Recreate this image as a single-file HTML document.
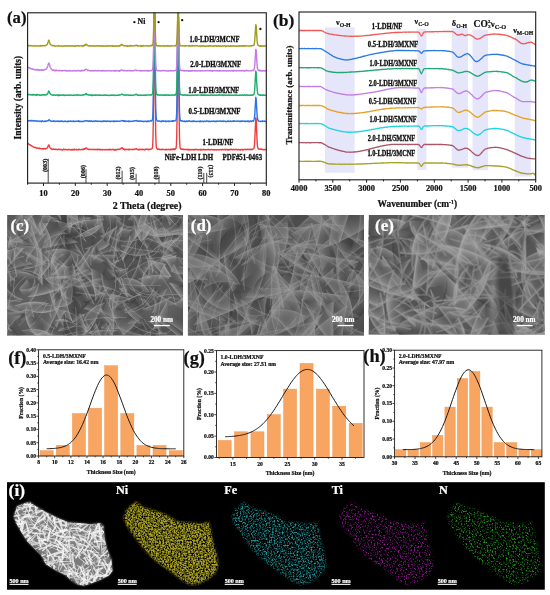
<!DOCTYPE html>
<html><head><meta charset="utf-8"><title>Figure</title>
<style>html,body{margin:0;padding:0;background:#fff;}svg{display:block;}text{font-family:'Liberation Serif','Times New Roman',serif;stroke:#111;stroke-width:0.22px;}text.w{stroke:#fff;}</style>
</head><body>
<svg width="550" height="595" viewBox="0 0 550 595">
<defs><linearGradient id="g1" x1="0" y1="0" x2="0" y2="1"><stop offset="0" stop-color="#c8c8c8" stop-opacity="0.7"/><stop offset="0.3" stop-color="#a0a0a0" stop-opacity="0.42"/><stop offset="1" stop-color="#888" stop-opacity="0.0"/></linearGradient><linearGradient id="g2" x1="0" y1="0" x2="0" y2="1"><stop offset="0" stop-color="#bababa" stop-opacity="0.62"/><stop offset="0.3" stop-color="#989898" stop-opacity="0.38"/><stop offset="1" stop-color="#808080" stop-opacity="0.0"/></linearGradient><linearGradient id="g3" x1="0" y1="0" x2="0" y2="1"><stop offset="0" stop-color="#b0b0b0" stop-opacity="0.6"/><stop offset="0.4" stop-color="#909090" stop-opacity="0.35"/><stop offset="1" stop-color="#787878" stop-opacity="0.0"/></linearGradient><linearGradient id="g4" x1="0" y1="0" x2="0" y2="1"><stop offset="0" stop-color="#404040" stop-opacity="0.0"/><stop offset="0.6" stop-color="#505050" stop-opacity="0.3"/><stop offset="1" stop-color="#303030" stop-opacity="0.5"/></linearGradient>
<filter id="sblur" x="-20%" y="-20%" width="140%" height="140%"><feGaussianBlur stdDeviation="6"/></filter>
<filter id="lblur" x="-5%" y="-5%" width="110%" height="110%"><feGaussianBlur stdDeviation="0.35"/></filter>
<filter id="fblur" x="-5%" y="-5%" width="110%" height="110%"><feGaussianBlur stdDeviation="0.6"/></filter>
<filter id="fblur3" x="-5%" y="-5%" width="110%" height="110%"><feGaussianBlur stdDeviation="1.1"/></filter>
<filter id="fblur4" x="-5%" y="-5%" width="110%" height="110%"><feGaussianBlur stdDeviation="0.9"/></filter>
<filter id="fblur2" x="-20%" y="-20%" width="140%" height="140%"><feGaussianBlur stdDeviation="2"/></filter>
<filter id="mblur" x="-10%" y="-10%" width="120%" height="120%"><feGaussianBlur stdDeviation="1.3"/></filter>
<filter id="glow" x="-10%" y="-10%" width="120%" height="120%"><feGaussianBlur stdDeviation="1.2"/></filter>
<filter id="semnoise" x="0" y="0" width="1" height="1"><feTurbulence type="fractalNoise" baseFrequency="0.08" numOctaves="3" seed="4"/><feColorMatrix type="matrix" values="0 0 0 0 1  0 0 0 0 1  0 0 0 0 1  1.2 0 0 0 -0.45"/></filter>
<filter id="nNi" x="0" y="0" width="1" height="1"><feTurbulence type="fractalNoise" baseFrequency="0.62" numOctaves="3" seed="3" result="n"/><feColorMatrix in="n" type="matrix" values="0 0 0 0 0  0 0 0 0 0  0 0 0 0 0  2.6 0 0 0 -0.7" result="a"/><feGaussianBlur in="a" stdDeviation="0.35" result="b"/><feComposite in="SourceGraphic" in2="b" operator="in"/></filter><filter id="nFe" x="0" y="0" width="1" height="1"><feTurbulence type="fractalNoise" baseFrequency="0.62" numOctaves="3" seed="8" result="n"/><feColorMatrix in="n" type="matrix" values="0 0 0 0 0  0 0 0 0 0  0 0 0 0 0  3 0 0 0 -1.3" result="a"/><feGaussianBlur in="a" stdDeviation="0.35" result="b"/><feComposite in="SourceGraphic" in2="b" operator="in"/></filter><filter id="nTi" x="0" y="0" width="1" height="1"><feTurbulence type="fractalNoise" baseFrequency="0.62" numOctaves="3" seed="12" result="n"/><feColorMatrix in="n" type="matrix" values="0 0 0 0 0  0 0 0 0 0  0 0 0 0 0  3.4 0 0 0 -1.7" result="a"/><feGaussianBlur in="a" stdDeviation="0.35" result="b"/><feComposite in="SourceGraphic" in2="b" operator="in"/></filter><filter id="nN" x="0" y="0" width="1" height="1"><feTurbulence type="fractalNoise" baseFrequency="0.62" numOctaves="3" seed="17" result="n"/><feColorMatrix in="n" type="matrix" values="0 0 0 0 0  0 0 0 0 0  0 0 0 0 0  3.4 0 0 0 -1.7" result="a"/><feGaussianBlur in="a" stdDeviation="0.35" result="b"/><feComposite in="SourceGraphic" in2="b" operator="in"/></filter></defs>
<rect width="550" height="595" fill="#fff"/>
<clipPath id="ca"><rect x="27.6" y="12.8" width="238.70000000000002" height="170.29999999999998"/></clipPath>
<polyline points="27.6,143.1 28,143.3 28.3,143.8 28.7,144.2 29,144.4 29.4,144.7 29.7,144.8 30.1,144.7 30.4,145.3 30.8,145.6 31.1,145.5 31.5,145.8 31.8,146 32.2,146.4 32.5,146.4 32.9,146.4 33.2,146.9 33.6,146.9 33.9,147.3 34.3,147.3 34.6,147.6 35,147.4 35.3,147.7 35.7,147.5 36,147.6 36.4,147.7 36.7,148.3 37.1,148 37.4,148 37.8,148 38.1,148.4 38.5,148.3 38.8,148.4 39.2,148.5 39.5,148.1 39.9,148.6 40.2,148.5 40.6,148.3 40.9,148.7 41.3,148.6 41.6,148.6 42,148.7 42.3,149 42.7,148.7 43,148.5 43.4,149.1 43.7,148.6 44.1,148.8 44.4,148.9 44.8,148.4 45.1,148.6 45.5,149 45.8,148.7 46.2,148.5 46.5,148.5 46.9,148.2 47.2,148 47.6,147.4 47.9,146.5 48.3,146 48.6,144.9 49,145 49.3,145.7 49.7,147 50,147.7 50.4,148.1 50.7,148.3 51.1,148.4 51.4,149.1 51.8,149.1 52.1,148.9 52.5,149.5 52.8,149.3 53.2,149.2 53.5,149 53.9,149.1 54.2,149.4 54.6,149.4 54.9,149.4 55.3,149.1 55.6,149.5 56,149.5 56.3,149.3 56.7,149.5 57,149.5 57.4,149.7 57.7,149.5 58.1,149.6 58.4,149.2 58.8,149.3 59.1,149.5 59.5,149.3 59.8,149.6 60.2,149.3 60.5,149.5 60.9,149.4 61.2,149.8 61.6,149.4 61.9,149.9 62.3,150 62.6,149.6 63,149.7 63.3,149.5 63.7,149.1 64,149.7 64.4,149.7 64.7,149.5 65.1,149.4 65.4,149.6 65.8,149.6 66.1,149.4 66.5,149.4 66.8,149.8 67.2,149.6 67.5,149.6 67.9,149.8 68.2,149.5 68.6,149.7 68.9,149.4 69.3,149.5 69.6,149.5 70,149.7 70.3,149.6 70.7,150 71,149.8 71.4,149.5 71.7,150 72.1,149.4 72.4,149.9 72.8,149.4 73.1,149.7 73.5,149.4 73.8,149.5 74.2,149.9 74.5,149.3 74.9,149.3 75.2,149.6 75.6,149.6 75.9,149.6 76.3,149.8 76.6,149.3 77,149.7 77.3,149.6 77.7,149.7 78,149.7 78.4,149.8 78.7,149.3 79.1,149.6 79.4,149.3 79.8,149.5 80.1,149.7 80.5,149.6 80.8,149.6 81.2,149.5 81.5,149.6 81.9,149.5 82.2,149.7 82.6,149.6 82.9,149 83.3,149.5 83.6,149.5 84,149.1 84.3,148.8 84.7,149.2 85,148.7 85.4,148.5 85.7,148.5 86.1,147.8 86.4,148.2 86.8,148.4 87.1,148.9 87.5,148.8 87.8,149.2 88.2,149.2 88.5,149.5 88.9,149.6 89.2,149.1 89.6,149.5 89.9,149.4 90.3,149.5 90.6,149.6 91,149.6 91.3,149.4 91.7,149.6 92,149.6 92.4,149.5 92.7,149.3 93.1,149.4 93.4,149.5 93.8,149.7 94.1,149.8 94.5,149.4 94.8,149.4 95.2,149.6 95.5,149.5 95.9,149.4 96.2,149.4 96.6,149.4 96.9,149.7 97.3,149.3 97.6,149.8 98,149.4 98.3,149.5 98.7,149.4 99,149.2 99.4,149.3 99.7,149.8 100.1,149.9 100.4,149.4 100.8,149.8 101.1,149.6 101.5,149.4 101.8,149.9 102.2,150 102.5,149.5 102.9,149.6 103.2,149.6 103.6,149.6 103.9,149.8 104.3,149.9 104.6,149.6 105,149.8 105.3,149.9 105.7,149.5 106,149.6 106.4,149.5 106.7,149.8 107.1,149.7 107.4,149.8 107.8,149.8 108.1,149.5 108.5,149.7 108.8,149.5 109.2,149.5 109.5,149.2 109.9,149.9 110.2,149.4 110.6,149.6 110.9,149.6 111.3,149.9 111.6,149.7 112,149.4 112.3,149.6 112.7,149.5 113,149.6 113.4,149.3 113.7,149.6 114.1,150 114.4,149.7 114.8,150 115.1,150.2 115.5,149.7 115.8,149.3 116.2,149.5 116.5,149.8 116.9,149.7 117.2,149.3 117.6,149.5 117.9,149.5 118.3,149.5 118.6,149.4 119,149.2 119.3,149.2 119.7,149.2 120,149.3 120.4,148.8 120.7,148.8 121.1,148.1 121.4,148.1 121.8,147.6 122.1,147.8 122.5,148.5 122.8,148.2 123.2,148.6 123.5,149.2 123.9,149 124.2,149.2 124.6,149.9 124.9,149.3 125.3,149.4 125.6,149.4 126,149.7 126.3,149.5 126.7,149.5 127,149.3 127.4,149.4 127.7,149.5 128.1,149.2 128.4,149.6 128.8,149.6 129.1,149.9 129.5,149.2 129.8,149.3 130.2,149.3 130.5,149.4 130.9,149.5 131.2,149.5 131.6,149.6 131.9,149.6 132.3,149.5 132.6,149.2 133,149.4 133.3,149.5 133.7,149.6 134,149.5 134.4,149 134.7,149.2 135.1,149.1 135.4,149.1 135.8,149 136.1,148.8 136.5,148.7 136.8,149.2 137.2,149.3 137.5,149.4 137.9,149.4 138.2,149.8 138.6,149.5 138.9,149.7 139.3,149.3 139.6,149.7 140,149.4 140.3,149.2 140.7,149.6 141,149.7 141.4,149.5 141.7,149.5 142.1,149.7 142.4,149.4 142.8,149.1 143.1,149.6 143.5,149.6 143.8,149.7 144.2,149.5 144.5,149.8 144.9,149.8 145.2,149.2 145.6,149.7 145.9,149.3 146.3,149.2 146.6,149.4 147,149.4 147.3,149.1 147.7,149.5 148,149.6 148.4,149.7 148.7,149.4 149.1,149.1 149.4,149.2 149.8,149.5 150.1,149.5 150.5,149.4 150.8,149.1 151.2,149.1 151.5,148.9 151.9,148.7 152.2,148.4 152.6,146.7 152.9,140.8 153.3,124.3 153.6,90.3 154,43.5 154.3,8.3 154.7,19.8 155,64.7 155.4,107.1 155.7,133.7 156.1,144.5 156.4,147.5 156.8,148.4 157.1,148.9 157.5,149.4 157.8,149.2 158.2,149.3 158.5,149.1 158.9,148.8 159.2,149.3 159.6,149.5 159.9,149.6 160.3,149.4 160.6,149.5 161,149.7 161.3,149.4 161.7,149.7 162,149.2 162.4,149.3 162.7,149.3 163.1,149.6 163.4,149.4 163.8,149.5 164.1,149.6 164.5,149.6 164.8,149.8 165.2,149.8 165.5,149.4 165.9,149.6 166.2,149.5 166.6,149.3 166.9,149.9 167.3,149.7 167.6,149.5 168,149.4 168.3,149.6 168.7,149.3 169,149.5 169.4,149.8 169.7,149.7 170.1,149.3 170.4,149.4 170.8,149.9 171.1,149.2 171.5,149.3 171.8,149.2 172.2,149.5 172.5,149.5 172.9,149.6 173.2,148.8 173.6,149.4 173.9,148.9 174.3,149.4 174.6,149.1 175,149.4 175.3,149 175.7,148.5 176,148.3 176.4,145.5 176.7,137.5 177.1,116.7 177.4,77.9 177.8,31.1 178.1,6 178.5,31.2 178.8,78 179.2,116.6 179.5,137.8 179.9,146 180.2,148.1 180.6,148.5 180.9,149.2 181.3,149.1 181.6,149.3 182,149.4 182.3,149.1 182.7,149.4 183,149.1 183.4,149.6 183.7,149.3 184.1,149.5 184.4,149.6 184.8,149.3 185.1,149.5 185.5,149.4 185.8,149.5 186.2,149.7 186.5,149.5 186.9,149.5 187.2,149.3 187.6,149.7 187.9,149.5 188.3,149.9 188.6,149.4 189,149.8 189.3,149.9 189.7,149.6 190,149.3 190.4,149.9 190.7,149.8 191.1,149.7 191.4,149.8 191.8,149.5 192.1,149.7 192.5,149.7 192.8,149.4 193.2,149.7 193.5,149.5 193.9,149.8 194.2,149.8 194.6,150 194.9,149.2 195.3,149.6 195.6,149.5 196,149.6 196.3,149.5 196.7,149.6 197,149.2 197.4,149.8 197.7,149.9 198.1,149.8 198.4,149.9 198.8,149.4 199.1,149.4 199.5,149.8 199.8,149.9 200.2,149.7 200.5,149.3 200.9,150.2 201.2,149.5 201.6,149.8 201.9,149.4 202.3,149.8 202.6,149.6 203,149.9 203.3,149.8 203.7,149.3 204,149.4 204.4,149.7 204.7,149.8 205.1,150 205.4,149.7 205.8,149.6 206.1,149.6 206.5,149.6 206.8,149.8 207.2,149.6 207.5,149.6 207.9,149.3 208.2,149.2 208.6,149.6 208.9,149.8 209.3,149.6 209.6,149.7 210,149.7 210.3,149.6 210.7,149.8 211,149.5 211.4,149.6 211.7,149.5 212.1,149.6 212.4,149.7 212.8,149.8 213.1,149.6 213.5,149.7 213.8,149.5 214.2,149.6 214.5,149.9 214.9,149.6 215.2,149.9 215.6,149.7 215.9,149.7 216.3,150 216.6,149.6 217,149.6 217.3,149.6 217.7,149.7 218,149.7 218.4,149.8 218.7,149.6 219.1,149.7 219.4,149.6 219.8,149.8 220.1,149.5 220.5,149.6 220.8,149.6 221.2,149.7 221.5,149.5 221.9,149.9 222.2,149.5 222.6,149.5 222.9,149.5 223.3,149.5 223.6,149.7 224,149.6 224.3,149.5 224.7,149.5 225,149.5 225.4,149.9 225.7,149.5 226.1,149.3 226.4,149.4 226.8,149.5 227.1,149.9 227.5,149.4 227.8,149.6 228.2,150.1 228.5,149.5 228.9,149.9 229.2,149.9 229.6,149.7 229.9,149.3 230.3,149.7 230.6,149.5 231,149.2 231.3,149.3 231.7,149.6 232,149.6 232.4,149.9 232.7,149.7 233.1,149.5 233.4,149.5 233.8,149.6 234.1,149.4 234.5,149.8 234.8,149.6 235.2,149.4 235.5,149.5 235.9,149.4 236.2,149.5 236.6,149.7 236.9,149.5 237.3,149.8 237.6,149.9 238,149.5 238.3,149.6 238.7,149.5 239,149.9 239.4,149.7 239.7,149.7 240.1,149.8 240.4,150.1 240.8,149.6 241.1,149.4 241.5,149.5 241.8,149.7 242.2,149.6 242.5,149.4 242.9,150.2 243.2,149.6 243.6,149.5 243.9,149.4 244.3,149.2 244.6,149.3 245,149.5 245.3,149.5 245.7,149.4 246,149.7 246.4,149.6 246.7,149.4 247.1,149.1 247.4,149.6 247.8,149.5 248.1,149.5 248.5,149.2 248.8,149.5 249.2,149.2 249.5,149.7 249.9,149.5 250.2,149.5 250.6,149.3 250.9,149.2 251.3,149.7 251.6,149.6 252,149.3 252.3,149.4 252.7,149.5 253,148.9 253.4,148.9 253.7,148.5 254.1,147.9 254.4,145.3 254.8,140.8 255.1,132.6 255.5,123.7 255.8,117.6 256.2,119.2 256.5,127.6 256.9,136.4 257.2,143.1 257.6,146.9 257.9,148.2 258.3,148.9 258.6,148.9 259,149.3 259.3,149.3 259.7,149.1 260,148.9 260.4,149 260.7,149.4 261.1,149.4 261.4,149.1 261.8,149.5 262.1,149.7 262.5,149.5 262.8,149.4 263.2,149.7 263.5,149.9 263.9,149.8 264.2,149.4 264.6,149.7 264.9,149.6 265.3,149.5 265.6,149.4 266,149.6 266.3,149.5" fill="none" stroke="#f23c3c" stroke-width="1.4" stroke-linejoin="round" clip-path="url(#ca)"/>
<polyline points="27.6,120.7 28,120.6 28.3,120.8 28.7,120.4 29,120.6 29.4,120.8 29.7,120.8 30.1,120.8 30.4,120.6 30.8,121.1 31.1,121 31.5,120.9 31.8,120.3 32.2,120.7 32.5,120.9 32.9,120.8 33.2,120.5 33.6,121 33.9,121 34.3,120.7 34.6,120.9 35,120.9 35.3,121.1 35.7,120.6 36,120.7 36.4,120.9 36.7,120.9 37.1,121.5 37.4,121 37.8,121.1 38.1,121 38.5,121 38.8,121.2 39.2,121.5 39.5,121.1 39.9,121.3 40.2,121.2 40.6,121.3 40.9,121.2 41.3,121.7 41.6,120.9 42,121.1 42.3,120.9 42.7,120.8 43,121.2 43.4,121.6 43.7,121.4 44.1,121.4 44.4,121.3 44.8,121.1 45.1,121.6 45.5,121.1 45.8,121.4 46.2,121 46.5,121.1 46.9,121.1 47.2,120.9 47.6,120.9 47.9,120.7 48.3,120.7 48.6,120.1 49,119.7 49.3,119.9 49.7,120.3 50,120.6 50.4,121.1 50.7,120.7 51.1,121.1 51.4,121.1 51.8,121.2 52.1,121.2 52.5,121.3 52.8,121.2 53.2,121.4 53.5,121.3 53.9,120.8 54.2,121.3 54.6,121.3 54.9,121.1 55.3,121.1 55.6,121.5 56,121.3 56.3,121.1 56.7,121.2 57,121.2 57.4,120.9 57.7,121.4 58.1,121.3 58.4,121.4 58.8,121 59.1,121.7 59.5,121.4 59.8,121.4 60.2,121.1 60.5,121.2 60.9,121 61.2,121.6 61.6,121.1 61.9,121.3 62.3,121.4 62.6,121.2 63,121.5 63.3,121.7 63.7,121.4 64,121.6 64.4,121.4 64.7,121.2 65.1,121.2 65.4,121 65.8,121.3 66.1,121.6 66.5,121.4 66.8,121.5 67.2,121.5 67.5,121.2 67.9,121.4 68.2,121.7 68.6,121.1 68.9,121.3 69.3,121.2 69.6,121.3 70,121.2 70.3,121.3 70.7,121 71,121.2 71.4,121.2 71.7,121.2 72.1,121.6 72.4,121.3 72.8,121.3 73.1,121.2 73.5,121.6 73.8,120.9 74.2,121.3 74.5,121.5 74.9,121.6 75.2,121.3 75.6,121.3 75.9,121.4 76.3,121.3 76.6,121.4 77,121.2 77.3,121.4 77.7,121.3 78,121.1 78.4,120.7 78.7,121.5 79.1,121.4 79.4,121.5 79.8,121.1 80.1,121.5 80.5,121.4 80.8,121.3 81.2,121.5 81.5,121.5 81.9,121.4 82.2,121.7 82.6,121.5 82.9,121.3 83.3,121.2 83.6,121.2 84,121.5 84.3,121.2 84.7,120.9 85,120.8 85.4,120.8 85.7,120.9 86.1,120.6 86.4,120.9 86.8,121.1 87.1,121.1 87.5,120.7 87.8,121.1 88.2,120.9 88.5,121.3 88.9,121 89.2,121.3 89.6,121.3 89.9,120.7 90.3,121.1 90.6,121.4 91,121.3 91.3,121.2 91.7,121 92,121.4 92.4,121.6 92.7,121.3 93.1,121.3 93.4,121.3 93.8,121 94.1,121.2 94.5,121.1 94.8,121.5 95.2,121.1 95.5,120.8 95.9,121.1 96.2,121.2 96.6,121.3 96.9,120.9 97.3,121.5 97.6,121.3 98,121.2 98.3,121.1 98.7,121.4 99,121.2 99.4,121.3 99.7,121.3 100.1,121.3 100.4,121.5 100.8,121.3 101.1,121.1 101.5,121.5 101.8,121.3 102.2,121.2 102.5,121.5 102.9,121.3 103.2,121.5 103.6,121.1 103.9,120.8 104.3,120.9 104.6,121.3 105,121.1 105.3,121.3 105.7,121.3 106,121 106.4,121.6 106.7,121.1 107.1,121.3 107.4,121 107.8,121.3 108.1,121.4 108.5,121.2 108.8,121.1 109.2,121.3 109.5,121.2 109.9,121.4 110.2,121.7 110.6,121.1 110.9,121.1 111.3,121.3 111.6,121.3 112,121.1 112.3,121.4 112.7,121.4 113,121.3 113.4,121 113.7,121.6 114.1,121 114.4,121.4 114.8,121.5 115.1,121 115.5,121.3 115.8,121.5 116.2,121.3 116.5,121.1 116.9,121 117.2,121.4 117.6,121.2 117.9,121.1 118.3,121.4 118.6,121.2 119,121.2 119.3,121.3 119.7,121.3 120,121.1 120.4,121.1 120.7,121.1 121.1,121 121.4,120.5 121.8,120.6 122.1,120.6 122.5,120.6 122.8,120.9 123.2,120.6 123.5,121.3 123.9,121 124.2,121.3 124.6,120.8 124.9,120.9 125.3,121.6 125.6,121.4 126,121.1 126.3,121.1 126.7,121.1 127,121.3 127.4,121.2 127.7,121.1 128.1,121.3 128.4,121 128.8,121.7 129.1,121.1 129.5,121.5 129.8,121.1 130.2,121.3 130.5,121.4 130.9,121.2 131.2,121.4 131.6,121.4 131.9,121.6 132.3,121.2 132.6,121.1 133,121 133.3,121.2 133.7,120.9 134,121.1 134.4,121.1 134.7,120.9 135.1,120.6 135.4,120.8 135.8,120.6 136.1,120.5 136.5,120.6 136.8,121 137.2,120.7 137.5,121.1 137.9,121 138.2,121.3 138.6,121.1 138.9,121.1 139.3,121.3 139.6,120.8 140,121.1 140.3,120.9 140.7,121 141,121.4 141.4,121.3 141.7,121.2 142.1,121.2 142.4,121.2 142.8,121.3 143.1,121.6 143.5,121.3 143.8,121.7 144.2,121.2 144.5,121.4 144.9,121.4 145.2,121.3 145.6,121.2 145.9,121.5 146.3,121.6 146.6,121.4 147,121.6 147.3,121.4 147.7,120.9 148,121.4 148.4,121 148.7,121.4 149.1,121.1 149.4,121.2 149.8,121.1 150.1,120.9 150.5,120.6 150.8,120.9 151.2,120.9 151.5,121 151.9,120.5 152.2,120.3 152.6,118.8 152.9,114.3 153.3,100.6 153.6,74.2 154,36.5 154.3,7.7 154.7,17.2 155,53 155.4,87.3 155.7,108.5 156.1,117 156.4,119.2 156.8,120.2 157.1,120.9 157.5,121 157.8,121 158.2,120.8 158.5,121.2 158.9,121.2 159.2,120.9 159.6,120.9 159.9,121.2 160.3,121.4 160.6,121.5 161,121.3 161.3,121.7 161.7,121 162,121.3 162.4,121.1 162.7,120.8 163.1,121 163.4,121.5 163.8,121 164.1,121 164.5,121.4 164.8,121.4 165.2,121.3 165.5,121.6 165.9,120.9 166.2,121.7 166.6,121.5 166.9,121.3 167.3,121.3 167.6,121.2 168,121.2 168.3,121.3 168.7,121 169,121.7 169.4,121.2 169.7,121.4 170.1,121.2 170.4,121.2 170.8,121.4 171.1,121.3 171.5,121 171.8,121.1 172.2,121.3 172.5,120.7 172.9,120.6 173.2,121.4 173.6,121 173.9,120.5 174.3,120.8 174.6,120.9 175,120.9 175.3,120.9 175.7,120.6 176,120.2 176.4,118 176.7,111.8 177.1,94.8 177.4,63.9 177.8,26.1 178.1,6.2 178.5,26.2 178.8,63.4 179.2,94.7 179.5,111.6 179.9,118.1 180.2,120 180.6,120.6 180.9,120.8 181.3,120.7 181.6,121.2 182,120.7 182.3,121 182.7,121.2 183,121.2 183.4,121.3 183.7,121.1 184.1,121.3 184.4,120.9 184.8,121.4 185.1,121.7 185.5,121.4 185.8,121.6 186.2,121.2 186.5,121 186.9,121.1 187.2,121.5 187.6,121.4 187.9,120.9 188.3,121.2 188.6,121.3 189,121 189.3,120.7 189.7,121 190,121.2 190.4,121.2 190.7,121.1 191.1,121.4 191.4,121.5 191.8,121.3 192.1,121.5 192.5,121.3 192.8,121.3 193.2,120.8 193.5,121.5 193.9,121.3 194.2,121.3 194.6,121.2 194.9,121.1 195.3,121.4 195.6,121.5 196,121.6 196.3,121.5 196.7,121.2 197,121.3 197.4,121.5 197.7,121.4 198.1,121.3 198.4,121.2 198.8,121.4 199.1,121.3 199.5,121.7 199.8,121.5 200.2,120.9 200.5,121.7 200.9,121.4 201.2,121.2 201.6,121.4 201.9,121.5 202.3,121.3 202.6,121.3 203,121.3 203.3,121.7 203.7,121.3 204,121.5 204.4,121.4 204.7,121.2 205.1,121.2 205.4,121.1 205.8,121.4 206.1,121.1 206.5,121 206.8,121.1 207.2,121 207.5,121.3 207.9,121.3 208.2,121.1 208.6,121.6 208.9,121.2 209.3,121.4 209.6,121.4 210,121.7 210.3,121.5 210.7,121.3 211,121.1 211.4,121.1 211.7,121.3 212.1,121.3 212.4,121.5 212.8,121.2 213.1,121.3 213.5,121.2 213.8,120.9 214.2,121.3 214.5,121.6 214.9,121.5 215.2,121.6 215.6,121.5 215.9,121 216.3,121.2 216.6,121.6 217,121.2 217.3,121 217.7,121.4 218,121.4 218.4,121.4 218.7,121.2 219.1,121.2 219.4,121 219.8,121 220.1,121 220.5,121 220.8,121.2 221.2,121.6 221.5,121.3 221.9,121.2 222.2,121.4 222.6,121.1 222.9,121.4 223.3,121.5 223.6,121 224,121.2 224.3,121.2 224.7,121.1 225,121.1 225.4,121.2 225.7,121.8 226.1,121.4 226.4,121.4 226.8,121.5 227.1,121.3 227.5,121 227.8,121.4 228.2,121.5 228.5,120.9 228.9,121.4 229.2,121.6 229.6,121.2 229.9,121.2 230.3,121.4 230.6,121.1 231,121.4 231.3,121.5 231.7,121.3 232,121.1 232.4,121.4 232.7,121.2 233.1,121.3 233.4,120.7 233.8,121.4 234.1,121 234.5,121.3 234.8,121.3 235.2,121.1 235.5,121.1 235.9,121 236.2,121.2 236.6,121.4 236.9,121.4 237.3,121.2 237.6,121.2 238,121 238.3,121.2 238.7,121.1 239,121 239.4,121.3 239.7,121.6 240.1,121.5 240.4,121.6 240.8,121 241.1,121.5 241.5,121 241.8,121.2 242.2,120.9 242.5,121.1 242.9,121.3 243.2,121.3 243.6,121.3 243.9,121.2 244.3,121.4 244.6,121.3 245,120.9 245.3,121.6 245.7,121.2 246,121.5 246.4,121.2 246.7,121.1 247.1,121.3 247.4,121.1 247.8,121.6 248.1,121 248.5,121.4 248.8,121.1 249.2,121.2 249.5,121.8 249.9,121.4 250.2,121.2 250.6,120.9 250.9,121.1 251.3,121.1 251.6,121.4 252,120.8 252.3,120.7 252.7,121 253,121 253.4,121.2 253.7,120.4 254.1,119.4 254.4,118.2 254.8,114.5 255.1,108.8 255.5,102.2 255.8,97.3 256.2,99.2 256.5,105 256.9,111.6 257.2,116.4 257.6,119.1 257.9,120.2 258.3,120.9 258.6,121.2 259,121 259.3,121.2 259.7,121.4 260,121.4 260.4,121.3 260.7,121.6 261.1,121.5 261.4,121.5 261.8,121.2 262.1,121.1 262.5,120.8 262.8,121.5 263.2,121.4 263.5,121.1 263.9,121.3 264.2,121.3 264.6,120.9 264.9,121.3 265.3,121.5 265.6,121.5 266,121.2 266.3,121.2" fill="none" stroke="#2b73e6" stroke-width="1.4" stroke-linejoin="round" clip-path="url(#ca)"/>
<polyline points="27.6,94.6 28,94.6 28.3,94.4 28.7,94.4 29,94.7 29.4,94.5 29.7,94.5 30.1,94.9 30.4,94.7 30.8,94.6 31.1,94.8 31.5,95.1 31.8,94.8 32.2,94.6 32.5,94.5 32.9,95.2 33.2,94.4 33.6,95 33.9,94.7 34.3,94.6 34.6,94.7 35,94.9 35.3,95.1 35.7,94.8 36,95.1 36.4,95.4 36.7,94.4 37.1,94.8 37.4,94.6 37.8,95.1 38.1,94.7 38.5,94.7 38.8,94.7 39.2,95 39.5,95.2 39.9,95 40.2,95.4 40.6,95.3 40.9,95 41.3,95.2 41.6,95 42,95 42.3,94.7 42.7,94.8 43,95 43.4,94.8 43.7,95.1 44.1,95 44.4,94.8 44.8,95.1 45.1,94.9 45.5,95.1 45.8,94.7 46.2,94.4 46.5,94.7 46.9,94.3 47.2,94.3 47.6,93.9 47.9,93.2 48.3,91.9 48.6,90.9 49,91.2 49.3,92.1 49.7,92.8 50,93.7 50.4,93.9 50.7,94.3 51.1,94.5 51.4,94.6 51.8,94.9 52.1,94.9 52.5,95.2 52.8,95 53.2,95.2 53.5,95 53.9,95.2 54.2,95 54.6,95 54.9,95.3 55.3,95.2 55.6,95.3 56,95 56.3,94.8 56.7,95 57,95.2 57.4,94.9 57.7,95.4 58.1,94.9 58.4,95.3 58.8,95.7 59.1,94.7 59.5,94.9 59.8,95.3 60.2,95.1 60.5,95.2 60.9,95.1 61.2,95.4 61.6,95.3 61.9,95.1 62.3,95.1 62.6,95 63,95.2 63.3,94.8 63.7,95.3 64,95.1 64.4,95.5 64.7,95.4 65.1,94.9 65.4,95.3 65.8,95.1 66.1,95.2 66.5,95.4 66.8,95.2 67.2,95.3 67.5,95.3 67.9,95 68.2,95.1 68.6,95.3 68.9,95.3 69.3,95.1 69.6,95.2 70,95 70.3,94.7 70.7,95 71,95.2 71.4,95.2 71.7,95.3 72.1,95.3 72.4,95.4 72.8,95.3 73.1,95.3 73.5,95 73.8,95.3 74.2,95.2 74.5,95.4 74.9,94.9 75.2,95.1 75.6,94.9 75.9,95 76.3,94.9 76.6,95.2 77,95 77.3,94.7 77.7,95.4 78,95 78.4,94.9 78.7,95.1 79.1,95 79.4,94.9 79.8,95.3 80.1,95.1 80.5,95.3 80.8,95.3 81.2,95.2 81.5,95.1 81.9,95.1 82.2,95 82.6,95.3 82.9,94.7 83.3,94.8 83.6,94.8 84,95 84.3,94.8 84.7,94.6 85,94.4 85.4,94.6 85.7,93.9 86.1,93.5 86.4,94.5 86.8,94.1 87.1,94.5 87.5,94.7 87.8,94.6 88.2,95.1 88.5,94.9 88.9,94.7 89.2,95.1 89.6,95.1 89.9,95.1 90.3,95.2 90.6,94.8 91,95.3 91.3,95 91.7,95.4 92,95 92.4,95.2 92.7,95.6 93.1,95.2 93.4,95.4 93.8,95.2 94.1,94.9 94.5,95.4 94.8,95.4 95.2,94.9 95.5,95.2 95.9,94.9 96.2,95.1 96.6,95.3 96.9,95.2 97.3,95 97.6,95 98,95.2 98.3,95.2 98.7,95.2 99,95.3 99.4,94.8 99.7,95.2 100.1,95.4 100.4,95.3 100.8,95.1 101.1,95.1 101.5,95.2 101.8,95.3 102.2,95.2 102.5,95.5 102.9,95.4 103.2,95 103.6,95.3 103.9,95.1 104.3,95 104.6,95.1 105,95.2 105.3,94.8 105.7,95.1 106,95.3 106.4,95.1 106.7,95.1 107.1,95.3 107.4,95.2 107.8,95.2 108.1,95.6 108.5,95.2 108.8,95.2 109.2,95.3 109.5,95.5 109.9,95.3 110.2,95.2 110.6,95.2 110.9,95.4 111.3,95.1 111.6,95.4 112,95.2 112.3,94.9 112.7,95.3 113,95.3 113.4,95 113.7,95.2 114.1,95.2 114.4,95.1 114.8,95 115.1,95.6 115.5,95.3 115.8,95.4 116.2,95.4 116.5,95.3 116.9,95.3 117.2,95.1 117.6,95.3 117.9,95.1 118.3,95 118.6,95.2 119,95.1 119.3,94.8 119.7,95 120,95.1 120.4,94.9 120.7,94.9 121.1,94.5 121.4,94.2 121.8,94.3 122.1,94.3 122.5,94.3 122.8,94.8 123.2,94.8 123.5,95.1 123.9,95.1 124.2,95.1 124.6,94.7 124.9,95.2 125.3,95.2 125.6,95.2 126,95.2 126.3,95 126.7,95.1 127,94.8 127.4,95.1 127.7,94.9 128.1,95.1 128.4,95 128.8,95.4 129.1,95.2 129.5,95.2 129.8,95.2 130.2,95.5 130.5,95 130.9,95.2 131.2,95.2 131.6,95.2 131.9,95.2 132.3,95.1 132.6,95.3 133,95.3 133.3,95 133.7,95 134,95.1 134.4,95.1 134.7,95 135.1,94.8 135.4,94.4 135.8,94.6 136.1,94.1 136.5,94.4 136.8,94.8 137.2,94.7 137.5,95.2 137.9,95.3 138.2,95.3 138.6,95.1 138.9,95.2 139.3,95.2 139.6,95.1 140,95.5 140.3,95 140.7,95.4 141,95.3 141.4,95.2 141.7,95.4 142.1,95.4 142.4,95.3 142.8,95.2 143.1,95 143.5,95.1 143.8,95.3 144.2,95.3 144.5,95.3 144.9,95.1 145.2,95.5 145.6,94.9 145.9,95.2 146.3,95.3 146.6,95.1 147,94.9 147.3,95.1 147.7,94.9 148,95.1 148.4,94.9 148.7,94.9 149.1,95.1 149.4,94.8 149.8,95 150.1,95 150.5,95.1 150.8,95 151.2,94.7 151.5,95 151.9,94.6 152.2,94.3 152.6,93.3 152.9,90.2 153.3,79.5 153.6,58.3 154,29.7 154.3,7.5 154.7,15 155,42.1 155.4,69 155.7,84.9 156.1,92.2 156.4,93.9 156.8,94.6 157.1,94.6 157.5,95 157.8,95 158.2,94.6 158.5,95.1 158.9,95.1 159.2,95.1 159.6,95.2 159.9,94.9 160.3,94.8 160.6,95.2 161,95.4 161.3,94.9 161.7,94.9 162,95 162.4,94.9 162.7,95.3 163.1,95.2 163.4,95.4 163.8,95.4 164.1,95 164.5,95.3 164.8,94.7 165.2,95.1 165.5,95.3 165.9,95 166.2,94.8 166.6,95.1 166.9,95.4 167.3,95.1 167.6,94.9 168,95.2 168.3,95.3 168.7,95 169,95.1 169.4,95.3 169.7,95.2 170.1,95.3 170.4,95.1 170.8,95.1 171.1,94.9 171.5,95 171.8,95.4 172.2,95 172.5,94.9 172.9,95 173.2,94.9 173.6,95.1 173.9,95.2 174.3,94.8 174.6,95.1 175,95.2 175.3,94.6 175.7,94.8 176,94.3 176.4,93 176.7,88 177.1,74.9 177.4,50.7 177.8,21.5 178.1,6.4 178.5,21.4 178.8,50.8 179.2,74.8 179.5,87.6 179.9,92.8 180.2,94.5 180.6,94.3 180.9,94.9 181.3,94.8 181.6,94.9 182,94.7 182.3,95.1 182.7,94.9 183,95.2 183.4,94.9 183.7,95.2 184.1,95.2 184.4,94.8 184.8,95.1 185.1,95.1 185.5,94.7 185.8,95.1 186.2,95.3 186.5,95 186.9,95.4 187.2,95 187.6,94.9 187.9,95.3 188.3,95.3 188.6,95.1 189,95.2 189.3,95.3 189.7,95.1 190,95.5 190.4,95.3 190.7,95.2 191.1,95.2 191.4,95.1 191.8,95.4 192.1,95.1 192.5,95.2 192.8,95.3 193.2,95.4 193.5,95.4 193.9,95.1 194.2,95.4 194.6,95.2 194.9,95 195.3,95 195.6,94.9 196,95.2 196.3,95.4 196.7,95 197,95.1 197.4,95 197.7,95.2 198.1,95 198.4,95 198.8,95.1 199.1,95.1 199.5,95.1 199.8,95.1 200.2,95.1 200.5,95 200.9,95.3 201.2,94.9 201.6,95.2 201.9,95 202.3,95.2 202.6,95.2 203,94.8 203.3,95.2 203.7,95.4 204,95.3 204.4,95.2 204.7,94.8 205.1,95.2 205.4,95 205.8,95.4 206.1,95.1 206.5,95.1 206.8,94.9 207.2,95.3 207.5,95.1 207.9,95.1 208.2,95.4 208.6,95.2 208.9,95.2 209.3,95.6 209.6,95.1 210,95.1 210.3,95.3 210.7,95.4 211,94.9 211.4,95.1 211.7,95 212.1,94.9 212.4,95.3 212.8,95 213.1,95.2 213.5,95.2 213.8,95.2 214.2,95.2 214.5,95 214.9,95.2 215.2,95.2 215.6,95.2 215.9,95.1 216.3,95.4 216.6,95.3 217,95.2 217.3,95.3 217.7,95.2 218,95.3 218.4,94.8 218.7,95 219.1,95.1 219.4,95.2 219.8,94.8 220.1,95.1 220.5,95.2 220.8,95.1 221.2,95.1 221.5,94.9 221.9,95.2 222.2,94.8 222.6,95.4 222.9,95.1 223.3,95.4 223.6,94.9 224,95.3 224.3,95.2 224.7,95 225,95 225.4,95.4 225.7,95.3 226.1,95.4 226.4,95.2 226.8,95.2 227.1,95.3 227.5,95.3 227.8,95.3 228.2,95.3 228.5,95.1 228.9,94.9 229.2,95.5 229.6,95.2 229.9,95.3 230.3,95.1 230.6,95.4 231,95.2 231.3,95.4 231.7,95.1 232,95.2 232.4,95.2 232.7,95.1 233.1,95.2 233.4,95.5 233.8,95.1 234.1,95.1 234.5,95.2 234.8,95 235.2,95 235.5,95.4 235.9,95.3 236.2,94.9 236.6,94.9 236.9,95.3 237.3,95.4 237.6,95.3 238,95.3 238.3,95.5 238.7,95.2 239,95.4 239.4,95.4 239.7,95 240.1,95.3 240.4,95.2 240.8,95.1 241.1,95 241.5,95.2 241.8,95.2 242.2,95.3 242.5,94.9 242.9,95.1 243.2,95.4 243.6,95.2 243.9,95 244.3,95.1 244.6,94.8 245,94.9 245.3,95.3 245.7,95.2 246,95.4 246.4,95.1 246.7,95.1 247.1,94.7 247.4,95.1 247.8,95.5 248.1,95.3 248.5,95.1 248.8,95.4 249.2,95.3 249.5,95.2 249.9,95.1 250.2,95.1 250.6,95.3 250.9,94.9 251.3,95.2 251.6,95.1 252,95.3 252.3,95.1 252.7,94.8 253,95.1 253.4,94.7 253.7,94.4 254.1,93.9 254.4,92.1 254.8,88.7 255.1,82.3 255.5,75.3 255.8,70.9 256.2,72.7 256.5,78.7 256.9,85.2 257.2,90.1 257.6,93 257.9,94 258.3,94.7 258.6,94.8 259,94.9 259.3,94.9 259.7,95.3 260,94.8 260.4,94.8 260.7,95.3 261.1,95.3 261.4,95 261.8,95.2 262.1,95.5 262.5,95 262.8,95.1 263.2,95.2 263.5,94.8 263.9,95.1 264.2,95.3 264.6,95.1 264.9,95.3 265.3,95.3 265.6,95.1 266,95.3 266.3,95.3" fill="none" stroke="#1fae6e" stroke-width="1.4" stroke-linejoin="round" clip-path="url(#ca)"/>
<polyline points="27.6,67.1 28,67.4 28.3,67.5 28.7,67.7 29,67.9 29.4,67.9 29.7,68.2 30.1,68 30.4,68.7 30.8,68.6 31.1,68.9 31.5,68.9 31.8,68.8 32.2,68.7 32.5,69.2 32.9,69.1 33.2,69.3 33.6,69.4 33.9,69.6 34.3,69.4 34.6,69.8 35,69.5 35.3,69.6 35.7,69.8 36,69.9 36.4,70 36.7,69.4 37.1,70.1 37.4,69.6 37.8,69.8 38.1,70 38.5,70.2 38.8,69.8 39.2,69.7 39.5,70.2 39.9,70.1 40.2,69.9 40.6,70 40.9,69.7 41.3,70.2 41.6,70 42,70.3 42.3,69.7 42.7,70.2 43,70.4 43.4,70 43.7,70 44.1,69.6 44.4,69.9 44.8,69.8 45.1,69.6 45.5,69.2 45.8,69.3 46.2,68.9 46.5,68.6 46.9,68.3 47.2,67.5 47.6,66.6 47.9,65.7 48.3,64 48.6,63.5 49,63 49.3,63.9 49.7,65.4 50,66.7 50.4,67.6 50.7,68.1 51.1,68.6 51.4,69.1 51.8,69.3 52.1,69.8 52.5,69.8 52.8,70.3 53.2,69.9 53.5,70.1 53.9,70.3 54.2,70.1 54.6,70.2 54.9,70.9 55.3,70.4 55.6,70.7 56,70.3 56.3,70.1 56.7,70.6 57,70.5 57.4,70.6 57.7,70.5 58.1,70.5 58.4,70.4 58.8,70.8 59.1,70.4 59.5,70.8 59.8,70.6 60.2,70.5 60.5,70.5 60.9,70.8 61.2,70.8 61.6,70.8 61.9,70.7 62.3,70.5 62.6,70.9 63,70.6 63.3,70.6 63.7,70.6 64,70.6 64.4,70.4 64.7,70.6 65.1,70.6 65.4,70.6 65.8,70.4 66.1,71.1 66.5,70.5 66.8,70.8 67.2,70.8 67.5,70.9 67.9,71.1 68.2,70.8 68.6,70.9 68.9,70.7 69.3,71 69.6,70.5 70,70.7 70.3,70.8 70.7,70.9 71,70.9 71.4,71 71.7,70.9 72.1,70.8 72.4,70.8 72.8,71 73.1,70.8 73.5,70.9 73.8,70.7 74.2,70.4 74.5,70.6 74.9,70.8 75.2,71 75.6,71 75.9,71.1 76.3,70.6 76.6,70.9 77,70.7 77.3,70.9 77.7,70.7 78,70.5 78.4,70.9 78.7,70.8 79.1,70.9 79.4,70.6 79.8,70.9 80.1,70.9 80.5,71 80.8,71 81.2,70.6 81.5,70.2 81.9,70.8 82.2,70.5 82.6,70.6 82.9,70.8 83.3,70.6 83.6,70.5 84,70.5 84.3,69.9 84.7,70.4 85,69.8 85.4,69.5 85.7,69.4 86.1,69.2 86.4,69.2 86.8,69.6 87.1,69.8 87.5,70 87.8,70.7 88.2,70.1 88.5,70.1 88.9,70.4 89.2,70.4 89.6,70.9 89.9,70.7 90.3,70.8 90.6,70.8 91,70.5 91.3,70.9 91.7,70.7 92,71.1 92.4,70.8 92.7,70.7 93.1,70.9 93.4,70.9 93.8,70.4 94.1,71 94.5,70.9 94.8,70.9 95.2,70.5 95.5,70.4 95.9,70.7 96.2,70.9 96.6,70.8 96.9,70.6 97.3,70.9 97.6,70.5 98,70.5 98.3,70.8 98.7,70.7 99,70.6 99.4,70.5 99.7,71 100.1,70.6 100.4,70.8 100.8,70.9 101.1,70.8 101.5,70.8 101.8,71 102.2,71.1 102.5,71 102.9,70.5 103.2,70.4 103.6,70.7 103.9,70.6 104.3,70.9 104.6,70.8 105,70.7 105.3,71 105.7,71 106,70.8 106.4,70.8 106.7,71 107.1,70.7 107.4,70.8 107.8,70.6 108.1,70.8 108.5,70.8 108.8,70.8 109.2,70.8 109.5,70.9 109.9,70.9 110.2,70.6 110.6,70.7 110.9,70.6 111.3,71.1 111.6,70.9 112,70.9 112.3,70.8 112.7,70.9 113,70.9 113.4,70.6 113.7,70.7 114.1,71 114.4,70.5 114.8,70.6 115.1,70.9 115.5,70.6 115.8,70.9 116.2,70.6 116.5,70.8 116.9,70.9 117.2,70.8 117.6,70.9 117.9,70.7 118.3,70.7 118.6,70.7 119,70.8 119.3,71.3 119.7,70.6 120,70.9 120.4,70.5 120.7,70.2 121.1,70.2 121.4,70.2 121.8,70 122.1,70.1 122.5,70.3 122.8,70.5 123.2,70.7 123.5,70.4 123.9,70.6 124.2,70.5 124.6,70.7 124.9,70.7 125.3,70.8 125.6,70.6 126,70.6 126.3,70.7 126.7,70.9 127,70.9 127.4,70.5 127.7,70.8 128.1,70.8 128.4,70.5 128.8,70.6 129.1,70.7 129.5,70.8 129.8,70.3 130.2,70.7 130.5,70.7 130.9,70.8 131.2,71 131.6,71 131.9,70.7 132.3,70.7 132.6,70.8 133,70.9 133.3,70.9 133.7,70.7 134,70.9 134.4,70.4 134.7,70.3 135.1,69.9 135.4,70 135.8,70.1 136.1,70.1 136.5,70.7 136.8,70.4 137.2,70.5 137.5,70.4 137.9,70.5 138.2,70.5 138.6,70.6 138.9,70.6 139.3,70.5 139.6,70.9 140,70.8 140.3,71 140.7,70.5 141,70.5 141.4,70.6 141.7,71 142.1,70.7 142.4,70.8 142.8,70.7 143.1,70.8 143.5,70.7 143.8,70.8 144.2,70.6 144.5,70.7 144.9,70.8 145.2,70.8 145.6,70.8 145.9,70.6 146.3,70.8 146.6,70.7 147,70.8 147.3,71 147.7,70.6 148,70.9 148.4,70.6 148.7,70.6 149.1,71 149.4,70.9 149.8,70.8 150.1,70.8 150.5,70.8 150.8,70.5 151.2,70.6 151.5,70.4 151.9,70.5 152.2,70.2 152.6,69.6 152.9,66.9 153.3,59.3 153.6,44.1 154,23.2 154.3,7.3 154.7,12.2 155,32.3 155.4,51.7 155.7,63.6 156.1,68.3 156.4,69.5 156.8,70.4 157.1,70.4 157.5,70.5 157.8,71 158.2,70.6 158.5,70.8 158.9,70.4 159.2,70.7 159.6,70.8 159.9,70.7 160.3,70.7 160.6,70.8 161,70.7 161.3,71 161.7,70.8 162,70.6 162.4,70.4 162.7,70.6 163.1,70.7 163.4,70.5 163.8,70.6 164.1,70.5 164.5,70.6 164.8,70.8 165.2,70.7 165.5,70.7 165.9,70.7 166.2,70.7 166.6,70.9 166.9,71.1 167.3,70.9 167.6,71.1 168,70.7 168.3,70.8 168.7,71.1 169,70.6 169.4,70.6 169.7,70.7 170.1,70.4 170.4,70.4 170.8,71 171.1,70.6 171.5,70.7 171.8,70.7 172.2,70.6 172.5,70.8 172.9,70.8 173.2,70.8 173.6,70.8 173.9,70.7 174.3,70.9 174.6,70.8 175,70.4 175.3,70.5 175.7,70.3 176,70.4 176.4,69.2 176.7,65.5 177.1,55.9 177.4,38.5 177.8,17.1 178.1,6 178.5,17.3 178.8,38.4 179.2,55.7 179.5,65.5 179.9,68.8 180.2,70 180.6,70.4 180.9,70.5 181.3,70.5 181.6,70.4 182,70.5 182.3,70.6 182.7,70.5 183,70.7 183.4,70.5 183.7,70.7 184.1,71.1 184.4,70.5 184.8,70.7 185.1,71 185.5,70.8 185.8,70.9 186.2,70.4 186.5,70.7 186.9,71 187.2,70.7 187.6,70.8 187.9,70.4 188.3,71 188.6,71.2 189,70.8 189.3,70.8 189.7,70.9 190,71.2 190.4,70.7 190.7,70.5 191.1,71.1 191.4,70.6 191.8,70.9 192.1,70.4 192.5,70.7 192.8,70.8 193.2,70.6 193.5,70.7 193.9,70.9 194.2,70.7 194.6,70.9 194.9,71.1 195.3,70.4 195.6,70.9 196,70.9 196.3,70.7 196.7,71.1 197,71 197.4,70.9 197.7,70.9 198.1,70.8 198.4,70.6 198.8,70.9 199.1,70.7 199.5,70.7 199.8,71 200.2,70.8 200.5,71 200.9,70.6 201.2,70.7 201.6,70.8 201.9,71 202.3,70.8 202.6,70.9 203,70.7 203.3,70.8 203.7,70.9 204,70.6 204.4,70.7 204.7,70.9 205.1,70.6 205.4,70.8 205.8,70.8 206.1,70.8 206.5,70.9 206.8,70.9 207.2,70.8 207.5,70.5 207.9,70.5 208.2,70.8 208.6,70.5 208.9,70.8 209.3,70.7 209.6,70.6 210,70.7 210.3,70.4 210.7,70.8 211,71 211.4,70.6 211.7,70.9 212.1,70.8 212.4,71.3 212.8,70.6 213.1,70.6 213.5,70.7 213.8,70.6 214.2,70.5 214.5,70.8 214.9,70.6 215.2,70.9 215.6,70.9 215.9,70.6 216.3,70.7 216.6,71 217,70.7 217.3,70.8 217.7,70.9 218,70.7 218.4,70.9 218.7,71.1 219.1,71 219.4,70.5 219.8,71.1 220.1,70.8 220.5,70.7 220.8,70.7 221.2,71 221.5,70.9 221.9,70.8 222.2,70.7 222.6,70.9 222.9,71 223.3,70.6 223.6,70.6 224,70.7 224.3,70.9 224.7,70.7 225,70.8 225.4,70.6 225.7,71 226.1,70.8 226.4,70.8 226.8,71 227.1,70.8 227.5,70.8 227.8,70.9 228.2,70.7 228.5,71 228.9,70.8 229.2,70.7 229.6,70.7 229.9,70.6 230.3,71 230.6,71.1 231,70.8 231.3,70.7 231.7,70.4 232,70.7 232.4,71 232.7,70.6 233.1,70.9 233.4,71.1 233.8,70.3 234.1,70.7 234.5,70.7 234.8,70.7 235.2,70.5 235.5,70.7 235.9,70.6 236.2,71 236.6,71 236.9,70.5 237.3,70.5 237.6,70.7 238,70.7 238.3,70.8 238.7,70.9 239,70.5 239.4,70.7 239.7,70.7 240.1,70.7 240.4,70.6 240.8,70.7 241.1,70.7 241.5,71 241.8,70.7 242.2,70.4 242.5,70.9 242.9,70.8 243.2,70.6 243.6,70.6 243.9,70.7 244.3,71.1 244.6,70.7 245,71 245.3,70.9 245.7,70.7 246,70.8 246.4,70.6 246.7,70.2 247.1,70.6 247.4,70.6 247.8,70.9 248.1,70.9 248.5,70.9 248.8,70.8 249.2,70.9 249.5,70.9 249.9,70.8 250.2,70.9 250.6,71 250.9,70.9 251.3,70.6 251.6,70.6 252,70.4 252.3,70.4 252.7,70.6 253,70.4 253.4,70.6 253.7,69.8 254.1,69.4 254.4,68.1 254.8,65.1 255.1,59.5 255.5,53.6 255.8,49.4 256.2,50.3 256.5,55.9 256.9,62.1 257.2,66.3 257.6,69.1 257.9,69.9 258.3,70.4 258.6,70.6 259,70.4 259.3,70.7 259.7,70.3 260,70.7 260.4,70.3 260.7,70.9 261.1,70.6 261.4,70.9 261.8,71 262.1,70.7 262.5,70.6 262.8,71 263.2,70.5 263.5,70.9 263.9,70.7 264.2,70.7 264.6,70.7 264.9,71.1 265.3,70.5 265.6,70.7 266,70.8 266.3,71" fill="none" stroke="#c77ae6" stroke-width="1.4" stroke-linejoin="round" clip-path="url(#ca)"/>
<polyline points="27.6,45.9 28,45.9 28.3,45.5 28.7,45.7 29,45.9 29.4,45.8 29.7,45.4 30.1,45.8 30.4,45.8 30.8,45.5 31.1,45.7 31.5,45.7 31.8,45.9 32.2,46 32.5,46 32.9,45.9 33.2,45.8 33.6,45.7 33.9,45.7 34.3,45.8 34.6,45.8 35,46 35.3,46.2 35.7,45.9 36,46 36.4,46 36.7,45.9 37.1,46.1 37.4,46.1 37.8,45.9 38.1,45.8 38.5,46 38.8,45.8 39.2,45.9 39.5,46 39.9,45.9 40.2,45.5 40.6,46 40.9,45.6 41.3,45.6 41.6,45.6 42,46 42.3,45.5 42.7,45.8 43,45.8 43.4,45.8 43.7,45.6 44.1,45.7 44.4,45.7 44.8,45.4 45.1,45.7 45.5,45.7 45.8,45.3 46.2,45.1 46.5,44.9 46.9,45 47.2,44.2 47.6,43.7 47.9,42.5 48.3,41.7 48.6,40.2 49,40.2 49.3,41.5 49.7,42.7 50,43.4 50.4,44.4 50.7,44.9 51.1,44.9 51.4,45.1 51.8,45.2 52.1,45.7 52.5,45.6 52.8,45.5 53.2,45.8 53.5,45.9 53.9,45.6 54.2,45.5 54.6,46 54.9,46.3 55.3,46.1 55.6,46.1 56,45.9 56.3,45.8 56.7,45.9 57,46 57.4,45.9 57.7,46.1 58.1,45.9 58.4,46 58.8,45.5 59.1,45.8 59.5,46.1 59.8,46.1 60.2,46 60.5,46.2 60.9,46.1 61.2,46.1 61.6,45.8 61.9,46 62.3,46.1 62.6,46.2 63,46.2 63.3,46 63.7,46 64,45.8 64.4,46.1 64.7,45.8 65.1,45.9 65.4,46 65.8,46.3 66.1,46.2 66.5,45.8 66.8,45.7 67.2,45.9 67.5,45.8 67.9,46 68.2,46 68.6,46.1 68.9,45.8 69.3,45.9 69.6,46 70,46 70.3,45.9 70.7,45.9 71,46.1 71.4,45.7 71.7,45.9 72.1,46 72.4,45.7 72.8,45.8 73.1,46 73.5,45.9 73.8,46.2 74.2,46.1 74.5,46.4 74.9,45.8 75.2,46.3 75.6,45.8 75.9,46.1 76.3,46.1 76.6,46 77,45.9 77.3,45.9 77.7,45.6 78,45.9 78.4,45.8 78.7,46.1 79.1,45.8 79.4,45.9 79.8,46 80.1,45.9 80.5,45.9 80.8,45.9 81.2,45.8 81.5,46 81.9,46 82.2,45.7 82.6,46.1 82.9,45.9 83.3,45.5 83.6,46.2 84,45.7 84.3,45.3 84.7,45.6 85,44.6 85.4,45.2 85.7,44.2 86.1,44.1 86.4,44.4 86.8,44.9 87.1,45.1 87.5,45.5 87.8,45.4 88.2,45.8 88.5,45.7 88.9,45.6 89.2,46 89.6,45.9 89.9,45.8 90.3,46.1 90.6,45.7 91,45.8 91.3,46.2 91.7,45.9 92,46.1 92.4,46.1 92.7,45.9 93.1,46.1 93.4,45.8 93.8,46.1 94.1,45.8 94.5,46 94.8,45.8 95.2,46.1 95.5,46.1 95.9,46.2 96.2,45.9 96.6,45.8 96.9,45.6 97.3,45.7 97.6,45.9 98,46 98.3,45.9 98.7,46 99,45.7 99.4,45.8 99.7,46.1 100.1,46.1 100.4,45.7 100.8,45.9 101.1,46 101.5,45.8 101.8,46.1 102.2,46 102.5,46.1 102.9,46.3 103.2,45.8 103.6,46.2 103.9,46.1 104.3,46.1 104.6,45.9 105,46 105.3,46 105.7,46.3 106,46 106.4,46.2 106.7,45.9 107.1,45.9 107.4,46 107.8,45.6 108.1,45.9 108.5,45.9 108.8,46 109.2,46 109.5,45.8 109.9,45.8 110.2,46.2 110.6,45.8 110.9,45.9 111.3,45.8 111.6,45.9 112,46.2 112.3,46.2 112.7,45.6 113,45.9 113.4,46.2 113.7,45.9 114.1,46 114.4,46.3 114.8,46.4 115.1,46.2 115.5,45.9 115.8,46 116.2,46 116.5,45.9 116.9,45.8 117.2,46.3 117.6,46 117.9,46 118.3,46.1 118.6,45.9 119,45.8 119.3,45.8 119.7,46 120,45.7 120.4,45.1 120.7,45.5 121.1,45.3 121.4,44.6 121.8,44.3 122.1,44.4 122.5,45.1 122.8,45 123.2,45.6 123.5,45.8 123.9,45.8 124.2,45.8 124.6,45.7 124.9,45.7 125.3,45.9 125.6,45.7 126,45.9 126.3,45.8 126.7,46.2 127,46.2 127.4,45.8 127.7,46.2 128.1,46 128.4,46 128.8,46 129.1,46 129.5,45.7 129.8,46.4 130.2,45.8 130.5,45.5 130.9,45.9 131.2,45.9 131.6,45.8 131.9,45.6 132.3,46.1 132.6,45.9 133,45.9 133.3,45.8 133.7,45.8 134,45.7 134.4,45.8 134.7,45.7 135.1,45.7 135.4,45.5 135.8,45.3 136.1,45.2 136.5,45.5 136.8,45.2 137.2,45.7 137.5,46 137.9,45.6 138.2,46 138.6,45.8 138.9,45.9 139.3,45.9 139.6,45.9 140,46 140.3,45.9 140.7,45.6 141,46.4 141.4,45.9 141.7,45.9 142.1,46.2 142.4,46.2 142.8,45.6 143.1,46 143.5,45.6 143.8,45.9 144.2,46 144.5,45.9 144.9,45.9 145.2,45.8 145.6,45.9 145.9,45.9 146.3,45.9 146.6,45.7 147,45.8 147.3,46.1 147.7,46.1 148,45.9 148.4,46.1 148.7,46 149.1,46.1 149.4,46 149.8,45.8 150.1,45.7 150.5,45.9 150.8,45.5 151.2,45.9 151.5,45.2 151.9,45.6 152.2,45.5 152.6,45.3 152.9,44.1 153.3,39 153.6,29.5 154,16.2 154.3,6.9 154.7,9.5 155,22.3 155.4,34 155.7,41.9 156.1,44.5 156.4,45.5 156.8,45.6 157.1,45.8 157.5,46 157.8,45.7 158.2,45.8 158.5,45.8 158.9,45.7 159.2,45.7 159.6,45.9 159.9,46.2 160.3,46.2 160.6,45.7 161,45.8 161.3,45.9 161.7,46 162,46 162.4,46 162.7,46 163.1,46.1 163.4,45.6 163.8,45.9 164.1,46.1 164.5,46.2 164.8,46.1 165.2,45.8 165.5,45.8 165.9,46 166.2,46 166.6,46 166.9,46.2 167.3,45.7 167.6,45.9 168,45.5 168.3,46.1 168.7,46 169,45.8 169.4,46 169.7,46.2 170.1,46.1 170.4,45.9 170.8,45.9 171.1,46 171.5,45.8 171.8,45.8 172.2,45.9 172.5,45.9 172.9,46 173.2,45.8 173.6,45.8 173.9,45.9 174.3,45.8 174.6,45.9 175,46.1 175.3,46 175.7,45.6 176,45.5 176.4,44.6 176.7,42.6 177.1,36.6 177.4,25.8 177.8,12.8 178.1,6.1 178.5,13 178.8,26 179.2,37 179.5,42.6 179.9,44.7 180.2,45.7 180.6,45.4 180.9,45.9 181.3,45.9 181.6,45.9 182,46 182.3,45.8 182.7,45.9 183,45.6 183.4,45.8 183.7,45.9 184.1,46 184.4,46.2 184.8,46 185.1,46.1 185.5,45.8 185.8,46 186.2,45.7 186.5,45.8 186.9,45.8 187.2,45.9 187.6,45.9 187.9,45.9 188.3,45.8 188.6,46.1 189,45.9 189.3,45.5 189.7,46 190,46 190.4,46.1 190.7,46.2 191.1,45.8 191.4,46 191.8,45.9 192.1,45.7 192.5,45.5 192.8,46.2 193.2,45.8 193.5,45.9 193.9,45.9 194.2,45.9 194.6,46 194.9,45.7 195.3,45.9 195.6,45.9 196,45.8 196.3,45.8 196.7,45.9 197,45.9 197.4,45.7 197.7,45.9 198.1,46 198.4,46.1 198.8,46.1 199.1,46.2 199.5,46 199.8,45.9 200.2,46.4 200.5,46 200.9,45.9 201.2,46 201.6,46.2 201.9,45.8 202.3,46.1 202.6,46.2 203,46.2 203.3,46 203.7,45.8 204,45.8 204.4,46 204.7,46.2 205.1,46.1 205.4,46.2 205.8,46 206.1,46.3 206.5,46 206.8,45.9 207.2,46 207.5,45.9 207.9,46.2 208.2,46.3 208.6,46.1 208.9,45.8 209.3,45.8 209.6,46.1 210,45.8 210.3,46.1 210.7,45.7 211,45.9 211.4,46.1 211.7,45.9 212.1,46.1 212.4,46.2 212.8,46.3 213.1,45.9 213.5,46 213.8,46 214.2,46.1 214.5,45.7 214.9,46.1 215.2,46.1 215.6,45.8 215.9,45.7 216.3,45.9 216.6,46.3 217,46.1 217.3,45.9 217.7,46 218,45.7 218.4,46.2 218.7,45.9 219.1,46.1 219.4,45.8 219.8,46 220.1,45.8 220.5,46.1 220.8,46.2 221.2,46.2 221.5,46.1 221.9,46.2 222.2,45.8 222.6,45.8 222.9,45.9 223.3,46.2 223.6,46 224,46.1 224.3,45.7 224.7,45.9 225,45.9 225.4,46.1 225.7,46.4 226.1,46.1 226.4,46.2 226.8,45.9 227.1,46 227.5,46.1 227.8,46.1 228.2,45.7 228.5,46.2 228.9,46.2 229.2,46 229.6,46.1 229.9,46.1 230.3,45.9 230.6,45.7 231,46.3 231.3,46 231.7,46 232,46 232.4,46 232.7,46.1 233.1,45.8 233.4,46.1 233.8,46 234.1,46 234.5,46 234.8,46 235.2,45.8 235.5,46 235.9,46 236.2,46 236.6,46.2 236.9,46.1 237.3,46.2 237.6,46 238,46.1 238.3,46.2 238.7,45.9 239,45.9 239.4,46.3 239.7,45.7 240.1,46 240.4,46 240.8,45.8 241.1,46 241.5,46.1 241.8,45.6 242.2,46.2 242.5,46 242.9,45.8 243.2,46.2 243.6,46 243.9,45.9 244.3,45.5 244.6,46.1 245,46 245.3,45.9 245.7,46 246,46.2 246.4,45.9 246.7,45.9 247.1,45.9 247.4,45.8 247.8,45.8 248.1,45.9 248.5,45.9 248.8,46.1 249.2,46 249.5,45.9 249.9,46 250.2,45.9 250.6,46.1 250.9,45.6 251.3,45.5 251.6,45.9 252,45.8 252.3,45.8 252.7,45.5 253,45.6 253.4,45.6 253.7,45.4 254.1,44.8 254.4,43.5 254.8,40 255.1,35.1 255.5,28.7 255.8,24.8 256.2,25.8 256.5,31.4 256.9,37.2 257.2,41.9 257.6,44 257.9,45.2 258.3,45.5 258.6,45.6 259,45.6 259.3,46.1 259.7,45.8 260,46.1 260.4,45.6 260.7,46.2 261.1,46.1 261.4,46.2 261.8,45.6 262.1,46.2 262.5,45.9 262.8,46 263.2,46.3 263.5,46 263.9,45.8 264.2,46 264.6,45.8 264.9,46 265.3,46 265.6,46 266,45.9 266.3,45.6" fill="none" stroke="#a39b1c" stroke-width="1.4" stroke-linejoin="round" clip-path="url(#ca)"/>
<rect x="27.6" y="12.8" width="238.70000000000002" height="170.29999999999998" fill="none" stroke="#1a1a1a" stroke-width="1.1"/>
<line x1="27.6" y1="183.1" x2="27.6" y2="184.7" stroke="#1a1a1a" stroke-width="1"/>
<line x1="43.5" y1="183.1" x2="43.5" y2="185.9" stroke="#1a1a1a" stroke-width="1"/>
<text x="43.5" y="195.6" font-size="8.4" text-anchor="middle" fill="#111" font-weight="bold">10</text>
<line x1="59.4" y1="183.1" x2="59.4" y2="184.7" stroke="#1a1a1a" stroke-width="1"/>
<line x1="75.3" y1="183.1" x2="75.3" y2="185.9" stroke="#1a1a1a" stroke-width="1"/>
<text x="75.3" y="195.6" font-size="8.4" text-anchor="middle" fill="#111" font-weight="bold">20</text>
<line x1="91.3" y1="183.1" x2="91.3" y2="184.7" stroke="#1a1a1a" stroke-width="1"/>
<line x1="107.2" y1="183.1" x2="107.2" y2="185.9" stroke="#1a1a1a" stroke-width="1"/>
<text x="107.2" y="195.6" font-size="8.4" text-anchor="middle" fill="#111" font-weight="bold">30</text>
<line x1="123.1" y1="183.1" x2="123.1" y2="184.7" stroke="#1a1a1a" stroke-width="1"/>
<line x1="139" y1="183.1" x2="139" y2="185.9" stroke="#1a1a1a" stroke-width="1"/>
<text x="139" y="195.6" font-size="8.4" text-anchor="middle" fill="#111" font-weight="bold">40</text>
<line x1="154.9" y1="183.1" x2="154.9" y2="184.7" stroke="#1a1a1a" stroke-width="1"/>
<line x1="170.8" y1="183.1" x2="170.8" y2="185.9" stroke="#1a1a1a" stroke-width="1"/>
<text x="170.8" y="195.6" font-size="8.4" text-anchor="middle" fill="#111" font-weight="bold">50</text>
<line x1="186.7" y1="183.1" x2="186.7" y2="184.7" stroke="#1a1a1a" stroke-width="1"/>
<line x1="202.6" y1="183.1" x2="202.6" y2="185.9" stroke="#1a1a1a" stroke-width="1"/>
<text x="202.6" y="195.6" font-size="8.4" text-anchor="middle" fill="#111" font-weight="bold">60</text>
<line x1="218.6" y1="183.1" x2="218.6" y2="184.7" stroke="#1a1a1a" stroke-width="1"/>
<line x1="234.5" y1="183.1" x2="234.5" y2="185.9" stroke="#1a1a1a" stroke-width="1"/>
<text x="234.5" y="195.6" font-size="8.4" text-anchor="middle" fill="#111" font-weight="bold">70</text>
<line x1="250.4" y1="183.1" x2="250.4" y2="184.7" stroke="#1a1a1a" stroke-width="1"/>
<line x1="266.3" y1="183.1" x2="266.3" y2="185.9" stroke="#1a1a1a" stroke-width="1"/>
<text x="266.3" y="195.6" font-size="8.4" text-anchor="middle" fill="#111" font-weight="bold">80</text>
<text x="147.1" y="208.6" font-size="9.9" text-anchor="middle" fill="#111" font-weight="bold">2 Theta (degree)</text>
<text transform="translate(20.8,97.6) rotate(-90)" font-size="9.5" text-anchor="middle" font-weight="bold" fill="#111">Intensity (arb. units)</text>
<text x="7" y="22.6" font-size="16.7" text-anchor="start" fill="#111" font-weight="bold">(a)</text>
<text x="189.4" y="41.6" font-size="7.3" text-anchor="start" fill="#111" font-weight="bold" textLength="50.1" lengthAdjust="spacingAndGlyphs" style="stroke-width:0.3px">1.0-LDH/3MCNF</text>
<text x="190.2" y="67.4" font-size="7.3" text-anchor="start" fill="#111" font-weight="bold" textLength="50.9" lengthAdjust="spacingAndGlyphs" style="stroke-width:0.3px">2.0-LDH/3MXNF</text>
<text x="188.3" y="93.2" font-size="7.3" text-anchor="start" fill="#111" font-weight="bold" textLength="50.9" lengthAdjust="spacingAndGlyphs" style="stroke-width:0.3px">1.0-LDH/3MXNF</text>
<text x="188.6" y="114.2" font-size="7.3" text-anchor="start" fill="#111" font-weight="bold" textLength="52" lengthAdjust="spacingAndGlyphs" style="stroke-width:0.3px">0.5-LDH/3MXNF</text>
<text x="202.4" y="144.7" font-size="7.3" text-anchor="start" fill="#111" font-weight="bold" textLength="31.1" lengthAdjust="spacingAndGlyphs" style="stroke-width:0.3px">1-LDH/NF</text>
<text x="164.8" y="160.4" font-size="7.4" text-anchor="start" fill="#111" font-weight="bold" textLength="48.3" lengthAdjust="spacingAndGlyphs" style="stroke-width:0.3px">NiFe-LDH LDH</text>
<text x="222.6" y="160.4" font-size="7.4" text-anchor="start" fill="#111" font-weight="bold" textLength="39.5" lengthAdjust="spacingAndGlyphs" style="stroke-width:0.3px">PDF#51-0463</text>
<text x="137.6" y="24.2" font-size="7.8" text-anchor="start" fill="#111" font-weight="bold">Ni</text>
<circle cx="134.4" cy="22.2" r="1.15" fill="#111"/>
<circle cx="158.6" cy="22.2" r="1.15" fill="#111"/>
<circle cx="182.2" cy="20.2" r="1.15" fill="#111"/>
<circle cx="260.4" cy="29.0" r="1.15" fill="#111"/>
<line x1="48.2" y1="158.7" x2="48.2" y2="183.1" stroke="#333" stroke-width="0.9"/>
<text transform="translate(45.3,165.4) rotate(-90)" font-size="6.1" text-anchor="middle" dominant-baseline="central" font-weight="bold" fill="#111">(003)</text>
<line x1="86.0" y1="169.2" x2="86.0" y2="183.1" stroke="#333" stroke-width="0.9"/>
<text transform="translate(82.7,171.6) rotate(-90)" font-size="6.1" text-anchor="middle" dominant-baseline="central" font-weight="bold" fill="#111">(006)</text>
<line x1="122.1" y1="170.7" x2="122.1" y2="183.1" stroke="#333" stroke-width="0.9"/>
<text transform="translate(117.8,173.0) rotate(-90)" font-size="6.1" text-anchor="middle" dominant-baseline="central" font-weight="bold" fill="#111">(012)</text>
<line x1="136.1" y1="173.8" x2="136.1" y2="183.1" stroke="#333" stroke-width="0.9"/>
<text transform="translate(132.4,173.5) rotate(-90)" font-size="6.1" text-anchor="middle" dominant-baseline="central" font-weight="bold" fill="#111">(015)</text>
<line x1="159.0" y1="174.9" x2="159.0" y2="183.1" stroke="#333" stroke-width="0.9"/>
<text transform="translate(155.6,173.0) rotate(-90)" font-size="6.1" text-anchor="middle" dominant-baseline="central" font-weight="bold" fill="#111">(018)</text>
<line x1="203.8" y1="172.9" x2="203.8" y2="183.1" stroke="#333" stroke-width="0.9"/>
<text transform="translate(199.9,173.0) rotate(-90)" font-size="6.1" text-anchor="middle" dominant-baseline="central" font-weight="bold" fill="#111">(110)</text>
<line x1="206.7" y1="172.9" x2="206.7" y2="183.1" stroke="#333" stroke-width="0.9"/>
<text transform="translate(210.5,171.1) rotate(90)" font-size="6.1" text-anchor="middle" dominant-baseline="central" font-weight="bold" fill="#111">(113)</text>
<clipPath id="cb"><rect x="299.0" y="12.0" width="236.70000000000005" height="167.8"/></clipPath>
<rect x="325" y="27.3" width="29.6" height="145.4" fill="#e5e6fa"/>
<rect x="417.3" y="29" width="9.1" height="141" fill="#e5e6fa"/>
<rect x="451.8" y="28" width="16.2" height="139.8" fill="#e5e6fa"/>
<rect x="472.5" y="29.6" width="15.5" height="140.6" fill="#e5e6fa"/>
<rect x="514.8" y="35.4" width="15.9" height="141.3" fill="#e5e6fa"/>
<polyline points="299,30.5 299.4,30.5 299.8,30.5 300.2,30.4 300.6,30.6 301,30.4 301.4,30.4 301.8,30.5 302.2,30.5 302.6,30.7 303,30.3 303.4,30.5 303.8,30.6 304.2,30.4 304.6,30.4 305,30.5 305.4,30.6 305.8,30.4 306.2,30.4 306.6,30.6 307,30.6 307.4,30.5 307.8,30.3 308.2,30.6 308.6,30.5 309,30.6 309.4,30.5 309.8,30.5 310.2,30.5 310.6,30.6 311,30.6 311.4,30.3 311.8,30.4 312.2,30.6 312.6,30.5 313,30.4 313.4,30.5 313.8,30.5 314.2,30.5 314.6,30.5 315,30.5 315.4,30.5 315.8,30.5 316.2,30.4 316.6,30.5 317,30.5 317.4,30.6 317.8,30.5 318.2,30.5 318.6,30.5 319,30.5 319.4,30.6 319.8,30.5 320.2,30.6 320.6,30.6 321,30.6 321.4,30.7 321.8,30.9 322.2,31 322.6,31.1 323,31.2 323.4,31.4 323.8,31.8 324.2,32 324.6,32.2 325,32.3 325.4,32.7 325.8,32.8 326.2,33 326.6,33.2 327,33.3 327.4,33.4 327.8,33.4 328.2,33.6 328.6,33.6 329,33.9 329.4,33.9 329.8,34.1 330.2,34.1 330.6,34.1 331,34.2 331.4,34.2 331.8,34.4 332.2,34.4 332.6,34.4 333,34.5 333.4,34.6 333.8,34.6 334.2,34.8 334.6,34.9 335,34.8 335.4,34.9 335.8,34.8 336.2,35 336.6,35 337,35 337.4,35.2 337.8,35.3 338.2,35.2 338.6,35.3 339,35.3 339.4,35.5 339.8,35.4 340.2,35.5 340.6,35.7 341,35.6 341.4,35.7 341.8,35.7 342.2,35.7 342.6,35.8 343,35.9 343.4,35.8 343.8,35.9 344.2,36 344.6,36.1 345,35.9 345.4,35.9 345.8,35.9 346.2,36.2 346.6,36.2 347,36.2 347.4,36.1 347.8,36.1 348.2,36.2 348.6,36.2 349,36.2 349.4,36.3 349.8,36.3 350.2,36.3 350.6,36.2 351,36.1 351.4,36.3 351.8,36.3 352.2,36.3 352.6,36.3 353,36.2 353.4,36.4 353.8,36.3 354.2,36.3 354.6,36.2 355,36.2 355.4,36.3 355.8,36.2 356.2,36.1 356.6,36.2 357,36.3 357.4,36.2 357.8,36.3 358.2,36.2 358.6,36.1 359,36 359.4,36.1 359.8,36.2 360.2,36.1 360.6,36.1 361,36.1 361.4,36 361.8,35.9 362.2,35.9 362.6,35.9 363,35.9 363.4,35.9 363.8,35.8 364.2,35.7 364.6,35.7 365,35.6 365.4,35.7 365.8,35.4 366.2,35.6 366.6,35.7 367,35.5 367.4,35.4 367.8,35.4 368.2,35.5 368.6,35.3 369,35.3 369.4,35.3 369.8,35.2 370.2,35.4 370.6,35.1 371,35 371.4,35 371.8,35 372.2,35 372.6,34.9 373,34.8 373.4,34.7 373.8,34.8 374.2,34.7 374.6,34.6 375,34.5 375.4,34.5 375.8,34.4 376.2,34.5 376.6,34.3 377,34.4 377.4,34.3 377.8,34.2 378.2,34.2 378.6,34.1 379,34.2 379.4,33.9 379.8,34 380.2,33.8 380.6,33.9 381,33.9 381.4,33.8 381.8,33.8 382.2,33.7 382.6,33.8 383,33.7 383.4,33.7 383.8,33.4 384.2,33.4 384.6,33.5 385,33.4 385.4,33.3 385.8,33.4 386.2,33.2 386.6,33.3 387,33.2 387.4,33.2 387.8,33.1 388.2,33.1 388.6,33 389,33.1 389.4,33.1 389.8,33 390.2,32.9 390.6,32.9 391,32.6 391.4,32.8 391.8,32.7 392.2,32.7 392.6,32.7 393,32.5 393.4,32.6 393.8,32.6 394.2,32.7 394.6,32.5 395,32.4 395.4,32.6 395.8,32.4 396.2,32.6 396.6,32.4 397,32.3 397.4,32.5 397.8,32.5 398.2,32.2 398.6,32.5 399,32.3 399.4,32.4 399.8,32.3 400.2,32.2 400.6,32.3 401,32.4 401.4,32.4 401.8,32.4 402.2,32.3 402.6,32.2 403,32.2 403.4,32.2 403.8,32.2 404.2,32.2 404.6,32 405,32.2 405.4,32.2 405.8,32.4 406.2,32.2 406.6,32.1 407,32.2 407.4,32.1 407.8,32.1 408.2,32 408.6,32.3 409,32.2 409.4,32 409.8,32.1 410.2,32.2 410.6,32.2 411,32.1 411.4,32 411.8,32.1 412.2,32.1 412.6,32.2 413,32 413.4,32 413.8,32.2 414.2,32 414.6,32.2 415,32.1 415.4,32.1 415.8,32.2 416.2,32.1 416.6,32.1 417,32 417.4,32 417.8,32.1 418.2,32.2 418.6,32.3 419,32.6 419.4,32.8 419.8,33.4 420.2,34.3 420.6,35.1 421,35.7 421.4,35.9 421.8,35.8 422.2,34.9 422.6,34.2 423,33.2 423.4,32.8 423.8,32.2 424.2,32.2 424.6,31.9 425,31.9 425.4,32 425.8,31.8 426.2,31.9 426.6,31.8 427,31.7 427.4,31.9 427.8,31.9 428.2,31.8 428.6,31.9 429,31.8 429.4,31.7 429.8,31.8 430.2,31.8 430.6,32 431,31.7 431.4,31.8 431.8,31.9 432.2,31.6 432.6,31.6 433,31.8 433.4,31.7 433.8,31.8 434.2,31.8 434.6,31.7 435,31.6 435.4,31.5 435.8,31.7 436.2,31.6 436.6,31.7 437,31.7 437.4,31.6 437.8,31.8 438.2,31.7 438.6,31.7 439,31.5 439.4,31.6 439.8,31.6 440.2,31.6 440.6,31.5 441,31.6 441.4,31.6 441.8,31.6 442.2,31.5 442.6,31.7 443,31.6 443.4,31.3 443.8,31.5 444.2,31.5 444.6,31.6 445,31.5 445.4,31.5 445.8,31.5 446.2,31.6 446.6,31.5 447,31.5 447.4,31.5 447.8,31.6 448.2,31.5 448.6,31.4 449,31.6 449.4,31.5 449.8,31.5 450.2,31.5 450.6,31.6 451,31.6 451.4,31.5 451.8,31.5 452.2,31.4 452.6,31.7 453,31.8 453.4,32.1 453.8,32.2 454.2,32.4 454.6,33 455,33.2 455.4,33.6 455.8,33.9 456.2,34.3 456.6,34.5 457,34.6 457.4,35 457.8,35 458.2,35.1 458.6,35.2 459,35.1 459.4,34.9 459.8,34.6 460.2,34.7 460.6,34.6 461,34.4 461.4,34.2 461.8,34.2 462.2,34.1 462.6,34.3 463,34.5 463.4,34.8 463.8,35 464.2,35.3 464.6,35.5 465,35.5 465.4,35.5 465.8,35.6 466.2,35.3 466.6,35.3 467,35 467.4,35 467.8,34.7 468.2,34.8 468.6,34.8 469,34.9 469.4,34.8 469.8,34.9 470.2,35 470.6,35.1 471,35.3 471.4,35.6 471.8,35.8 472.2,36.2 472.6,36.3 473,36.5 473.4,36.9 473.8,37.1 474.2,37.5 474.6,37.9 475,38.1 475.4,38.4 475.8,38.7 476.2,38.9 476.6,38.9 477,39.1 477.4,39.1 477.8,39.1 478.2,39.1 478.6,38.9 479,38.8 479.4,38.7 479.8,38.6 480.2,38.3 480.6,38 481,37.9 481.4,37.6 481.8,37.3 482.2,37.1 482.6,36.7 483,36.4 483.4,36.2 483.8,35.9 484.2,35.7 484.6,35.6 485,35.3 485.4,35.1 485.8,35.1 486.2,35.2 486.6,35 487,35 487.4,34.8 487.8,34.7 488.2,34.6 488.6,34.6 489,34.7 489.4,34.4 489.8,34.6 490.2,34.3 490.6,34.4 491,34.4 491.4,34.3 491.8,34.3 492.2,34.1 492.6,34.2 493,34.1 493.4,34.3 493.8,34.1 494.2,34.1 494.6,34 495,34.1 495.4,34 495.8,34.2 496.2,34.1 496.6,34.2 497,34.1 497.4,34.1 497.8,34.3 498.2,34.2 498.6,34.1 499,34.3 499.4,34.2 499.8,34.3 500.2,34.5 500.6,34.4 501,34.6 501.4,34.5 501.8,34.7 502.2,34.8 502.6,34.7 503,34.8 503.4,34.8 503.8,34.9 504.2,35.1 504.6,34.9 505,35.2 505.4,35.1 505.8,35.2 506.2,35.2 506.6,35.6 507,35.6 507.4,35.7 507.8,35.8 508.2,36 508.6,35.9 509,36.2 509.4,36.6 509.8,36.5 510.2,36.7 510.6,37 511,37 511.4,37.3 511.8,37.5 512.2,37.7 512.6,37.9 513,38 513.4,38.3 513.8,38.4 514.2,38.7 514.6,38.9 515,39 515.4,39 515.8,39.5 516.2,39.7 516.6,39.9 517,40.1 517.4,40.4 517.8,40.9 518.2,41.1 518.6,41.4 519,41.8 519.4,42.2 519.8,42.4 520.2,42.6 520.6,42.9 521,43.3 521.4,43.4 521.8,43.5 522.2,43.5 522.6,43.7 523,43.8 523.4,43.7 523.8,43.8 524.2,43.7 524.6,43.7 525,43.6 525.4,43.5 525.8,43.3 526.2,43.2 526.6,43.3 527,42.9 527.4,42.8 527.8,42.8 528.2,42.6 528.6,42.4 529,42.3 529.4,42.4 529.8,42.3 530.2,42.3 530.6,42.2 531,42.3 531.4,42.2 531.8,42.4 532.2,42.5 532.6,42.8 533,43.1 533.4,43.4 533.8,43.5 534.2,44 534.6,44.2 535,44.5 535.4,44.9" fill="none" stroke="#f25a5a" stroke-width="1.3" stroke-linejoin="round" clip-path="url(#cb)"/>
<polyline points="299,48.5 299.4,48.6 299.8,48.6 300.2,48.6 300.6,48.6 301,48.6 301.4,48.6 301.8,48.5 302.2,48.6 302.6,48.5 303,48.6 303.4,48.6 303.8,48.6 304.2,48.5 304.6,48.5 305,48.6 305.4,48.6 305.8,48.6 306.2,48.7 306.6,48.7 307,48.6 307.4,48.6 307.8,48.5 308.2,48.5 308.6,48.6 309,48.6 309.4,48.6 309.8,48.6 310.2,48.6 310.6,48.7 311,48.6 311.4,48.6 311.8,48.6 312.2,48.6 312.6,48.5 313,48.6 313.4,48.6 313.8,48.6 314.2,48.6 314.6,48.8 315,48.5 315.4,48.6 315.8,48.6 316.2,48.5 316.6,48.6 317,48.7 317.4,48.7 317.8,48.7 318.2,48.6 318.6,48.6 319,48.7 319.4,48.6 319.8,48.6 320.2,48.6 320.6,48.7 321,48.8 321.4,49 321.8,48.9 322.2,49.4 322.6,49.7 323,49.9 323.4,50 323.8,50.3 324.2,50.6 324.6,50.8 325,51.2 325.4,51.3 325.8,51.6 326.2,51.9 326.6,51.9 327,52.3 327.4,52.5 327.8,52.7 328.2,53 328.6,53.3 329,53.6 329.4,53.7 329.8,54.2 330.2,54.5 330.6,54.7 331,54.9 331.4,55.1 331.8,55.3 332.2,55.7 332.6,55.9 333,56.2 333.4,56.6 333.8,56.6 334.2,56.8 334.6,57.1 335,57.1 335.4,57.2 335.8,57.5 336.2,57.6 336.6,57.8 337,57.9 337.4,58.2 337.8,58.3 338.2,58.3 338.6,58.4 339,58.6 339.4,58.7 339.8,58.7 340.2,58.9 340.6,59 341,59.1 341.4,59.3 341.8,59.4 342.2,59.3 342.6,59.5 343,59.5 343.4,59.7 343.8,59.6 344.2,59.8 344.6,59.8 345,59.9 345.4,59.9 345.8,59.8 346.2,60 346.6,59.9 347,60 347.4,59.9 347.8,59.9 348.2,59.9 348.6,59.8 349,59.8 349.4,59.5 349.8,59.6 350.2,59.5 350.6,59.4 351,59.3 351.4,59.3 351.8,59.3 352.2,58.9 352.6,59 353,58.8 353.4,58.9 353.8,58.7 354.2,58.7 354.6,58.5 355,58.6 355.4,58.5 355.8,58.3 356.2,58.3 356.6,58 357,58.1 357.4,58 357.8,57.8 358.2,57.9 358.6,57.5 359,57.4 359.4,57.4 359.8,57.3 360.2,57.3 360.6,57.1 361,57 361.4,57 361.8,56.8 362.2,56.6 362.6,56.5 363,56.7 363.4,56.2 363.8,56.2 364.2,56.3 364.6,56.1 365,55.9 365.4,55.8 365.8,55.8 366.2,55.7 366.6,55.4 367,55.4 367.4,55.3 367.8,55.3 368.2,55.2 368.6,55 369,54.8 369.4,54.8 369.8,54.8 370.2,54.7 370.6,54.5 371,54.6 371.4,54.3 371.8,54.3 372.2,54.1 372.6,54.1 373,54.1 373.4,54.1 373.8,53.8 374.2,53.8 374.6,53.6 375,53.7 375.4,53.6 375.8,53.6 376.2,53.4 376.6,53.4 377,53.4 377.4,53.2 377.8,53.2 378.2,53.1 378.6,53 379,52.8 379.4,53 379.8,52.8 380.2,52.8 380.6,52.5 381,52.5 381.4,52.4 381.8,52.4 382.2,52.5 382.6,52.4 383,52.2 383.4,52.2 383.8,52.2 384.2,52 384.6,52 385,51.9 385.4,51.7 385.8,51.8 386.2,51.8 386.6,51.6 387,51.6 387.4,51.5 387.8,51.4 388.2,51.5 388.6,51.4 389,51.2 389.4,51 389.8,51.2 390.2,51 390.6,51 391,51.1 391.4,51.1 391.8,50.8 392.2,51 392.6,50.9 393,50.8 393.4,50.9 393.8,50.7 394.2,50.7 394.6,50.6 395,50.6 395.4,50.7 395.8,50.5 396.2,50.5 396.6,50.5 397,50.6 397.4,50.5 397.8,50.6 398.2,50.5 398.6,50.4 399,50.5 399.4,50.5 399.8,50.4 400.2,50.5 400.6,50.6 401,50.5 401.4,50.5 401.8,50.6 402.2,50.5 402.6,50.4 403,50.4 403.4,50.6 403.8,50.6 404.2,50.5 404.6,50.5 405,50.6 405.4,50.6 405.8,50.4 406.2,50.6 406.6,50.6 407,50.6 407.4,50.6 407.8,50.5 408.2,50.6 408.6,50.5 409,50.6 409.4,50.6 409.8,50.7 410.2,50.6 410.6,50.6 411,50.6 411.4,50.6 411.8,50.7 412.2,50.7 412.6,50.7 413,50.6 413.4,50.7 413.8,50.6 414.2,50.7 414.6,50.7 415,50.8 415.4,50.8 415.8,50.7 416.2,50.8 416.6,50.8 417,50.8 417.4,50.8 417.8,50.8 418.2,50.8 418.6,50.9 419,51 419.4,51.3 419.8,51.8 420.2,52.2 420.6,52.7 421,53 421.4,53.3 421.8,53.1 422.2,52.8 422.6,52.1 423,51.6 423.4,51.3 423.8,51 424.2,50.9 424.6,50.9 425,50.9 425.4,50.8 425.8,50.8 426.2,50.7 426.6,50.8 427,50.7 427.4,50.8 427.8,50.7 428.2,50.7 428.6,50.7 429,50.7 429.4,50.8 429.8,50.7 430.2,50.6 430.6,50.6 431,50.6 431.4,50.6 431.8,50.7 432.2,50.7 432.6,50.6 433,50.7 433.4,50.6 433.8,50.5 434.2,50.5 434.6,50.6 435,50.7 435.4,50.5 435.8,50.7 436.2,50.7 436.6,50.6 437,50.6 437.4,50.6 437.8,50.6 438.2,50.7 438.6,50.6 439,50.7 439.4,50.7 439.8,50.6 440.2,50.6 440.6,50.6 441,50.6 441.4,50.5 441.8,50.7 442.2,50.7 442.6,50.6 443,50.9 443.4,50.6 443.8,50.7 444.2,50.8 444.6,50.6 445,50.8 445.4,50.8 445.8,50.8 446.2,51 446.6,51 447,51.1 447.4,51.2 447.8,51.3 448.2,51.3 448.6,51.2 449,51.4 449.4,51.4 449.8,51.4 450.2,51.7 450.6,51.7 451,51.7 451.4,51.8 451.8,51.9 452.2,51.8 452.6,52.1 453,52.3 453.4,52.7 453.8,53 454.2,53.5 454.6,53.9 455,54.2 455.4,54.8 455.8,55.1 456.2,55.7 456.6,56.1 457,56.5 457.4,56.6 457.8,57 458.2,57.2 458.6,57.3 459,57.4 459.4,57.1 459.8,57.2 460.2,57 460.6,56.9 461,56.8 461.4,56.6 461.8,56.3 462.2,56.1 462.6,55.8 463,55.5 463.4,55.4 463.8,55.1 464.2,54.8 464.6,54.6 465,54.5 465.4,54.4 465.8,54.2 466.2,54 466.6,53.7 467,53.7 467.4,53.7 467.8,53.7 468.2,53.8 468.6,53.9 469,54.3 469.4,54.6 469.8,54.9 470.2,55.2 470.6,55.9 471,56.2 471.4,56.8 471.8,57.4 472.2,57.7 472.6,58.3 473,58.8 473.4,59.4 473.8,59.8 474.2,60.4 474.6,60.6 475,60.9 475.4,61.3 475.8,61.4 476.2,61.5 476.6,61.8 477,61.5 477.4,61.4 477.8,61.3 478.2,61 478.6,60.7 479,60.7 479.4,60.2 479.8,59.9 480.2,59.6 480.6,59.2 481,58.8 481.4,58.5 481.8,58.3 482.2,57.7 482.6,57.4 483,56.8 483.4,56.6 483.8,56.2 484.2,56.1 484.6,55.7 485,55.6 485.4,55.4 485.8,55.2 486.2,55.1 486.6,55.2 487,55 487.4,54.9 487.8,54.9 488.2,54.8 488.6,54.8 489,54.8 489.4,54.7 489.8,54.7 490.2,54.6 490.6,54.6 491,54.4 491.4,54.5 491.8,54.4 492.2,54.3 492.6,54.4 493,54.3 493.4,54.4 493.8,54.4 494.2,54.1 494.6,54.3 495,54.5 495.4,54.4 495.8,54.4 496.2,54.3 496.6,54.2 497,54.3 497.4,54.5 497.8,54.5 498.2,54.4 498.6,54.5 499,54.6 499.4,54.5 499.8,54.6 500.2,54.9 500.6,55 501,54.8 501.4,55.1 501.8,54.9 502.2,55 502.6,54.9 503,55.3 503.4,55.2 503.8,55.5 504.2,55.5 504.6,55.5 505,55.5 505.4,55.8 505.8,55.8 506.2,55.9 506.6,55.9 507,56.3 507.4,56.4 507.8,56.5 508.2,56.7 508.6,56.9 509,57.1 509.4,57.3 509.8,57.6 510.2,57.6 510.6,57.8 511,58.1 511.4,58.1 511.8,58.5 512.2,58.8 512.6,59 513,59.1 513.4,59.4 513.8,59.4 514.2,59.8 514.6,60 515,60.3 515.4,60.3 515.8,60.7 516.2,60.9 516.6,61 517,61.3 517.4,61.3 517.8,61.5 518.2,61.9 518.6,62.1 519,62.3 519.4,62.5 519.8,62.7 520.2,63 520.6,63.2 521,63.3 521.4,63.3 521.8,63.7 522.2,63.8 522.6,63.9 523,64 523.4,64.3 523.8,64.2 524.2,64.3 524.6,64.2 525,64.4 525.4,64.5 525.8,64.6 526.2,64.7 526.6,64.7 527,64.9 527.4,64.8 527.8,64.9 528.2,65 528.6,65 529,65.2 529.4,65.2 529.8,65.2 530.2,65.5 530.6,65.4 531,65.5 531.4,65.5 531.8,65.5 532.2,65.7 532.6,65.8 533,65.8 533.4,66 533.8,65.8 534.2,66 534.6,66 535,66.4 535.4,66.3" fill="none" stroke="#2a7be4" stroke-width="1.3" stroke-linejoin="round" clip-path="url(#cb)"/>
<polyline points="299,67.7 299.4,67.6 299.8,67.8 300.2,67.7 300.6,67.7 301,67.5 301.4,67.8 301.8,67.7 302.2,67.7 302.6,67.8 303,67.7 303.4,67.7 303.8,67.8 304.2,67.7 304.6,67.7 305,67.7 305.4,67.7 305.8,67.8 306.2,67.8 306.6,67.7 307,67.8 307.4,67.6 307.8,67.7 308.2,67.8 308.6,67.7 309,67.6 309.4,67.8 309.8,67.7 310.2,67.6 310.6,67.8 311,67.6 311.4,67.6 311.8,67.7 312.2,67.7 312.6,67.6 313,67.7 313.4,67.6 313.8,67.7 314.2,67.7 314.6,67.8 315,67.7 315.4,67.6 315.8,67.6 316.2,67.7 316.6,67.8 317,67.8 317.4,67.6 317.8,67.8 318.2,67.6 318.6,67.8 319,67.7 319.4,67.8 319.8,67.7 320.2,67.7 320.6,67.8 321,67.8 321.4,68 321.8,68.2 322.2,68.6 322.6,68.6 323,68.8 323.4,68.9 323.8,69.3 324.2,69.4 324.6,69.7 325,70.1 325.4,70.2 325.8,70.6 326.2,70.8 326.6,70.9 327,71.1 327.4,71.1 327.8,71.2 328.2,71.5 328.6,71.5 329,71.6 329.4,71.7 329.8,71.6 330.2,71.8 330.6,71.7 331,71.9 331.4,72 331.8,72.1 332.2,72 332.6,72.1 333,72.3 333.4,72.3 333.8,72.1 334.2,72.2 334.6,72.3 335,72.5 335.4,72.3 335.8,72.5 336.2,72.4 336.6,72.7 337,72.5 337.4,72.5 337.8,72.5 338.2,72.6 338.6,72.6 339,72.5 339.4,72.6 339.8,72.5 340.2,72.5 340.6,72.5 341,72.5 341.4,72.5 341.8,72.5 342.2,72.6 342.6,72.6 343,72.5 343.4,72.4 343.8,72.6 344.2,72.3 344.6,72.3 345,72.5 345.4,72.5 345.8,72.5 346.2,72.4 346.6,72.3 347,72.3 347.4,72.4 347.8,72.2 348.2,72.2 348.6,72.1 349,72.1 349.4,72.3 349.8,72.2 350.2,72 350.6,72 351,72 351.4,72.1 351.8,71.9 352.2,72 352.6,71.8 353,71.9 353.4,72 353.8,72 354.2,71.8 354.6,71.8 355,71.9 355.4,71.8 355.8,71.7 356.2,71.8 356.6,71.7 357,71.8 357.4,71.7 357.8,71.6 358.2,71.6 358.6,71.6 359,71.5 359.4,71.5 359.8,71.6 360.2,71.3 360.6,71.5 361,71.4 361.4,71.4 361.8,71.4 362.2,71.3 362.6,71.4 363,71.2 363.4,71.2 363.8,71.1 364.2,71.3 364.6,71.2 365,71 365.4,71 365.8,70.9 366.2,70.9 366.6,70.9 367,71.1 367.4,70.7 367.8,70.9 368.2,70.8 368.6,70.7 369,70.7 369.4,70.6 369.8,70.6 370.2,70.6 370.6,70.4 371,70.6 371.4,70.4 371.8,70.5 372.2,70.4 372.6,70.4 373,70.3 373.4,70.3 373.8,70.2 374.2,70.1 374.6,70.2 375,70.2 375.4,70.2 375.8,69.9 376.2,70 376.6,70 377,69.8 377.4,69.9 377.8,70 378.2,69.9 378.6,69.7 379,69.8 379.4,69.8 379.8,69.7 380.2,69.7 380.6,69.6 381,69.5 381.4,69.5 381.8,69.5 382.2,69.5 382.6,69.6 383,69.4 383.4,69.2 383.8,69.3 384.2,69.3 384.6,69.3 385,69.2 385.4,69.1 385.8,69.3 386.2,69.1 386.6,69.2 387,69.1 387.4,69 387.8,69.1 388.2,68.8 388.6,68.9 389,69 389.4,68.9 389.8,69 390.2,68.9 390.6,68.8 391,69 391.4,68.8 391.8,68.8 392.2,68.7 392.6,68.7 393,68.8 393.4,68.8 393.8,68.7 394.2,68.6 394.6,68.7 395,68.5 395.4,68.6 395.8,68.6 396.2,68.6 396.6,68.6 397,68.6 397.4,68.6 397.8,68.8 398.2,68.7 398.6,68.7 399,68.6 399.4,68.7 399.8,68.7 400.2,68.7 400.6,68.8 401,68.6 401.4,68.6 401.8,68.6 402.2,68.3 402.6,68.5 403,68.6 403.4,68.6 403.8,68.6 404.2,68.7 404.6,68.7 405,68.6 405.4,68.7 405.8,68.7 406.2,68.6 406.6,68.5 407,68.7 407.4,68.6 407.8,68.6 408.2,68.6 408.6,68.6 409,68.7 409.4,68.7 409.8,68.7 410.2,68.6 410.6,68.5 411,68.6 411.4,68.7 411.8,68.6 412.2,68.8 412.6,68.6 413,68.6 413.4,68.7 413.8,68.7 414.2,68.6 414.6,68.6 415,68.6 415.4,68.7 415.8,68.7 416.2,68.6 416.6,68.6 417,68.7 417.4,68.7 417.8,68.4 418.2,68.6 418.6,68.7 419,69 419.4,69.6 419.8,70.4 420.2,71.4 420.6,72.4 421,73.3 421.4,73.7 421.8,73.2 422.2,72.5 422.6,71.5 423,70.4 423.4,69.4 423.8,69.1 424.2,68.8 424.6,68.7 425,68.7 425.4,68.7 425.8,68.6 426.2,68.7 426.6,68.6 427,68.6 427.4,68.6 427.8,68.6 428.2,68.6 428.6,68.6 429,68.6 429.4,68.5 429.8,68.5 430.2,68.7 430.6,68.6 431,68.6 431.4,68.6 431.8,68.6 432.2,68.6 432.6,68.6 433,68.6 433.4,68.7 433.8,68.6 434.2,68.7 434.6,68.5 435,68.6 435.4,68.7 435.8,68.6 436.2,68.6 436.6,68.7 437,68.6 437.4,68.7 437.8,68.5 438.2,68.6 438.6,68.6 439,68.7 439.4,68.8 439.8,68.6 440.2,68.8 440.6,68.7 441,68.6 441.4,68.5 441.8,68.9 442.2,68.8 442.6,68.7 443,68.8 443.4,68.8 443.8,69 444.2,68.9 444.6,69.1 445,69 445.4,68.9 445.8,69.2 446.2,69.1 446.6,69.2 447,69.4 447.4,69.3 447.8,69.5 448.2,69.4 448.6,69.4 449,69.6 449.4,69.6 449.8,69.8 450.2,69.8 450.6,69.8 451,70 451.4,70 451.8,70 452.2,70.2 452.6,70.2 453,70.4 453.4,70.5 453.8,70.8 454.2,71 454.6,71.1 455,71.4 455.4,71.6 455.8,71.9 456.2,72 456.6,72.3 457,72.5 457.4,72.6 457.8,72.5 458.2,72.8 458.6,72.9 459,72.8 459.4,72.9 459.8,72.8 460.2,72.7 460.6,72.6 461,72.5 461.4,72.4 461.8,72.4 462.2,72.3 462.6,72.2 463,72.1 463.4,72 463.8,71.9 464.2,71.6 464.6,71.6 465,71.5 465.4,71.5 465.8,71.5 466.2,71.4 466.6,71.3 467,71.5 467.4,71.4 467.8,71.3 468.2,71.6 468.6,71.6 469,72 469.4,72 469.8,72.2 470.2,72.4 470.6,72.6 471,72.9 471.4,73.3 471.8,73.4 472.2,73.7 472.6,74 473,74.1 473.4,74.6 473.8,74.7 474.2,75 474.6,75.1 475,75.4 475.4,75.6 475.8,75.7 476.2,76 476.6,76 477,76 477.4,76.1 477.8,76.2 478.2,76.2 478.6,76 479,76 479.4,75.8 479.8,75.4 480.2,75.3 480.6,75 481,74.8 481.4,74.7 481.8,74.3 482.2,73.9 482.6,73.7 483,73.5 483.4,73.2 483.8,72.9 484.2,72.8 484.6,72.4 485,72.4 485.4,72.3 485.8,72.2 486.2,72 486.6,72 487,71.9 487.4,71.9 487.8,71.9 488.2,71.8 488.6,71.9 489,71.8 489.4,71.6 489.8,71.6 490.2,71.8 490.6,71.6 491,71.7 491.4,71.7 491.8,71.5 492.2,71.5 492.6,71.5 493,71.4 493.4,71.4 493.8,71.4 494.2,71.5 494.6,71.4 495,71.4 495.4,71.4 495.8,71.3 496.2,71.5 496.6,71.2 497,71.4 497.4,71.5 497.8,71.4 498.2,71.6 498.6,71.6 499,71.5 499.4,71.6 499.8,71.6 500.2,71.7 500.6,71.7 501,71.8 501.4,71.9 501.8,71.9 502.2,72 502.6,72 503,71.9 503.4,72.1 503.8,72.2 504.2,72.1 504.6,72.3 505,72.3 505.4,72.4 505.8,72.4 506.2,72.6 506.6,72.7 507,72.8 507.4,73 507.8,73 508.2,73.5 508.6,73.5 509,73.7 509.4,74 509.8,74.2 510.2,74.6 510.6,74.7 511,75 511.4,75.2 511.8,75.7 512.2,75.8 512.6,76.2 513,76.2 513.4,76.6 513.8,76.7 514.2,77 514.6,77.2 515,77.3 515.4,77.5 515.8,77.7 516.2,77.9 516.6,78.2 517,78.4 517.4,78.6 517.8,79 518.2,79.3 518.6,79.4 519,79.6 519.4,79.9 519.8,80.1 520.2,80.3 520.6,80.6 521,80.8 521.4,81 521.8,81.1 522.2,81.4 522.6,81.5 523,81.5 523.4,81.6 523.8,81.8 524.2,81.8 524.6,82 525,82 525.4,82 525.8,82.1 526.2,82 526.6,82 527,81.7 527.4,81.9 527.8,81.6 528.2,81.4 528.6,81.1 529,80.9 529.4,80.7 529.8,80.5 530.2,80.3 530.6,80.1 531,80.1 531.4,80.1 531.8,80 532.2,80.1 532.6,80.3 533,80.4 533.4,80.3 533.8,80.7 534.2,80.8 534.6,80.9 535,81.1 535.4,81.3" fill="none" stroke="#22a874" stroke-width="1.3" stroke-linejoin="round" clip-path="url(#cb)"/>
<polyline points="299,86.6 299.4,86.5 299.8,86.4 300.2,86.5 300.6,86.3 301,86.5 301.4,86.6 301.8,86.5 302.2,86.6 302.6,86.5 303,86.6 303.4,86.5 303.8,86.4 304.2,86.5 304.6,86.5 305,86.6 305.4,86.6 305.8,86.5 306.2,86.4 306.6,86.4 307,86.5 307.4,86.6 307.8,86.5 308.2,86.5 308.6,86.4 309,86.6 309.4,86.5 309.8,86.5 310.2,86.5 310.6,86.6 311,86.5 311.4,86.6 311.8,86.6 312.2,86.5 312.6,86.6 313,86.5 313.4,86.4 313.8,86.5 314.2,86.4 314.6,86.5 315,86.5 315.4,86.5 315.8,86.6 316.2,86.3 316.6,86.5 317,86.4 317.4,86.5 317.8,86.4 318.2,86.5 318.6,86.6 319,86.4 319.4,86.5 319.8,86.5 320.2,86.4 320.6,86.6 321,86.7 321.4,86.8 321.8,87 322.2,87.6 322.6,87.6 323,87.8 323.4,88.1 323.8,88.5 324.2,88.7 324.6,89 325,89.2 325.4,89.5 325.8,89.6 326.2,89.7 326.6,89.9 327,90 327.4,90.3 327.8,90.4 328.2,90.5 328.6,90.7 329,90.8 329.4,91.1 329.8,91 330.2,91.2 330.6,91.4 331,91.4 331.4,91.6 331.8,91.7 332.2,91.8 332.6,92 333,92.2 333.4,92.3 333.8,92.3 334.2,92.4 334.6,92.7 335,92.5 335.4,92.7 335.8,92.9 336.2,92.9 336.6,93.1 337,93.1 337.4,93.2 337.8,93.4 338.2,93.3 338.6,93.5 339,93.5 339.4,93.6 339.8,93.7 340.2,93.6 340.6,93.9 341,94 341.4,94.1 341.8,94.1 342.2,94 342.6,94.3 343,94.2 343.4,94.3 343.8,94.5 344.2,94.4 344.6,94.6 345,94.6 345.4,94.6 345.8,94.6 346.2,94.8 346.6,94.7 347,94.9 347.4,95 347.8,94.8 348.2,94.9 348.6,94.9 349,94.9 349.4,94.9 349.8,95 350.2,95 350.6,94.9 351,94.9 351.4,95 351.8,94.9 352.2,94.9 352.6,95.1 353,95 353.4,94.8 353.8,94.8 354.2,94.9 354.6,94.7 355,94.8 355.4,94.7 355.8,94.8 356.2,94.5 356.6,94.5 357,94.5 357.4,94.6 357.8,94.5 358.2,94.3 358.6,94.5 359,94.4 359.4,94.3 359.8,94.2 360.2,94.2 360.6,94.2 361,94.1 361.4,94.1 361.8,94 362.2,93.9 362.6,93.8 363,93.8 363.4,93.7 363.8,93.7 364.2,93.7 364.6,93.6 365,93.6 365.4,93.3 365.8,93.4 366.2,93.2 366.6,93.2 367,93.1 367.4,93.2 367.8,93.1 368.2,92.9 368.6,92.8 369,92.9 369.4,92.8 369.8,92.9 370.2,92.5 370.6,92.5 371,92.5 371.4,92.5 371.8,92.4 372.2,92.4 372.6,92.5 373,92.2 373.4,92.2 373.8,92 374.2,92.1 374.6,92.1 375,91.9 375.4,92 375.8,91.8 376.2,91.8 376.6,91.7 377,91.5 377.4,91.4 377.8,91.3 378.2,91.2 378.6,91.3 379,91.2 379.4,91.2 379.8,91 380.2,90.9 380.6,90.7 381,90.8 381.4,90.7 381.8,90.5 382.2,90.5 382.6,90.4 383,90.1 383.4,90.2 383.8,90.1 384.2,90 384.6,89.9 385,90 385.4,89.9 385.8,89.8 386.2,89.5 386.6,89.4 387,89.5 387.4,89.2 387.8,89.2 388.2,89 388.6,89.2 389,89.1 389.4,88.9 389.8,88.8 390.2,88.7 390.6,88.6 391,88.6 391.4,88.5 391.8,88.6 392.2,88.4 392.6,88.3 393,88.4 393.4,88.2 393.8,88.2 394.2,88.1 394.6,87.9 395,88 395.4,87.9 395.8,88 396.2,87.8 396.6,87.7 397,87.8 397.4,87.8 397.8,87.8 398.2,87.6 398.6,87.8 399,87.6 399.4,87.7 399.8,87.6 400.2,87.7 400.6,87.8 401,87.7 401.4,87.7 401.8,87.8 402.2,87.6 402.6,87.6 403,87.7 403.4,87.7 403.8,87.8 404.2,87.6 404.6,87.8 405,87.8 405.4,87.7 405.8,87.7 406.2,87.8 406.6,87.7 407,87.8 407.4,87.8 407.8,87.9 408.2,87.8 408.6,87.9 409,87.6 409.4,87.8 409.8,87.9 410.2,87.7 410.6,87.9 411,87.8 411.4,87.9 411.8,87.8 412.2,87.9 412.6,87.9 413,87.9 413.4,87.9 413.8,88.1 414.2,87.9 414.6,87.9 415,88 415.4,88 415.8,88.1 416.2,88.1 416.6,87.9 417,88.1 417.4,88.1 417.8,88 418.2,88.1 418.6,87.9 419,88.4 419.4,89 419.8,89.4 420.2,90.4 420.6,91.5 421,92.3 421.4,92.6 421.8,92.1 422.2,91.4 422.6,90.5 423,89.4 423.4,88.8 423.8,88.5 424.2,88.2 424.6,88.1 425,87.7 425.4,87.9 425.8,88 426.2,87.9 426.6,87.9 427,88.1 427.4,87.9 427.8,87.8 428.2,87.9 428.6,87.8 429,87.8 429.4,87.8 429.8,87.9 430.2,87.8 430.6,87.7 431,87.8 431.4,87.8 431.8,87.7 432.2,87.8 432.6,87.8 433,87.6 433.4,87.7 433.8,87.9 434.2,87.8 434.6,87.7 435,87.7 435.4,87.6 435.8,87.5 436.2,87.7 436.6,87.7 437,87.7 437.4,87.6 437.8,87.6 438.2,87.6 438.6,87.6 439,87.7 439.4,87.6 439.8,87.7 440.2,87.5 440.6,87.5 441,87.7 441.4,87.8 441.8,87.7 442.2,87.6 442.6,87.6 443,87.7 443.4,87.8 443.8,87.6 444.2,87.8 444.6,87.8 445,87.9 445.4,87.8 445.8,88 446.2,87.9 446.6,88.1 447,88.1 447.4,88 447.8,88.3 448.2,88.3 448.6,88.2 449,88.5 449.4,88.3 449.8,88.5 450.2,88.7 450.6,88.5 451,88.8 451.4,88.8 451.8,88.9 452.2,88.9 452.6,89.1 453,89.2 453.4,89.5 453.8,89.9 454.2,90.2 454.6,90.8 455,90.9 455.4,91.4 455.8,91.8 456.2,92.2 456.6,92.6 457,92.9 457.4,93.1 457.8,93.3 458.2,93.5 458.6,93.7 459,93.6 459.4,93.5 459.8,93.3 460.2,93.5 460.6,93.3 461,93 461.4,92.9 461.8,92.6 462.2,92.3 462.6,92.2 463,92 463.4,91.7 463.8,91.5 464.2,91.4 464.6,91.3 465,91.1 465.4,91.1 465.8,90.8 466.2,91 466.6,91 467,91.1 467.4,91.2 467.8,91.5 468.2,91.7 468.6,92 469,92.2 469.4,92.6 469.8,92.9 470.2,93.2 470.6,93.7 471,94 471.4,94.5 471.8,94.8 472.2,95.2 472.6,95.7 473,96.1 473.4,96.5 473.8,96.9 474.2,97.2 474.6,97.5 475,97.8 475.4,98 475.8,98.3 476.2,98.5 476.6,98.8 477,98.7 477.4,98.8 477.8,98.8 478.2,98.7 478.6,98.6 479,98.3 479.4,98 479.8,97.9 480.2,97.4 480.6,97.2 481,96.8 481.4,96.4 481.8,96.1 482.2,95.5 482.6,95 483,94.5 483.4,94.1 483.8,93.8 484.2,93.3 484.6,93.1 485,92.8 485.4,92.6 485.8,92.3 486.2,92.2 486.6,92.1 487,92 487.4,91.7 487.8,91.8 488.2,91.8 488.6,91.6 489,91.5 489.4,91.3 489.8,91.4 490.2,91.1 490.6,91.1 491,91 491.4,90.9 491.8,90.9 492.2,90.8 492.6,90.8 493,90.7 493.4,90.7 493.8,90.6 494.2,90.7 494.6,90.6 495,90.6 495.4,90.6 495.8,90.5 496.2,90.6 496.6,90.6 497,90.7 497.4,90.8 497.8,90.6 498.2,90.8 498.6,90.7 499,90.8 499.4,90.9 499.8,90.9 500.2,91 500.6,91.2 501,91.3 501.4,91.4 501.8,91.4 502.2,91.7 502.6,91.6 503,91.6 503.4,91.9 503.8,92 504.2,92 504.6,92.2 505,92.2 505.4,92.4 505.8,92.5 506.2,92.5 506.6,92.8 507,92.9 507.4,93 507.8,93.2 508.2,93.6 508.6,93.7 509,94 509.4,94.2 509.8,94.4 510.2,94.6 510.6,95 511,95.3 511.4,95.5 511.8,95.8 512.2,96 512.6,96.3 513,96.6 513.4,96.7 513.8,97.1 514.2,97.3 514.6,97.5 515,97.7 515.4,97.9 515.8,98 516.2,98.4 516.6,98.6 517,98.8 517.4,99.1 517.8,99.4 518.2,99.6 518.6,99.8 519,100.2 519.4,100.4 519.8,100.5 520.2,100.8 520.6,101 521,101.1 521.4,101.3 521.8,101.5 522.2,101.7 522.6,101.7 523,101.7 523.4,101.7 523.8,101.7 524.2,101.6 524.6,101.7 525,101.6 525.4,101.6 525.8,101.6 526.2,101.6 526.6,101.6 527,101.5 527.4,101.6 527.8,101.6 528.2,101.6 528.6,101.6 529,101.7 529.4,101.6 529.8,101.6 530.2,101.5 530.6,101.4 531,101.5 531.4,101.8 531.8,101.6 532.2,101.8 532.6,101.9 533,101.8 533.4,102 533.8,102.1 534.2,102.1 534.6,102.3 535,102.2 535.4,102.2" fill="none" stroke="#c27fe8" stroke-width="1.3" stroke-linejoin="round" clip-path="url(#cb)"/>
<polyline points="299,105.5 299.4,105.5 299.8,105.4 300.2,105.4 300.6,105.7 301,105.5 301.4,105.5 301.8,105.4 302.2,105.5 302.6,105.5 303,105.5 303.4,105.4 303.8,105.4 304.2,105.4 304.6,105.5 305,105.7 305.4,105.6 305.8,105.6 306.2,105.5 306.6,105.5 307,105.4 307.4,105.5 307.8,105.3 308.2,105.5 308.6,105.6 309,105.5 309.4,105.6 309.8,105.5 310.2,105.4 310.6,105.5 311,105.5 311.4,105.6 311.8,105.7 312.2,105.4 312.6,105.5 313,105.5 313.4,105.5 313.8,105.4 314.2,105.5 314.6,105.5 315,105.5 315.4,105.4 315.8,105.5 316.2,105.4 316.6,105.6 317,105.4 317.4,105.5 317.8,105.5 318.2,105.5 318.6,105.4 319,105.4 319.4,105.6 319.8,105.5 320.2,105.5 320.6,105.7 321,105.6 321.4,105.7 321.8,105.8 322.2,106.1 322.6,106.2 323,106.3 323.4,106.5 323.8,106.7 324.2,107 324.6,107 325,107.4 325.4,107.6 325.8,107.9 326.2,108 326.6,108.5 327,108.6 327.4,108.8 327.8,109 328.2,109.2 328.6,109.4 329,109.5 329.4,109.7 329.8,109.9 330.2,110.1 330.6,110.2 331,110.3 331.4,110.6 331.8,110.5 332.2,110.5 332.6,110.7 333,110.8 333.4,110.9 333.8,111 334.2,111.1 334.6,111.4 335,111.3 335.4,111.4 335.8,111.5 336.2,111.6 336.6,111.8 337,111.9 337.4,112 337.8,111.8 338.2,112.1 338.6,112.3 339,112.4 339.4,112.4 339.8,112.3 340.2,112.6 340.6,112.5 341,112.5 341.4,112.7 341.8,112.9 342.2,113 342.6,113 343,112.9 343.4,113.3 343.8,113 344.2,113.2 344.6,113.1 345,113.4 345.4,113.4 345.8,113.5 346.2,113.4 346.6,113.5 347,113.5 347.4,113.4 347.8,113.6 348.2,113.6 348.6,113.5 349,113.6 349.4,113.6 349.8,113.7 350.2,113.6 350.6,113.6 351,113.6 351.4,113.5 351.8,113.5 352.2,113.6 352.6,113.5 353,113.5 353.4,113.6 353.8,113.5 354.2,113.5 354.6,113.5 355,113.4 355.4,113.4 355.8,113.4 356.2,113.2 356.6,113.4 357,113.2 357.4,113.3 357.8,113.2 358.2,113.2 358.6,113.1 359,113 359.4,113.1 359.8,113 360.2,112.9 360.6,112.9 361,112.9 361.4,112.8 361.8,112.7 362.2,112.5 362.6,112.6 363,112.6 363.4,112.6 363.8,112.5 364.2,112.4 364.6,112.4 365,112.3 365.4,112.2 365.8,112.1 366.2,112 366.6,112.1 367,112 367.4,111.9 367.8,111.7 368.2,111.8 368.6,111.8 369,111.6 369.4,111.4 369.8,111.5 370.2,111.3 370.6,111.1 371,111.2 371.4,111.1 371.8,111.1 372.2,111 372.6,111 373,110.9 373.4,110.8 373.8,110.7 374.2,110.7 374.6,110.7 375,110.6 375.4,110.5 375.8,110.1 376.2,110.2 376.6,110.2 377,110.2 377.4,110 377.8,110.2 378.2,110 378.6,109.9 379,109.9 379.4,109.7 379.8,109.6 380.2,109.7 380.6,109.5 381,109.4 381.4,109.4 381.8,109.4 382.2,109.2 382.6,109.4 383,109.1 383.4,109.3 383.8,109.1 384.2,108.9 384.6,109 385,109 385.4,108.8 385.8,108.7 386.2,108.8 386.6,108.9 387,108.5 387.4,108.6 387.8,108.6 388.2,108.5 388.6,108.4 389,108.4 389.4,108.5 389.8,108.4 390.2,108.2 390.6,108.4 391,108.1 391.4,108.3 391.8,108.2 392.2,108.2 392.6,108.1 393,108.2 393.4,108.1 393.8,108.1 394.2,108.1 394.6,108.2 395,108 395.4,108.1 395.8,108 396.2,108 396.6,107.9 397,108 397.4,107.8 397.8,107.8 398.2,108 398.6,107.8 399,108 399.4,107.9 399.8,107.9 400.2,107.9 400.6,107.9 401,107.8 401.4,107.8 401.8,107.8 402.2,107.9 402.6,107.9 403,107.9 403.4,107.8 403.8,107.8 404.2,107.7 404.6,107.8 405,107.8 405.4,107.7 405.8,107.8 406.2,107.9 406.6,107.8 407,107.8 407.4,107.8 407.8,107.6 408.2,107.7 408.6,107.7 409,107.8 409.4,107.6 409.8,107.7 410.2,107.6 410.6,107.7 411,107.7 411.4,107.8 411.8,107.7 412.2,107.7 412.6,107.7 413,107.7 413.4,107.7 413.8,107.8 414.2,107.4 414.6,107.6 415,107.6 415.4,107.7 415.8,107.5 416.2,107.6 416.6,107.7 417,107.5 417.4,107.4 417.8,107.5 418.2,107.5 418.6,107.7 419,107.6 419.4,108 419.8,108 420.2,108.3 420.6,108.6 421,108.8 421.4,109 421.8,109 422.2,108.6 422.6,108.3 423,107.9 423.4,107.7 423.8,107.7 424.2,107.3 424.6,107.5 425,107.4 425.4,107.2 425.8,107.2 426.2,107.2 426.6,107.3 427,107.2 427.4,107.2 427.8,107.3 428.2,107.2 428.6,107.2 429,107.1 429.4,107.2 429.8,107 430.2,107.2 430.6,107 431,107 431.4,107.1 431.8,107 432.2,106.8 432.6,107 433,106.9 433.4,106.9 433.8,107 434.2,106.8 434.6,106.9 435,106.9 435.4,107 435.8,106.9 436.2,106.8 436.6,106.8 437,106.8 437.4,106.8 437.8,106.8 438.2,106.9 438.6,106.8 439,106.8 439.4,106.8 439.8,106.8 440.2,106.8 440.6,106.9 441,106.9 441.4,106.8 441.8,106.7 442.2,106.8 442.6,106.9 443,106.7 443.4,106.9 443.8,106.9 444.2,106.9 444.6,106.9 445,107.1 445.4,107.1 445.8,107 446.2,107.2 446.6,107.2 447,107.1 447.4,107.4 447.8,107.2 448.2,107.3 448.6,107.2 449,107.4 449.4,107.3 449.8,107.5 450.2,107.6 450.6,107.6 451,107.6 451.4,107.8 451.8,107.7 452.2,107.9 452.6,108 453,108.2 453.4,108.5 453.8,108.8 454.2,109.1 454.6,109.4 455,109.8 455.4,110.3 455.8,110.7 456.2,111 456.6,111.4 457,111.7 457.4,112 457.8,112.3 458.2,112.4 458.6,112.4 459,112.5 459.4,112.3 459.8,112.1 460.2,112.3 460.6,112 461,111.9 461.4,111.7 461.8,111.7 462.2,111.3 462.6,111.2 463,111 463.4,110.7 463.8,110.5 464.2,110.5 464.6,110.4 465,110.3 465.4,110.3 465.8,110.1 466.2,110.1 466.6,110.1 467,110.3 467.4,110.4 467.8,110.5 468.2,110.9 468.6,110.8 469,111.3 469.4,111.6 469.8,111.9 470.2,112.1 470.6,112.5 471,112.8 471.4,113.2 471.8,113.6 472.2,113.9 472.6,114.3 473,114.7 473.4,114.9 473.8,115.4 474.2,115.6 474.6,116 475,116.2 475.4,116.5 475.8,116.6 476.2,116.8 476.6,117 477,117.1 477.4,117.2 477.8,117.3 478.2,117.1 478.6,117.1 479,116.8 479.4,116.5 479.8,116.4 480.2,116.1 480.6,115.7 481,115.4 481.4,115.2 481.8,114.7 482.2,114.3 482.6,114.2 483,113.7 483.4,113.3 483.8,113.1 484.2,112.7 484.6,112.6 485,112.1 485.4,111.9 485.8,111.8 486.2,111.7 486.6,111.8 487,111.4 487.4,111.4 487.8,111.4 488.2,111.3 488.6,111.3 489,111.2 489.4,111.2 489.8,111 490.2,110.9 490.6,110.9 491,110.8 491.4,110.7 491.8,110.7 492.2,110.6 492.6,110.5 493,110.5 493.4,110.4 493.8,110.6 494.2,110.4 494.6,110.7 495,110.6 495.4,110.6 495.8,110.5 496.2,110.5 496.6,110.6 497,110.6 497.4,110.6 497.8,110.5 498.2,110.7 498.6,110.6 499,110.7 499.4,110.6 499.8,110.7 500.2,110.8 500.6,110.8 501,110.8 501.4,111 501.8,111 502.2,111.1 502.6,110.9 503,111.2 503.4,111.2 503.8,111.1 504.2,111.2 504.6,111.4 505,111.3 505.4,111.4 505.8,111.6 506.2,111.6 506.6,111.8 507,111.8 507.4,112 507.8,112.2 508.2,112.3 508.6,112.2 509,112.6 509.4,112.7 509.8,112.8 510.2,113.2 510.6,113.1 511,113.5 511.4,113.5 511.8,113.9 512.2,113.9 512.6,114 513,114.3 513.4,114.5 513.8,114.7 514.2,114.9 514.6,114.9 515,115.1 515.4,115.3 515.8,115.4 516.2,115.5 516.6,115.6 517,115.9 517.4,116.1 517.8,116.2 518.2,116.3 518.6,116.6 519,116.6 519.4,116.9 519.8,117 520.2,117 520.6,117.3 521,117.5 521.4,117.7 521.8,117.9 522.2,117.9 522.6,118.1 523,118.2 523.4,118.2 523.8,118.2 524.2,118.5 524.6,118.4 525,118.5 525.4,118.6 525.8,118.7 526.2,118.7 526.6,118.9 527,119 527.4,119 527.8,119 528.2,119.1 528.6,119.1 529,119.2 529.4,119.5 529.8,119.6 530.2,119.6 530.6,119.5 531,119.8 531.4,119.6 531.8,119.8 532.2,120.1 532.6,120.1 533,120.1 533.4,120.1 533.8,120.4 534.2,120.4 534.6,120.5 535,120.7 535.4,120.7" fill="none" stroke="#e6a12a" stroke-width="1.3" stroke-linejoin="round" clip-path="url(#cb)"/>
<polyline points="299,123.4 299.4,123.7 299.8,123.5 300.2,123.5 300.6,123.5 301,123.6 301.4,123.5 301.8,123.6 302.2,123.6 302.6,123.7 303,123.6 303.4,123.5 303.8,123.4 304.2,123.5 304.6,123.7 305,123.8 305.4,123.5 305.8,123.5 306.2,123.6 306.6,123.6 307,123.5 307.4,123.6 307.8,123.5 308.2,123.6 308.6,123.7 309,123.7 309.4,123.6 309.8,123.6 310.2,123.6 310.6,123.7 311,123.6 311.4,123.5 311.8,123.6 312.2,123.7 312.6,123.5 313,123.5 313.4,123.6 313.8,123.6 314.2,123.7 314.6,123.6 315,123.5 315.4,123.6 315.8,123.5 316.2,123.5 316.6,123.6 317,123.6 317.4,123.7 317.8,123.5 318.2,123.6 318.6,123.5 319,123.7 319.4,123.6 319.8,123.6 320.2,123.7 320.6,123.6 321,123.7 321.4,123.9 321.8,124 322.2,124.2 322.6,124.4 323,124.5 323.4,124.7 323.8,124.8 324.2,125.2 324.6,125.4 325,125.7 325.4,126 325.8,126.2 326.2,126.4 326.6,126.8 327,127.1 327.4,127.2 327.8,127.5 328.2,127.8 328.6,127.9 329,128.1 329.4,128.2 329.8,128.5 330.2,128.6 330.6,128.6 331,128.6 331.4,128.9 331.8,129.1 332.2,129.1 332.6,129.2 333,129.4 333.4,129.3 333.8,129.6 334.2,129.7 334.6,129.7 335,129.8 335.4,130 335.8,130.1 336.2,130.2 336.6,130.3 337,130.4 337.4,130.4 337.8,130.5 338.2,130.7 338.6,130.8 339,130.9 339.4,130.9 339.8,131.1 340.2,131.2 340.6,131.2 341,131.3 341.4,131.4 341.8,131.5 342.2,131.4 342.6,131.6 343,131.6 343.4,131.7 343.8,131.8 344.2,131.8 344.6,131.8 345,131.9 345.4,131.9 345.8,131.9 346.2,132.1 346.6,132 347,132.1 347.4,132.1 347.8,132.3 348.2,132.2 348.6,132.1 349,132.3 349.4,132.2 349.8,132.2 350.2,132.1 350.6,132.3 351,132.2 351.4,132.2 351.8,132.2 352.2,132.1 352.6,132.1 353,132.1 353.4,132.1 353.8,132.1 354.2,132.2 354.6,132 355,132 355.4,131.9 355.8,132.1 356.2,131.8 356.6,131.9 357,132 357.4,131.8 357.8,131.8 358.2,131.6 358.6,131.6 359,131.5 359.4,131.6 359.8,131.5 360.2,131.4 360.6,131.5 361,131.4 361.4,131.3 361.8,131.2 362.2,131.1 362.6,131.1 363,131.3 363.4,131 363.8,131 364.2,130.9 364.6,130.9 365,130.8 365.4,130.7 365.8,130.5 366.2,130.5 366.6,130.6 367,130.4 367.4,130.4 367.8,130.3 368.2,130.1 368.6,130.2 369,130.1 369.4,130 369.8,129.9 370.2,129.9 370.6,129.8 371,129.8 371.4,129.6 371.8,129.4 372.2,129.5 372.6,129.4 373,129.3 373.4,129.3 373.8,129.2 374.2,129.2 374.6,129.1 375,129 375.4,128.8 375.8,128.8 376.2,128.8 376.6,128.7 377,128.5 377.4,128.5 377.8,128.5 378.2,128.4 378.6,128.4 379,128.2 379.4,128.2 379.8,128.1 380.2,128 380.6,127.8 381,127.9 381.4,127.7 381.8,127.9 382.2,127.8 382.6,127.8 383,127.7 383.4,127.5 383.8,127.5 384.2,127.4 384.6,127.4 385,127.2 385.4,127.2 385.8,127.2 386.2,127.3 386.6,127.1 387,127.2 387.4,127.2 387.8,126.8 388.2,126.9 388.6,126.8 389,126.8 389.4,126.7 389.8,126.7 390.2,126.8 390.6,126.7 391,126.6 391.4,126.6 391.8,126.6 392.2,126.5 392.6,126.5 393,126.5 393.4,126.5 393.8,126.3 394.2,126.5 394.6,126.5 395,126.4 395.4,126.3 395.8,126.5 396.2,126.3 396.6,126.1 397,126.3 397.4,126.4 397.8,126.4 398.2,126.4 398.6,126.4 399,126.3 399.4,126.1 399.8,126.2 400.2,126.3 400.6,126.3 401,126.2 401.4,126.2 401.8,126.3 402.2,126.1 402.6,126.1 403,126.2 403.4,126.2 403.8,126.2 404.2,126 404.6,126.2 405,126.1 405.4,126.2 405.8,126.2 406.2,126.2 406.6,126.2 407,126.1 407.4,126.2 407.8,126.3 408.2,126.2 408.6,126.3 409,126.1 409.4,126.2 409.8,126.2 410.2,126.1 410.6,126.1 411,126.1 411.4,126.1 411.8,126.1 412.2,126.2 412.6,126.1 413,126.1 413.4,126 413.8,126.1 414.2,126.2 414.6,126.1 415,126.1 415.4,126 415.8,126 416.2,126 416.6,125.9 417,125.9 417.4,126.1 417.8,126 418.2,126.2 418.6,126 419,126.4 419.4,126.6 419.8,127.2 420.2,127.8 420.6,128.7 421,129.2 421.4,129.4 421.8,129.3 422.2,128.8 422.6,127.8 423,127.2 423.4,126.6 423.8,126.3 424.2,126.2 424.6,125.8 425,125.9 425.4,125.8 425.8,125.9 426.2,125.9 426.6,126.2 427,125.9 427.4,126 427.8,126 428.2,125.8 428.6,125.9 429,126 429.4,125.8 429.8,125.8 430.2,125.8 430.6,125.7 431,125.7 431.4,125.8 431.8,125.8 432.2,125.7 432.6,125.7 433,125.7 433.4,125.7 433.8,125.8 434.2,125.8 434.6,125.7 435,125.6 435.4,125.6 435.8,125.7 436.2,125.6 436.6,125.7 437,125.7 437.4,125.6 437.8,125.8 438.2,125.6 438.6,125.6 439,125.6 439.4,125.7 439.8,125.9 440.2,125.5 440.6,125.7 441,125.7 441.4,125.8 441.8,125.7 442.2,125.5 442.6,125.8 443,125.7 443.4,125.8 443.8,125.7 444.2,125.7 444.6,125.8 445,125.9 445.4,126 445.8,125.9 446.2,126 446.6,126 447,126 447.4,126.1 447.8,126.1 448.2,126.1 448.6,126.2 449,126.2 449.4,126.3 449.8,126.2 450.2,126.5 450.6,126.4 451,126.5 451.4,126.5 451.8,126.7 452.2,126.5 452.6,126.9 453,126.9 453.4,127.1 453.8,127.5 454.2,127.9 454.6,128.1 455,128.3 455.4,128.7 455.8,129.2 456.2,129.3 456.6,129.7 457,130 457.4,130.5 457.8,130.5 458.2,130.7 458.6,130.6 459,130.6 459.4,130.7 459.8,130.6 460.2,130.3 460.6,130.4 461,130.2 461.4,130 461.8,129.8 462.2,129.7 462.6,129.4 463,129.2 463.4,129 463.8,128.9 464.2,128.7 464.6,128.6 465,128.4 465.4,128.4 465.8,128.4 466.2,128.3 466.6,128.5 467,128.7 467.4,128.8 467.8,128.7 468.2,129.1 468.6,129.2 469,129.5 469.4,129.7 469.8,130 470.2,130.4 470.6,130.7 471,131 471.4,131.3 471.8,131.6 472.2,132 472.6,132.5 473,132.6 473.4,133 473.8,133.3 474.2,133.5 474.6,133.9 475,134.1 475.4,134.2 475.8,134.4 476.2,134.8 476.6,134.9 477,135 477.4,134.9 477.8,135 478.2,135 478.6,134.8 479,134.6 479.4,134.5 479.8,134.3 480.2,133.9 480.6,133.7 481,133.4 481.4,132.9 481.8,132.6 482.2,132.3 482.6,132 483,131.6 483.4,131.1 483.8,130.8 484.2,130.7 484.6,130.3 485,130.1 485.4,129.9 485.8,129.9 486.2,129.6 486.6,129.7 487,129.4 487.4,129.5 487.8,129.4 488.2,129.1 488.6,129.2 489,129.1 489.4,129 489.8,129 490.2,128.8 490.6,128.8 491,128.8 491.4,128.8 491.8,128.6 492.2,128.5 492.6,128.8 493,128.7 493.4,128.6 493.8,128.4 494.2,128.5 494.6,128.5 495,128.4 495.4,128.6 495.8,128.5 496.2,128.6 496.6,128.5 497,128.5 497.4,128.5 497.8,128.7 498.2,128.7 498.6,128.7 499,128.8 499.4,128.8 499.8,129 500.2,128.9 500.6,128.9 501,129 501.4,129.2 501.8,129.1 502.2,129.3 502.6,129.3 503,129.4 503.4,129.5 503.8,129.5 504.2,129.6 504.6,129.8 505,129.9 505.4,130 505.8,130.1 506.2,130.1 506.6,130.2 507,130.5 507.4,130.4 507.8,130.7 508.2,130.7 508.6,131 509,131.2 509.4,131.4 509.8,131.7 510.2,131.8 510.6,132 511,132.3 511.4,132.4 511.8,132.8 512.2,132.9 512.6,133.2 513,133.2 513.4,133.5 513.8,133.7 514.2,133.9 514.6,134.1 515,134.3 515.4,134.6 515.8,134.6 516.2,134.8 516.6,135 517,135.4 517.4,135.5 517.8,135.6 518.2,135.8 518.6,135.9 519,136.1 519.4,136.3 519.8,136.5 520.2,136.6 520.6,136.7 521,137 521.4,137.1 521.8,137.1 522.2,137.4 522.6,137.6 523,137.5 523.4,137.7 523.8,137.7 524.2,138 524.6,137.9 525,138 525.4,138.1 525.8,138.4 526.2,138.3 526.6,138.3 527,138.5 527.4,138.6 527.8,138.8 528.2,138.6 528.6,138.7 529,138.8 529.4,138.9 529.8,139 530.2,139.1 530.6,139 531,139.1 531.4,139.2 531.8,139.3 532.2,139.3 532.6,139.3 533,139.3 533.4,139.5 533.8,139.6 534.2,139.8 534.6,139.6 535,139.8 535.4,139.6" fill="none" stroke="#1fd3e3" stroke-width="1.3" stroke-linejoin="round" clip-path="url(#cb)"/>
<polyline points="299,142.7 299.4,142.6 299.8,142.7 300.2,142.6 300.6,142.7 301,142.7 301.4,142.7 301.8,142.7 302.2,142.7 302.6,142.7 303,142.8 303.4,142.7 303.8,142.7 304.2,142.7 304.6,142.7 305,142.7 305.4,142.6 305.8,142.8 306.2,142.8 306.6,142.8 307,142.7 307.4,142.6 307.8,142.7 308.2,142.7 308.6,142.8 309,142.7 309.4,142.7 309.8,142.8 310.2,142.6 310.6,142.8 311,142.8 311.4,142.6 311.8,142.7 312.2,142.7 312.6,142.6 313,142.6 313.4,142.6 313.8,142.7 314.2,142.7 314.6,142.7 315,142.6 315.4,142.7 315.8,142.7 316.2,142.6 316.6,142.6 317,142.7 317.4,142.7 317.8,142.6 318.2,142.7 318.6,142.7 319,142.8 319.4,142.6 319.8,142.7 320.2,142.9 320.6,142.7 321,142.9 321.4,142.7 321.8,143.1 322.2,143.2 322.6,143.2 323,143.6 323.4,143.8 323.8,144.1 324.2,144.3 324.6,144.4 325,144.6 325.4,144.9 325.8,145.2 326.2,145.5 326.6,145.7 327,146 327.4,146.3 327.8,146.5 328.2,146.9 328.6,147.1 329,147 329.4,147.2 329.8,147.3 330.2,147.5 330.6,147.7 331,147.7 331.4,147.9 331.8,148.1 332.2,148.3 332.6,148.3 333,148.5 333.4,148.7 333.8,148.8 334.2,148.9 334.6,149.1 335,149.1 335.4,149.3 335.8,149.4 336.2,149.6 336.6,149.7 337,149.7 337.4,150 337.8,149.9 338.2,150.2 338.6,150.3 339,150.3 339.4,150.4 339.8,150.6 340.2,150.7 340.6,150.8 341,151 341.4,150.9 341.8,151.1 342.2,151.2 342.6,151.2 343,151.4 343.4,151.4 343.8,151.4 344.2,151.6 344.6,151.7 345,151.8 345.4,151.8 345.8,152 346.2,152.1 346.6,152.1 347,152.1 347.4,152.1 347.8,152.1 348.2,152.2 348.6,152.2 349,152.2 349.4,152.2 349.8,152.1 350.2,152.3 350.6,152.2 351,152.1 351.4,152.2 351.8,152.2 352.2,152.1 352.6,152.2 353,152.2 353.4,152 353.8,152 354.2,152 354.6,152 355,152 355.4,151.7 355.8,151.8 356.2,151.9 356.6,151.8 357,151.8 357.4,151.6 357.8,151.5 358.2,151.4 358.6,151.5 359,151.3 359.4,151.4 359.8,151.3 360.2,151.2 360.6,150.9 361,151 361.4,151 361.8,150.8 362.2,150.8 362.6,150.7 363,150.7 363.4,150.6 363.8,150.5 364.2,150.3 364.6,150.3 365,150.2 365.4,150.1 365.8,150 366.2,150 366.6,149.7 367,149.8 367.4,149.6 367.8,149.6 368.2,149.4 368.6,149.4 369,149.3 369.4,149.1 369.8,149 370.2,148.9 370.6,148.8 371,148.6 371.4,148.6 371.8,148.5 372.2,148.3 372.6,148.3 373,148 373.4,148.2 373.8,148 374.2,148 374.6,147.7 375,147.6 375.4,147.6 375.8,147.3 376.2,147.4 376.6,147.2 377,147.1 377.4,147.1 377.8,146.9 378.2,147 378.6,146.8 379,146.6 379.4,146.6 379.8,146.4 380.2,146.4 380.6,146.2 381,146.1 381.4,146.2 381.8,146 382.2,145.9 382.6,145.8 383,145.7 383.4,145.8 383.8,145.5 384.2,145.4 384.6,145.5 385,145.3 385.4,145.3 385.8,145.3 386.2,145.2 386.6,145.1 387,145 387.4,144.9 387.8,144.9 388.2,144.9 388.6,144.9 389,144.9 389.4,144.7 389.8,144.6 390.2,144.7 390.6,144.5 391,144.5 391.4,144.5 391.8,144.4 392.2,144.4 392.6,144.5 393,144.3 393.4,144.4 393.8,144.4 394.2,144.4 394.6,144.3 395,144.5 395.4,144.4 395.8,144.4 396.2,144.4 396.6,144.3 397,144.3 397.4,144.5 397.8,144.4 398.2,144.4 398.6,144.5 399,144.3 399.4,144.5 399.8,144.4 400.2,144.3 400.6,144.5 401,144.3 401.4,144.5 401.8,144.3 402.2,144.4 402.6,144.5 403,144.5 403.4,144.4 403.8,144.4 404.2,144.4 404.6,144.3 405,144.3 405.4,144.4 405.8,144.5 406.2,144.3 406.6,144.4 407,144.5 407.4,144.5 407.8,144.4 408.2,144.5 408.6,144.4 409,144.5 409.4,144.6 409.8,144.3 410.2,144.5 410.6,144.5 411,144.5 411.4,144.4 411.8,144.4 412.2,144.4 412.6,144.5 413,144.5 413.4,144.4 413.8,144.4 414.2,144.4 414.6,144.5 415,144.5 415.4,144.5 415.8,144.5 416.2,144.4 416.6,144.3 417,144.5 417.4,144.6 417.8,144.4 418.2,144.5 418.6,144.6 419,144.8 419.4,145.1 419.8,145.6 420.2,146.1 420.6,146.8 421,147.3 421.4,147.5 421.8,147.4 422.2,146.8 422.6,146.2 423,145.5 423.4,145.1 423.8,144.7 424.2,144.6 424.6,144.3 425,144.4 425.4,144.6 425.8,144.5 426.2,144.5 426.6,144.4 427,144.6 427.4,144.5 427.8,144.5 428.2,144.5 428.6,144.5 429,144.6 429.4,144.5 429.8,144.4 430.2,144.5 430.6,144.6 431,144.5 431.4,144.5 431.8,144.5 432.2,144.5 432.6,144.5 433,144.4 433.4,144.4 433.8,144.5 434.2,144.5 434.6,144.5 435,144.6 435.4,144.5 435.8,144.5 436.2,144.4 436.6,144.4 437,144.5 437.4,144.4 437.8,144.3 438.2,144.6 438.6,144.5 439,144.6 439.4,144.5 439.8,144.5 440.2,144.5 440.6,144.6 441,144.4 441.4,144.6 441.8,144.4 442.2,144.5 442.6,144.7 443,144.6 443.4,144.7 443.8,144.6 444.2,144.7 444.6,144.6 445,144.7 445.4,144.6 445.8,144.7 446.2,144.8 446.6,144.7 447,144.8 447.4,144.9 447.8,144.9 448.2,144.9 448.6,144.9 449,145.1 449.4,145.1 449.8,145.2 450.2,145.2 450.6,145.4 451,145.3 451.4,145.2 451.8,145.5 452.2,145.5 452.6,145.7 453,145.8 453.4,146.2 453.8,146.5 454.2,146.8 454.6,147.1 455,147.6 455.4,148 455.8,148.5 456.2,148.7 456.6,149 457,149.4 457.4,149.6 457.8,150 458.2,150 458.6,150.2 459,150.2 459.4,150.2 459.8,150 460.2,149.9 460.6,149.9 461,149.7 461.4,149.6 461.8,149.4 462.2,149.1 462.6,149.1 463,149.1 463.4,148.8 463.8,148.7 464.2,148.5 464.6,148.4 465,148.2 465.4,148.3 465.8,148.3 466.2,148.2 466.6,148.3 467,148.4 467.4,148.5 467.8,148.7 468.2,148.9 468.6,149.2 469,149.3 469.4,149.7 469.8,150.1 470.2,150.3 470.6,150.5 471,151.1 471.4,151.3 471.8,152 472.2,152.3 472.6,152.7 473,152.9 473.4,153.2 473.8,153.7 474.2,154 474.6,154.2 475,154.6 475.4,154.9 475.8,155.1 476.2,155.2 476.6,155.2 477,155.5 477.4,155.5 477.8,155.6 478.2,155.7 478.6,155.5 479,155.2 479.4,155 479.8,154.7 480.2,154.3 480.6,153.9 481,153.5 481.4,153 481.8,152.5 482.2,152 482.6,151.6 483,151.1 483.4,150.8 483.8,150.3 484.2,150 484.6,149.7 485,149.2 485.4,149.1 485.8,148.8 486.2,148.8 486.6,148.7 487,148.5 487.4,148.5 487.8,148.3 488.2,148.2 488.6,148.2 489,148 489.4,148 489.8,147.8 490.2,147.8 490.6,147.6 491,147.7 491.4,147.6 491.8,147.6 492.2,147.4 492.6,147.7 493,147.4 493.4,147.4 493.8,147.3 494.2,147.4 494.6,147.3 495,147.4 495.4,147.2 495.8,147.3 496.2,147.3 496.6,147.4 497,147.4 497.4,147.4 497.8,147.5 498.2,147.5 498.6,147.5 499,147.7 499.4,147.6 499.8,147.9 500.2,147.9 500.6,147.9 501,148.1 501.4,148.2 501.8,148.2 502.2,148.4 502.6,148.6 503,148.6 503.4,148.7 503.8,148.7 504.2,148.8 504.6,149 505,149.1 505.4,149.2 505.8,149.3 506.2,149.5 506.6,149.5 507,149.7 507.4,149.8 507.8,150.1 508.2,150 508.6,150.3 509,150.5 509.4,150.6 509.8,151 510.2,151.1 510.6,151.2 511,151.2 511.4,151.5 511.8,151.6 512.2,151.9 512.6,152.1 513,152.2 513.4,152.4 513.8,152.7 514.2,152.8 514.6,152.9 515,153 515.4,153.4 515.8,153.5 516.2,153.6 516.6,153.8 517,154.1 517.4,154.2 517.8,154.5 518.2,154.5 518.6,154.7 519,155 519.4,155.1 519.8,155.4 520.2,155.6 520.6,155.7 521,156 521.4,156.1 521.8,156.3 522.2,156.4 522.6,156.5 523,156.7 523.4,156.7 523.8,156.9 524.2,157 524.6,157.3 525,157.4 525.4,157.4 525.8,157.6 526.2,157.7 526.6,157.8 527,158 527.4,158.1 527.8,158.1 528.2,158.2 528.6,158.3 529,158.3 529.4,158.4 529.8,158.5 530.2,158.5 530.6,158.5 531,158.6 531.4,158.7 531.8,158.7 532.2,158.7 532.6,158.8 533,158.8 533.4,158.9 533.8,158.9 534.2,158.8 534.6,158.9 535,158.8 535.4,158.8" fill="none" stroke="#a85868" stroke-width="1.3" stroke-linejoin="round" clip-path="url(#cb)"/>
<polyline points="299,161.4 299.4,161.4 299.8,161.2 300.2,161.3 300.6,161.3 301,161.4 301.4,161.3 301.8,161.3 302.2,161.3 302.6,161.3 303,161.3 303.4,161.3 303.8,161.3 304.2,161.3 304.6,161.2 305,161.3 305.4,161.3 305.8,161.3 306.2,161.4 306.6,161.2 307,161.3 307.4,161.2 307.8,161.3 308.2,161.3 308.6,161.3 309,161.3 309.4,161.2 309.8,161.3 310.2,161.2 310.6,161.3 311,161.3 311.4,161.4 311.8,161.4 312.2,161.4 312.6,161.3 313,161.3 313.4,161.3 313.8,161.3 314.2,161.4 314.6,161.3 315,161.3 315.4,161.3 315.8,161.3 316.2,161.3 316.6,161.2 317,161.1 317.4,161.3 317.8,161.4 318.2,161.3 318.6,161.1 319,161.3 319.4,161.2 319.8,161.4 320.2,161.3 320.6,161.2 321,161.4 321.4,161.4 321.8,161.6 322.2,161.6 322.6,161.7 323,161.9 323.4,161.9 323.8,162.3 324.2,162.3 324.6,162.4 325,162.5 325.4,162.9 325.8,163 326.2,163 326.6,163.4 327,163.4 327.4,163.5 327.8,163.6 328.2,163.7 328.6,163.9 329,163.9 329.4,163.8 329.8,164.1 330.2,164.1 330.6,163.9 331,164 331.4,164 331.8,164 332.2,164.1 332.6,164.1 333,164 333.4,164 333.8,164.1 334.2,164.1 334.6,164.3 335,164 335.4,164.2 335.8,164.1 336.2,164.1 336.6,164.2 337,164.1 337.4,164.1 337.8,164.1 338.2,164.2 338.6,164 339,164.2 339.4,164.2 339.8,164.1 340.2,164.3 340.6,164.3 341,164.2 341.4,164.2 341.8,164.3 342.2,164.3 342.6,164.1 343,164.2 343.4,164.2 343.8,164.2 344.2,164.1 344.6,164.3 345,164.2 345.4,164.2 345.8,164.3 346.2,164.2 346.6,164.2 347,164.2 347.4,164.2 347.8,164.2 348.2,164.3 348.6,164.2 349,164.3 349.4,164.1 349.8,164.2 350.2,164.1 350.6,164.2 351,164.1 351.4,164.3 351.8,164.2 352.2,164.2 352.6,164.3 353,164.3 353.4,164.2 353.8,164.1 354.2,164.1 354.6,164.2 355,164.1 355.4,164.1 355.8,164.1 356.2,164 356.6,164.2 357,164 357.4,164 357.8,164.1 358.2,163.9 358.6,164.1 359,164.1 359.4,164 359.8,163.9 360.2,164 360.6,163.8 361,164.1 361.4,164 361.8,163.9 362.2,163.9 362.6,164 363,164 363.4,163.8 363.8,163.8 364.2,163.7 364.6,163.9 365,163.8 365.4,164 365.8,163.8 366.2,163.7 366.6,163.7 367,163.8 367.4,163.6 367.8,163.7 368.2,163.7 368.6,163.6 369,163.6 369.4,163.7 369.8,163.7 370.2,163.5 370.6,163.6 371,163.7 371.4,163.5 371.8,163.5 372.2,163.4 372.6,163.4 373,163.4 373.4,163.4 373.8,163.3 374.2,163.2 374.6,163.2 375,163.3 375.4,163.4 375.8,163.2 376.2,163.2 376.6,163.3 377,163.3 377.4,163.2 377.8,163.1 378.2,163.2 378.6,163.2 379,163.1 379.4,163.1 379.8,163.1 380.2,163.2 380.6,163 381,163.1 381.4,163.1 381.8,162.9 382.2,163.1 382.6,163 383,162.9 383.4,163.1 383.8,162.8 384.2,162.8 384.6,162.9 385,162.9 385.4,162.9 385.8,162.9 386.2,163 386.6,162.9 387,162.9 387.4,163 387.8,162.8 388.2,162.6 388.6,162.7 389,162.7 389.4,162.8 389.8,162.8 390.2,162.7 390.6,162.7 391,162.7 391.4,162.7 391.8,162.5 392.2,162.8 392.6,162.7 393,162.7 393.4,162.7 393.8,162.6 394.2,162.7 394.6,162.8 395,162.8 395.4,162.7 395.8,162.7 396.2,162.6 396.6,162.8 397,162.7 397.4,162.7 397.8,162.5 398.2,162.6 398.6,162.6 399,162.8 399.4,162.7 399.8,162.7 400.2,162.7 400.6,162.9 401,162.8 401.4,162.6 401.8,162.7 402.2,162.7 402.6,162.6 403,162.8 403.4,163 403.8,162.9 404.2,162.8 404.6,162.8 405,162.8 405.4,162.9 405.8,162.7 406.2,162.7 406.6,163 407,162.9 407.4,163 407.8,162.9 408.2,163 408.6,162.8 409,162.9 409.4,163 409.8,163 410.2,162.9 410.6,163 411,162.9 411.4,162.8 411.8,163 412.2,163 412.6,163 413,162.8 413.4,163 413.8,163 414.2,162.9 414.6,162.8 415,163 415.4,163 415.8,163 416.2,162.8 416.6,162.9 417,163.1 417.4,163.1 417.8,163 418.2,163 418.6,163.2 419,163.3 419.4,163.6 419.8,164 420.2,164.8 420.6,165.4 421,166.1 421.4,166.3 421.8,165.9 422.2,165.6 422.6,164.7 423,164.1 423.4,163.7 423.8,163.4 424.2,162.9 424.6,163.1 425,163.1 425.4,163.1 425.8,162.8 426.2,162.9 426.6,163 427,163 427.4,163.1 427.8,162.9 428.2,163.1 428.6,163 429,162.9 429.4,162.9 429.8,163 430.2,163 430.6,163.1 431,163 431.4,163.1 431.8,162.9 432.2,162.8 432.6,163 433,163 433.4,163 433.8,162.9 434.2,163 434.6,163.2 435,163 435.4,162.9 435.8,162.9 436.2,163.2 436.6,163 437,163 437.4,163.1 437.8,163.1 438.2,162.9 438.6,163.1 439,163.1 439.4,163 439.8,163.1 440.2,163 440.6,163 441,163 441.4,163.1 441.8,163 442.2,163.1 442.6,163 443,163.1 443.4,163.1 443.8,163.1 444.2,163.2 444.6,163.2 445,163.2 445.4,163.1 445.8,163.3 446.2,163.2 446.6,163.3 447,163.3 447.4,163.5 447.8,163.4 448.2,163.5 448.6,163.6 449,163.7 449.4,163.7 449.8,163.7 450.2,163.6 450.6,163.8 451,163.9 451.4,163.9 451.8,163.9 452.2,163.9 452.6,163.9 453,164.2 453.4,164.3 453.8,164.2 454.2,164.4 454.6,164.5 455,164.7 455.4,164.7 455.8,164.9 456.2,165 456.6,165.1 457,165 457.4,165.2 457.8,165.2 458.2,165.2 458.6,165.4 459,165.2 459.4,165.4 459.8,165.4 460.2,165.2 460.6,165.3 461,165.2 461.4,165.2 461.8,165 462.2,165.1 462.6,165 463,165 463.4,164.9 463.8,164.9 464.2,164.8 464.6,164.8 465,164.8 465.4,164.7 465.8,164.8 466.2,164.7 466.6,164.8 467,164.7 467.4,164.9 467.8,165 468.2,165 468.6,165.1 469,165.2 469.4,165.2 469.8,165.5 470.2,165.7 470.6,165.7 471,165.7 471.4,166 471.8,166.1 472.2,166.5 472.6,166.5 473,166.6 473.4,166.7 473.8,166.9 474.2,167 474.6,167.1 475,167.3 475.4,167.3 475.8,167.6 476.2,167.5 476.6,167.6 477,167.6 477.4,167.6 477.8,167.8 478.2,167.5 478.6,167.8 479,167.5 479.4,167.5 479.8,167.6 480.2,167.1 480.6,167 481,167.1 481.4,166.9 481.8,166.7 482.2,166.6 482.6,166.4 483,166.3 483.4,166.3 483.8,166 484.2,166 484.6,165.9 485,165.9 485.4,165.7 485.8,165.7 486.2,165.7 486.6,165.7 487,165.7 487.4,165.7 487.8,165.6 488.2,165.6 488.6,165.7 489,165.7 489.4,165.8 489.8,165.7 490.2,165.7 490.6,165.8 491,165.8 491.4,165.8 491.8,165.8 492.2,166 492.6,165.8 493,165.8 493.4,165.7 493.8,165.9 494.2,165.9 494.6,166 495,165.9 495.4,166 495.8,166 496.2,166.1 496.6,165.9 497,166.1 497.4,166 497.8,166 498.2,166.1 498.6,166.1 499,166.1 499.4,166 499.8,166.3 500.2,166.3 500.6,166.2 501,166.4 501.4,166.6 501.8,166.5 502.2,166.5 502.6,166.7 503,166.5 503.4,166.7 503.8,166.7 504.2,166.8 504.6,166.9 505,166.9 505.4,166.9 505.8,167 506.2,167.2 506.6,167.2 507,167.4 507.4,167.4 507.8,167.6 508.2,167.8 508.6,167.9 509,168.1 509.4,168.2 509.8,168.4 510.2,168.5 510.6,168.7 511,168.9 511.4,169.1 511.8,169.3 512.2,169.4 512.6,169.8 513,169.9 513.4,170 513.8,170.2 514.2,170.3 514.6,170.4 515,170.6 515.4,171 515.8,171 516.2,171.1 516.6,171.2 517,171.4 517.4,171.7 517.8,171.7 518.2,171.9 518.6,172.1 519,172.2 519.4,172.4 519.8,172.5 520.2,172.6 520.6,172.7 521,173.1 521.4,173 521.8,173.1 522.2,173.3 522.6,173.2 523,173.3 523.4,173.3 523.8,173.4 524.2,173.4 524.6,173.6 525,173.5 525.4,173.6 525.8,173.6 526.2,173.7 526.6,173.7 527,173.8 527.4,173.8 527.8,173.8 528.2,173.8 528.6,173.9 529,173.8 529.4,173.9 529.8,173.9 530.2,173.8 530.6,173.8 531,173.7 531.4,173.8 531.8,173.5 532.2,173.4 532.6,173.4 533,173.3 533.4,173.5 533.8,173.5 534.2,173.9 534.6,174.6 535,174.9 535.4,175.4" fill="none" stroke="#a7a126" stroke-width="1.3" stroke-linejoin="round" clip-path="url(#cb)"/>
<rect x="299.0" y="12.0" width="236.7" height="167.8" fill="none" stroke="#1a1a1a" stroke-width="1.1"/>
<line x1="535.7" y1="179.8" x2="535.7" y2="182.6" stroke="#1a1a1a" stroke-width="1"/>
<text x="535.7" y="191.4" font-size="8.4" text-anchor="middle" fill="#111" font-weight="bold">500</text>
<line x1="518.8" y1="179.8" x2="518.8" y2="181.4" stroke="#1a1a1a" stroke-width="1"/>
<line x1="501.9" y1="179.8" x2="501.9" y2="182.6" stroke="#1a1a1a" stroke-width="1"/>
<text x="501.9" y="191.4" font-size="8.4" text-anchor="middle" fill="#111" font-weight="bold">1000</text>
<line x1="485" y1="179.8" x2="485" y2="181.4" stroke="#1a1a1a" stroke-width="1"/>
<line x1="468.1" y1="179.8" x2="468.1" y2="182.6" stroke="#1a1a1a" stroke-width="1"/>
<text x="468.1" y="191.4" font-size="8.4" text-anchor="middle" fill="#111" font-weight="bold">1500</text>
<line x1="451.2" y1="179.8" x2="451.2" y2="181.4" stroke="#1a1a1a" stroke-width="1"/>
<line x1="434.3" y1="179.8" x2="434.3" y2="182.6" stroke="#1a1a1a" stroke-width="1"/>
<text x="434.3" y="191.4" font-size="8.4" text-anchor="middle" fill="#111" font-weight="bold">2000</text>
<line x1="417.4" y1="179.8" x2="417.4" y2="181.4" stroke="#1a1a1a" stroke-width="1"/>
<line x1="400.4" y1="179.8" x2="400.4" y2="182.6" stroke="#1a1a1a" stroke-width="1"/>
<text x="400.4" y="191.4" font-size="8.4" text-anchor="middle" fill="#111" font-weight="bold">2500</text>
<line x1="383.5" y1="179.8" x2="383.5" y2="181.4" stroke="#1a1a1a" stroke-width="1"/>
<line x1="366.6" y1="179.8" x2="366.6" y2="182.6" stroke="#1a1a1a" stroke-width="1"/>
<text x="366.6" y="191.4" font-size="8.4" text-anchor="middle" fill="#111" font-weight="bold">3000</text>
<line x1="349.7" y1="179.8" x2="349.7" y2="181.4" stroke="#1a1a1a" stroke-width="1"/>
<line x1="332.8" y1="179.8" x2="332.8" y2="182.6" stroke="#1a1a1a" stroke-width="1"/>
<text x="332.8" y="191.4" font-size="8.4" text-anchor="middle" fill="#111" font-weight="bold">3500</text>
<line x1="315.9" y1="179.8" x2="315.9" y2="181.4" stroke="#1a1a1a" stroke-width="1"/>
<line x1="299" y1="179.8" x2="299" y2="182.6" stroke="#1a1a1a" stroke-width="1"/>
<text x="299" y="191.4" font-size="8.4" text-anchor="middle" fill="#111" font-weight="bold">4000</text>
<text x="417.3" y="206.9" font-size="9.4" text-anchor="middle" font-weight="bold" fill="#111">Wavenumber (cm<tspan font-size="5.8" dy="-3.4">-1</tspan><tspan dy="3.4">)</tspan></text>
<text transform="translate(292.2,95) rotate(-90)" font-size="8.8" text-anchor="middle" font-weight="bold" fill="#111">Transmittance (arb. units)</text>
<text x="273" y="25.9" font-size="17.5" text-anchor="start" fill="#111" font-weight="bold">(b)</text>
<text x="371.8" y="28.5" font-size="7.3" text-anchor="start" fill="#111" font-weight="bold" textLength="30.6" lengthAdjust="spacingAndGlyphs" style="stroke-width:0.3px">1-LDH/NF</text>
<text x="367.8" y="47" font-size="7.3" text-anchor="start" fill="#111" font-weight="bold" textLength="50.3" lengthAdjust="spacingAndGlyphs" style="stroke-width:0.3px">0.5-LDH/3MXNF</text>
<text x="369.4" y="65.9" font-size="7.3" text-anchor="start" fill="#111" font-weight="bold" textLength="47.8" lengthAdjust="spacingAndGlyphs" style="stroke-width:0.3px">1.0-LDH/3MXNF</text>
<text x="368.7" y="86" font-size="7.3" text-anchor="start" fill="#111" font-weight="bold" textLength="48.5" lengthAdjust="spacingAndGlyphs" style="stroke-width:0.3px">2.0-LDH/3MXNF</text>
<text x="368.7" y="104.1" font-size="7.3" text-anchor="start" fill="#111" font-weight="bold" textLength="47.6" lengthAdjust="spacingAndGlyphs" style="stroke-width:0.3px">0.5-LDH/5MXNF</text>
<text x="369.4" y="121.6" font-size="7.3" text-anchor="start" fill="#111" font-weight="bold" textLength="47.1" lengthAdjust="spacingAndGlyphs" style="stroke-width:0.3px">1.0-LDH/5MXNF</text>
<text x="367.8" y="140.9" font-size="7.3" text-anchor="start" fill="#111" font-weight="bold" textLength="47.4" lengthAdjust="spacingAndGlyphs" style="stroke-width:0.3px">2.0-LDH/5MXNF</text>
<text x="367.4" y="156.2" font-size="7.3" text-anchor="start" fill="#111" font-weight="bold" textLength="47.8" lengthAdjust="spacingAndGlyphs" style="stroke-width:0.3px">1.0-LDH/3MCNF</text>
<text x="336" y="24.6" font-size="8.2" font-weight="bold" fill="#111">&#957;<tspan font-size="5.8" dy="2.4">O-H</tspan></text>
<text x="414.5" y="24.4" font-size="8.2" font-weight="bold" fill="#111">&#957;<tspan font-size="5.8" dy="1.6">C-O</tspan></text>
<text x="451.8" y="26.2" font-size="8.4" font-weight="bold" fill="#111">&#948;<tspan font-size="5.8" dy="2.2">O-H</tspan></text>
<text x="473.6" y="26.6" font-size="9.5" font-weight="bold" fill="#111">CO<tspan font-size="4.5" dx="0.2" dy="-3.5">2-</tspan><tspan font-size="4.5" dx="-3.6" dy="5">3</tspan><tspan dy="-1.3" dx="0.6" font-size="8">&#957;</tspan><tspan font-size="6.3" dy="2.2">C-O</tspan></text>
<text x="513.2" y="33.0" font-size="8.2" font-weight="bold" fill="#111">&#957;<tspan font-size="5.8" dy="1.6">M-OH</tspan></text>
<clipPath id="sc"><rect x="7.1" y="215" width="176" height="120.7"/></clipPath>
<g clip-path="url(#sc)">
<rect x="7.1" y="215" width="176" height="120.7" fill="#5a5a5a"/>
<g filter="url(#sblur)">
<ellipse cx="75" cy="228" rx="20" ry="12" transform="rotate(0 75 228)" fill="#3a3a3a" opacity="0.5"/>
<ellipse cx="150" cy="240" rx="30" ry="18" transform="rotate(0 150 240)" fill="#555" opacity="0.35"/>
<ellipse cx="120" cy="310" rx="25" ry="15" transform="rotate(20 120 310)" fill="#555" opacity="0.3"/>
<ellipse cx="25" cy="240" rx="22" ry="22" transform="rotate(0 25 240)" fill="#a0a0a0" opacity="0.35"/>
<ellipse cx="160" cy="300" rx="20" ry="20" transform="rotate(0 160 300)" fill="#8a8a8a" opacity="0.3"/>
<ellipse cx="30" cy="310" rx="20" ry="18" transform="rotate(0 30 310)" fill="#888" opacity="0.3"/>
</g>
<g filter="url(#fblur)">
<path transform="translate(23.8 275.3) rotate(10)" d="M-14.4 0Q0 -7.4 14.4 0Q-7.4 10.4 -14.4 0Z" fill="url(#g1)"/>
<path transform="translate(118.5 257.4) rotate(238)" d="M-13.2 0Q0 5.7 13.2 0Q4.5 12.4 -13.2 0Z" fill="url(#g2)"/>
<path transform="translate(97.5 318.6) rotate(353)" d="M-13.7 0Q0 -0.9 13.7 0Q-0.3 11.3 -13.7 0Z" fill="url(#g4)"/>
<path transform="translate(44.3 316.7) rotate(46)" d="M-18.1 0Q0 4.9 18.1 0Q-9.1 15.5 -18.1 0Z" fill="url(#g3)"/>
<path transform="translate(81.7 227.2) rotate(72)" d="M-15.4 0Q0 5.2 15.4 0Q-8.6 22.4 -15.4 0Z" fill="url(#g3)"/>
<path transform="translate(89.1 330.9) rotate(122)" d="M-15.8 0Q0 6.4 15.8 0Q9.4 8.3 -15.8 0Z" fill="url(#g3)"/>
<path transform="translate(131.8 214.5) rotate(304)" d="M-6.5 0Q0 1.5 6.5 0Q-1.4 17.4 -6.5 0Z" fill="url(#g3)"/>
<path transform="translate(3.8 321.7) rotate(45)" d="M-12.5 0Q0 4.6 12.5 0Q-6.6 19.8 -12.5 0Z" fill="url(#g2)"/>
<path transform="translate(171.1 210.7) rotate(68)" d="M-17.3 0Q0 10 17.3 0Q-4.3 9.5 -17.3 0Z" fill="url(#g4)"/>
<path transform="translate(162.9 236.7) rotate(92)" d="M-10.4 0Q0 -5.5 10.4 0Q-2 23.7 -10.4 0Z" fill="url(#g4)"/>
<path transform="translate(59.4 309) rotate(24)" d="M-6.6 0Q0 2 6.6 0Q2.7 14.5 -6.6 0Z" fill="url(#g3)"/>
<path transform="translate(126.1 301.6) rotate(333)" d="M-16.9 0Q0 -2.6 16.9 0Q-7.2 10.4 -16.9 0Z" fill="url(#g4)"/>
<path transform="translate(150.1 329.3) rotate(12)" d="M-16.6 0Q0 6.7 16.6 0Q10 13.8 -16.6 0Z" fill="url(#g2)"/>
<path transform="translate(67.7 215.3) rotate(229)" d="M-18.2 0Q0 0 18.2 0Q-9.2 10.6 -18.2 0Z" fill="url(#g2)"/>
<path transform="translate(43.6 212.3) rotate(199)" d="M-7.6 0Q0 1.6 7.6 0Q1.3 18.2 -7.6 0Z" fill="url(#g2)"/>
<path transform="translate(59.6 261) rotate(41)" d="M-18.8 0Q0 -1.4 18.8 0Q10.4 9.4 -18.8 0Z" fill="url(#g3)"/>
<path transform="translate(133.5 216.1) rotate(246)" d="M-17.3 0Q0 0.7 17.3 0Q-9.4 10.3 -17.3 0Z" fill="url(#g3)"/>
<path transform="translate(153.6 310.9) rotate(284)" d="M-9.7 0Q0 4.2 9.7 0Q-1.3 12 -9.7 0Z" fill="url(#g4)"/>
<path transform="translate(54 289.8) rotate(86)" d="M-14.4 0Q0 2.5 14.4 0Q4.1 18 -14.4 0Z" fill="url(#g3)"/>
<path transform="translate(78.8 282.6) rotate(186)" d="M-15.4 0Q0 -8.9 15.4 0Q-7.5 12.1 -15.4 0Z" fill="url(#g3)"/>
<path transform="translate(104.5 210.9) rotate(287)" d="M-8.2 0Q0 -1.3 8.2 0Q3.9 20.5 -8.2 0Z" fill="url(#g4)"/>
<path transform="translate(122.9 253.5) rotate(138)" d="M-16.5 0Q0 -7.5 16.5 0Q3.8 10.5 -16.5 0Z" fill="url(#g4)"/>
<path transform="translate(106.5 314) rotate(203)" d="M-12.3 0Q0 -0.8 12.3 0Q4.6 9 -12.3 0Z" fill="url(#g3)"/>
<path transform="translate(94.4 327.5) rotate(315)" d="M-7.5 0Q0 3.7 7.5 0Q1.1 13.9 -7.5 0Z" fill="url(#g4)"/>
<path transform="translate(81.3 323.5) rotate(222)" d="M-7.9 0Q0 -0.3 7.9 0Q-0 14.6 -7.9 0Z" fill="url(#g2)"/>
<path transform="translate(164.6 230.4) rotate(24)" d="M-6.2 0Q0 -3.5 6.2 0Q-3.4 15.4 -6.2 0Z" fill="url(#g2)"/>
<path transform="translate(102 223.4) rotate(74)" d="M-11.9 0Q0 -0.6 11.9 0Q-3 19.4 -11.9 0Z" fill="url(#g3)"/>
<path transform="translate(146.2 266.6) rotate(265)" d="M-11.7 0Q0 5.9 11.7 0Q-4.8 23.5 -11.7 0Z" fill="url(#g3)"/>
<path transform="translate(96.6 216.8) rotate(79)" d="M-6.7 0Q0 -1.9 6.7 0Q0.9 14.2 -6.7 0Z" fill="url(#g4)"/>
<path transform="translate(85.9 326.6) rotate(131)" d="M-18.8 0Q0 -9.7 18.8 0Q-2.1 22.2 -18.8 0Z" fill="url(#g2)"/>
<path transform="translate(69.2 228) rotate(31)" d="M-14.1 0Q0 -5.2 14.1 0Q7 18.6 -14.1 0Z" fill="url(#g3)"/>
<path transform="translate(172.4 326) rotate(213)" d="M-19.5 0Q0 3 19.5 0Q-7.4 18.8 -19.5 0Z" fill="url(#g3)"/>
<path transform="translate(137.5 251.4) rotate(180)" d="M-15.7 0Q0 -8.8 15.7 0Q-6.3 15.2 -15.7 0Z" fill="url(#g3)"/>
<path transform="translate(179.1 273.8) rotate(60)" d="M-10.6 0Q0 1.3 10.6 0Q-4.8 17.5 -10.6 0Z" fill="url(#g3)"/>
<path transform="translate(74.2 286.7) rotate(324)" d="M-13.3 0Q0 -6.9 13.3 0Q4.8 22.6 -13.3 0Z" fill="url(#g4)"/>
<path transform="translate(75.4 261.6) rotate(287)" d="M-6.6 0Q0 3.7 6.6 0Q-0.3 11.9 -6.6 0Z" fill="url(#g3)"/>
<path transform="translate(82.8 256.8) rotate(58)" d="M-15.2 0Q0 -1.7 15.2 0Q0.6 8.2 -15.2 0Z" fill="url(#g3)"/>
<path transform="translate(150 209.5) rotate(215)" d="M-6.4 0Q0 3.3 6.4 0Q-2.9 11.6 -6.4 0Z" fill="url(#g4)"/>
<path transform="translate(63.8 284.1) rotate(131)" d="M-18.4 0Q0 -1.7 18.4 0Q-11 10.9 -18.4 0Z" fill="url(#g3)"/>
<path transform="translate(73.5 213.9) rotate(224)" d="M-13.8 0Q0 -7.6 13.8 0Q-2.4 20 -13.8 0Z" fill="url(#g3)"/>
<path transform="translate(84 236.4) rotate(268)" d="M-18.5 0Q0 -7.1 18.5 0Q9.2 23.1 -18.5 0Z" fill="url(#g4)"/>
<path transform="translate(37.2 263.3) rotate(157)" d="M-15.6 0Q0 -4.9 15.6 0Q-8.1 16.2 -15.6 0Z" fill="url(#g2)"/>
<path transform="translate(8.5 241) rotate(245)" d="M-16.1 0Q0 4 16.1 0Q6.3 14.5 -16.1 0Z" fill="url(#g2)"/>
<path transform="translate(46.6 209.9) rotate(44)" d="M-17.3 0Q0 6 17.3 0Q-4 23.6 -17.3 0Z" fill="url(#g3)"/>
<path transform="translate(58.3 258.8) rotate(140)" d="M-7.5 0Q0 2.5 7.5 0Q3.7 8.4 -7.5 0Z" fill="url(#g1)"/>
<path transform="translate(129.5 327.7) rotate(135)" d="M-10.1 0Q0 -3.6 10.1 0Q1.4 19.4 -10.1 0Z" fill="url(#g3)"/>
<path transform="translate(33.8 310.6) rotate(322)" d="M-15.9 0Q0 1.5 15.9 0Q-7 20.5 -15.9 0Z" fill="url(#g4)"/>
<path transform="translate(109.8 300.2) rotate(123)" d="M-11.4 0Q0 0.2 11.4 0Q2.9 17.2 -11.4 0Z" fill="url(#g4)"/>
<path transform="translate(161.8 260) rotate(333)" d="M-11.2 0Q0 -4 11.2 0Q-5.5 14.3 -11.2 0Z" fill="url(#g3)"/>
<path transform="translate(154.4 327) rotate(222)" d="M-8.1 0Q0 3.4 8.1 0Q3.3 18.1 -8.1 0Z" fill="url(#g3)"/>
<path transform="translate(183.7 232.5) rotate(116)" d="M-13.3 0Q0 -1.7 13.3 0Q0.2 18.3 -13.3 0Z" fill="url(#g4)"/>
<path transform="translate(70.6 328.8) rotate(171)" d="M-12.5 0Q0 3.7 12.5 0Q6.8 12.1 -12.5 0Z" fill="url(#g3)"/>
<path transform="translate(165.8 288.3) rotate(59)" d="M-19.7 0Q0 -6.5 19.7 0Q1.6 23.1 -19.7 0Z" fill="url(#g4)"/>
<path transform="translate(85.2 293.7) rotate(7)" d="M-9.2 0Q0 0.3 9.2 0Q4.5 18.8 -9.2 0Z" fill="url(#g4)"/>
<path transform="translate(156.1 341.8) rotate(347)" d="M-18.6 0Q0 7.5 18.6 0Q-6.1 10.5 -18.6 0Z" fill="url(#g3)"/>
<path transform="translate(28 209.5) rotate(129)" d="M-19.1 0Q0 1 19.1 0Q5.6 18 -19.1 0Z" fill="url(#g3)"/>
<path transform="translate(72.6 280.2) rotate(102)" d="M-7.4 0Q0 1.7 7.4 0Q-1.6 11.6 -7.4 0Z" fill="url(#g1)"/>
<path transform="translate(61.9 320.6) rotate(1)" d="M-6.2 0Q0 -2.7 6.2 0Q1 8.9 -6.2 0Z" fill="url(#g1)"/>
<path transform="translate(183 236.8) rotate(87)" d="M-18.9 0Q0 -4.1 18.9 0Q6.7 16.3 -18.9 0Z" fill="url(#g2)"/>
<path transform="translate(7.9 246.4) rotate(325)" d="M-19.7 0Q0 -6.8 19.7 0Q9.5 17.3 -19.7 0Z" fill="url(#g3)"/>
<path transform="translate(187.4 268.3) rotate(190)" d="M-8.2 0Q0 -1.9 8.2 0Q1.7 17.5 -8.2 0Z" fill="url(#g4)"/>
<path transform="translate(176.1 298.6) rotate(184)" d="M-19.7 0Q0 8.5 19.7 0Q9.3 21 -19.7 0Z" fill="url(#g2)"/>
<path transform="translate(167.4 250.9) rotate(304)" d="M-14.7 0Q0 -2.1 14.7 0Q8.3 19.4 -14.7 0Z" fill="url(#g3)"/>
<path transform="translate(105 337.5) rotate(111)" d="M-15.6 0Q0 1 15.6 0Q-0.4 9.7 -15.6 0Z" fill="url(#g2)"/>
<path transform="translate(118 244.3) rotate(103)" d="M-18.3 0Q0 3.3 18.3 0Q9.6 9.7 -18.3 0Z" fill="url(#g3)"/>
<path transform="translate(177 254.6) rotate(16)" d="M-17.8 0Q0 5.6 17.8 0Q-6.8 22.2 -17.8 0Z" fill="url(#g2)"/>
<path transform="translate(189.1 338.1) rotate(329)" d="M-16.5 0Q0 -1 16.5 0Q-7.1 23.8 -16.5 0Z" fill="url(#g1)"/>
<path transform="translate(59.1 275.5) rotate(6)" d="M-6.5 0Q0 -0.7 6.5 0Q1.9 12.2 -6.5 0Z" fill="url(#g4)"/>
<path transform="translate(156.2 335.7) rotate(264)" d="M-14.9 0Q0 7.5 14.9 0Q-7.8 17.4 -14.9 0Z" fill="url(#g1)"/>
<path transform="translate(150.7 270.4) rotate(202)" d="M-6.1 0Q0 3.1 6.1 0Q-1.7 15.1 -6.1 0Z" fill="url(#g4)"/>
<path transform="translate(65.5 303.6) rotate(159)" d="M-8.3 0Q0 -4.5 8.3 0Q-3.9 17.7 -8.3 0Z" fill="url(#g3)"/>
<path transform="translate(41.5 229.3) rotate(75)" d="M-7.1 0Q0 0.2 7.1 0Q1.3 11.6 -7.1 0Z" fill="url(#g2)"/>
<path transform="translate(31.4 219.9) rotate(61)" d="M-9.7 0Q0 -4.3 9.7 0Q2.5 15.7 -9.7 0Z" fill="url(#g2)"/>
<path transform="translate(12.1 266.6) rotate(245)" d="M-11.1 0Q0 3.3 11.1 0Q2.5 9.3 -11.1 0Z" fill="url(#g3)"/>
<path transform="translate(98.3 330.3) rotate(70)" d="M-7.6 0Q0 -0.6 7.6 0Q4.4 17 -7.6 0Z" fill="url(#g3)"/>
<path transform="translate(144.8 302.3) rotate(216)" d="M-7.9 0Q0 1.3 7.9 0Q-3.2 12.9 -7.9 0Z" fill="url(#g4)"/>
<path transform="translate(163 305) rotate(103)" d="M-16.5 0Q0 6.4 16.5 0Q2 14.7 -16.5 0Z" fill="url(#g3)"/>
<path transform="translate(178.4 242.6) rotate(45)" d="M-15.8 0Q0 7.4 15.8 0Q0.8 16.6 -15.8 0Z" fill="url(#g4)"/>
<path transform="translate(65.7 254.8) rotate(173)" d="M-16 0Q0 7.4 16 0Q-4.2 14.5 -16 0Z" fill="url(#g3)"/>
<path transform="translate(70.8 326) rotate(78)" d="M-18.2 0Q0 -4.3 18.2 0Q-4.2 12.4 -18.2 0Z" fill="url(#g4)"/>
<path transform="translate(69.2 306.8) rotate(76)" d="M-15.9 0Q0 3.3 15.9 0Q-7.4 21.9 -15.9 0Z" fill="url(#g1)"/>
<path transform="translate(120.6 244.1) rotate(96)" d="M-17.8 0Q0 10 17.8 0Q-5.1 21.6 -17.8 0Z" fill="url(#g2)"/>
<path transform="translate(85.1 255) rotate(306)" d="M-11.5 0Q0 -1.5 11.5 0Q-1.5 17.3 -11.5 0Z" fill="url(#g3)"/>
<path transform="translate(142.3 332) rotate(156)" d="M-14.6 0Q0 -7.2 14.6 0Q4.6 12.2 -14.6 0Z" fill="url(#g4)"/>
<path transform="translate(41.6 266.7) rotate(88)" d="M-18.4 0Q0 -0.9 18.4 0Q-6.2 21 -18.4 0Z" fill="url(#g1)"/>
<path transform="translate(128.3 306.4) rotate(108)" d="M-6.4 0Q0 2.3 6.4 0Q0.3 20.3 -6.4 0Z" fill="url(#g3)"/>
<path transform="translate(108.5 223.7) rotate(268)" d="M-18.7 0Q0 3.8 18.7 0Q1.8 17 -18.7 0Z" fill="url(#g4)"/>
<path transform="translate(22.6 213.2) rotate(88)" d="M-8.4 0Q0 -0.8 8.4 0Q0.9 18.2 -8.4 0Z" fill="url(#g3)"/>
<path transform="translate(17.4 260.2) rotate(150)" d="M-7.1 0Q0 3.7 7.1 0Q-3.4 9.3 -7.1 0Z" fill="url(#g3)"/>
<path transform="translate(53.2 308.4) rotate(103)" d="M-9.3 0Q0 4.7 9.3 0Q-0.6 15.5 -9.3 0Z" fill="url(#g3)"/>
<path transform="translate(157.4 214.7) rotate(205)" d="M-17.2 0Q0 9.3 17.2 0Q7.8 17.3 -17.2 0Z" fill="url(#g3)"/>
<path transform="translate(102.5 331.4) rotate(356)" d="M-14.4 0Q0 -2.8 14.4 0Q1.3 11.7 -14.4 0Z" fill="url(#g3)"/>
<path transform="translate(119.6 282.3) rotate(230)" d="M-10.7 0Q0 0.3 10.7 0Q-0.6 9.3 -10.7 0Z" fill="url(#g1)"/>
<path transform="translate(127.7 224.1) rotate(22)" d="M-10.2 0Q0 5.1 10.2 0Q-3.3 17.6 -10.2 0Z" fill="url(#g3)"/>
<path transform="translate(85.8 211.5) rotate(82)" d="M-19.3 0Q0 6.4 19.3 0Q2.2 17.8 -19.3 0Z" fill="url(#g4)"/>
<path transform="translate(90.2 287.1) rotate(247)" d="M-14.4 0Q0 7 14.4 0Q-4.3 12.3 -14.4 0Z" fill="url(#g3)"/>
<path transform="translate(115.7 263.6) rotate(35)" d="M-10.4 0Q0 4.8 10.4 0Q0.2 17.5 -10.4 0Z" fill="url(#g3)"/>
<path transform="translate(29.8 255.7) rotate(32)" d="M-19.2 0Q0 1.5 19.2 0Q2.6 18.9 -19.2 0Z" fill="url(#g4)"/>
<path transform="translate(22.9 283.9) rotate(311)" d="M-6.1 0Q0 0.9 6.1 0Q0.3 20.8 -6.1 0Z" fill="url(#g3)"/>
<path transform="translate(7.5 247.7) rotate(283)" d="M-11.7 0Q0 1.1 11.7 0Q-6.9 19.7 -11.7 0Z" fill="url(#g1)"/>
<path transform="translate(77.2 223) rotate(160)" d="M-14.8 0Q0 4.1 14.8 0Q0.4 12.9 -14.8 0Z" fill="url(#g1)"/>
<path transform="translate(180 272.3) rotate(187)" d="M-9.5 0Q0 -4.2 9.5 0Q2 22.7 -9.5 0Z" fill="url(#g3)"/>
<path transform="translate(144.4 300) rotate(53)" d="M-12 0Q0 -1.9 12 0Q6.7 19.7 -12 0Z" fill="url(#g2)"/>
<path transform="translate(41.1 336.4) rotate(16)" d="M-19.9 0Q0 -11.9 19.9 0Q11.2 13.2 -19.9 0Z" fill="url(#g3)"/>
<path transform="translate(24.9 207.9) rotate(339)" d="M-9.5 0Q0 0.8 9.5 0Q3 20.9 -9.5 0Z" fill="url(#g2)"/>
<path transform="translate(167 243.8) rotate(16)" d="M-10.6 0Q0 -0.6 10.6 0Q-6.1 10.6 -10.6 0Z" fill="url(#g4)"/>
<path transform="translate(31.7 309.4) rotate(74)" d="M-7.8 0Q0 -0.8 7.8 0Q2.9 12.3 -7.8 0Z" fill="url(#g3)"/>
<path transform="translate(130 281.3) rotate(64)" d="M-10.8 0Q0 1.2 10.8 0Q1.9 21.8 -10.8 0Z" fill="url(#g4)"/>
<path transform="translate(68.4 220.7) rotate(263)" d="M-11 0Q0 -2.4 11 0Q-5 13.5 -11 0Z" fill="url(#g1)"/>
<path transform="translate(96.8 238.2) rotate(317)" d="M-15.8 0Q0 8.9 15.8 0Q-0.2 21 -15.8 0Z" fill="url(#g3)"/>
<path transform="translate(109.1 218.4) rotate(150)" d="M-16.2 0Q0 9.4 16.2 0Q-1.6 23.1 -16.2 0Z" fill="url(#g2)"/>
<path transform="translate(144.3 231.9) rotate(264)" d="M-10.3 0Q0 2.9 10.3 0Q5.3 14.7 -10.3 0Z" fill="url(#g3)"/>
<path transform="translate(67.3 282.1) rotate(77)" d="M-19 0Q0 -8.8 19 0Q5.2 22.5 -19 0Z" fill="url(#g3)"/>
<path transform="translate(103.6 286.6) rotate(202)" d="M-8.8 0Q0 0.2 8.8 0Q1.9 18.8 -8.8 0Z" fill="url(#g4)"/>
<path transform="translate(153.4 305.5) rotate(276)" d="M-7.2 0Q0 3.6 7.2 0Q-3.3 12.6 -7.2 0Z" fill="url(#g3)"/>
<path transform="translate(62.5 234.8) rotate(134)" d="M-16.8 0Q0 5.1 16.8 0Q3.8 22 -16.8 0Z" fill="url(#g3)"/>
<path transform="translate(162.2 295.4) rotate(33)" d="M-15.5 0Q0 2.7 15.5 0Q4.5 20 -15.5 0Z" fill="url(#g3)"/>
<path transform="translate(2 310.6) rotate(324)" d="M-19.6 0Q0 -7.8 19.6 0Q-11.2 15 -19.6 0Z" fill="url(#g4)"/>
<path transform="translate(110.7 279.1) rotate(84)" d="M-17.5 0Q0 -10.3 17.5 0Q-4.2 15.4 -17.5 0Z" fill="url(#g4)"/>
<path transform="translate(190.2 232) rotate(149)" d="M-15.7 0Q0 4.6 15.7 0Q-0.7 14.4 -15.7 0Z" fill="url(#g3)"/>
<path transform="translate(74.4 276.1) rotate(306)" d="M-14.9 0Q0 2.1 14.9 0Q8.3 17 -14.9 0Z" fill="url(#g3)"/>
<path transform="translate(173.5 243.3) rotate(138)" d="M-8.1 0Q0 1.4 8.1 0Q3.4 13.5 -8.1 0Z" fill="url(#g3)"/>
<path transform="translate(24.6 236.5) rotate(154)" d="M-19.3 0Q0 -6.4 19.3 0Q10.1 13.8 -19.3 0Z" fill="url(#g3)"/>
<path transform="translate(49.9 254.9) rotate(85)" d="M-14.1 0Q0 5.3 14.1 0Q-4 12.4 -14.1 0Z" fill="url(#g1)"/>
<path transform="translate(151.7 222.6) rotate(260)" d="M-10.9 0Q0 -0.8 10.9 0Q3 21.8 -10.9 0Z" fill="url(#g4)"/>
<path transform="translate(156.7 262.6) rotate(11)" d="M-9.3 0Q0 -1.5 9.3 0Q-5.6 18.1 -9.3 0Z" fill="url(#g3)"/>
<path transform="translate(179.3 210.9) rotate(20)" d="M-7.9 0Q0 1.1 7.9 0Q3.5 15 -7.9 0Z" fill="url(#g3)"/>
<path transform="translate(179.2 209.6) rotate(141)" d="M-9.6 0Q0 2.5 9.6 0Q1.2 8 -9.6 0Z" fill="url(#g2)"/>
<path transform="translate(116 296) rotate(12)" d="M-14.6 0Q0 -1.5 14.6 0Q-4.9 18.5 -14.6 0Z" fill="url(#g2)"/>
<path transform="translate(165.8 245.1) rotate(286)" d="M-8.3 0Q0 -3.5 8.3 0Q1.8 20.2 -8.3 0Z" fill="url(#g3)"/>
<path transform="translate(90.4 282.9) rotate(340)" d="M-14.3 0Q0 -4.6 14.3 0Q-8.3 12.2 -14.3 0Z" fill="url(#g1)"/>
<path transform="translate(47.3 276.9) rotate(235)" d="M-18.8 0Q0 -4.6 18.8 0Q10.8 15.8 -18.8 0Z" fill="url(#g3)"/>
<path transform="translate(33.9 226.1) rotate(52)" d="M-10 0Q0 -4 10 0Q-4.3 20.2 -10 0Z" fill="url(#g3)"/>
<path transform="translate(131 312.3) rotate(230)" d="M-12.4 0Q0 -5.7 12.4 0Q-5.7 22.7 -12.4 0Z" fill="url(#g2)"/>
<path transform="translate(148.2 331) rotate(56)" d="M-11.9 0Q0 1.8 11.9 0Q-1.5 15.6 -11.9 0Z" fill="url(#g4)"/>
<path transform="translate(129.7 296.2) rotate(21)" d="M-8 0Q0 -3.4 8 0Q1.4 14.3 -8 0Z" fill="url(#g4)"/>
<path transform="translate(118.6 314.2) rotate(256)" d="M-19.9 0Q0 -11.3 19.9 0Q5.8 21.8 -19.9 0Z" fill="url(#g2)"/>
<path transform="translate(6.1 333.2) rotate(109)" d="M-9.3 0Q0 -1.5 9.3 0Q-5.3 10.2 -9.3 0Z" fill="url(#g4)"/>
<path transform="translate(56.4 308.7) rotate(248)" d="M-18.7 0Q0 -2.8 18.7 0Q8 14.8 -18.7 0Z" fill="url(#g3)"/>
<path transform="translate(0.6 327.3) rotate(22)" d="M-14.7 0Q0 -1.6 14.7 0Q-3.7 16.8 -14.7 0Z" fill="url(#g4)"/>
<path transform="translate(45.1 226.7) rotate(121)" d="M-10.3 0Q0 -1.9 10.3 0Q-4.7 22.1 -10.3 0Z" fill="url(#g1)"/>
<path transform="translate(134.6 323.9) rotate(179)" d="M-7.3 0Q0 1.9 7.3 0Q2.2 11.9 -7.3 0Z" fill="url(#g3)"/>
<path transform="translate(52.7 281.2) rotate(22)" d="M-10.3 0Q0 4.3 10.3 0Q2.3 17.6 -10.3 0Z" fill="url(#g4)"/>
<path transform="translate(113.6 235.5) rotate(102)" d="M-16.7 0Q0 -3 16.7 0Q1.5 19 -16.7 0Z" fill="url(#g4)"/>
<path transform="translate(159.3 255.5) rotate(170)" d="M-16.8 0Q0 -4.3 16.8 0Q-3.2 15.2 -16.8 0Z" fill="url(#g4)"/>
<path transform="translate(141.3 302.4) rotate(147)" d="M-19.2 0Q0 -11.4 19.2 0Q0.4 13.6 -19.2 0Z" fill="url(#g4)"/>
<path transform="translate(133.6 241.2) rotate(271)" d="M-19.4 0Q0 4.8 19.4 0Q7.2 18.4 -19.4 0Z" fill="url(#g4)"/>
<path transform="translate(174.3 219.6) rotate(311)" d="M-16.4 0Q0 8.3 16.4 0Q0.8 15.6 -16.4 0Z" fill="url(#g4)"/>
<path transform="translate(5.4 334.9) rotate(228)" d="M-17.7 0Q0 -3.6 17.7 0Q-0.8 20 -17.7 0Z" fill="url(#g3)"/>
<path transform="translate(96.3 286.6) rotate(45)" d="M-10.2 0Q0 3.9 10.2 0Q5.3 13.5 -10.2 0Z" fill="url(#g2)"/>
<path transform="translate(74.8 281.1) rotate(178)" d="M-9.5 0Q0 5.2 9.5 0Q5.1 16.8 -9.5 0Z" fill="url(#g4)"/>
<path transform="translate(187.7 230) rotate(173)" d="M-16.2 0Q0 2.3 16.2 0Q-0.4 12.1 -16.2 0Z" fill="url(#g1)"/>
<path transform="translate(46.5 263.9) rotate(247)" d="M-12.1 0Q0 6.6 12.1 0Q4.8 11.2 -12.1 0Z" fill="url(#g4)"/>
<path transform="translate(104.5 340.3) rotate(319)" d="M-8.7 0Q0 3.4 8.7 0Q1.6 10.1 -8.7 0Z" fill="url(#g2)"/>
<path transform="translate(111.7 299.3) rotate(284)" d="M-7.8 0Q0 -4.3 7.8 0Q-4.5 14.8 -7.8 0Z" fill="url(#g3)"/>
<path transform="translate(48.5 262) rotate(123)" d="M-18.7 0Q0 8 18.7 0Q1.2 8.8 -18.7 0Z" fill="url(#g2)"/>
<path transform="translate(144.6 271.5) rotate(46)" d="M-9.4 0Q0 3.4 9.4 0Q4.6 11.6 -9.4 0Z" fill="url(#g2)"/>
<path transform="translate(121.6 269.5) rotate(352)" d="M-6.4 0Q0 1.8 6.4 0Q2.6 23.1 -6.4 0Z" fill="url(#g3)"/>
<path transform="translate(128.4 296.3) rotate(158)" d="M-16.2 0Q0 -5.9 16.2 0Q-1.2 10.3 -16.2 0Z" fill="url(#g4)"/>
<path transform="translate(130.7 342.2) rotate(228)" d="M-11.4 0Q0 5.3 11.4 0Q-3.4 9.3 -11.4 0Z" fill="url(#g3)"/>
<path transform="translate(84.8 238.3) rotate(154)" d="M-19.1 0Q0 -9.2 19.1 0Q6.8 14.1 -19.1 0Z" fill="url(#g4)"/>
<path transform="translate(140.5 248.8) rotate(9)" d="M-19.5 0Q0 1.9 19.5 0Q-3.8 22.4 -19.5 0Z" fill="url(#g4)"/>
<path transform="translate(75.9 324.6) rotate(268)" d="M-17.3 0Q0 1.2 17.3 0Q-8.8 11.7 -17.3 0Z" fill="url(#g3)"/>
<path transform="translate(75.1 227.7) rotate(330)" d="M-17.9 0Q0 -8 17.9 0Q-6.9 12.6 -17.9 0Z" fill="url(#g4)"/>
<path transform="translate(47.2 267.9) rotate(126)" d="M-14.6 0Q0 -1.5 14.6 0Q5.1 11.2 -14.6 0Z" fill="url(#g1)"/>
<path transform="translate(48.6 217.4) rotate(9)" d="M-8.9 0Q0 -2.4 8.9 0Q-4.1 12 -8.9 0Z" fill="url(#g4)"/>
<path transform="translate(55.7 238.3) rotate(157)" d="M-12.8 0Q0 5.9 12.8 0Q1 15.1 -12.8 0Z" fill="url(#g1)"/>
<path transform="translate(14.7 287.1) rotate(90)" d="M-10.5 0Q0 2.4 10.5 0Q5.3 23.8 -10.5 0Z" fill="url(#g4)"/>
<path transform="translate(4.9 243.3) rotate(193)" d="M-7.1 0Q0 3.8 7.1 0Q-4 22.5 -7.1 0Z" fill="url(#g3)"/>
<path transform="translate(31 339.4) rotate(338)" d="M-16.9 0Q0 -6.5 16.9 0Q4.2 17.3 -16.9 0Z" fill="url(#g2)"/>
<path transform="translate(124.4 246.5) rotate(296)" d="M-12.5 0Q0 4.9 12.5 0Q5.3 11.5 -12.5 0Z" fill="url(#g3)"/>
<path transform="translate(60.1 245.4) rotate(170)" d="M-18.5 0Q0 0.7 18.5 0Q9.8 22.7 -18.5 0Z" fill="url(#g3)"/>
<path transform="translate(108.1 314.5) rotate(41)" d="M-10 0Q0 5.3 10 0Q-0.4 17.7 -10 0Z" fill="url(#g1)"/>
<path transform="translate(171.3 234.9) rotate(178)" d="M-18.1 0Q0 0.8 18.1 0Q7.6 18 -18.1 0Z" fill="url(#g1)"/>
<path transform="translate(0.7 320.4) rotate(257)" d="M-15.3 0Q0 5.4 15.3 0Q2.3 10 -15.3 0Z" fill="url(#g4)"/>
<path transform="translate(113.5 296.5) rotate(162)" d="M-8.1 0Q0 -2.3 8.1 0Q0.2 13.3 -8.1 0Z" fill="url(#g4)"/>
<path transform="translate(132.5 330.7) rotate(18)" d="M-18 0Q0 2.7 18 0Q-8.6 18.7 -18 0Z" fill="url(#g3)"/>
<path transform="translate(152 221.5) rotate(250)" d="M-8.8 0Q0 4.5 8.8 0Q-4.4 23.5 -8.8 0Z" fill="url(#g3)"/>
<path transform="translate(117.4 317.9) rotate(177)" d="M-8.8 0Q0 1.2 8.8 0Q-1.1 20.8 -8.8 0Z" fill="url(#g4)"/>
<path transform="translate(84.8 258.7) rotate(307)" d="M-15.2 0Q0 2.9 15.2 0Q2 21.9 -15.2 0Z" fill="url(#g2)"/>
<path transform="translate(160.2 315.5) rotate(296)" d="M-15.3 0Q0 -1.3 15.3 0Q-6.2 16.2 -15.3 0Z" fill="url(#g3)"/>
<path transform="translate(107 207.3) rotate(221)" d="M-11.6 0Q0 -0.9 11.6 0Q-3.4 18.1 -11.6 0Z" fill="url(#g4)"/>
<path transform="translate(126.1 287.6) rotate(54)" d="M-11.3 0Q0 6.1 11.3 0Q5.6 16.9 -11.3 0Z" fill="url(#g2)"/>
<path transform="translate(85.6 221.2) rotate(352)" d="M-18.4 0Q0 -1.6 18.4 0Q9.7 21.2 -18.4 0Z" fill="url(#g3)"/>
<path transform="translate(88.4 230.4) rotate(333)" d="M-11.9 0Q0 -0.7 11.9 0Q0.5 18.6 -11.9 0Z" fill="url(#g1)"/>
<path transform="translate(86 276.8) rotate(159)" d="M-7.4 0Q0 2.5 7.4 0Q-2 18.8 -7.4 0Z" fill="url(#g1)"/>
<path transform="translate(25.2 233.7) rotate(43)" d="M-17.5 0Q0 -8.6 17.5 0Q-1.8 12.8 -17.5 0Z" fill="url(#g4)"/>
<path transform="translate(2.9 237) rotate(115)" d="M-18.8 0Q0 -9.8 18.8 0Q-8.8 14.5 -18.8 0Z" fill="url(#g4)"/>
<path transform="translate(123.3 292.9) rotate(227)" d="M-6 0Q0 0.8 6 0Q-3.1 21.2 -6 0Z" fill="url(#g3)"/>
<path transform="translate(78.8 318.7) rotate(146)" d="M-6.8 0Q0 0.8 6.8 0Q0.2 14.4 -6.8 0Z" fill="url(#g2)"/>
<path transform="translate(38.3 315.6) rotate(126)" d="M-13.2 0Q0 -3.3 13.2 0Q-5.4 23.4 -13.2 0Z" fill="url(#g4)"/>
<path transform="translate(64.4 239.5) rotate(87)" d="M-6.9 0Q0 1.3 6.9 0Q4.1 12.6 -6.9 0Z" fill="url(#g4)"/>
<path transform="translate(36 257.7) rotate(29)" d="M-12.1 0Q0 -0.1 12.1 0Q5.9 15.5 -12.1 0Z" fill="url(#g3)"/>
<path transform="translate(129.6 230.9) rotate(161)" d="M-13.9 0Q0 8 13.9 0Q8.3 10.6 -13.9 0Z" fill="url(#g3)"/>
<path transform="translate(169.3 257.1) rotate(347)" d="M-7.1 0Q0 0.8 7.1 0Q2.9 18.6 -7.1 0Z" fill="url(#g1)"/>
<path transform="translate(136.9 307.9) rotate(257)" d="M-8.4 0Q0 -1.9 8.4 0Q3 22.7 -8.4 0Z" fill="url(#g4)"/>
<path transform="translate(152 271.2) rotate(276)" d="M-13.9 0Q0 7.1 13.9 0Q-7.3 18.1 -13.9 0Z" fill="url(#g3)"/>
<path transform="translate(41.6 250.6) rotate(46)" d="M-17.5 0Q0 5.1 17.5 0Q-9.5 12.5 -17.5 0Z" fill="url(#g3)"/>
<path transform="translate(60.7 262.7) rotate(23)" d="M-10.7 0Q0 4.7 10.7 0Q-2.7 21.5 -10.7 0Z" fill="url(#g2)"/>
<path transform="translate(96.4 252.1) rotate(114)" d="M-13.8 0Q0 8.2 13.8 0Q-8.1 15.3 -13.8 0Z" fill="url(#g4)"/>
<path transform="translate(156 343.5) rotate(188)" d="M-17.2 0Q0 -3.5 17.2 0Q4.8 18.3 -17.2 0Z" fill="url(#g1)"/>
<path transform="translate(84.8 313.5) rotate(34)" d="M-9 0Q0 5.2 9 0Q4.3 22.4 -9 0Z" fill="url(#g4)"/>
<path transform="translate(30.9 310.2) rotate(97)" d="M-10 0Q0 -4.7 10 0Q3.2 23.7 -10 0Z" fill="url(#g4)"/>
<path transform="translate(108.6 341) rotate(16)" d="M-16.1 0Q0 -6.5 16.1 0Q7.4 20.8 -16.1 0Z" fill="url(#g3)"/>
<path transform="translate(6.3 325.6) rotate(70)" d="M-11.9 0Q0 4.3 11.9 0Q4.5 11.3 -11.9 0Z" fill="url(#g4)"/>
<path transform="translate(2.3 305.8) rotate(185)" d="M-9.2 0Q0 -4.4 9.2 0Q-3.8 10.8 -9.2 0Z" fill="url(#g2)"/>
<path transform="translate(115.9 269) rotate(104)" d="M-9 0Q0 4.1 9 0Q-5.2 23 -9 0Z" fill="url(#g1)"/>
<path transform="translate(130.7 271.5) rotate(148)" d="M-19.3 0Q0 1.5 19.3 0Q0.7 8.2 -19.3 0Z" fill="url(#g4)"/>
<path transform="translate(169.6 216.3) rotate(188)" d="M-18 0Q0 1.9 18 0Q-4.4 19.7 -18 0Z" fill="url(#g4)"/>
<path transform="translate(86.2 288.7) rotate(62)" d="M-17.6 0Q0 -0.7 17.6 0Q6.7 15.2 -17.6 0Z" fill="url(#g3)"/>
<path transform="translate(118.8 299.2) rotate(290)" d="M-12.3 0Q0 -1 12.3 0Q-5.6 21.4 -12.3 0Z" fill="url(#g4)"/>
<path transform="translate(35.9 247.6) rotate(125)" d="M-17.5 0Q0 2.5 17.5 0Q-6.6 14.9 -17.5 0Z" fill="url(#g3)"/>
<path transform="translate(79.1 335) rotate(352)" d="M-14.7 0Q0 0.2 14.7 0Q-8.5 21.7 -14.7 0Z" fill="url(#g4)"/>
<path transform="translate(140.7 225.8) rotate(116)" d="M-15 0Q0 -4.6 15 0Q-3.6 15.7 -15 0Z" fill="url(#g3)"/>
<path transform="translate(54.4 336) rotate(103)" d="M-13.7 0Q0 7.1 13.7 0Q-2.7 10.3 -13.7 0Z" fill="url(#g4)"/>
<path transform="translate(155 343) rotate(124)" d="M-14 0Q0 6.9 14 0Q4.4 20.7 -14 0Z" fill="url(#g1)"/>
<path transform="translate(148.1 220.5) rotate(288)" d="M-14.1 0Q0 -5.8 14.1 0Q-5.7 14.6 -14.1 0Z" fill="url(#g3)"/>
<path transform="translate(150.4 263.3) rotate(256)" d="M-9.6 0Q0 1.5 9.6 0Q-0.4 9.8 -9.6 0Z" fill="url(#g1)"/>
<path transform="translate(80.7 283.9) rotate(243)" d="M-15.5 0Q0 0.7 15.5 0Q1.3 23.4 -15.5 0Z" fill="url(#g4)"/>
<path transform="translate(46.9 235.9) rotate(71)" d="M-13.3 0Q0 -5.2 13.3 0Q-6.8 17.1 -13.3 0Z" fill="url(#g2)"/>
<path transform="translate(94.5 213.3) rotate(206)" d="M-8 0Q0 -3.9 8 0Q0.7 14.4 -8 0Z" fill="url(#g3)"/>
<path transform="translate(71.5 323.7) rotate(329)" d="M-14.6 0Q0 6.8 14.6 0Q3.1 12 -14.6 0Z" fill="url(#g4)"/>
<path transform="translate(13.7 260.4) rotate(129)" d="M-15.6 0Q0 0.8 15.6 0Q-4 20 -15.6 0Z" fill="url(#g1)"/>
<path transform="translate(27.9 287.9) rotate(348)" d="M-8.4 0Q0 3 8.4 0Q-4.6 16.5 -8.4 0Z" fill="url(#g1)"/>
<path transform="translate(60.2 285.4) rotate(256)" d="M-15.3 0Q0 -2.4 15.3 0Q1 15.1 -15.3 0Z" fill="url(#g3)"/>
<path transform="translate(75.8 301.3) rotate(228)" d="M-7.9 0Q0 3 7.9 0Q1.6 8.3 -7.9 0Z" fill="url(#g3)"/>
<path transform="translate(146.4 300.4) rotate(355)" d="M-9.6 0Q0 -4.7 9.6 0Q5 17.6 -9.6 0Z" fill="url(#g4)"/>
<path transform="translate(14.7 294.1) rotate(33)" d="M-9.6 0Q0 3.3 9.6 0Q3.3 17.1 -9.6 0Z" fill="url(#g3)"/>
<path transform="translate(50.9 208.6) rotate(229)" d="M-15.7 0Q0 2.2 15.7 0Q7.8 20.9 -15.7 0Z" fill="url(#g1)"/>
<path transform="translate(145.9 221) rotate(32)" d="M-19.8 0Q0 6.1 19.8 0Q4.5 20 -19.8 0Z" fill="url(#g2)"/>
<path transform="translate(21.7 251.4) rotate(171)" d="M-18.5 0Q0 9.2 18.5 0Q-8.4 10.4 -18.5 0Z" fill="url(#g4)"/>
<path transform="translate(148.2 268.9) rotate(126)" d="M-7.4 0Q0 0.5 7.4 0Q1.3 15.7 -7.4 0Z" fill="url(#g2)"/>
<path transform="translate(142.7 280.3) rotate(277)" d="M-6.4 0Q0 -1.8 6.4 0Q-0.5 20.5 -6.4 0Z" fill="url(#g3)"/>
<path transform="translate(141.2 288.5) rotate(24)" d="M-15.8 0Q0 8.9 15.8 0Q-6.1 23.5 -15.8 0Z" fill="url(#g4)"/>
<path transform="translate(109.1 231.3) rotate(329)" d="M-10 0Q0 0.7 10 0Q-4.7 13.1 -10 0Z" fill="url(#g3)"/>
<path transform="translate(141.3 238.8) rotate(235)" d="M-11.2 0Q0 -3.6 11.2 0Q-3.8 23.6 -11.2 0Z" fill="url(#g1)"/>
<path transform="translate(62.1 279.4) rotate(284)" d="M-9.8 0Q0 4.4 9.8 0Q1.2 12.1 -9.8 0Z" fill="url(#g1)"/>
<path transform="translate(63.2 242.5) rotate(245)" d="M-6.4 0Q0 -0.9 6.4 0Q1 8.8 -6.4 0Z" fill="url(#g4)"/>
<path transform="translate(7.3 212.1) rotate(176)" d="M-13.2 0Q0 7.8 13.2 0Q4.3 8.2 -13.2 0Z" fill="url(#g1)"/>
<path transform="translate(37.2 243.3) rotate(71)" d="M-18.6 0Q0 0 18.6 0Q4.7 14.5 -18.6 0Z" fill="url(#g3)"/>
<path transform="translate(123.8 237.4) rotate(7)" d="M-15.5 0Q0 8.2 15.5 0Q-7.4 11 -15.5 0Z" fill="url(#g1)"/>
<path transform="translate(149.5 340.3) rotate(276)" d="M-8.6 0Q0 2 8.6 0Q-4.4 23.6 -8.6 0Z" fill="url(#g4)"/>
<path transform="translate(103.3 301.1) rotate(108)" d="M-14 0Q0 2.7 14 0Q-0.5 10.6 -14 0Z" fill="url(#g3)"/>
<path transform="translate(168.8 264.9) rotate(239)" d="M-7.8 0Q0 -0.1 7.8 0Q-1 13.7 -7.8 0Z" fill="url(#g3)"/>
<path transform="translate(140.6 284.8) rotate(1)" d="M-19.8 0Q0 1.8 19.8 0Q-1.6 17.2 -19.8 0Z" fill="url(#g4)"/>
<path transform="translate(75.9 225.2) rotate(157)" d="M-13.9 0Q0 4.5 13.9 0Q-1.7 8.7 -13.9 0Z" fill="url(#g4)"/>
<path transform="translate(16.9 291.7) rotate(119)" d="M-17.4 0Q0 7.4 17.4 0Q5.5 9.1 -17.4 0Z" fill="url(#g1)"/>
<path transform="translate(31.3 320.9) rotate(250)" d="M-15.5 0Q0 -9.1 15.5 0Q-4.6 10.2 -15.5 0Z" fill="url(#g1)"/>
<path transform="translate(44 335.9) rotate(199)" d="M-14.8 0Q0 -3.9 14.8 0Q-0.6 14.6 -14.8 0Z" fill="url(#g1)"/>
<path transform="translate(157.2 216) rotate(329)" d="M-18.7 0Q0 7.6 18.7 0Q-6.3 16.4 -18.7 0Z" fill="url(#g3)"/>
<path transform="translate(133.7 256.6) rotate(122)" d="M-19.8 0Q0 -4.2 19.8 0Q9 13.3 -19.8 0Z" fill="url(#g4)"/>
<path transform="translate(31.9 304.7) rotate(356)" d="M-16.7 0Q0 -5.7 16.7 0Q3.5 17.2 -16.7 0Z" fill="url(#g1)"/>
<path transform="translate(154.3 234.9) rotate(111)" d="M-8.1 0Q0 -4.4 8.1 0Q3.2 14.2 -8.1 0Z" fill="url(#g1)"/>
<path transform="translate(72.7 341.6) rotate(66)" d="M-18.7 0Q0 4.3 18.7 0Q-6.9 14 -18.7 0Z" fill="url(#g4)"/>
<path transform="translate(74.1 325.8) rotate(21)" d="M-14.4 0Q0 -4.8 14.4 0Q-3.1 14.9 -14.4 0Z" fill="url(#g4)"/>
<path transform="translate(90.1 335.8) rotate(319)" d="M-6.3 0Q0 1.7 6.3 0Q3 17.6 -6.3 0Z" fill="url(#g3)"/>
<path transform="translate(185.9 270.2) rotate(239)" d="M-11.8 0Q0 2.1 11.8 0Q-2.4 22.2 -11.8 0Z" fill="url(#g4)"/>
<path transform="translate(160.4 269.6) rotate(227)" d="M-12.5 0Q0 -3.1 12.5 0Q-2.5 20.9 -12.5 0Z" fill="url(#g3)"/>
<path transform="translate(63.1 279.7) rotate(2)" d="M-17.4 0Q0 -7.2 17.4 0Q1.3 17.7 -17.4 0Z" fill="url(#g2)"/>
<path transform="translate(97.9 292.7) rotate(285)" d="M-7.1 0Q0 1.9 7.1 0Q3.5 16.8 -7.1 0Z" fill="url(#g3)"/>
<path transform="translate(147.9 247.7) rotate(68)" d="M-13.7 0Q0 2.8 13.7 0Q-5.8 12.4 -13.7 0Z" fill="url(#g4)"/>
<path transform="translate(65.7 287) rotate(157)" d="M-9.2 0Q0 -1.3 9.2 0Q-0.9 17.1 -9.2 0Z" fill="url(#g4)"/>
<path transform="translate(165.5 338.7) rotate(347)" d="M-13.8 0Q0 -2.6 13.8 0Q-6.1 23 -13.8 0Z" fill="url(#g3)"/>
<path transform="translate(134 244) rotate(124)" d="M-19.9 0Q0 5.3 19.9 0Q-0.5 24 -19.9 0Z" fill="url(#g1)"/>
<path transform="translate(49 262.6) rotate(270)" d="M-15.3 0Q0 -0.9 15.3 0Q8.5 22.7 -15.3 0Z" fill="url(#g4)"/>
<path transform="translate(144.5 218.4) rotate(294)" d="M-17 0Q0 -8.7 17 0Q4.1 17 -17 0Z" fill="url(#g3)"/>
<path transform="translate(154 277.9) rotate(355)" d="M-15.6 0Q0 -5.2 15.6 0Q5.9 19.1 -15.6 0Z" fill="url(#g3)"/>
<path transform="translate(13.7 270.5) rotate(160)" d="M-19.5 0Q0 4.8 19.5 0Q-8.4 22.8 -19.5 0Z" fill="url(#g3)"/>
<path transform="translate(161.2 339.2) rotate(136)" d="M-13.5 0Q0 1.2 13.5 0Q-3.2 20.6 -13.5 0Z" fill="url(#g4)"/>
<path transform="translate(148.2 337.4) rotate(281)" d="M-7.4 0Q0 3.3 7.4 0Q-1.9 8.4 -7.4 0Z" fill="url(#g4)"/>
<path transform="translate(9.3 269.4) rotate(63)" d="M-12.2 0Q0 3.9 12.2 0Q5.9 23.6 -12.2 0Z" fill="url(#g3)"/>
<path transform="translate(141.8 299.2) rotate(317)" d="M-17.3 0Q0 8.5 17.3 0Q-1 10.3 -17.3 0Z" fill="url(#g1)"/>
<path transform="translate(112.6 335.7) rotate(60)" d="M-13.2 0Q0 -0.5 13.2 0Q3.9 9.9 -13.2 0Z" fill="url(#g3)"/>
<path transform="translate(88.3 326.7) rotate(245)" d="M-13.6 0Q0 0.2 13.6 0Q-6.7 8 -13.6 0Z" fill="url(#g4)"/>
<path transform="translate(56.9 285.4) rotate(256)" d="M-7.1 0Q0 2.4 7.1 0Q3.9 14.3 -7.1 0Z" fill="url(#g4)"/>
<path transform="translate(22.7 274) rotate(184)" d="M-16.8 0Q0 7.8 16.8 0Q-5.6 13 -16.8 0Z" fill="url(#g1)"/>
<path transform="translate(29.7 341.1) rotate(145)" d="M-16.2 0Q0 0.7 16.2 0Q8.8 11 -16.2 0Z" fill="url(#g3)"/>
<path transform="translate(13.9 305.9) rotate(200)" d="M-19.3 0Q0 -10.7 19.3 0Q2 12.8 -19.3 0Z" fill="url(#g2)"/>
<path transform="translate(70.7 226.9) rotate(96)" d="M-7 0Q0 -2.2 7 0Q-0.3 14.9 -7 0Z" fill="url(#g2)"/>
<path transform="translate(109.9 289.4) rotate(241)" d="M-17.5 0Q0 -9.5 17.5 0Q-7.1 11.9 -17.5 0Z" fill="url(#g3)"/>
<path transform="translate(123.7 286.6) rotate(252)" d="M-9.2 0Q0 0.3 9.2 0Q4.9 9.6 -9.2 0Z" fill="url(#g3)"/>
<path transform="translate(151.4 297.7) rotate(309)" d="M-9.3 0Q0 -1.1 9.3 0Q5 17.8 -9.3 0Z" fill="url(#g4)"/>
<path transform="translate(61.7 264.7) rotate(313)" d="M-13.8 0Q0 1.7 13.8 0Q-0.2 21.5 -13.8 0Z" fill="url(#g1)"/>
<path transform="translate(153.2 234) rotate(50)" d="M-14.9 0Q0 -4.1 14.9 0Q7.8 21.4 -14.9 0Z" fill="url(#g2)"/>
<path transform="translate(31.8 285) rotate(295)" d="M-6.8 0Q0 3 6.8 0Q-2.9 11.3 -6.8 0Z" fill="url(#g3)"/>
<path transform="translate(80 231.8) rotate(19)" d="M-16.9 0Q0 -5.5 16.9 0Q0.3 11.1 -16.9 0Z" fill="url(#g4)"/>
<path transform="translate(189.2 257.7) rotate(266)" d="M-11.9 0Q0 -4.7 11.9 0Q0.5 15.9 -11.9 0Z" fill="url(#g3)"/>
<path transform="translate(160.1 245.3) rotate(208)" d="M-14.9 0Q0 2.5 14.9 0Q-4.9 19.1 -14.9 0Z" fill="url(#g3)"/>
<path transform="translate(161.9 271.4) rotate(289)" d="M-7.9 0Q0 -1.7 7.9 0Q-3.8 16.5 -7.9 0Z" fill="url(#g3)"/>
<path transform="translate(170 240.9) rotate(114)" d="M-6.1 0Q0 -1.6 6.1 0Q2.5 19.6 -6.1 0Z" fill="url(#g4)"/>
<path transform="translate(113.1 217) rotate(16)" d="M-9.1 0Q0 -4.3 9.1 0Q1.1 18.1 -9.1 0Z" fill="url(#g2)"/>
<path transform="translate(62.4 283.1) rotate(69)" d="M-17.3 0Q0 8.8 17.3 0Q-2.7 19.3 -17.3 0Z" fill="url(#g1)"/>
<path transform="translate(82.1 234.9) rotate(160)" d="M-6.9 0Q0 -1.9 6.9 0Q-4 14.2 -6.9 0Z" fill="url(#g4)"/>
<path transform="translate(92.4 209.8) rotate(175)" d="M-18.8 0Q0 9.7 18.8 0Q6.5 15.6 -18.8 0Z" fill="url(#g1)"/>
<path transform="translate(89.4 305.7) rotate(139)" d="M-17.1 0Q0 -10 17.1 0Q-5 9 -17.1 0Z" fill="url(#g4)"/>
<path transform="translate(166.8 219) rotate(243)" d="M-6.6 0Q0 1.9 6.6 0Q-1.9 17.2 -6.6 0Z" fill="url(#g2)"/>
<path transform="translate(3.1 239.9) rotate(278)" d="M-11.1 0Q0 5.9 11.1 0Q3.2 13 -11.1 0Z" fill="url(#g4)"/>
<path transform="translate(138.9 292.2) rotate(208)" d="M-11.2 0Q0 -3.9 11.2 0Q6 16 -11.2 0Z" fill="url(#g4)"/>
<path transform="translate(16.4 256.8) rotate(92)" d="M-14.4 0Q0 5 14.4 0Q6 10.5 -14.4 0Z" fill="url(#g4)"/>
<path transform="translate(56.6 244) rotate(302)" d="M-7.6 0Q0 -0.6 7.6 0Q-1.1 12.6 -7.6 0Z" fill="url(#g4)"/>
<path transform="translate(6.1 302) rotate(177)" d="M-14.8 0Q0 2.8 14.8 0Q0.1 10.8 -14.8 0Z" fill="url(#g4)"/>
<path transform="translate(160.3 231.3) rotate(182)" d="M-19 0Q0 -10.7 19 0Q-10 23.6 -19 0Z" fill="url(#g3)"/>
<path transform="translate(45.8 291.9) rotate(164)" d="M-18.5 0Q0 -3.7 18.5 0Q-6.9 18.4 -18.5 0Z" fill="url(#g1)"/>
<path transform="translate(91.8 311.2) rotate(199)" d="M-8 0Q0 1.1 8 0Q3.3 16.1 -8 0Z" fill="url(#g3)"/>
<path transform="translate(152.7 216.7) rotate(39)" d="M-12.2 0Q0 -2.4 12.2 0Q-4.2 21.5 -12.2 0Z" fill="url(#g3)"/>
<path transform="translate(169 329) rotate(218)" d="M-18.5 0Q0 1 18.5 0Q3.7 12.2 -18.5 0Z" fill="url(#g3)"/>
<path transform="translate(10.2 278.8) rotate(84)" d="M-7.2 0Q0 -1 7.2 0Q2.6 21.1 -7.2 0Z" fill="url(#g4)"/>
<path transform="translate(46.6 303.8) rotate(6)" d="M-7.8 0Q0 3.2 7.8 0Q1.8 13.4 -7.8 0Z" fill="url(#g4)"/>
<path transform="translate(5.7 313) rotate(255)" d="M-19.1 0Q0 -6.5 19.1 0Q9.8 23.3 -19.1 0Z" fill="url(#g2)"/>
<path transform="translate(151.8 223) rotate(222)" d="M-10.5 0Q0 -4.7 10.5 0Q-5.6 13.1 -10.5 0Z" fill="url(#g4)"/>
<path transform="translate(62 253.9) rotate(5)" d="M-17.7 0Q0 -10 17.7 0Q-9.5 21.2 -17.7 0Z" fill="url(#g3)"/>
<path transform="translate(24.4 320.6) rotate(138)" d="M-7.7 0Q0 1.1 7.7 0Q-3.3 11.8 -7.7 0Z" fill="url(#g4)"/>
<path transform="translate(108.3 270.5) rotate(321)" d="M-13.3 0Q0 6.2 13.3 0Q3.8 21.6 -13.3 0Z" fill="url(#g4)"/>
<path transform="translate(74.5 333.2) rotate(168)" d="M-13.8 0Q0 1.5 13.8 0Q3.1 16.1 -13.8 0Z" fill="url(#g4)"/>
<path transform="translate(167.7 271.1) rotate(56)" d="M-6.7 0Q0 0.2 6.7 0Q2.5 14.6 -6.7 0Z" fill="url(#g1)"/>
<path transform="translate(57.1 280.3) rotate(255)" d="M-17.1 0Q0 5 17.1 0Q1.4 18.2 -17.1 0Z" fill="url(#g1)"/>
<path transform="translate(11.6 310.7) rotate(355)" d="M-15.1 0Q0 4.5 15.1 0Q-8.6 20 -15.1 0Z" fill="url(#g3)"/>
<path transform="translate(98.1 258.2) rotate(24)" d="M-6.7 0Q0 -0.7 6.7 0Q-2.6 13.7 -6.7 0Z" fill="url(#g3)"/>
<path transform="translate(43.6 308.4) rotate(175)" d="M-16.7 0Q0 -8.8 16.7 0Q7.4 8.9 -16.7 0Z" fill="url(#g1)"/>
<path transform="translate(93.5 230) rotate(143)" d="M-11.3 0Q0 -5.6 11.3 0Q-1.5 13 -11.3 0Z" fill="url(#g3)"/>
<path transform="translate(109.5 328.4) rotate(182)" d="M-9.2 0Q0 -1.9 9.2 0Q-2.1 14 -9.2 0Z" fill="url(#g1)"/>
<path transform="translate(157.2 303.1) rotate(336)" d="M-15.2 0Q0 1.1 15.2 0Q2.2 8.9 -15.2 0Z" fill="url(#g3)"/>
<path transform="translate(190.2 300.8) rotate(347)" d="M-16.6 0Q0 -8.2 16.6 0Q-2.5 17.3 -16.6 0Z" fill="url(#g1)"/>
<path transform="translate(148 244.1) rotate(200)" d="M-12.7 0Q0 -6.4 12.7 0Q-0.7 16.2 -12.7 0Z" fill="url(#g4)"/>
<path transform="translate(20.4 235.8) rotate(65)" d="M-8.5 0Q0 4 8.5 0Q1.8 17.4 -8.5 0Z" fill="url(#g3)"/>
<path transform="translate(9.8 240.7) rotate(5)" d="M-12.2 0Q0 0.7 12.2 0Q-1.1 18.8 -12.2 0Z" fill="url(#g4)"/>
<path transform="translate(12.3 327.8) rotate(124)" d="M-14.4 0Q0 6.6 14.4 0Q-1.8 22.1 -14.4 0Z" fill="url(#g3)"/>
<path transform="translate(168.6 245.9) rotate(342)" d="M-17.5 0Q0 -9.8 17.5 0Q-3.4 11.7 -17.5 0Z" fill="url(#g2)"/>
<path transform="translate(102.1 254.8) rotate(0)" d="M-14.4 0Q0 0 14.4 0Q2.3 16 -14.4 0Z" fill="url(#g3)"/>
<path transform="translate(153.1 326.2) rotate(38)" d="M-11.3 0Q0 6.1 11.3 0Q6.1 18.4 -11.3 0Z" fill="url(#g4)"/>
<path transform="translate(48.4 211.2) rotate(300)" d="M-17.8 0Q0 -5.8 17.8 0Q-8.8 10.1 -17.8 0Z" fill="url(#g3)"/>
<path transform="translate(122.2 225.8) rotate(283)" d="M-17.1 0Q0 2 17.1 0Q-4.9 21.5 -17.1 0Z" fill="url(#g4)"/>
<path transform="translate(133.2 311) rotate(219)" d="M-12.3 0Q0 -1.3 12.3 0Q3.2 18.3 -12.3 0Z" fill="url(#g4)"/>
<path transform="translate(54.5 315.2) rotate(114)" d="M-19.6 0Q0 -1.9 19.6 0Q8.9 18.5 -19.6 0Z" fill="url(#g3)"/>
<path transform="translate(118.5 325.9) rotate(149)" d="M-19.5 0Q0 -8 19.5 0Q10.2 15.7 -19.5 0Z" fill="url(#g4)"/>
<path transform="translate(22.1 214) rotate(27)" d="M-6.5 0Q0 2.1 6.5 0Q-1.6 9.5 -6.5 0Z" fill="url(#g3)"/>
<path transform="translate(153.1 221.2) rotate(249)" d="M-8.7 0Q0 0.6 8.7 0Q-0.8 17.6 -8.7 0Z" fill="url(#g4)"/>
<path transform="translate(137.3 208.6) rotate(66)" d="M-7.4 0Q0 -0.7 7.4 0Q3.3 17.5 -7.4 0Z" fill="url(#g4)"/>
<path transform="translate(154.2 252.3) rotate(318)" d="M-6.8 0Q0 3.9 6.8 0Q-4.1 22.9 -6.8 0Z" fill="url(#g4)"/>
<path transform="translate(134.6 269.4) rotate(292)" d="M-15.3 0Q0 3.5 15.3 0Q8.6 10.8 -15.3 0Z" fill="url(#g3)"/>
<path transform="translate(93.7 282.3) rotate(260)" d="M-13.7 0Q0 -2 13.7 0Q2.2 21.9 -13.7 0Z" fill="url(#g3)"/>
<path transform="translate(145.8 234.1) rotate(122)" d="M-9.6 0Q0 -3.7 9.6 0Q-1.7 16.4 -9.6 0Z" fill="url(#g1)"/>
<path transform="translate(82.7 268) rotate(233)" d="M-19.5 0Q0 -8.5 19.5 0Q0 8.3 -19.5 0Z" fill="url(#g3)"/>
<path transform="translate(183.3 296.6) rotate(179)" d="M-14.7 0Q0 -5.9 14.7 0Q0.4 23.5 -14.7 0Z" fill="url(#g4)"/>
<path transform="translate(73.7 272.3) rotate(84)" d="M-8.5 0Q0 -2.8 8.5 0Q4.2 18.6 -8.5 0Z" fill="url(#g2)"/>
<path transform="translate(34.6 292.6) rotate(115)" d="M-10.2 0Q0 -3.4 10.2 0Q5.3 9.1 -10.2 0Z" fill="url(#g2)"/>
<path transform="translate(93.2 314.3) rotate(126)" d="M-18.2 0Q0 -5.8 18.2 0Q4.6 9 -18.2 0Z" fill="url(#g4)"/>
<path transform="translate(136.6 285) rotate(28)" d="M-14.3 0Q0 -8.4 14.3 0Q-5.7 23.4 -14.3 0Z" fill="url(#g3)"/>
<path transform="translate(110.3 260.9) rotate(43)" d="M-14.3 0Q0 2.9 14.3 0Q3.1 13.6 -14.3 0Z" fill="url(#g4)"/>
<path transform="translate(54.5 259.5) rotate(283)" d="M-11.1 0Q0 -6 11.1 0Q5.9 21.3 -11.1 0Z" fill="url(#g1)"/>
<path transform="translate(106.3 289.4) rotate(13)" d="M-13.1 0Q0 -4.7 13.1 0Q4 9.8 -13.1 0Z" fill="url(#g4)"/>
<path transform="translate(108.3 322.9) rotate(234)" d="M-6.8 0Q0 2 6.8 0Q-0.5 11.6 -6.8 0Z" fill="url(#g3)"/>
<path transform="translate(142.1 220.1) rotate(240)" d="M-12.9 0Q0 -0.8 12.9 0Q-5.7 21.3 -12.9 0Z" fill="url(#g4)"/>
<path transform="translate(4.9 332.1) rotate(215)" d="M-14.7 0Q0 5.9 14.7 0Q1.8 14.2 -14.7 0Z" fill="url(#g4)"/>
<path transform="translate(3.7 282.9) rotate(330)" d="M-14.9 0Q0 2.3 14.9 0Q-6.7 8.2 -14.9 0Z" fill="url(#g2)"/>
<path transform="translate(33.7 256.1) rotate(269)" d="M-17.5 0Q0 7.9 17.5 0Q-9 22.7 -17.5 0Z" fill="url(#g3)"/>
<path transform="translate(94.1 299.9) rotate(226)" d="M-7.6 0Q0 -4.2 7.6 0Q0.5 11.6 -7.6 0Z" fill="url(#g4)"/>
<path transform="translate(93.9 312.3) rotate(318)" d="M-13.6 0Q0 -7.7 13.6 0Q-7.9 12.5 -13.6 0Z" fill="url(#g2)"/>
<path transform="translate(29.3 342) rotate(103)" d="M-6.3 0Q0 3.2 6.3 0Q3.1 14.2 -6.3 0Z" fill="url(#g4)"/>
<path transform="translate(77.1 233.6) rotate(146)" d="M-8.3 0Q0 -3.5 8.3 0Q-2.6 17.8 -8.3 0Z" fill="url(#g4)"/>
<path transform="translate(126.1 228.8) rotate(8)" d="M-6.4 0Q0 2 6.4 0Q-3.4 23.4 -6.4 0Z" fill="url(#g3)"/>
<path transform="translate(180.3 297.7) rotate(234)" d="M-18.4 0Q0 0.9 18.4 0Q-1.7 19.7 -18.4 0Z" fill="url(#g1)"/>
<path transform="translate(34.1 216) rotate(138)" d="M-18.8 0Q0 2.4 18.8 0Q5.5 16.9 -18.8 0Z" fill="url(#g1)"/>
<path transform="translate(147.4 250.4) rotate(173)" d="M-14 0Q0 1.4 14 0Q5.5 21.5 -14 0Z" fill="url(#g4)"/>
<path transform="translate(109.5 318.5) rotate(82)" d="M-18.4 0Q0 -8.9 18.4 0Q5.8 15.2 -18.4 0Z" fill="url(#g2)"/>
<path transform="translate(71.9 314.6) rotate(209)" d="M-10.8 0Q0 1.3 10.8 0Q-0.7 11.4 -10.8 0Z" fill="url(#g4)"/>
<path transform="translate(18.6 328.1) rotate(58)" d="M-19.8 0Q0 -4.1 19.8 0Q-8.5 13.9 -19.8 0Z" fill="url(#g4)"/>
<path transform="translate(53.3 337.7) rotate(211)" d="M-13.3 0Q0 -0.1 13.3 0Q-3.7 16.6 -13.3 0Z" fill="url(#g2)"/>
<path transform="translate(83.6 323) rotate(69)" d="M-10.1 0Q0 -0.4 10.1 0Q-3.3 21.8 -10.1 0Z" fill="url(#g2)"/>
<path transform="translate(137.2 296.7) rotate(231)" d="M-10.1 0Q0 5.7 10.1 0Q5.8 15.8 -10.1 0Z" fill="url(#g4)"/>
<path transform="translate(72.8 327.4) rotate(61)" d="M-15.7 0Q0 9 15.7 0Q4.7 18.3 -15.7 0Z" fill="url(#g4)"/>
<path transform="translate(108.1 255.4) rotate(165)" d="M-15.2 0Q0 8.5 15.2 0Q-4.3 20 -15.2 0Z" fill="url(#g1)"/>
<path transform="translate(97.3 291.9) rotate(340)" d="M-9.1 0Q0 5.3 9.1 0Q2.5 13.9 -9.1 0Z" fill="url(#g1)"/>
<path transform="translate(54.6 271.1) rotate(119)" d="M-9.4 0Q0 1.6 9.4 0Q3.3 10.1 -9.4 0Z" fill="url(#g2)"/>
<path transform="translate(110.8 235.7) rotate(114)" d="M-7.7 0Q0 0.2 7.7 0Q1.9 8.5 -7.7 0Z" fill="url(#g3)"/>
<path transform="translate(61.4 319) rotate(119)" d="M-9.4 0Q0 2.8 9.4 0Q4.8 19 -9.4 0Z" fill="url(#g3)"/>
<path transform="translate(3.8 265.4) rotate(204)" d="M-13.6 0Q0 -4.6 13.6 0Q5.6 13.2 -13.6 0Z" fill="url(#g4)"/>
<path transform="translate(153.6 231.4) rotate(47)" d="M-8 0Q0 -2.6 8 0Q-1.1 9.4 -8 0Z" fill="url(#g3)"/>
<path transform="translate(104.5 247.5) rotate(149)" d="M-6.7 0Q0 -1.6 6.7 0Q3.9 21.2 -6.7 0Z" fill="url(#g1)"/>
<path transform="translate(72.5 273.9) rotate(165)" d="M-16.4 0Q0 -4.1 16.4 0Q8.2 10.7 -16.4 0Z" fill="url(#g3)"/>
<path d="M125.4 268.7Q123.4 254.5 111.7 246.2M83.9 320.3Q97.4 317.8 111.1 317M77.1 212.5Q76.6 228.7 86.2 241.9M97.5 317.5Q83.7 327.4 80.7 344.2M128.1 219.8Q133 215.3 135.5 209.1M-4.9 312.7Q0.5 324.9 12.6 330.7M164.7 194.6Q161.8 214.4 177.4 226.7M163.4 226.3Q168.4 237 162.3 247.1M53.5 306.4Q58.6 310.9 65.4 311.7M110.9 309.1Q125 299.3 141.3 294.2M133.8 325.6Q148.6 335.9 166.3 333M79.6 229.1Q67.7 215.3 55.8 201.6M50.7 214.9Q44.1 210.8 36.4 209.7M140.6 231.9Q134.2 215.8 126.5 200.3M151.2 320.4Q157.7 312 156 301.5M53.1 275.4Q51.5 290 54.9 304.2M94.1 284.4Q77.8 291.4 63.5 280.9M102 218.7Q103.3 210.5 107 203.1M135.3 242.6Q127.9 259.1 110.6 264.4M89 332.8Q96.9 330.1 99.7 322.2M87.2 328.8Q81.2 323.7 75.5 318.2M147.1 278.3Q152.1 266.2 145.3 255M95.3 210.1Q98.5 216.4 97.9 223.4M98.3 312.5Q93.2 333 73.4 340.7M57.2 220.7Q71.9 223.5 81.3 235.3M188.6 336.9Q174 323.5 156.1 315.1M153.1 251.6Q137.3 260.2 121.8 251.2M173.9 264.5Q178 274.4 184.3 283.1M63.5 294.5Q70.1 281.1 85 278.9M73.4 267.9Q78.9 262.7 77.4 255.3M74.9 243.8Q84.3 255.9 90.7 269.8M155.2 213.2Q152 206.8 144.8 205.7M76.1 270.3Q65.1 285.2 51.6 297.8M83.3 223.6Q68.2 219.3 63.7 204.3M84.4 254.8Q76.9 236.6 83.5 218M51.7 257.4Q39.1 267.9 22.8 269.2M15 255.7Q12.1 239.4 1.9 226.3M34.1 197.8Q42.4 214.2 59.1 222M64 254.1Q56.7 257 52.6 263.6M136.7 320.6Q132 330.2 122.3 334.8M21.2 320.3Q34.7 311.8 46.4 301M151.7 264.9Q160 256.3 171.8 255M160.4 332.4Q156.7 324.4 148.4 321.5M189.7 220.5Q185.3 233.2 177.8 244.4M82.9 326.8Q70 325.1 58.3 330.7M155.7 271.4Q171.4 285 176 305.2M76.1 292.5Q85.2 294 94.3 295M138 346Q157.8 349.1 174.3 337.7M74.3 273Q71 279.8 71 287.4M55.7 320.4Q61.9 317.9 68 320.8M182.1 217.9Q187.1 236.6 183.9 255.7M-8.5 257.4Q4 240.7 24.2 235.3M195.4 269.9Q187 270.2 179.3 266.8M195.7 300Q176.7 290.1 156.5 297.2M159 263Q165.7 249.6 175.8 238.7M110.7 323Q104.1 337.2 99.3 352M122.4 226.5Q114.8 243.5 113.6 262.1M159.9 249.6Q175.4 260 194.1 259.6M174.9 346.6Q188.5 337.2 203.3 329.7M157.7 350.5Q163.6 334.9 154.7 320.8M156.4 272.7Q151.9 267.5 145.1 268.1M73.3 300.7Q67 307.8 57.7 306.5M39.7 222.4Q41.3 229.3 43.2 236.1M26.8 211.4Q35.2 217.9 36 228.5M16.7 276.7Q15.1 265.2 7.5 256.5M95.8 323.1Q98.9 330.1 100.9 337.4M151.1 307Q145.6 301.3 138.5 297.6M166.9 289Q156.8 303.5 159.1 321.1M167.3 231.3Q173.1 247.8 189.5 253.9M65.6 291.3Q66 307.6 72.8 322.3M122.6 226.4Q110.7 243 118.7 261.8M78.2 264.2Q83.9 254.1 91.9 245.7M155.7 326.2Q145.2 338.6 129 337.7M41.1 248.3Q42.5 266.7 42.1 285.1M108.9 242.4Q112.3 223.6 108.1 205M23.6 256.7Q15.6 256.9 11.2 263.6M55.4 299.4Q48.6 307.3 51.1 317.4M173 222Q161.3 206.3 141.8 207.4M88.1 332.2Q102.4 328.6 116.9 330.6M126.4 290.6Q119.8 282.1 112.9 273.9M118.3 220.2Q125.8 228.8 137.1 227.9M83.4 192.4Q79.5 212.3 88.2 230.6M95.6 300.5Q96.7 284.5 84.8 273.8M107.3 257.6Q112.9 267.6 124.2 269.6M13.6 245.3Q29 256.9 45.9 266M4.8 259.1Q8.5 247.9 10.2 236.3M91.2 217.9Q75.8 219.1 63.2 228M22 330.5Q44.5 324.9 60.1 342.2M16 211.2Q25.2 208.7 33.8 204.7M156.8 240.9Q167.2 243.2 177.2 246.8M29.7 301.8Q32.5 309.1 33.8 316.9M125.4 271.5Q128.9 281.8 134.6 291M69.5 231.6Q66 221 67.2 209.8M85.2 248.9Q102.8 244.8 108.5 227.6M63.4 263.5Q75.9 280.3 71.3 300.7M111.7 290Q103.6 286.5 95.5 283.2M152.5 312.7Q157 306 154.2 298.4M74.3 222.9Q58.8 231.2 50.7 246.8M149.3 286.8Q160.8 297.6 175.2 303.9M-13.8 322.1Q-2.5 304.3 17.9 299.2M108.9 261.7Q121 278 112.6 296.6M203.6 223.9Q187.8 228.1 176.7 240M65.5 288.1Q76.1 277.4 83.3 264.2M179.6 238Q172.6 242.3 167.4 248.7M153.6 233.3Q150.9 222.7 149.8 211.9M147.6 260.7Q157 261.2 165.8 264.6M171.9 208.1Q178.9 212 186.7 213.8M186.8 203.7Q177.7 207.7 171.6 215.5M101.7 292.8Q116.3 294.5 130.2 299.1M163.4 253Q162.4 244.1 168.1 237.2M27.8 218.2Q37.1 223.7 40 234.1M139 321.8Q126.6 315.9 123 302.7M141.6 321.2Q146.7 332.1 154.8 340.9M122.2 293.4Q130.9 293.1 137.1 299.1M123.2 333.6Q107.6 316.8 114.1 294.8M9.3 324.5Q7.5 333.7 2.9 342M63.3 326.1Q53.8 309.7 49.5 291.2M50.6 217.9Q46.8 227.7 39.7 235.4M43.1 277.2Q51 285.1 62.2 285.1M117.3 219.2Q116.5 236.1 109.9 251.7M175.9 252.9Q160 259.7 142.7 258.1M157.4 291.9Q147.5 311.9 125.1 312.8M133.2 260.6Q138.5 241.3 134.1 221.8M163.3 231.8Q180.4 225.1 185.2 207.4M17.1 348.1Q2.6 337.3 -6.4 321.7M89.1 279.2Q93.5 289.3 103.4 293.9M84.3 280.8Q74.6 275.9 65.2 281.4M203.8 228.2Q187.5 227.7 171.6 231.8M51.1 275.1Q52.6 261.4 41.9 252.7M97.9 345.9Q106.7 342.9 111.1 334.7M109.8 306.8Q107.5 298.2 113.6 291.8M58.9 246.5Q41.8 257.6 38.1 277.6M138.1 264.7Q142.2 273.8 151.1 278.2M115.3 270.3Q121.9 271.3 128 268.7M143.6 290.4Q130.6 301.8 113.3 302.2M138.3 350.8Q134.7 338.7 123.1 333.6M121.3 245.5Q140.2 250.6 159.7 252.1M76.2 341.9Q77.1 324.6 75.5 307.3M59.5 236.4Q71.2 220.7 90.8 218.9M55.9 256.2Q48.5 268.8 38.6 279.6M39.8 216Q49 215.1 57.3 218.9M67.5 233.3Q53.4 232.9 44 243.3M14.8 276.6Q12.2 287.1 14.5 297.6M11.8 245Q5.8 239.7 -1.9 241.7M15.4 345.6Q28.6 333.3 46.7 333.1M118.9 257.8Q128.8 248.7 129.9 235.3M100.6 307.8Q104.5 318.5 115.6 321.1M189.4 234.5Q171.2 234.1 153.1 235.3M3.8 335.3Q5.9 319.2 -2.5 305.4M121.2 294.1Q114.2 298.7 105.8 299M155 229.8Q156.2 219.9 149 213.2M126.1 317.6Q117.3 316.6 108.6 318.2M75.7 270.8Q87.1 260.4 94 246.6M153.4 329.1Q159 314.9 167 301.8M115.6 215Q106.4 207.9 98.3 199.6M119.5 278.4Q121.1 291.1 132.6 296.9M67.4 223.5Q85.4 219.6 103.9 218.8M77.7 235.7Q88.1 229.9 99.1 225.2M12.5 221.7Q31.1 227.5 37.8 245.7M127.4 297.3Q123.8 292.4 119.2 288.5M84.4 314.9Q78.3 318 73.1 322.5M46.2 305Q40.9 317.6 30.4 326.2M64.2 232.5Q63.1 239.5 64.7 246.4M25.6 251.6Q36.1 257.6 46.4 263.7M142.8 226.5Q127.1 223.4 116.4 235.3M162.4 258.7Q169.5 257.9 176.3 255.5M29.6 237.9Q37.9 254.1 53.7 263.3M50.9 258.4Q58.8 267 70.4 267M102.1 239.5Q89 248.8 90.7 264.8M173 346.1Q155.4 347 138.9 340.9M93.2 336.3Q110.5 334.7 124 345.6M11.5 306.7Q1.9 310.2 -6.8 305M147.2 261.5Q129.9 270.2 114.1 281.6M187.4 218.8Q169.9 214.4 151.8 213.8M78.1 273Q86.8 288.4 94.2 304.4M114.5 310.7Q117.8 298.8 123 287.7M46 233.3Q33.9 246.1 25.9 261.8M64.6 337.1Q79.1 335.2 93.6 333M147.3 212.3Q144.9 227.9 134.1 239.3M57.6 322.6Q47.5 334.3 51.2 349.4M143.6 233.9Q142.6 218.6 152.7 207.1M152.7 272.7Q151.9 263 148.2 254M87.6 297.7Q81.3 283.5 73.7 270M42.7 223.3Q51.8 234.2 51 248.5M101.6 216.9Q92.7 216.8 87.3 209.7M58.9 331.1Q75 329.5 84.1 316.2M23.7 248.4Q13 259.8 3.7 272.4M19.7 289.5Q28.5 290.8 36.1 286.2M63.9 300.2Q57.9 286 56.6 270.5M6.7 288.8Q12.8 296.9 22.7 299.5M40.1 248.7Q20.4 242.3 3.4 254M152.6 263Q147.8 268.6 143.8 274.8M141.9 286.6Q140.9 280 143.5 273.9M126.8 282Q137.6 296.6 155.6 295M100.5 236.4Q109.4 231.9 117.7 226.2M147.7 248Q138.4 240.8 135 229.6M59.7 288.9Q66.4 280.5 64.5 269.9M65.8 248.4Q62.4 242.9 60.6 236.7M20.4 211.3Q6.8 204.4 -5.9 212.9M31.2 225.7Q37.2 243.3 43.2 260.9M108.4 235.3Q122.7 245.5 139.2 239.4M148.5 348.8Q151.4 340.5 150.5 331.7M107.7 287.8Q100.7 300.2 98.8 314.3M172.8 271.6Q168.7 265 164.9 258.2M120.8 284.2Q140.6 286.5 160.5 285.3M88.8 219.9Q74.2 221.1 63 230.6M25.6 276.5Q10.5 288 8.3 306.8M36.5 335.5Q22.7 324 26.1 306.3M58 340.7Q42.7 339.5 30 331M141 225.4Q161 222.6 173.4 206.7M144.4 240Q137.2 258.9 122.9 273.2M15.2 305.8Q31.5 299.1 48.6 303.7M60.8 320.5Q75.9 321.3 87.5 331.1M192 280.4Q187.8 269.2 179.9 260.1M168.8 278.8Q158.1 271.6 152 260.3M45.7 278.9Q63.4 272.6 80.4 280.6M96 299.5Q99.7 293.2 99.8 285.9M142.8 235Q145.3 248.7 152.9 260.4M74.3 283.5Q66.2 288.2 57.2 290.5M152 341.7Q165 336.2 179 335.7M145.3 227.7Q129.6 241 122.7 260.4M48.7 277.8Q48 262.6 49.2 247.3M137.4 233.8Q136.7 214.7 151.7 202.9M138.5 279.1Q153.6 272.8 169.5 276.8M32.1 264Q12 266 -4.7 277M171.1 330Q160.4 338.4 151.3 348.5M3.9 258.4Q5.8 271.1 14.7 280.3M129.1 311Q147.6 305.5 154.6 287.5M106.1 324.2Q113 335.5 119.1 347.2M93.9 339Q88.5 326.6 82.8 314.3M58.6 292.3Q59.3 284.8 55.3 278.5M39.4 275.2Q23.3 266.2 5.9 272.7M43 331.8Q29.3 340.5 16.4 350.4M118.2 304.8Q101.5 293.9 101.5 274M126.4 295.4Q124 286.6 121 277.8M145.6 304.9Q150.6 297 157.2 290.5M52.1 274.7Q62.9 265.9 71.2 254.8M143.7 222.5Q156.4 231.4 162.7 245.5M28.9 291.2Q34.5 286.3 34.7 278.9M64.1 226.2Q81.9 226.6 96 237.5M189.8 269.6Q184.5 258 188.6 245.9M173.2 252.5Q161.3 243.1 147.1 238.2M159.2 278.9Q160.2 270.9 164.5 264M172.5 235.3Q171.4 241.5 167.4 246.4M56.4 266.8Q54.1 286.1 68.3 299.4M88.6 232.6Q82.8 236.7 75.7 237.3M111 208.3Q91.6 200.1 73.7 211.2M102.3 294.5Q95.9 313.2 76.5 316.9M169.7 225Q168.5 218.2 163.9 213.1M1.4 250.8Q9 240.8 4.8 228.9M148.7 297.5Q137 295.7 129 286.9M17 242.5Q11.5 256.6 15.9 271.2M52.6 250.4Q56.1 243.7 60.6 237.6M20.9 301.2Q6 299.1 -8.7 302.7M179.3 232.2Q159.8 242 141.3 230.4M63.6 287.1Q46.8 295.5 28 296.7M99.4 313.9Q92.2 310.2 84.2 308.6M143.3 209Q154.2 214.8 162.1 224.3M183.6 340.4Q169.6 328.3 154.5 317.7M9.5 271.6Q11.2 278.7 10.9 286M38.9 302.9Q46.2 307 54.3 304.7M10.4 331.5Q-0.5 314.6 1.1 294.5M159.6 230Q148.7 226.4 144 215.9M44.5 252.2Q63 243.9 79.6 255.5M30.2 315.5Q23.7 319.8 18.7 325.7M88.1 330.5Q74.2 331.8 61 335.9M164 265.5Q167.5 271.3 171.4 276.7M61.5 296.8Q62 279 52.8 263.8M-3.4 311.8Q12 315.2 26.7 309.6M92 255.4Q98.4 257.5 104.2 261M60.3 307.1Q44.3 317.2 27 309.7M102.7 223.3Q96.8 234.5 84.4 236.6M143.3 309.3Q157.6 304.1 171.1 297M174 304.3Q188.5 292.8 206.5 297.3M-2.4 239.6Q9.7 241.3 21.9 241.8M20.5 316Q6.9 324.1 4.2 339.7M152 251.1Q165.7 236.6 185.3 240.7M144.2 319.2Q149.3 331 161.9 333.1M39.4 226.6Q43.3 208.3 57.3 195.9M118.2 242.4Q124.1 226.2 126.1 209.1M142.7 318.7Q132.4 312 123.7 303.2M62.6 297.4Q56.3 316 46.5 333M156.2 229.3Q153.7 221 150.1 213M149.1 256.8Q156.8 255.2 159.4 247.8M128.7 283.4Q137.8 270.7 140.6 255.3M95.9 295.8Q91.7 282.7 91.6 268.9M150.9 226Q148.9 236 140.7 242.2M94.3 283.7Q75.8 273.1 71 252.4M198 296.3Q183.4 302.5 168.7 296.8M72.8 263.9Q76.5 272 74.6 280.8M38.9 283.3Q37.6 294 30.2 301.8M124.1 278.1Q140.7 277.6 149.1 291.8M100 251Q108.4 263 120.7 270.7M51.9 270.3Q48.6 258.1 57 248.7M93.6 286.3Q107.4 284.9 119.1 292.5M112.2 328.4Q109.9 321.8 104.4 317.4M33.7 273.6Q41.6 256.1 33.6 238.6M83.7 321.3Q88.9 306.5 104.1 303.3M30.8 335.9Q26.2 341.2 27.8 348.1M119.8 227.8Q125.8 230.7 132.5 229.8M191.1 312.7Q181 297.2 169.6 282.8M48.1 203.5Q32.6 214.2 20.2 228.5M107 300.3Q118.3 317.3 112 336.8M81.4 319.9Q72.6 313.4 62.5 309.2M64.6 344.6Q53.2 337.8 41.9 330.8M80 313.6Q84 322.9 87.1 332.4M143.5 304.5Q141.6 293.1 130.9 288.8M65.3 313.6Q65 331.7 80.4 341.1M122.8 251.6Q106 247.2 93.4 259.2M88.7 294.9Q99.1 296.9 105.9 288.9M59.2 262.9Q53.2 270.3 50.1 279.3M114 228.7Q110.6 235.6 107.6 242.8M66 310.8Q59 317.6 56.8 327.2M148.2 225.5Q155.6 229.6 159 237.3M88.4 269.7Q73.6 277.9 56.6 278.2" fill="none" stroke="#b4b4b4" stroke-opacity="0.45" stroke-width="0.9" stroke-linecap="round"/>
</g>
<path d="M63 213 Q66 232 68 247 T71 279 Q73 295 76 308 T81 338" stroke="#262626" stroke-width="4" fill="none" opacity="0.45" filter="url(#fblur2)"/>
<rect x="7.1" y="215" width="176" height="120.7" fill="#000" opacity="0.06"/>
</g>
<clipPath id="sd"><rect x="187.8" y="215" width="176.2" height="120.7"/></clipPath>
<g clip-path="url(#sd)">
<rect x="187.8" y="215" width="176.2" height="120.7" fill="#585858"/>
<g filter="url(#sblur)">
<ellipse cx="230" cy="300" rx="40" ry="25" transform="rotate(20 230 300)" fill="#555" opacity="0.3"/>
<ellipse cx="320" cy="240" rx="30" ry="20" transform="rotate(0 320 240)" fill="#555" opacity="0.3"/>
<ellipse cx="260" cy="240" rx="30" ry="20" transform="rotate(0 260 240)" fill="#888" opacity="0.3"/>
<ellipse cx="340" cy="310" rx="25" ry="20" transform="rotate(0 340 310)" fill="#7a7a7a" opacity="0.3"/>
</g>
<g filter="url(#fblur)">
<path transform="translate(313.2 294.7) rotate(40)" d="M-16 0Q0 -6.8 16 0Q-5.7 24.4 -16 0Z" fill="url(#g3)"/>
<path transform="translate(270.3 263.8) rotate(22)" d="M-22.1 0Q0 5.3 22.1 0Q-2.9 20 -22.1 0Z" fill="url(#g3)"/>
<path transform="translate(311.2 292.4) rotate(6)" d="M-32.9 0Q0 -1.7 32.9 0Q13.9 24.4 -32.9 0Z" fill="url(#g2)"/>
<path transform="translate(339 241.6) rotate(275)" d="M-29.7 0Q0 -15.7 29.7 0Q4.8 28.6 -29.7 0Z" fill="url(#g4)"/>
<path transform="translate(275.5 238.9) rotate(179)" d="M-16.9 0Q0 1 16.9 0Q3.7 26.4 -16.9 0Z" fill="url(#g3)"/>
<path transform="translate(270.9 320) rotate(281)" d="M-32.5 0Q0 15.2 32.5 0Q-1.7 18.4 -32.5 0Z" fill="url(#g2)"/>
<path transform="translate(256.4 342.7) rotate(281)" d="M-21 0Q0 -2.4 21 0Q-3.9 13.7 -21 0Z" fill="url(#g2)"/>
<path transform="translate(359.4 286.1) rotate(289)" d="M-26.7 0Q0 12.4 26.7 0Q-11.8 21.1 -26.7 0Z" fill="url(#g3)"/>
<path transform="translate(269.5 235.5) rotate(97)" d="M-39.1 0Q0 8.6 39.1 0Q11.5 27.2 -39.1 0Z" fill="url(#g3)"/>
<path transform="translate(316.8 246.9) rotate(256)" d="M-24.4 0Q0 1.6 24.4 0Q5.1 31.9 -24.4 0Z" fill="url(#g3)"/>
<path transform="translate(307.8 228.7) rotate(51)" d="M-39.8 0Q0 20.7 39.8 0Q-19.7 24.7 -39.8 0Z" fill="url(#g2)"/>
<path transform="translate(198.3 245.4) rotate(336)" d="M-14.4 0Q0 -4.8 14.4 0Q3.4 28.6 -14.4 0Z" fill="url(#g4)"/>
<path transform="translate(186.1 214.7) rotate(207)" d="M-20.8 0Q0 1.4 20.8 0Q-6.3 28.2 -20.8 0Z" fill="url(#g3)"/>
<path transform="translate(273.1 283.8) rotate(271)" d="M-20.5 0Q0 -4.2 20.5 0Q-6.9 13.2 -20.5 0Z" fill="url(#g3)"/>
<path transform="translate(276.3 319.8) rotate(326)" d="M-28.1 0Q0 16.3 28.1 0Q16 19.9 -28.1 0Z" fill="url(#g3)"/>
<path transform="translate(338.9 224.3) rotate(30)" d="M-36.5 0Q0 14.9 36.5 0Q-0.7 16.8 -36.5 0Z" fill="url(#g3)"/>
<path transform="translate(220.4 286.2) rotate(173)" d="M-16.9 0Q0 9.8 16.9 0Q7.8 25.3 -16.9 0Z" fill="url(#g3)"/>
<path transform="translate(319 338.4) rotate(29)" d="M-16.5 0Q0 9.5 16.5 0Q2.6 26.3 -16.5 0Z" fill="url(#g3)"/>
<path transform="translate(357.4 220.4) rotate(273)" d="M-22.2 0Q0 5.6 22.2 0Q-8.5 17.7 -22.2 0Z" fill="url(#g3)"/>
<path transform="translate(192.1 271.1) rotate(150)" d="M-32.7 0Q0 -17.8 32.7 0Q-12.6 23.4 -32.7 0Z" fill="url(#g2)"/>
<path transform="translate(308.5 276.5) rotate(58)" d="M-21.9 0Q0 -1.4 21.9 0Q12.4 18.3 -21.9 0Z" fill="url(#g3)"/>
<path transform="translate(330.8 257.2) rotate(9)" d="M-28.3 0Q0 0.3 28.3 0Q-11.8 31.6 -28.3 0Z" fill="url(#g3)"/>
<path transform="translate(347.3 307.7) rotate(99)" d="M-39.5 0Q0 2.8 39.5 0Q6.6 22.2 -39.5 0Z" fill="url(#g3)"/>
<path transform="translate(269.7 259.5) rotate(97)" d="M-31.7 0Q0 -18.9 31.7 0Q-4.2 17.3 -31.7 0Z" fill="url(#g3)"/>
<path transform="translate(365.2 335.1) rotate(35)" d="M-37.8 0Q0 13.1 37.8 0Q6.7 27.7 -37.8 0Z" fill="url(#g3)"/>
<path transform="translate(191.2 288.2) rotate(298)" d="M-17.2 0Q0 6.1 17.2 0Q-3 15 -17.2 0Z" fill="url(#g4)"/>
<path transform="translate(353.4 231.4) rotate(151)" d="M-35.6 0Q0 -5.8 35.6 0Q-11.9 31.9 -35.6 0Z" fill="url(#g3)"/>
<path transform="translate(339.6 270.9) rotate(265)" d="M-22.9 0Q0 -5.7 22.9 0Q-2.9 12.2 -22.9 0Z" fill="url(#g3)"/>
<path transform="translate(196.6 241.5) rotate(109)" d="M-20.4 0Q0 -8.7 20.4 0Q-10.1 31.3 -20.4 0Z" fill="url(#g3)"/>
<path transform="translate(335.6 213.8) rotate(281)" d="M-32.9 0Q0 -3.2 32.9 0Q-2.5 29.8 -32.9 0Z" fill="url(#g3)"/>
<path transform="translate(294.1 245.3) rotate(190)" d="M-20.4 0Q0 0.3 20.4 0Q-6.1 11.6 -20.4 0Z" fill="url(#g2)"/>
<path transform="translate(323.2 325.1) rotate(321)" d="M-31.5 0Q0 -3.4 31.5 0Q9.5 29.5 -31.5 0Z" fill="url(#g3)"/>
<path transform="translate(286.6 339.2) rotate(349)" d="M-33 0Q0 13.9 33 0Q-17.3 16.9 -33 0Z" fill="url(#g3)"/>
<path transform="translate(315.3 230.5) rotate(101)" d="M-38.7 0Q0 -9.6 38.7 0Q-22 15.2 -38.7 0Z" fill="url(#g2)"/>
<path transform="translate(308.4 283.6) rotate(290)" d="M-18.9 0Q0 -1.7 18.9 0Q-2.6 22.2 -18.9 0Z" fill="url(#g2)"/>
<path transform="translate(228.5 304.8) rotate(271)" d="M-20.9 0Q0 2.2 20.9 0Q8.6 26.4 -20.9 0Z" fill="url(#g4)"/>
<path transform="translate(309.2 281.5) rotate(331)" d="M-28.1 0Q0 8.6 28.1 0Q13.2 28.3 -28.1 0Z" fill="url(#g3)"/>
<path transform="translate(283.1 281.5) rotate(345)" d="M-25.8 0Q0 12.1 25.8 0Q-6.8 26.6 -25.8 0Z" fill="url(#g3)"/>
<path transform="translate(368.3 283.7) rotate(343)" d="M-29.8 0Q0 9.4 29.8 0Q-8.7 28.2 -29.8 0Z" fill="url(#g4)"/>
<path transform="translate(182.5 280.8) rotate(245)" d="M-38.4 0Q0 -9.4 38.4 0Q-14.9 13 -38.4 0Z" fill="url(#g3)"/>
<path transform="translate(284.2 328.9) rotate(348)" d="M-33.7 0Q0 0.2 33.7 0Q-17.8 21.4 -33.7 0Z" fill="url(#g4)"/>
<path transform="translate(230.4 287.5) rotate(44)" d="M-30.7 0Q0 18.2 30.7 0Q-17 21.8 -30.7 0Z" fill="url(#g3)"/>
<path transform="translate(314.8 265) rotate(300)" d="M-29.7 0Q0 -13.7 29.7 0Q-0.9 21.9 -29.7 0Z" fill="url(#g3)"/>
<path transform="translate(301.5 274.1) rotate(228)" d="M-34.2 0Q0 -14.3 34.2 0Q6.9 29 -34.2 0Z" fill="url(#g4)"/>
<path transform="translate(361.5 291.9) rotate(297)" d="M-20 0Q0 11.8 20 0Q9.4 15 -20 0Z" fill="url(#g3)"/>
<path transform="translate(271.6 221.5) rotate(137)" d="M-26.3 0Q0 4.4 26.3 0Q5.6 10.9 -26.3 0Z" fill="url(#g3)"/>
<path transform="translate(296.5 338.4) rotate(141)" d="M-29.4 0Q0 -4.4 29.4 0Q11.1 23.7 -29.4 0Z" fill="url(#g2)"/>
<path transform="translate(221.5 248.7) rotate(92)" d="M-24.4 0Q0 4.4 24.4 0Q7.6 16.7 -24.4 0Z" fill="url(#g3)"/>
<path transform="translate(224 218.4) rotate(253)" d="M-36.2 0Q0 18.2 36.2 0Q-20.5 25 -36.2 0Z" fill="url(#g3)"/>
<path transform="translate(219.4 340.5) rotate(270)" d="M-24.7 0Q0 0.2 24.7 0Q8.2 30 -24.7 0Z" fill="url(#g3)"/>
<path transform="translate(267.2 314) rotate(88)" d="M-17.8 0Q0 5.3 17.8 0Q-8 22.8 -17.8 0Z" fill="url(#g3)"/>
<path transform="translate(251.1 260.9) rotate(103)" d="M-29.2 0Q0 11.1 29.2 0Q7.4 17.3 -29.2 0Z" fill="url(#g3)"/>
<path transform="translate(327.1 279) rotate(235)" d="M-35 0Q0 -5.3 35 0Q7.1 20.4 -35 0Z" fill="url(#g2)"/>
<path transform="translate(209.4 308.9) rotate(300)" d="M-27 0Q0 -11.9 27 0Q-14.3 18.2 -27 0Z" fill="url(#g2)"/>
<path transform="translate(243.2 238.3) rotate(99)" d="M-25.6 0Q0 -9.6 25.6 0Q9.3 25.6 -25.6 0Z" fill="url(#g3)"/>
<path transform="translate(221.7 326.6) rotate(350)" d="M-37.4 0Q0 -0.6 37.4 0Q-10 30.4 -37.4 0Z" fill="url(#g4)"/>
<path transform="translate(276.6 214) rotate(44)" d="M-28.2 0Q0 8.9 28.2 0Q-0.6 14 -28.2 0Z" fill="url(#g3)"/>
<path transform="translate(353.8 263.9) rotate(142)" d="M-36.1 0Q0 6.7 36.1 0Q15.6 13.8 -36.1 0Z" fill="url(#g3)"/>
<path transform="translate(247.7 236.1) rotate(143)" d="M-30.4 0Q0 12.2 30.4 0Q15.4 28 -30.4 0Z" fill="url(#g4)"/>
<path transform="translate(283.8 300.8) rotate(190)" d="M-18.2 0Q0 2.7 18.2 0Q1 23.5 -18.2 0Z" fill="url(#g3)"/>
<path transform="translate(259.5 249.1) rotate(318)" d="M-24.6 0Q0 1.8 24.6 0Q5.6 13.1 -24.6 0Z" fill="url(#g3)"/>
<path transform="translate(351.7 249.8) rotate(21)" d="M-24.8 0Q0 11.6 24.8 0Q-11.4 23.9 -24.8 0Z" fill="url(#g3)"/>
<path transform="translate(287.3 313.6) rotate(8)" d="M-18.3 0Q0 -7.3 18.3 0Q-2.5 28.8 -18.3 0Z" fill="url(#g3)"/>
<path transform="translate(284.3 277.9) rotate(46)" d="M-14.6 0Q0 2.7 14.6 0Q6.3 17.6 -14.6 0Z" fill="url(#g2)"/>
<path transform="translate(328.8 226.4) rotate(319)" d="M-28.1 0Q0 -12.2 28.1 0Q7 12 -28.1 0Z" fill="url(#g3)"/>
<path transform="translate(193.6 324.3) rotate(36)" d="M-36.9 0Q0 12 36.9 0Q13.8 21.8 -36.9 0Z" fill="url(#g3)"/>
<path transform="translate(259.5 309.1) rotate(26)" d="M-21.2 0Q0 4.4 21.2 0Q-10 16 -21.2 0Z" fill="url(#g3)"/>
<path transform="translate(241 297.3) rotate(212)" d="M-21.3 0Q0 -2.1 21.3 0Q-11.2 25.6 -21.3 0Z" fill="url(#g4)"/>
<path transform="translate(364.2 271) rotate(236)" d="M-24.4 0Q0 5.6 24.4 0Q-6.3 18.4 -24.4 0Z" fill="url(#g2)"/>
<path transform="translate(197.4 248.9) rotate(275)" d="M-35.3 0Q0 20.8 35.3 0Q-7 29.2 -35.3 0Z" fill="url(#g2)"/>
<path transform="translate(302.6 249.3) rotate(351)" d="M-25.3 0Q0 -10.2 25.3 0Q1.8 18.6 -25.3 0Z" fill="url(#g3)"/>
<path transform="translate(198.8 303.6) rotate(315)" d="M-30.5 0Q0 11.6 30.5 0Q16.2 20.7 -30.5 0Z" fill="url(#g4)"/>
<path transform="translate(237.6 248.6) rotate(149)" d="M-23.8 0Q0 -1.1 23.8 0Q9.7 19.6 -23.8 0Z" fill="url(#g3)"/>
<path transform="translate(249.1 242.1) rotate(308)" d="M-30.7 0Q0 -11.1 30.7 0Q-7.7 21.3 -30.7 0Z" fill="url(#g4)"/>
<path transform="translate(197.2 266.7) rotate(177)" d="M-22.4 0Q0 -0.5 22.4 0Q-4.2 16.7 -22.4 0Z" fill="url(#g3)"/>
<path transform="translate(228 314) rotate(88)" d="M-24.3 0Q0 -3.5 24.3 0Q1.2 26.6 -24.3 0Z" fill="url(#g3)"/>
<path transform="translate(292.7 297.8) rotate(40)" d="M-27 0Q0 -9.5 27 0Q13.2 17.8 -27 0Z" fill="url(#g4)"/>
<path transform="translate(282.5 297.4) rotate(53)" d="M-37.1 0Q0 -21.1 37.1 0Q19.5 29.7 -37.1 0Z" fill="url(#g3)"/>
<path transform="translate(291.4 252.4) rotate(41)" d="M-31.6 0Q0 11.7 31.6 0Q-15.5 26.9 -31.6 0Z" fill="url(#g2)"/>
<path transform="translate(241.2 251.3) rotate(135)" d="M-35.7 0Q0 12 35.7 0Q-8.9 26 -35.7 0Z" fill="url(#g2)"/>
<path transform="translate(222.7 342.9) rotate(276)" d="M-19.6 0Q0 4.9 19.6 0Q-3.7 31.6 -19.6 0Z" fill="url(#g3)"/>
<path transform="translate(359 230.3) rotate(346)" d="M-34.2 0Q0 11.3 34.2 0Q-6.5 10.8 -34.2 0Z" fill="url(#g3)"/>
<path transform="translate(193.8 256.3) rotate(245)" d="M-31.1 0Q0 -18.5 31.1 0Q-7.4 22.2 -31.1 0Z" fill="url(#g3)"/>
<path transform="translate(190.9 219.4) rotate(240)" d="M-20.5 0Q0 -3.3 20.5 0Q1.3 12.2 -20.5 0Z" fill="url(#g2)"/>
<path transform="translate(341.8 284.7) rotate(307)" d="M-12.9 0Q0 5 12.9 0Q-0.3 27.4 -12.9 0Z" fill="url(#g4)"/>
<path transform="translate(370.1 284.6) rotate(55)" d="M-13.1 0Q0 -6.8 13.1 0Q-0.5 31.1 -13.1 0Z" fill="url(#g3)"/>
<path transform="translate(189.4 327.4) rotate(288)" d="M-38.2 0Q0 -13.2 38.2 0Q7.2 19.4 -38.2 0Z" fill="url(#g3)"/>
<path transform="translate(357.2 290.4) rotate(267)" d="M-14.9 0Q0 4.9 14.9 0Q0.8 24.7 -14.9 0Z" fill="url(#g3)"/>
<path transform="translate(207.2 217.9) rotate(10)" d="M-14.5 0Q0 -5 14.5 0Q-6.6 17.9 -14.5 0Z" fill="url(#g2)"/>
<path transform="translate(343.9 254.1) rotate(233)" d="M-18 0Q0 -2.3 18 0Q-10.8 24.1 -18 0Z" fill="url(#g3)"/>
<path transform="translate(204.9 227.2) rotate(251)" d="M-27.7 0Q0 13.7 27.7 0Q14.6 15.6 -27.7 0Z" fill="url(#g3)"/>
<path transform="translate(297.8 260.6) rotate(346)" d="M-27.3 0Q0 8.8 27.3 0Q-7.6 11.4 -27.3 0Z" fill="url(#g3)"/>
<path transform="translate(285.3 225.4) rotate(3)" d="M-27.1 0Q0 4.3 27.1 0Q-9.9 27.2 -27.1 0Z" fill="url(#g2)"/>
<path transform="translate(236.5 327) rotate(344)" d="M-21.3 0Q0 1.6 21.3 0Q-8.7 24.8 -21.3 0Z" fill="url(#g3)"/>
<path transform="translate(244.9 239) rotate(294)" d="M-36.9 0Q0 14.1 36.9 0Q-5.5 19.9 -36.9 0Z" fill="url(#g3)"/>
<path transform="translate(197.8 238.4) rotate(121)" d="M-18.2 0Q0 3.7 18.2 0Q1.2 25.7 -18.2 0Z" fill="url(#g3)"/>
<path transform="translate(277.1 312.9) rotate(271)" d="M-21.3 0Q0 -11.4 21.3 0Q1.9 18.9 -21.3 0Z" fill="url(#g3)"/>
<path transform="translate(303.5 238.1) rotate(122)" d="M-17.7 0Q0 7.2 17.7 0Q2.4 27.8 -17.7 0Z" fill="url(#g3)"/>
<path transform="translate(229.6 332.2) rotate(275)" d="M-38.9 0Q0 16.1 38.9 0Q12 24.1 -38.9 0Z" fill="url(#g3)"/>
<path transform="translate(321.4 215.1) rotate(53)" d="M-13.3 0Q0 2.4 13.3 0Q5.5 24 -13.3 0Z" fill="url(#g2)"/>
<path transform="translate(196.8 303) rotate(211)" d="M-32.9 0Q0 -14.2 32.9 0Q1 27.2 -32.9 0Z" fill="url(#g2)"/>
<path transform="translate(200.9 302.6) rotate(72)" d="M-35.2 0Q0 3 35.2 0Q-0.3 24.4 -35.2 0Z" fill="url(#g3)"/>
<path transform="translate(203.8 338) rotate(337)" d="M-12.6 0Q0 1.7 12.6 0Q2 22.8 -12.6 0Z" fill="url(#g4)"/>
<path transform="translate(332.2 212.4) rotate(68)" d="M-14.2 0Q0 4.1 14.2 0Q-8.2 20.3 -14.2 0Z" fill="url(#g3)"/>
<path transform="translate(314.9 290.1) rotate(256)" d="M-15.9 0Q0 -3.4 15.9 0Q-7.9 21.4 -15.9 0Z" fill="url(#g2)"/>
<path transform="translate(369.8 245.3) rotate(209)" d="M-15.4 0Q0 -1 15.4 0Q-1.4 10.1 -15.4 0Z" fill="url(#g4)"/>
<path transform="translate(190.1 284.6) rotate(263)" d="M-12.8 0Q0 0.6 12.8 0Q3.7 15.5 -12.8 0Z" fill="url(#g4)"/>
<path transform="translate(218.6 297.9) rotate(83)" d="M-38.1 0Q0 12.9 38.1 0Q18.5 26.1 -38.1 0Z" fill="url(#g2)"/>
<path transform="translate(222.3 223.7) rotate(326)" d="M-33.4 0Q0 -6.7 33.4 0Q-3.7 32 -33.4 0Z" fill="url(#g3)"/>
<path transform="translate(277.6 312.8) rotate(302)" d="M-36.9 0Q0 -15 36.9 0Q16 25.1 -36.9 0Z" fill="url(#g2)"/>
<path transform="translate(222.6 343.5) rotate(119)" d="M-27.4 0Q0 9.8 27.4 0Q-10 15.8 -27.4 0Z" fill="url(#g3)"/>
<path transform="translate(249.4 312.2) rotate(13)" d="M-13 0Q0 6.2 13 0Q-5.7 11.7 -13 0Z" fill="url(#g4)"/>
<path transform="translate(307.2 275.7) rotate(249)" d="M-38.9 0Q0 15.4 38.9 0Q19 19.8 -38.9 0Z" fill="url(#g3)"/>
<path transform="translate(291.9 342.8) rotate(159)" d="M-20.3 0Q0 4 20.3 0Q11.2 23.5 -20.3 0Z" fill="url(#g3)"/>
<path transform="translate(229.3 336.6) rotate(144)" d="M-34.9 0Q0 -8.7 34.9 0Q-10.3 20.7 -34.9 0Z" fill="url(#g3)"/>
<path transform="translate(239.7 328.9) rotate(293)" d="M-21.3 0Q0 0.2 21.3 0Q1.4 16 -21.3 0Z" fill="url(#g3)"/>
<path transform="translate(314 331.9) rotate(88)" d="M-19 0Q0 -1.6 19 0Q-7.8 21.3 -19 0Z" fill="url(#g3)"/>
<path transform="translate(205.8 310.7) rotate(202)" d="M-33.1 0Q0 7.5 33.1 0Q-12.2 15.8 -33.1 0Z" fill="url(#g3)"/>
<path transform="translate(275 290) rotate(166)" d="M-30.3 0Q0 -9.4 30.3 0Q4.9 32 -30.3 0Z" fill="url(#g3)"/>
<path transform="translate(212.6 340.7) rotate(65)" d="M-28.5 0Q0 12.8 28.5 0Q12.9 30.9 -28.5 0Z" fill="url(#g3)"/>
<path transform="translate(370.1 309.7) rotate(61)" d="M-16.6 0Q0 8.6 16.6 0Q7.1 15.8 -16.6 0Z" fill="url(#g3)"/>
<path transform="translate(218.9 207.6) rotate(270)" d="M-20 0Q0 -4.5 20 0Q-2.2 21.3 -20 0Z" fill="url(#g3)"/>
<path transform="translate(230.2 242.1) rotate(123)" d="M-24.3 0Q0 -5.5 24.3 0Q-1.6 18.7 -24.3 0Z" fill="url(#g4)"/>
<path transform="translate(270.1 218.3) rotate(81)" d="M-38.8 0Q0 2.3 38.8 0Q11.4 19.1 -38.8 0Z" fill="url(#g3)"/>
<path transform="translate(300.4 248.2) rotate(119)" d="M-21.6 0Q0 -9.8 21.6 0Q-11.2 30.3 -21.6 0Z" fill="url(#g2)"/>
<path transform="translate(228.3 272.7) rotate(257)" d="M-19.2 0Q0 -3.7 19.2 0Q-10.9 18.9 -19.2 0Z" fill="url(#g2)"/>
<path transform="translate(303.8 266) rotate(216)" d="M-18.6 0Q0 10.7 18.6 0Q5.2 13.6 -18.6 0Z" fill="url(#g3)"/>
<path transform="translate(325.3 330.1) rotate(233)" d="M-35.3 0Q0 -7.3 35.3 0Q-8.2 18.4 -35.3 0Z" fill="url(#g2)"/>
<path transform="translate(276.8 231.2) rotate(230)" d="M-33.8 0Q0 4.2 33.8 0Q-14.1 12.3 -33.8 0Z" fill="url(#g3)"/>
<path transform="translate(278.2 328) rotate(328)" d="M-21.9 0Q0 10 21.9 0Q0 26.6 -21.9 0Z" fill="url(#g3)"/>
<path transform="translate(262.2 313.8) rotate(73)" d="M-14 0Q0 -0.5 14 0Q0.4 25.8 -14 0Z" fill="url(#g4)"/>
<path transform="translate(317.5 229.9) rotate(351)" d="M-26.3 0Q0 -11.4 26.3 0Q-11.6 30.5 -26.3 0Z" fill="url(#g3)"/>
<path transform="translate(287.8 335.8) rotate(9)" d="M-29.6 0Q0 17 29.6 0Q8 17.2 -29.6 0Z" fill="url(#g4)"/>
<path transform="translate(206.8 320.4) rotate(203)" d="M-24.1 0Q0 12.4 24.1 0Q-7.7 17.9 -24.1 0Z" fill="url(#g3)"/>
<path transform="translate(292.1 273.7) rotate(282)" d="M-24 0Q0 1.2 24 0Q4.1 27 -24 0Z" fill="url(#g3)"/>
<path transform="translate(275.6 310.4) rotate(72)" d="M-16.7 0Q0 7.4 16.7 0Q-4.1 16.3 -16.7 0Z" fill="url(#g4)"/>
<path transform="translate(262.6 327.1) rotate(210)" d="M-12.8 0Q0 -1.3 12.8 0Q0.7 26.8 -12.8 0Z" fill="url(#g4)"/>
<path transform="translate(289 288.2) rotate(334)" d="M-24 0Q0 5.2 24 0Q-1.1 13 -24 0Z" fill="url(#g2)"/>
<path transform="translate(231.7 234.4) rotate(238)" d="M-19.3 0Q0 2.1 19.3 0Q0.9 26.7 -19.3 0Z" fill="url(#g4)"/>
<path transform="translate(359.3 289.8) rotate(59)" d="M-30.3 0Q0 -16.6 30.3 0Q-18.2 21.5 -30.3 0Z" fill="url(#g3)"/>
<path transform="translate(262.9 241.7) rotate(128)" d="M-15.9 0Q0 2.5 15.9 0Q-1 30.3 -15.9 0Z" fill="url(#g4)"/>
<path transform="translate(303.9 301) rotate(43)" d="M-16.9 0Q0 9 16.9 0Q-4.9 12.9 -16.9 0Z" fill="url(#g3)"/>
<path transform="translate(242.3 258.7) rotate(273)" d="M-22.4 0Q0 12 22.4 0Q-6.6 30.3 -22.4 0Z" fill="url(#g3)"/>
<path transform="translate(247.1 320.5) rotate(251)" d="M-15 0Q0 3.1 15 0Q1.8 20.2 -15 0Z" fill="url(#g3)"/>
<path transform="translate(296 324.1) rotate(284)" d="M-25.8 0Q0 5.1 25.8 0Q2.5 18.6 -25.8 0Z" fill="url(#g2)"/>
<path transform="translate(349.9 323) rotate(28)" d="M-28.4 0Q0 7.5 28.4 0Q7.2 25.6 -28.4 0Z" fill="url(#g3)"/>
<path transform="translate(190.8 227.2) rotate(182)" d="M-35.2 0Q0 -11.9 35.2 0Q-15.2 21.5 -35.2 0Z" fill="url(#g3)"/>
<path transform="translate(341.6 224.7) rotate(225)" d="M-32.4 0Q0 -8.1 32.4 0Q-1.4 27.8 -32.4 0Z" fill="url(#g3)"/>
<path transform="translate(205.3 328.6) rotate(250)" d="M-17.4 0Q0 -6.9 17.4 0Q-2.5 16.6 -17.4 0Z" fill="url(#g3)"/>
<path transform="translate(206.1 300.2) rotate(258)" d="M-15.1 0Q0 6.6 15.1 0Q-2.3 12 -15.1 0Z" fill="url(#g3)"/>
<path transform="translate(255.3 279) rotate(107)" d="M-35.1 0Q0 -13.8 35.1 0Q1.7 24.2 -35.1 0Z" fill="url(#g3)"/>
<path transform="translate(359.3 265.9) rotate(297)" d="M-24.8 0Q0 7.2 24.8 0Q8 28.2 -24.8 0Z" fill="url(#g2)"/>
<path transform="translate(301.3 335.2) rotate(135)" d="M-28.7 0Q0 -12.2 28.7 0Q17.2 29.1 -28.7 0Z" fill="url(#g3)"/>
<path transform="translate(180.3 331.2) rotate(240)" d="M-28.3 0Q0 11.4 28.3 0Q-13.8 29.8 -28.3 0Z" fill="url(#g3)"/>
<path transform="translate(189.2 226.5) rotate(0)" d="M-17.7 0Q0 -8 17.7 0Q5.8 18 -17.7 0Z" fill="url(#g3)"/>
<path transform="translate(317.4 216.6) rotate(211)" d="M-30.1 0Q0 -8.6 30.1 0Q8.9 29.5 -30.1 0Z" fill="url(#g3)"/>
<path transform="translate(221.5 314.9) rotate(289)" d="M-30 0Q0 -15.6 30 0Q13.1 18.3 -30 0Z" fill="url(#g4)"/>
<path transform="translate(214.6 298.1) rotate(213)" d="M-23.2 0Q0 -13.4 23.2 0Q-1.2 18.4 -23.2 0Z" fill="url(#g3)"/>
<path transform="translate(225.1 291.9) rotate(310)" d="M-13.6 0Q0 5 13.6 0Q5.4 16 -13.6 0Z" fill="url(#g3)"/>
<path transform="translate(284.4 238.8) rotate(98)" d="M-17 0Q0 -6.9 17 0Q-6.6 27 -17 0Z" fill="url(#g3)"/>
<path transform="translate(330.4 248.9) rotate(251)" d="M-24.6 0Q0 6.1 24.6 0Q-11.8 22.6 -24.6 0Z" fill="url(#g3)"/>
<path transform="translate(291.5 319.9) rotate(151)" d="M-35.2 0Q0 -14.1 35.2 0Q6.6 26.6 -35.2 0Z" fill="url(#g3)"/>
<path transform="translate(341.5 301.5) rotate(71)" d="M-32.9 0Q0 -16.9 32.9 0Q18.3 18.9 -32.9 0Z" fill="url(#g2)"/>
<path transform="translate(310.8 324.3) rotate(111)" d="M-33.2 0Q0 -9.7 33.2 0Q-10.3 14 -33.2 0Z" fill="url(#g3)"/>
<path transform="translate(187.6 252.3) rotate(29)" d="M-40 0Q0 19.5 40 0Q5.5 25.8 -40 0Z" fill="url(#g3)"/>
<path transform="translate(296.6 251.7) rotate(328)" d="M-23.7 0Q0 -11.6 23.7 0Q-1.5 13.1 -23.7 0Z" fill="url(#g3)"/>
<path transform="translate(280.3 276.5) rotate(57)" d="M-13.9 0Q0 -0.7 13.9 0Q-1.5 15.5 -13.9 0Z" fill="url(#g3)"/>
<path transform="translate(323.8 282) rotate(79)" d="M-17.3 0Q0 10.3 17.3 0Q1.6 21.5 -17.3 0Z" fill="url(#g3)"/>
<path transform="translate(258.7 248.6) rotate(339)" d="M-26.5 0Q0 -5 26.5 0Q14.5 25.2 -26.5 0Z" fill="url(#g3)"/>
<path transform="translate(200.4 247.6) rotate(216)" d="M-25.1 0Q0 0.8 25.1 0Q-3 11.2 -25.1 0Z" fill="url(#g2)"/>
<path transform="translate(323.8 307.2) rotate(225)" d="M-26.2 0Q0 0.8 26.2 0Q-9.7 12.3 -26.2 0Z" fill="url(#g3)"/>
<path transform="translate(266.4 244.9) rotate(75)" d="M-26.3 0Q0 -13.8 26.3 0Q-5.6 16.3 -26.3 0Z" fill="url(#g3)"/>
<path transform="translate(229.6 309.8) rotate(157)" d="M-38.8 0Q0 -2.8 38.8 0Q7.1 29 -38.8 0Z" fill="url(#g3)"/>
<path transform="translate(298.6 265.5) rotate(210)" d="M-23.3 0Q0 -2.1 23.3 0Q-1.5 22.8 -23.3 0Z" fill="url(#g3)"/>
<path transform="translate(343.1 302.9) rotate(39)" d="M-22.9 0Q0 6.1 22.9 0Q11.1 18.1 -22.9 0Z" fill="url(#g3)"/>
<path transform="translate(292.8 260.7) rotate(44)" d="M-29.2 0Q0 15.6 29.2 0Q-16.2 21.9 -29.2 0Z" fill="url(#g3)"/>
<path transform="translate(215 269.1) rotate(31)" d="M-29.3 0Q0 -16.8 29.3 0Q-13.8 29.8 -29.3 0Z" fill="url(#g2)"/>
<path transform="translate(183.8 276.2) rotate(189)" d="M-25.2 0Q0 -3.6 25.2 0Q4.3 20.3 -25.2 0Z" fill="url(#g3)"/>
<path transform="translate(333.5 321.7) rotate(90)" d="M-19.9 0Q0 1.8 19.9 0Q-8.6 31 -19.9 0Z" fill="url(#g2)"/>
<path transform="translate(331.8 338.8) rotate(338)" d="M-27.9 0Q0 11.5 27.9 0Q-13 16.9 -27.9 0Z" fill="url(#g3)"/>
<path transform="translate(281.1 271.7) rotate(295)" d="M-23 0Q0 9.2 23 0Q-8.8 18 -23 0Z" fill="url(#g2)"/>
<path transform="translate(362 263.3) rotate(305)" d="M-27.1 0Q0 9.8 27.1 0Q-7 20.7 -27.1 0Z" fill="url(#g3)"/>
<path transform="translate(217.8 340.8) rotate(149)" d="M-38.6 0Q0 22.9 38.6 0Q-21.7 17.3 -38.6 0Z" fill="url(#g3)"/>
<path transform="translate(345.9 223.7) rotate(108)" d="M-20.1 0Q0 1.3 20.1 0Q0 19 -20.1 0Z" fill="url(#g2)"/>
<path transform="translate(277.2 311.5) rotate(306)" d="M-30 0Q0 -6.9 30 0Q-15.3 28.5 -30 0Z" fill="url(#g2)"/>
<path transform="translate(328.1 280.4) rotate(10)" d="M-38.1 0Q0 -5.1 38.1 0Q16.1 10.8 -38.1 0Z" fill="url(#g3)"/>
<path transform="translate(347.5 311.1) rotate(307)" d="M-26 0Q0 8 26 0Q12.6 27.8 -26 0Z" fill="url(#g4)"/>
<path transform="translate(204.3 297.5) rotate(100)" d="M-32.5 0Q0 11.9 32.5 0Q-6.4 11.7 -32.5 0Z" fill="url(#g2)"/>
<path transform="translate(359.4 250.8) rotate(145)" d="M-26.8 0Q0 4.5 26.8 0Q11.2 19.6 -26.8 0Z" fill="url(#g3)"/>
<path transform="translate(279.4 287.2) rotate(78)" d="M-21.6 0Q0 -1.1 21.6 0Q-10 29.7 -21.6 0Z" fill="url(#g2)"/>
<path transform="translate(287.4 211.9) rotate(312)" d="M-18.7 0Q0 4.3 18.7 0Q-6 20.1 -18.7 0Z" fill="url(#g2)"/>
<path transform="translate(290.8 334.4) rotate(229)" d="M-21.7 0Q0 0.2 21.7 0Q1.6 13.2 -21.7 0Z" fill="url(#g3)"/>
<path transform="translate(313.9 263.9) rotate(195)" d="M-31.7 0Q0 17.9 31.7 0Q13.1 15.6 -31.7 0Z" fill="url(#g3)"/>
<path transform="translate(248.2 315.4) rotate(215)" d="M-19.7 0Q0 -9.5 19.7 0Q0.7 30.4 -19.7 0Z" fill="url(#g3)"/>
<path transform="translate(205.9 266.4) rotate(26)" d="M-30.3 0Q0 -6.7 30.3 0Q-6.9 29.4 -30.3 0Z" fill="url(#g3)"/>
<path transform="translate(325.1 211.7) rotate(329)" d="M-33.6 0Q0 -10.1 33.6 0Q-11.2 25 -33.6 0Z" fill="url(#g3)"/>
<path transform="translate(364.4 279.2) rotate(210)" d="M-18.4 0Q0 10.1 18.4 0Q-9.5 17.4 -18.4 0Z" fill="url(#g2)"/>
<path transform="translate(266.4 283.6) rotate(129)" d="M-19.6 0Q0 1.5 19.6 0Q6.4 17.1 -19.6 0Z" fill="url(#g4)"/>
<path transform="translate(246.8 230.5) rotate(256)" d="M-34.1 0Q0 0.2 34.1 0Q-2.7 27.2 -34.1 0Z" fill="url(#g4)"/>
<path transform="translate(307.2 331.3) rotate(131)" d="M-24.4 0Q0 1.4 24.4 0Q8.5 12.1 -24.4 0Z" fill="url(#g3)"/>
<path d="M301.1 284.2Q317.6 289.5 325.3 305.2M249.9 255.1Q268.2 268.6 290.6 272.4M278.5 288.6Q311.4 290.8 343.9 296.2M264.6 352Q285.8 322.9 277.1 288.1M252.2 363.2Q254.1 342.2 260.7 322.1M350.5 311.3Q371.1 290.2 368.2 260.8M274.5 196.8Q261 234.5 264.5 274.3M322.3 270.7Q318.3 246.6 311.3 223.1M283.2 197.4Q291.5 241.6 332.5 260M185.1 251.1Q196.4 241 211.6 239.7M272.7 304.3Q268.9 283.8 273.6 263.4M307.4 205.8Q331.4 237.1 370.5 242.7M237.2 284.3Q219.3 276.4 203.6 288.1M304.7 330.2Q314.2 346.7 333.2 346.6M356.1 242.5Q363 220.7 358.8 198.2M220.6 255.2Q200.8 286.6 163.6 287.1M302.8 252.5Q330.7 257.4 358.7 261.9M354 268.7Q344.5 307.2 340.5 346.6M274.1 228Q288.4 262.1 265.3 290.9M334.4 313.2Q357.6 345.8 396 357M183.1 303.4Q196.5 291.1 199.3 273.1M384.7 214.4Q356.2 236.5 322.1 248.4M341.5 293.7Q333.9 271.3 337.6 248.1M329.3 246.1Q332.4 213.2 341.9 181.6M314.1 249.2Q294.1 245 274 241.4M298.3 344.5Q321.1 322.4 348 305.7M254.2 345.4Q289.3 352.8 319 332.9M322.7 192.6Q324.7 232.4 307.9 268.5M301.7 301.3Q306.8 283 315 265.9M227.9 325.7Q230.7 304.9 229.1 283.9M284.4 294.9Q313.3 289 333.9 268.1M258.1 287.8Q286.1 293.2 308.1 275.1M339.7 292Q370.9 292.7 396.9 275.3M251.2 335.9Q284.2 329.1 317.2 322M208.5 265.9Q217.6 300.4 252.3 309.1M299.9 290.7Q302.9 258.1 329.7 239.2M324.3 299.6Q290.9 283.6 278.7 248.6M352.2 309.7Q371.9 297.4 370.7 274.2M222.7 224.3Q217.1 248.5 220.4 273.1M234 253.1Q241.4 213.3 213.9 183.6M219.4 365.2Q219.6 340.5 219.5 315.8M266.7 296.1Q261.9 314.1 267.7 331.8M257.8 232.5Q240.2 258.4 244.4 289.3M347.1 307.7Q322.8 282 307.1 250.3M195.6 332.2Q199.1 302.9 223.1 285.6M247.3 213Q252.7 239.8 239.1 263.6M184.8 333.1Q221.6 326 258.5 320.1M256.5 194.3Q270.5 220.4 296.8 233.7M382.3 241.8Q349.6 258.6 325.2 286M272.2 218.2Q240.5 226.3 223.2 254.1M241 265.3Q260.7 250.4 278 232.8M328.6 240.8Q347.5 260.6 374.7 258.8M269.2 310.8Q288.5 306.4 305.5 316.4M274.2 267.3Q282.3 279.7 294.3 288.5M307.3 244.6Q321 217.1 350.3 208.2M163.8 302.6Q186.5 334 223.3 346.1M240.6 299.7Q257.6 313.1 278.5 318.6M194 284Q218.1 250.9 200.9 213.7M277.6 252.9Q301.1 239.2 327.6 245.8M177.2 325.2Q207 311.8 220.4 282M258.1 236.5Q238.2 249.6 217.2 260.8M230.2 266.3Q240.4 235.2 268.1 217.9M219.5 265.7Q197.2 267.2 174.8 267.7M272.2 280.3Q298.9 290.6 313.2 315.4M260.6 267.5Q299.6 284.9 304.4 327.3M267.7 231.5Q283.7 261.2 315.2 273.3M266.6 226.2Q232.7 242.8 215.8 276.5M220.4 362.4Q227.5 343.5 225 323.5M206.7 284.6Q177 264 181 228M201 237.2Q188.1 221 180.9 201.5M333.9 294.9Q345.8 287.8 349.7 274.6M177 363.5Q176.9 323.2 201.7 291.3M357.9 305.3Q362.1 290.2 356.5 275.6M192.9 215.3Q208.1 212.9 221.5 220.5M354.7 268.5Q342.1 255.5 333.2 239.7M271.3 267Q299.9 269.2 324.4 254.3M258.2 223.9Q285.1 229.7 312.4 227M215.9 332.7Q236.9 328.5 257.1 321.3M229.6 272.6Q257.7 244.9 260.2 205.4M207.3 222.8Q194.6 236.4 188.4 253.9M276.6 334.2Q265.6 312.7 277.6 291.6M312.9 223.2Q297.4 234.3 294 253.1M225.7 370.9Q245.6 333.8 233.4 293.4M313.5 204.3Q319.4 216.5 329.3 225.9M224.7 320.4Q189.3 315.1 168.8 285.7M190 269.1Q198 303.5 211.8 336M192.1 342.8Q204.5 339.6 215.5 333.3M327 199.2Q328.3 213.9 337.3 225.6M318.7 305.6Q311.5 290.9 311 274.6M383.2 253Q369.4 246.2 356.5 237.7M191.5 297.3Q190.6 284.5 188.6 271.9M194.3 242Q218.6 218.1 250.2 205.4M258 344.1Q264.9 304.9 297.2 281.6M236.1 319.6Q214.1 338.7 209.1 367.4M236.7 309.1Q247.9 318.2 262 315.3M321.1 312.1Q321.5 270.2 293.2 239.3M257.8 316.5Q234.2 343.7 200.7 356.7M231.2 348.5Q239.9 329 248.2 309.3M313.3 312.9Q315.6 331.8 314.6 350.8M236.3 323.5Q208.6 303.8 175.2 297.9M304.5 282.8Q277.3 299.2 245.6 297.2M200.6 314.8Q201 346.1 224.6 366.6M243.4 221.8Q234.8 245.1 216.9 262.4M264.4 179.9Q267.8 218.6 275.9 256.6M310.9 229.3Q309 252.9 290 267.1M232.6 291.4Q224.7 273.5 224 253.9M318.8 276.9Q310 257.4 288.7 255.1M346.4 358.4Q319.4 334.4 304.3 301.7M298.2 257.4Q280 228.6 255.4 205.1M259.5 339.5Q283.4 336.5 296.9 316.5M258.1 300.4Q262.7 313.6 266.3 327.1M291.5 233.6Q315.8 218.6 343.5 226.1M258.7 330.8Q284.9 352.6 316.9 340.8M228.9 330.2Q211.8 309.1 184.7 310.6M286.8 297.2Q293.3 274 297.4 250.3M270.7 294.4Q268.6 312.6 280.6 326.3M343.7 263.7Q373.5 281.2 374.9 315.8M272.7 229.2Q261 240.2 253.1 254.3M291.6 289.3Q297.7 307.5 316.1 312.7M240.9 281Q254.3 259.4 243.8 236.3M252 334.6Q250.1 319.4 242.2 306.3M289.7 349.2Q300.9 325.4 302.4 299.1M325 309.4Q346.3 329.6 374.8 336.6M225.9 228.7Q190.3 239 155.6 225.6M364.2 247.9Q335.8 230.4 319 201.6M211 345.1Q198.8 330.9 199.5 312.1M265.9 245.5Q268.4 283.2 244.7 312.5M347.8 287.8Q365.7 269.2 370.8 243.9M321.6 314.9Q309.9 343.8 280.9 355.5M194 356Q190.2 325.7 166.6 306.5M171.5 226.5Q189.2 218.5 206.9 226.5M343 232.5Q312.9 223.9 291.8 200.7M211.6 343.2Q206.8 309.8 231.4 286.6M234 311Q207.2 309.3 195.3 285.2M216.2 302.2Q228.8 295.1 233.9 281.5M287 222Q291.3 239.9 281.8 255.6M322.4 303.1Q298.2 332.3 260.6 336.7M331.3 270.2Q357.6 296.3 351.7 332.8M322.9 293.3Q319.9 327.8 298.8 355.3M152.7 232.7Q178.1 269.3 222.5 271.8M276.3 264.1Q290.5 241.8 316.8 239.3M320.7 265Q313.7 283.8 326.9 299M233.9 257.8Q257 244 283.6 239.5M220.6 262.5Q200.9 246.9 180.3 232.7M342.3 325.7Q324.4 306.6 305.3 288.6M259.7 219.5Q279.8 241.4 273.2 270.3M265.3 294.6Q230.7 312.4 193.8 324.9M318.6 277.4Q297.5 267.3 278.6 253.5M272.1 240.2Q281.9 271.8 313.6 281.1M190.1 253.7Q223.8 254.9 239.9 284.6M333.6 301.8Q331.7 321.7 333.5 341.6M305.8 349.1Q336 349.4 357.7 328.5M346.2 285.3Q370 269 377.8 241.3M251.1 321.3Q206.3 321 184.5 360.2M352.3 204.6Q344.6 223.3 339.4 242.8M259.3 335.6Q271.6 307.4 295.1 287.5M290.7 273.3Q329 275.4 365.5 287.5M331.6 331.7Q353.8 316 363.3 290.5M210.1 265.6Q192.6 295.4 198.4 329.5M381.4 235.6Q356.8 247 337.3 266M275 266.1Q280.5 287 283.8 308.4M274.8 225.6Q290.6 214.9 300.1 198.2M305 350.9Q290.9 334.3 276.6 318M344.4 272.5Q318.8 246.7 283.4 255.2M264.1 327Q242.6 323.1 232.2 303.8M178.8 252.7Q208.9 260.4 232.9 280.1M296.2 228.8Q320 203 354 194.5M380.2 288.7Q369.6 270.6 348.6 269.8M278.9 268.6Q265.2 282.6 253.8 298.6M254.6 263.6Q247 230.4 239 197.3M323.3 313Q306.2 330.4 291.2 349.7" fill="none" stroke="#b4b4b4" stroke-opacity="0.4" stroke-width="0.9" stroke-linecap="round"/>
</g>

<rect x="187.8" y="215" width="176.2" height="120.7" fill="#000" opacity="0.12"/>
</g>
<clipPath id="se"><rect x="368.6" y="215" width="176.1" height="119.7"/></clipPath>
<g clip-path="url(#se)">
<rect x="368.6" y="215" width="176.1" height="119.7" fill="#5c5c5c"/>
<g filter="url(#sblur)">
<ellipse cx="420" cy="300" rx="40" ry="25" transform="rotate(0 420 300)" fill="#5a5a5a" opacity="0.35"/>
<ellipse cx="470" cy="240" rx="30" ry="15" transform="rotate(0 470 240)" fill="#8a8a8a" opacity="0.35"/>
<ellipse cx="525" cy="228" rx="25" ry="12" transform="rotate(-30 525 228)" fill="#3a3a3a" opacity="0.5"/>
</g>
<g filter="url(#fblur)">
<path transform="translate(495.9 296.8) rotate(253)" d="M-11.9 0Q0 0.7 11.9 0Q6.9 17 -11.9 0Z" fill="url(#g2)"/>
<path transform="translate(381.4 322.2) rotate(88)" d="M-29.2 0Q0 -7.3 29.2 0Q-10.8 12.8 -29.2 0Z" fill="url(#g1)"/>
<path transform="translate(496.2 215.8) rotate(182)" d="M-18.5 0Q0 2.2 18.5 0Q10.9 23.9 -18.5 0Z" fill="url(#g2)"/>
<path transform="translate(424 209.7) rotate(39)" d="M-33.2 0Q0 -11.7 33.2 0Q-4.6 18 -33.2 0Z" fill="url(#g2)"/>
<path transform="translate(410.8 252.2) rotate(275)" d="M-25.6 0Q0 14.8 25.6 0Q10.7 22.1 -25.6 0Z" fill="url(#g2)"/>
<path transform="translate(405 212) rotate(290)" d="M-19.8 0Q0 -1.2 19.8 0Q6.8 31.2 -19.8 0Z" fill="url(#g3)"/>
<path transform="translate(366.9 241.7) rotate(257)" d="M-13.3 0Q0 2.2 13.3 0Q-4.7 12.5 -13.3 0Z" fill="url(#g1)"/>
<path transform="translate(476.8 236.6) rotate(176)" d="M-27.4 0Q0 -12.3 27.4 0Q3.7 21.9 -27.4 0Z" fill="url(#g4)"/>
<path transform="translate(370.1 252.2) rotate(82)" d="M-14.9 0Q0 4.4 14.9 0Q-1 15 -14.9 0Z" fill="url(#g3)"/>
<path transform="translate(470 245) rotate(38)" d="M-26.8 0Q0 -9.3 26.8 0Q2.7 31.6 -26.8 0Z" fill="url(#g2)"/>
<path transform="translate(364.5 255.3) rotate(244)" d="M-13.8 0Q0 -6.7 13.8 0Q6.4 23.9 -13.8 0Z" fill="url(#g1)"/>
<path transform="translate(412 298.1) rotate(246)" d="M-29.4 0Q0 8.9 29.4 0Q10.8 24 -29.4 0Z" fill="url(#g4)"/>
<path transform="translate(448.6 259.2) rotate(53)" d="M-26.6 0Q0 14.6 26.6 0Q12.9 25.1 -26.6 0Z" fill="url(#g2)"/>
<path transform="translate(513.5 323.3) rotate(76)" d="M-34.6 0Q0 11.9 34.6 0Q-6 12.1 -34.6 0Z" fill="url(#g2)"/>
<path transform="translate(389.3 230.9) rotate(56)" d="M-14.7 0Q0 -6.6 14.7 0Q4.8 23.6 -14.7 0Z" fill="url(#g2)"/>
<path transform="translate(450.1 229.3) rotate(346)" d="M-19.2 0Q0 1.3 19.2 0Q4.9 19.7 -19.2 0Z" fill="url(#g1)"/>
<path transform="translate(394 329.8) rotate(358)" d="M-16.8 0Q0 -7.2 16.8 0Q0.5 12.7 -16.8 0Z" fill="url(#g2)"/>
<path transform="translate(474.9 223.5) rotate(313)" d="M-13.6 0Q0 0.9 13.6 0Q6.7 29.9 -13.6 0Z" fill="url(#g4)"/>
<path transform="translate(485.9 284.9) rotate(166)" d="M-30.3 0Q0 9.1 30.3 0Q-5.8 23.1 -30.3 0Z" fill="url(#g2)"/>
<path transform="translate(506.5 244.2) rotate(324)" d="M-24.7 0Q0 -9.6 24.7 0Q-9.8 18.7 -24.7 0Z" fill="url(#g2)"/>
<path transform="translate(506.6 260.6) rotate(13)" d="M-14.2 0Q0 -7.1 14.2 0Q-3.4 12.7 -14.2 0Z" fill="url(#g4)"/>
<path transform="translate(458.6 267) rotate(231)" d="M-31.8 0Q0 7.6 31.8 0Q7.3 25.5 -31.8 0Z" fill="url(#g2)"/>
<path transform="translate(485.6 209.9) rotate(69)" d="M-16.4 0Q0 5.2 16.4 0Q4.5 21.7 -16.4 0Z" fill="url(#g2)"/>
<path transform="translate(416.7 259.2) rotate(119)" d="M-30.8 0Q0 17.4 30.8 0Q-0.1 18.5 -30.8 0Z" fill="url(#g2)"/>
<path transform="translate(444.1 317.3) rotate(233)" d="M-20.5 0Q0 4.6 20.5 0Q-4.8 11.6 -20.5 0Z" fill="url(#g2)"/>
<path transform="translate(433.5 248.2) rotate(134)" d="M-12.3 0Q0 2.6 12.3 0Q3.1 15.8 -12.3 0Z" fill="url(#g2)"/>
<path transform="translate(546.8 289.1) rotate(288)" d="M-20.8 0Q0 7.8 20.8 0Q-1.5 29.4 -20.8 0Z" fill="url(#g4)"/>
<path transform="translate(379.8 326.4) rotate(232)" d="M-20.1 0Q0 -8 20.1 0Q-3.3 18.1 -20.1 0Z" fill="url(#g2)"/>
<path transform="translate(464.8 314) rotate(6)" d="M-15.2 0Q0 4.4 15.2 0Q4.5 19.8 -15.2 0Z" fill="url(#g1)"/>
<path transform="translate(537.7 287.9) rotate(251)" d="M-22.4 0Q0 12.4 22.4 0Q9.6 12.2 -22.4 0Z" fill="url(#g2)"/>
<path transform="translate(550.5 240.1) rotate(126)" d="M-18.5 0Q0 1.4 18.5 0Q10.9 27.5 -18.5 0Z" fill="url(#g2)"/>
<path transform="translate(437.3 262.3) rotate(190)" d="M-17.3 0Q0 2.9 17.3 0Q3.8 27.7 -17.3 0Z" fill="url(#g3)"/>
<path transform="translate(537.4 214.7) rotate(19)" d="M-10.8 0Q0 4.7 10.8 0Q-3.3 11.7 -10.8 0Z" fill="url(#g3)"/>
<path transform="translate(413 221.3) rotate(128)" d="M-29.7 0Q0 7.6 29.7 0Q-11.2 12.2 -29.7 0Z" fill="url(#g4)"/>
<path transform="translate(465.7 312.8) rotate(146)" d="M-35.1 0Q0 -12.1 35.1 0Q-16.3 30.1 -35.1 0Z" fill="url(#g4)"/>
<path transform="translate(469.4 214.9) rotate(127)" d="M-13 0Q0 -2.6 13 0Q1.8 13.7 -13 0Z" fill="url(#g4)"/>
<path transform="translate(485.2 224.5) rotate(169)" d="M-18.3 0Q0 7.5 18.3 0Q2.9 11.9 -18.3 0Z" fill="url(#g4)"/>
<path transform="translate(471.7 299) rotate(176)" d="M-36.4 0Q0 0.1 36.4 0Q10.6 11.4 -36.4 0Z" fill="url(#g3)"/>
<path transform="translate(435 324.8) rotate(214)" d="M-27.2 0Q0 2.9 27.2 0Q4.6 28.6 -27.2 0Z" fill="url(#g1)"/>
<path transform="translate(485.5 217.6) rotate(283)" d="M-25.6 0Q0 7.4 25.6 0Q-2 26 -25.6 0Z" fill="url(#g2)"/>
<path transform="translate(414.6 281.9) rotate(151)" d="M-27.3 0Q0 -12.1 27.3 0Q-0 14.5 -27.3 0Z" fill="url(#g3)"/>
<path transform="translate(430.8 308.1) rotate(269)" d="M-18 0Q0 6.4 18 0Q-10.7 22 -18 0Z" fill="url(#g2)"/>
<path transform="translate(423.8 314.6) rotate(334)" d="M-36.3 0Q0 -6.7 36.3 0Q18.3 25.7 -36.3 0Z" fill="url(#g2)"/>
<path transform="translate(461.1 285.4) rotate(290)" d="M-19.6 0Q0 -10.6 19.6 0Q6.3 17.1 -19.6 0Z" fill="url(#g1)"/>
<path transform="translate(516 234.5) rotate(310)" d="M-17.5 0Q0 9.6 17.5 0Q-9.6 20.7 -17.5 0Z" fill="url(#g4)"/>
<path transform="translate(442.4 223.9) rotate(304)" d="M-23.7 0Q0 -9.3 23.7 0Q-8.4 29.1 -23.7 0Z" fill="url(#g3)"/>
<path transform="translate(375.1 249.1) rotate(104)" d="M-28.2 0Q0 -13.3 28.2 0Q-12.8 19.6 -28.2 0Z" fill="url(#g3)"/>
<path transform="translate(540.2 335.5) rotate(337)" d="M-28.5 0Q0 -3.7 28.5 0Q15.8 29.7 -28.5 0Z" fill="url(#g2)"/>
<path transform="translate(453.4 231.2) rotate(263)" d="M-20.7 0Q0 9 20.7 0Q3.6 12.9 -20.7 0Z" fill="url(#g3)"/>
<path transform="translate(420 326) rotate(273)" d="M-23.2 0Q0 10.4 23.2 0Q-8.8 14.6 -23.2 0Z" fill="url(#g3)"/>
<path transform="translate(457.3 291.1) rotate(49)" d="M-36.8 0Q0 -5.2 36.8 0Q-11.8 21.9 -36.8 0Z" fill="url(#g3)"/>
<path transform="translate(498.8 338.6) rotate(73)" d="M-18.3 0Q0 -1.8 18.3 0Q6.9 29.7 -18.3 0Z" fill="url(#g2)"/>
<path transform="translate(392.7 246.1) rotate(358)" d="M-31.6 0Q0 -16.3 31.6 0Q-11.7 25.8 -31.6 0Z" fill="url(#g4)"/>
<path transform="translate(468.6 263.1) rotate(15)" d="M-12.8 0Q0 -0.4 12.8 0Q-5.5 12 -12.8 0Z" fill="url(#g4)"/>
<path transform="translate(486.2 264.3) rotate(71)" d="M-34 0Q0 15.3 34 0Q7.4 31.2 -34 0Z" fill="url(#g2)"/>
<path transform="translate(412.8 281.4) rotate(41)" d="M-29.6 0Q0 -0.6 29.6 0Q9.6 11 -29.6 0Z" fill="url(#g4)"/>
<path transform="translate(548.4 324.5) rotate(245)" d="M-14.4 0Q0 -2 14.4 0Q-5 23.7 -14.4 0Z" fill="url(#g1)"/>
<path transform="translate(399.2 304) rotate(319)" d="M-16.8 0Q0 1.2 16.8 0Q3.3 14.3 -16.8 0Z" fill="url(#g2)"/>
<path transform="translate(510.8 328.9) rotate(176)" d="M-37.2 0Q0 14.5 37.2 0Q4.9 13.6 -37.2 0Z" fill="url(#g3)"/>
<path transform="translate(497.5 308) rotate(56)" d="M-31.9 0Q0 -1.5 31.9 0Q-17.8 16.8 -31.9 0Z" fill="url(#g2)"/>
<path transform="translate(457.1 311.7) rotate(0)" d="M-15 0Q0 -1.4 15 0Q-7.7 23.3 -15 0Z" fill="url(#g3)"/>
<path transform="translate(454.4 239.1) rotate(127)" d="M-36.7 0Q0 19.9 36.7 0Q-9.7 10.8 -36.7 0Z" fill="url(#g2)"/>
<path transform="translate(532.6 325.7) rotate(155)" d="M-17.1 0Q0 5.4 17.1 0Q-0.2 12.9 -17.1 0Z" fill="url(#g4)"/>
<path transform="translate(489.7 245.6) rotate(304)" d="M-31.9 0Q0 10.8 31.9 0Q-8.7 24 -31.9 0Z" fill="url(#g3)"/>
<path transform="translate(409.7 302.5) rotate(54)" d="M-29.9 0Q0 -0.5 29.9 0Q-8.6 18.5 -29.9 0Z" fill="url(#g4)"/>
<path transform="translate(497.7 257.8) rotate(22)" d="M-35.4 0Q0 -20.1 35.4 0Q-12.1 19.1 -35.4 0Z" fill="url(#g1)"/>
<path transform="translate(412.6 320.2) rotate(226)" d="M-30 0Q0 17.8 30 0Q-8.8 23.9 -30 0Z" fill="url(#g1)"/>
<path transform="translate(366.8 300.6) rotate(207)" d="M-12.1 0Q0 -1.9 12.1 0Q-1 28.7 -12.1 0Z" fill="url(#g1)"/>
<path transform="translate(423 266.4) rotate(133)" d="M-27.5 0Q0 11.6 27.5 0Q13.1 18.7 -27.5 0Z" fill="url(#g2)"/>
<path transform="translate(541.3 214) rotate(12)" d="M-33.4 0Q0 19.9 33.4 0Q8.4 26 -33.4 0Z" fill="url(#g2)"/>
<path transform="translate(388.8 254.3) rotate(33)" d="M-14.4 0Q0 -6.6 14.4 0Q1.6 31.1 -14.4 0Z" fill="url(#g3)"/>
<path transform="translate(527.5 284.5) rotate(257)" d="M-23.9 0Q0 -10.2 23.9 0Q-1.8 29.7 -23.9 0Z" fill="url(#g2)"/>
<path transform="translate(507.6 209.1) rotate(36)" d="M-28.2 0Q0 5.5 28.2 0Q8.6 29.7 -28.2 0Z" fill="url(#g2)"/>
<path transform="translate(409.7 327.1) rotate(40)" d="M-26.6 0Q0 -13.6 26.6 0Q4.3 26.2 -26.6 0Z" fill="url(#g4)"/>
<path transform="translate(401.2 297.5) rotate(208)" d="M-35.4 0Q0 20.6 35.4 0Q5.2 14.4 -35.4 0Z" fill="url(#g4)"/>
<path transform="translate(468.6 321.2) rotate(228)" d="M-36.9 0Q0 -4.4 36.9 0Q-16.4 24.9 -36.9 0Z" fill="url(#g3)"/>
<path transform="translate(534.3 336.9) rotate(37)" d="M-24.3 0Q0 -5.1 24.3 0Q-13.8 28.2 -24.3 0Z" fill="url(#g3)"/>
<path transform="translate(422.8 283) rotate(135)" d="M-16.5 0Q0 7.7 16.5 0Q-7.4 24.6 -16.5 0Z" fill="url(#g3)"/>
<path transform="translate(525.4 233) rotate(89)" d="M-37 0Q0 -0 37 0Q1.1 20.5 -37 0Z" fill="url(#g1)"/>
<path transform="translate(445 271.9) rotate(350)" d="M-14.4 0Q0 -6.5 14.4 0Q2.5 10.1 -14.4 0Z" fill="url(#g1)"/>
<path transform="translate(543.5 326.3) rotate(326)" d="M-19.3 0Q0 -3.2 19.3 0Q4.8 29 -19.3 0Z" fill="url(#g2)"/>
<path transform="translate(531.3 286.4) rotate(47)" d="M-10.7 0Q0 -1.4 10.7 0Q-5.2 10.8 -10.7 0Z" fill="url(#g2)"/>
<path transform="translate(500.3 229.4) rotate(179)" d="M-25.2 0Q0 5 25.2 0Q-9.5 18.3 -25.2 0Z" fill="url(#g3)"/>
<path transform="translate(440.9 234.2) rotate(234)" d="M-28 0Q0 -5.7 28 0Q14.6 10.4 -28 0Z" fill="url(#g2)"/>
<path transform="translate(380.7 257.5) rotate(44)" d="M-12.8 0Q0 3 12.8 0Q-7.4 23 -12.8 0Z" fill="url(#g2)"/>
<path transform="translate(439.8 262.6) rotate(11)" d="M-15.9 0Q0 -1.8 15.9 0Q3.3 22.9 -15.9 0Z" fill="url(#g1)"/>
<path transform="translate(500.7 332.2) rotate(104)" d="M-36 0Q0 -2.3 36 0Q14.8 23.4 -36 0Z" fill="url(#g4)"/>
<path transform="translate(413.3 248.8) rotate(222)" d="M-29.4 0Q0 -4.3 29.4 0Q-4.5 27.9 -29.4 0Z" fill="url(#g2)"/>
<path transform="translate(484 304) rotate(53)" d="M-29.4 0Q0 13.4 29.4 0Q-13.2 22.9 -29.4 0Z" fill="url(#g2)"/>
<path transform="translate(529.3 262.9) rotate(87)" d="M-33 0Q0 12.1 33 0Q12.7 21.3 -33 0Z" fill="url(#g2)"/>
<path transform="translate(381.6 299) rotate(144)" d="M-26.7 0Q0 -9.9 26.7 0Q2.9 18.4 -26.7 0Z" fill="url(#g3)"/>
<path transform="translate(492.7 212.2) rotate(322)" d="M-22.8 0Q0 10.6 22.8 0Q2 26.1 -22.8 0Z" fill="url(#g4)"/>
<path transform="translate(456.6 283.9) rotate(93)" d="M-20.1 0Q0 -2.2 20.1 0Q-1.1 30.8 -20.1 0Z" fill="url(#g2)"/>
<path transform="translate(509.2 306.9) rotate(141)" d="M-17.9 0Q0 9.2 17.9 0Q-5.4 18.9 -17.9 0Z" fill="url(#g1)"/>
<path transform="translate(539.4 212.9) rotate(248)" d="M-36.1 0Q0 -3.2 36.1 0Q-6.2 20.4 -36.1 0Z" fill="url(#g1)"/>
<path transform="translate(487.2 321.6) rotate(355)" d="M-35.1 0Q0 17.9 35.1 0Q-9 27.1 -35.1 0Z" fill="url(#g2)"/>
<path transform="translate(410.5 337.2) rotate(292)" d="M-36.8 0Q0 14.8 36.8 0Q14.7 18.6 -36.8 0Z" fill="url(#g1)"/>
<path transform="translate(499 251.9) rotate(288)" d="M-27.5 0Q0 15.3 27.5 0Q3.5 14.5 -27.5 0Z" fill="url(#g3)"/>
<path transform="translate(444.5 269.4) rotate(313)" d="M-24.7 0Q0 -5.3 24.7 0Q-3.3 24.2 -24.7 0Z" fill="url(#g3)"/>
<path transform="translate(551.3 257.9) rotate(223)" d="M-20.1 0Q0 -4.4 20.1 0Q-4.7 30.3 -20.1 0Z" fill="url(#g2)"/>
<path transform="translate(404.9 317.5) rotate(219)" d="M-13.3 0Q0 0.6 13.3 0Q2.9 26.2 -13.3 0Z" fill="url(#g2)"/>
<path transform="translate(478.6 284.8) rotate(294)" d="M-28.3 0Q0 0.6 28.3 0Q-10.6 23.6 -28.3 0Z" fill="url(#g3)"/>
<path transform="translate(527.2 328.5) rotate(291)" d="M-27.3 0Q0 15.8 27.3 0Q-11.3 16.7 -27.3 0Z" fill="url(#g2)"/>
<path transform="translate(462.7 300.1) rotate(342)" d="M-15.1 0Q0 -3.5 15.1 0Q3.6 15.6 -15.1 0Z" fill="url(#g2)"/>
<path transform="translate(401.1 242.4) rotate(86)" d="M-34.9 0Q0 5.9 34.9 0Q16 18.4 -34.9 0Z" fill="url(#g4)"/>
<path transform="translate(472.6 286.8) rotate(320)" d="M-33.5 0Q0 -0.9 33.5 0Q19.9 16.8 -33.5 0Z" fill="url(#g3)"/>
<path transform="translate(414 277.2) rotate(276)" d="M-24 0Q0 -0.3 24 0Q-8.5 21.5 -24 0Z" fill="url(#g1)"/>
<path transform="translate(488.8 228.3) rotate(131)" d="M-26 0Q0 -4.9 26 0Q8.4 21.1 -26 0Z" fill="url(#g3)"/>
<path transform="translate(381.9 318.9) rotate(219)" d="M-17.6 0Q0 -8.4 17.6 0Q-5.9 17.6 -17.6 0Z" fill="url(#g2)"/>
<path transform="translate(545.3 280.1) rotate(171)" d="M-34.1 0Q0 5.8 34.1 0Q15.8 16.3 -34.1 0Z" fill="url(#g2)"/>
<path transform="translate(511.4 332.9) rotate(338)" d="M-36.5 0Q0 0.7 36.5 0Q-21.1 10.6 -36.5 0Z" fill="url(#g3)"/>
<path transform="translate(522.3 304.5) rotate(208)" d="M-37.2 0Q0 -15.4 37.2 0Q-16.7 10.7 -37.2 0Z" fill="url(#g2)"/>
<path transform="translate(549.8 241.3) rotate(104)" d="M-25.3 0Q0 -13.2 25.3 0Q5.5 22.1 -25.3 0Z" fill="url(#g3)"/>
<path transform="translate(442.1 248) rotate(211)" d="M-29.1 0Q0 -0.2 29.1 0Q2 10.1 -29.1 0Z" fill="url(#g1)"/>
<path transform="translate(551.9 312.1) rotate(229)" d="M-20.3 0Q0 1.7 20.3 0Q-2.6 28.5 -20.3 0Z" fill="url(#g2)"/>
<path transform="translate(436.2 304.9) rotate(336)" d="M-25 0Q0 -2.8 25 0Q-7 26 -25 0Z" fill="url(#g4)"/>
<path transform="translate(379.5 315.3) rotate(199)" d="M-31.9 0Q0 -7.9 31.9 0Q-17.5 10.7 -31.9 0Z" fill="url(#g3)"/>
<path transform="translate(405.5 276.3) rotate(106)" d="M-17.9 0Q0 6.8 17.9 0Q0.3 22.4 -17.9 0Z" fill="url(#g2)"/>
<path transform="translate(536.4 269.2) rotate(183)" d="M-29.1 0Q0 -10.8 29.1 0Q-13.3 27.6 -29.1 0Z" fill="url(#g2)"/>
<path transform="translate(514.3 221.3) rotate(174)" d="M-15 0Q0 7.3 15 0Q4.3 20.1 -15 0Z" fill="url(#g4)"/>
<path transform="translate(425.7 211) rotate(271)" d="M-27.1 0Q0 14.8 27.1 0Q9.8 30.8 -27.1 0Z" fill="url(#g2)"/>
<path transform="translate(504.5 231.4) rotate(224)" d="M-22.7 0Q0 2 22.7 0Q9.1 31.7 -22.7 0Z" fill="url(#g2)"/>
<path transform="translate(375.6 278.1) rotate(241)" d="M-19 0Q0 5 19 0Q-2.7 27.8 -19 0Z" fill="url(#g3)"/>
<path transform="translate(445.2 218.3) rotate(293)" d="M-27.5 0Q0 -9.5 27.5 0Q-8.1 27.7 -27.5 0Z" fill="url(#g2)"/>
<path transform="translate(395.2 220.9) rotate(8)" d="M-10.3 0Q0 -4.1 10.3 0Q-4.5 28.4 -10.3 0Z" fill="url(#g1)"/>
<path transform="translate(442 222) rotate(83)" d="M-33.8 0Q0 17.5 33.8 0Q1.7 17.7 -33.8 0Z" fill="url(#g2)"/>
<path transform="translate(429.4 220.6) rotate(196)" d="M-22.9 0Q0 1.5 22.9 0Q-7.3 17.9 -22.9 0Z" fill="url(#g1)"/>
<path transform="translate(523 281.4) rotate(63)" d="M-31.2 0Q0 10.7 31.2 0Q15.7 25.7 -31.2 0Z" fill="url(#g1)"/>
<path transform="translate(519.5 258.3) rotate(215)" d="M-12.4 0Q0 6.7 12.4 0Q6 10.5 -12.4 0Z" fill="url(#g2)"/>
<path transform="translate(491.9 210) rotate(27)" d="M-27.9 0Q0 -7.2 27.9 0Q15.8 26.2 -27.9 0Z" fill="url(#g1)"/>
<path transform="translate(379.2 228) rotate(61)" d="M-13.6 0Q0 5.2 13.6 0Q-7.2 27.7 -13.6 0Z" fill="url(#g4)"/>
<path transform="translate(534.4 309.9) rotate(256)" d="M-33.2 0Q0 16 33.2 0Q-12.5 12.1 -33.2 0Z" fill="url(#g4)"/>
<path transform="translate(496.8 261.3) rotate(218)" d="M-25.9 0Q0 12 25.9 0Q-13.4 20.7 -25.9 0Z" fill="url(#g1)"/>
<path transform="translate(498.9 251.5) rotate(22)" d="M-26.5 0Q0 -3.8 26.5 0Q7.2 27.6 -26.5 0Z" fill="url(#g4)"/>
<path transform="translate(405.8 313.4) rotate(153)" d="M-37 0Q0 2.4 37 0Q18.6 19.1 -37 0Z" fill="url(#g4)"/>
<path transform="translate(388.1 288) rotate(205)" d="M-28.6 0Q0 1.4 28.6 0Q16.9 27.9 -28.6 0Z" fill="url(#g1)"/>
<path transform="translate(530.2 313.4) rotate(306)" d="M-15.3 0Q0 8.6 15.3 0Q2.3 26.6 -15.3 0Z" fill="url(#g3)"/>
<path transform="translate(422.4 251) rotate(175)" d="M-23 0Q0 -5.8 23 0Q3.1 26.6 -23 0Z" fill="url(#g3)"/>
<path transform="translate(470.6 237.5) rotate(239)" d="M-12 0Q0 -1.5 12 0Q-0.4 29.8 -12 0Z" fill="url(#g2)"/>
<path transform="translate(509.3 212.1) rotate(89)" d="M-14.2 0Q0 -5 14.2 0Q0.5 17.4 -14.2 0Z" fill="url(#g4)"/>
<path transform="translate(393.8 301.7) rotate(269)" d="M-29.3 0Q0 -15 29.3 0Q14.2 29.2 -29.3 0Z" fill="url(#g1)"/>
<path transform="translate(379.6 342) rotate(196)" d="M-20.6 0Q0 9.9 20.6 0Q-9.3 12.2 -20.6 0Z" fill="url(#g4)"/>
<path transform="translate(473 296.9) rotate(177)" d="M-20.5 0Q0 4.9 20.5 0Q2.2 14.3 -20.5 0Z" fill="url(#g2)"/>
<path transform="translate(438.6 293.7) rotate(289)" d="M-22.6 0Q0 10.7 22.6 0Q-0.7 14.6 -22.6 0Z" fill="url(#g4)"/>
<path transform="translate(531.3 210.9) rotate(16)" d="M-16 0Q0 -9.2 16 0Q-0.6 25.3 -16 0Z" fill="url(#g4)"/>
<path transform="translate(465.5 254.4) rotate(18)" d="M-31.4 0Q0 -8.6 31.4 0Q-15.6 20.9 -31.4 0Z" fill="url(#g1)"/>
<path transform="translate(506.5 217.2) rotate(109)" d="M-32.4 0Q0 -13.7 32.4 0Q-11.4 18.7 -32.4 0Z" fill="url(#g3)"/>
<path transform="translate(421.9 241.9) rotate(287)" d="M-30 0Q0 -15.7 30 0Q4.5 11.1 -30 0Z" fill="url(#g1)"/>
<path transform="translate(476.5 333.4) rotate(127)" d="M-19.4 0Q0 -4 19.4 0Q-6.2 17.6 -19.4 0Z" fill="url(#g2)"/>
<path transform="translate(490.1 258) rotate(43)" d="M-20.7 0Q0 4.2 20.7 0Q10.8 26 -20.7 0Z" fill="url(#g2)"/>
<path transform="translate(548.6 331.6) rotate(252)" d="M-13.1 0Q0 -2.7 13.1 0Q-1.7 23 -13.1 0Z" fill="url(#g1)"/>
<path transform="translate(523.9 331.1) rotate(19)" d="M-27.9 0Q0 -8.8 27.9 0Q-14.8 31.1 -27.9 0Z" fill="url(#g2)"/>
<path transform="translate(545.5 298.5) rotate(247)" d="M-27.5 0Q0 8.3 27.5 0Q-16.5 13.2 -27.5 0Z" fill="url(#g4)"/>
<path transform="translate(441.1 317.4) rotate(0)" d="M-31.9 0Q0 16.3 31.9 0Q4.6 23.1 -31.9 0Z" fill="url(#g2)"/>
<path transform="translate(552.6 238.8) rotate(196)" d="M-27.3 0Q0 9 27.3 0Q9 31.2 -27.3 0Z" fill="url(#g2)"/>
<path transform="translate(515.2 258.5) rotate(357)" d="M-30.5 0Q0 8.4 30.5 0Q-10.5 23 -30.5 0Z" fill="url(#g2)"/>
<path transform="translate(446.7 265.4) rotate(43)" d="M-31.1 0Q0 6 31.1 0Q16.7 15.6 -31.1 0Z" fill="url(#g4)"/>
<path transform="translate(523.6 220.6) rotate(312)" d="M-22.7 0Q0 0.3 22.7 0Q-4.2 31 -22.7 0Z" fill="url(#g2)"/>
<path transform="translate(490.4 227.1) rotate(173)" d="M-18.3 0Q0 -0.9 18.3 0Q7.8 23.6 -18.3 0Z" fill="url(#g1)"/>
<path transform="translate(369.2 290.9) rotate(141)" d="M-32.5 0Q0 11.1 32.5 0Q4.9 10.5 -32.5 0Z" fill="url(#g3)"/>
<path transform="translate(472.2 281.6) rotate(97)" d="M-16.3 0Q0 0.7 16.3 0Q-4.8 15.9 -16.3 0Z" fill="url(#g4)"/>
<path transform="translate(533 291.3) rotate(105)" d="M-32.1 0Q0 18.6 32.1 0Q16.5 31.2 -32.1 0Z" fill="url(#g4)"/>
<path transform="translate(369.1 244.7) rotate(169)" d="M-30.9 0Q0 -10 30.9 0Q-4.8 15.5 -30.9 0Z" fill="url(#g4)"/>
<path transform="translate(508.9 230.5) rotate(238)" d="M-30.4 0Q0 -3.3 30.4 0Q3.7 29.8 -30.4 0Z" fill="url(#g4)"/>
<path transform="translate(398.5 299.9) rotate(105)" d="M-37.2 0Q0 16.3 37.2 0Q-18.4 17.5 -37.2 0Z" fill="url(#g2)"/>
<path transform="translate(487.1 295.2) rotate(29)" d="M-36.2 0Q0 -19.6 36.2 0Q12.2 19.7 -36.2 0Z" fill="url(#g4)"/>
<path transform="translate(536.6 208.2) rotate(331)" d="M-19.7 0Q0 -1.7 19.7 0Q1.5 18.7 -19.7 0Z" fill="url(#g4)"/>
<path transform="translate(430.7 321.5) rotate(12)" d="M-24 0Q0 3.6 24 0Q-10.8 27.2 -24 0Z" fill="url(#g3)"/>
<path transform="translate(407.1 281.6) rotate(47)" d="M-36.2 0Q0 6.4 36.2 0Q-16.5 27.4 -36.2 0Z" fill="url(#g1)"/>
<path transform="translate(518.3 328.2) rotate(62)" d="M-30.2 0Q0 5.2 30.2 0Q-4.7 16.5 -30.2 0Z" fill="url(#g1)"/>
<path transform="translate(547.5 316.2) rotate(328)" d="M-33.1 0Q0 11.1 33.1 0Q-5.6 23.5 -33.1 0Z" fill="url(#g4)"/>
<path transform="translate(399.3 245.6) rotate(238)" d="M-12.6 0Q0 5.2 12.6 0Q-2.1 22 -12.6 0Z" fill="url(#g4)"/>
<path transform="translate(522.6 223.5) rotate(347)" d="M-16.1 0Q0 4.4 16.1 0Q9.6 10.2 -16.1 0Z" fill="url(#g4)"/>
<path transform="translate(551.2 258.5) rotate(36)" d="M-18.2 0Q0 -0 18.2 0Q10.6 29.1 -18.2 0Z" fill="url(#g1)"/>
<path transform="translate(401.9 299.5) rotate(168)" d="M-26.4 0Q0 4 26.4 0Q1.5 28.9 -26.4 0Z" fill="url(#g4)"/>
<path transform="translate(372 329.3) rotate(11)" d="M-34.1 0Q0 3.2 34.1 0Q13.1 18.9 -34.1 0Z" fill="url(#g2)"/>
<path transform="translate(538.7 229) rotate(157)" d="M-15.1 0Q0 -6.1 15.1 0Q0.9 18.7 -15.1 0Z" fill="url(#g2)"/>
<path transform="translate(552.6 255.4) rotate(347)" d="M-34.2 0Q0 -15.2 34.2 0Q14.3 26.5 -34.2 0Z" fill="url(#g2)"/>
<path transform="translate(451.4 253.2) rotate(28)" d="M-26.1 0Q0 -8.6 26.1 0Q0.1 17.5 -26.1 0Z" fill="url(#g3)"/>
<path transform="translate(460.3 261.7) rotate(333)" d="M-35.9 0Q0 7.6 35.9 0Q5.6 17.3 -35.9 0Z" fill="url(#g1)"/>
<path transform="translate(424.3 258.8) rotate(267)" d="M-36.3 0Q0 7.6 36.3 0Q1.1 22.4 -36.3 0Z" fill="url(#g2)"/>
<path transform="translate(467.8 242.8) rotate(291)" d="M-36.5 0Q0 -12.3 36.5 0Q-12.9 29.4 -36.5 0Z" fill="url(#g1)"/>
<path transform="translate(488.2 210) rotate(194)" d="M-15.6 0Q0 5.6 15.6 0Q3.3 15.6 -15.6 0Z" fill="url(#g2)"/>
<path transform="translate(461.7 329.7) rotate(73)" d="M-12.3 0Q0 -4.4 12.3 0Q-5.9 19.3 -12.3 0Z" fill="url(#g1)"/>
<path transform="translate(475.2 286.1) rotate(118)" d="M-32.5 0Q0 -17.1 32.5 0Q17.5 25.2 -32.5 0Z" fill="url(#g2)"/>
<path transform="translate(446.7 219.9) rotate(102)" d="M-31.8 0Q0 -8.6 31.8 0Q-1.2 18.8 -31.8 0Z" fill="url(#g1)"/>
<path transform="translate(534.9 295.3) rotate(136)" d="M-23.2 0Q0 2 23.2 0Q-10.9 10.8 -23.2 0Z" fill="url(#g2)"/>
<path transform="translate(476.9 338.3) rotate(283)" d="M-35.9 0Q0 -14 35.9 0Q-8.2 15.6 -35.9 0Z" fill="url(#g3)"/>
<path transform="translate(540.7 240.6) rotate(44)" d="M-22.8 0Q0 5.6 22.8 0Q-12.2 17.5 -22.8 0Z" fill="url(#g2)"/>
<path transform="translate(538.9 275.1) rotate(183)" d="M-37.2 0Q0 6 37.2 0Q-11.2 16.1 -37.2 0Z" fill="url(#g1)"/>
<path transform="translate(483.5 222.1) rotate(229)" d="M-36.9 0Q0 6.1 36.9 0Q17.2 16.9 -36.9 0Z" fill="url(#g1)"/>
<path transform="translate(407.9 223.7) rotate(325)" d="M-35.1 0Q0 -4.4 35.1 0Q9.2 28 -35.1 0Z" fill="url(#g4)"/>
<path transform="translate(474.6 238.5) rotate(187)" d="M-11.9 0Q0 6.3 11.9 0Q-0.1 25.8 -11.9 0Z" fill="url(#g1)"/>
<path transform="translate(417.5 314.5) rotate(176)" d="M-19 0Q0 9 19 0Q-5 12.5 -19 0Z" fill="url(#g2)"/>
<path transform="translate(504 242.5) rotate(73)" d="M-10.9 0Q0 4.6 10.9 0Q1.5 28.9 -10.9 0Z" fill="url(#g4)"/>
<path transform="translate(528.3 336.4) rotate(203)" d="M-13.8 0Q0 3.1 13.8 0Q0.9 13.2 -13.8 0Z" fill="url(#g1)"/>
<path transform="translate(416.8 231.8) rotate(237)" d="M-13 0Q0 -7.6 13 0Q-5.7 31.9 -13 0Z" fill="url(#g2)"/>
<path transform="translate(503.2 317.9) rotate(62)" d="M-24 0Q0 5 24 0Q-8.3 18.5 -24 0Z" fill="url(#g3)"/>
<path transform="translate(389.2 290.3) rotate(197)" d="M-31.9 0Q0 -5.8 31.9 0Q-7.4 30.7 -31.9 0Z" fill="url(#g2)"/>
<path transform="translate(453.4 308.4) rotate(6)" d="M-14.4 0Q0 -2.4 14.4 0Q1.4 26.9 -14.4 0Z" fill="url(#g2)"/>
<path d="M499.3 308.2Q496.5 296.6 492.4 285.4M380.4 292.9Q388.7 321.9 382.4 351.4M514.7 216.6Q496.3 213.6 477.7 215.1M398.5 188.5Q431.5 200.7 449.5 230.9M408.1 277.6Q425.5 253.7 413.4 226.8M397.9 230.5Q403.8 211.5 412 193.5M369.6 254.7Q369 241.3 364.1 228.8M504.1 234.9Q477.5 248.9 449.4 238.4M449 228.5Q475.7 237.6 491.1 261.4M370.5 267.7Q358.5 258.2 358.5 242.8M423.8 325Q420.1 294.5 400.2 271.2M505.3 289.7Q501.9 326 521.6 356.8M381.2 218.7Q394.9 227.2 397.5 243.1M431.4 233.7Q450.4 230.5 468.8 224.9M377.2 330.3Q393.7 322.6 410.7 329.2M465.6 233.5Q475.6 224.1 484.2 213.5M515.3 277.7Q483.7 276.1 456.4 292.1M486.4 258.5Q500.9 236.4 526.5 229.8M492.7 257.3Q508.2 253.7 520.4 263.9M478.5 291.9Q464.6 262.3 438.8 242.2M479.9 194.6Q480.8 211.7 491.3 225.2M456.5 333.7Q447.9 314.5 431.8 300.9M442.2 239.4Q431.6 246.3 424.9 256.9M540.4 308.9Q554.3 291.5 553.2 269.3M392 342.4Q373.4 331.3 367.7 310.4M449.7 312.3Q464.3 318.3 479.9 315.6M544.9 309Q549.4 283.9 530.4 266.7M561.7 225.3Q549.4 239.2 539.4 254.9M454.2 265.5Q437.8 259.5 420.3 259.2M494.9 293.3Q472.4 322.9 436.5 332.3M477.3 204.5Q471.5 216.4 461.5 225.3M503.2 221.1Q483.8 217.1 467.2 227.9M508 296.9Q471.7 298.9 435.3 301.1M457.4 340.2Q436.6 322.4 412.6 309.3M479.6 242.6Q492.7 219.4 491.5 192.7M438.6 269.1Q420.2 292.5 390.5 294.7M430.8 326.1Q437.2 308 430.7 290M391.2 330.4Q420.9 308.5 456.5 298.8M454.3 303.8Q451.2 281.8 467.9 267.1M504.6 247.7Q523.3 240.7 527.4 221.2M429.1 243.5Q434.7 218.7 455.7 204.3M382 221.8Q387.9 252.4 368.1 276.5M513.8 346.5Q538.8 332.1 566.5 324.5M418.6 349.2Q430.4 326.6 421.4 302.9M433.3 263.2Q461.3 287.7 481.3 318.9M493.7 321Q500.5 338.1 503.9 356.2M361.1 247.1Q392.2 229.8 424.2 245M456.2 259.7Q468.7 262.6 480.9 266.4M475.6 232Q471.7 269 496.8 296.6M390.5 261.9Q413.2 280.9 435.1 300.8M554.4 337.5Q546.6 325.3 542.4 311.4M386.3 314.9Q400 304.9 412 293.1M547.9 326.6Q509.9 314.4 473.7 331.3M479.8 281.4Q498.8 307.1 515.2 334.6M476.5 209.9Q438.5 227.1 432.3 268.4M548 318.5Q530.3 320.8 517.1 332.9M392.2 278.3Q410.1 302.2 427.2 326.8M465.1 244Q505.6 239.3 530.3 271.6M433.1 342.1Q425.6 308 392.1 298.2M377.5 306.3Q365.9 302.3 356.2 295M376.7 246.4Q392.4 248.8 400.9 262.3M485 192.3Q504.3 213.5 530.2 225.9M515 322.3Q537.4 332.9 553.7 351.5M434.5 271.4Q417.4 277.6 411.2 294.6M524.9 196Q525.4 233 525.9 269.9M430.8 274.2Q444 265.5 459.2 269.6M527.4 337Q541.7 323.6 559.6 315.6M524.1 278.5Q532.4 285.5 538.5 294.4M525.5 229.3Q500.3 224.5 475.1 229.5M527.9 229.9Q517.2 263.4 530.7 295.8M403.2 283.4Q387.4 307.1 360 314.6M457.9 263.8Q458.9 284 455.4 303.9M523.2 295.7Q503.4 299.8 495.3 318.2M552.6 246.4Q536.4 214 526.2 179.3M396.7 371.3Q424.3 342.8 424.3 303.2M490.4 278Q513.5 256.7 507.7 225.8M427.6 287.4Q440.7 265.7 461.4 251.3M565.7 271.8Q548.3 261 536.8 244M415.2 325.9Q405.3 317.1 394.6 309.1M466.6 310.4Q479.1 285 490.5 259.1M517.4 354Q542 334.2 537 303M448.3 304.7Q461.6 296.7 477.1 295.5M399.2 207.5Q395.2 242.7 403 277.3M446.6 307.9Q472 286 498.6 265.6M411.1 301.1Q413.7 277.2 416.8 253.4M395.5 330Q376.6 325.5 368.2 307.8M579 275.1Q544.4 274.4 511.5 285.1M554.8 322.5Q514.9 317.9 489.8 286.5M556.1 216.7Q562.6 244.6 543.5 265.9M466.9 263.1Q442 248.2 417.2 232.9M565.1 327.5Q553.2 311 538.6 296.7M409.6 326.1Q376.9 322.7 349.5 304.5M410.7 259.2Q399 274.4 400.3 293.4M565.4 271.2Q535.6 279.9 507.4 267.2M529.2 219.8Q513.6 214 499.3 222.8M520.8 247.3Q505.9 230 488.2 215.5M384.5 294.9Q380 275.8 366.6 261.4M434.3 243.6Q436.5 214.5 456.1 193M438.3 188.4Q424.6 224 445.7 255.6M451.4 227.2Q429.9 219.1 407.5 213.9M508.9 253.5Q513.4 286.2 537 309.3M529.6 265.5Q523.3 252.9 509.4 251.1M467.2 196.9Q495.3 203.5 516.5 223M541.9 342.3Q550 306.3 526.9 277.5M517.1 277.5Q504.3 251.9 476.6 245.1M474.4 241.2Q500.3 248 523.3 261.8M438.8 296.8Q404.7 311.3 372.8 330M521.1 325.7Q537.1 318.6 539.3 301.2M445.3 249.3Q422.8 256.8 399.5 252.8M476.7 247.8Q469.4 238.2 464.6 227.1M509 198Q514.3 212.1 509.5 226.3M394.1 330.9Q378.8 301.8 393.4 272.4M399.3 347.8Q382.4 332.5 359.9 336.2M493.5 296.1Q472.8 292.1 452.6 297.8M515.9 206.4Q533.9 202 546.7 215.3M435.7 244.4Q468.2 246.2 495.2 264.4M517.5 186.7Q519.3 221.9 495.4 247.7M412.7 270.4Q406.9 237.1 431 213.3M488.2 318Q479.7 335.8 464.8 348.9M475.2 243.7Q487.2 261.1 505 272.3M552.4 344.1Q546 332.4 544.7 319.1M556.1 323.8Q553.2 295.3 534.9 273.2M409.2 317.3Q441 333.7 473 317.6M578.8 246.7Q555.2 230.2 526.4 231M484.7 259.7Q515.5 266.9 545.6 257.3M424.2 243.8Q442.5 269.7 469.2 286.9M508.2 237.3Q523.8 220.8 538.9 203.8M508.6 224.9Q490.5 228 472.2 229.3M394.5 270.5Q362.3 282.2 344 311.2M474.4 265.4Q471.5 281.5 470 297.8M541.6 260.3Q515.1 286.4 524.5 322.3M399.5 238.8Q371 254.5 338.8 250.6M524.6 256.6Q506.1 232.2 493.3 204.5M455.5 277.6Q496.7 278 518.8 312.8M519.3 217.5Q535.8 206.7 553.9 198.8M407.3 316.3Q429.9 325.1 454.1 326.7M504.5 301.3Q513.7 330.6 532.2 355M519.1 333.3Q553.2 325.7 575.9 299.1M405.9 256.3Q403.8 242.9 392.8 234.9M506.9 227Q523.6 227.8 538.4 220.1M536.5 247.7Q551.2 258.5 565.8 269.4M427.7 294.4Q401.1 295.6 376 304.7M552.6 223.3Q541 234.6 524.7 234.7M519.2 262.9Q549.2 240.5 586 247.8M428.5 240.6Q455.5 245.7 474.2 265.9M426 295.1Q431.9 258.5 422.6 222.6M454.4 276.7Q456.4 238.2 481.3 208.9M503.3 213.9Q489.6 204.5 473 206M458.3 317.9Q465.9 328.5 465.1 341.5M490.9 257.7Q490.2 294.4 459.6 314.6M551.6 279.2Q533.5 293.8 518.2 311.4M468.5 373.2Q463.3 335 485.4 303.5M524.5 224.6Q536.8 244.5 556.9 256.5M576 277.5Q539.3 269.1 501.8 272.8M507.5 250.1Q488.1 218.2 459.4 194.2M379 243.6Q405.4 220.1 436.7 203.8M486.4 240.1Q475.5 232.3 462.9 237M436.5 313.4Q417 305.5 398.5 315.5M501 232Q499.6 243.8 507.1 252.9M541 341.8Q529.5 333.5 515.6 330.9M423.8 242.8Q410.4 235.9 409.7 220.9M492.2 296.6Q498.8 320.2 514.2 339.2M419.6 299.8Q387.5 295.8 358.8 280.8M439.2 306.7Q453.7 306 467.7 310.2" fill="none" stroke="#b4b4b4" stroke-opacity="0.35" stroke-width="1.7" stroke-linecap="round"/>
</g>
<path d="M496 262 Q500 252 508 255 L515 290 L515 336 L496 336 L494 290 Z" fill="#3c3c3c" opacity="0.55" filter="url(#fblur2)"/><path d="M490 336 L489 290 Q491 262 497 254 L497 290 L498 336Z" fill="#a8a8a8" opacity="0.4" filter="url(#fblur2)"/><path d="M508 254 Q514 270 516 336" stroke="#a8a8a8" stroke-width="1.8" fill="none" opacity="0.45" filter="url(#fblur4)"/>
<rect x="368.6" y="215" width="176.1" height="119.7" fill="#000" opacity="0.05"/>
</g>
<text class="w" x="10.4" y="231.4" font-size="16.9" font-weight="bold" fill="#fff">(c)</text>
<text class="w" x="190.8" y="231.4" font-size="16.9" font-weight="bold" fill="#fff">(d)</text>
<text class="w" x="375.1" y="231.4" font-size="16.9" font-weight="bold" fill="#fff">(e)</text>
<text class="w" x="173" y="322.2" font-size="7.2" font-weight="bold" fill="#fff" text-anchor="end">200 nm</text>
<rect x="153.8" y="324.9" width="16" height="1.3" fill="#fff"/>
<text class="w" x="354.5" y="322.2" font-size="7.2" font-weight="bold" fill="#fff" text-anchor="end">200 nm</text>
<rect x="337.5" y="324.9" width="16" height="1.3" fill="#fff"/>
<text class="w" x="535.6" y="322.2" font-size="7.2" font-weight="bold" fill="#fff" text-anchor="end">200 nm</text>
<rect x="516.7" y="324.9" width="15.8" height="1.3" fill="#fff"/>
<rect x="40.1" y="450.7" width="13.1" height="5.3" fill="#f8a562" stroke="#ee9a55" stroke-width="0.5"/>
<rect x="56.2" y="445.4" width="13.1" height="10.6" fill="#f8a562" stroke="#ee9a55" stroke-width="0.5"/>
<rect x="72.4" y="413.5" width="13.1" height="42.5" fill="#f8a562" stroke="#ee9a55" stroke-width="0.5"/>
<rect x="88.5" y="408.2" width="13.1" height="47.8" fill="#f8a562" stroke="#ee9a55" stroke-width="0.5"/>
<rect x="104.6" y="365.7" width="13.1" height="90.3" fill="#f8a562" stroke="#ee9a55" stroke-width="0.5"/>
<rect x="120.8" y="413.5" width="13.1" height="42.5" fill="#f8a562" stroke="#ee9a55" stroke-width="0.5"/>
<rect x="136.9" y="445.4" width="13.1" height="10.6" fill="#f8a562" stroke="#ee9a55" stroke-width="0.5"/>
<rect x="153" y="445.4" width="13.1" height="10.6" fill="#f8a562" stroke="#ee9a55" stroke-width="0.5"/>
<rect x="169.2" y="450.7" width="13.1" height="5.3" fill="#f8a562" stroke="#ee9a55" stroke-width="0.5"/>
<polyline points="46.7,448.8 47.8,448.7 48.8,448.7 49.9,448.7 51,448.6 52.1,448.6 53.2,448.5 54.3,448.4 55.3,448.3 56.4,448.2 57.5,448.1 58.6,447.9 59.7,447.7 60.8,447.5 61.9,447.2 62.9,446.9 64,446.5 65.1,446.1 66.2,445.6 67.3,445 68.4,444.3 69.4,443.6 70.5,442.7 71.6,441.7 72.7,440.6 73.8,439.4 74.9,438.1 76,436.6 77,434.9 78.1,433.2 79.2,431.2 80.3,429.2 81.4,426.9 82.5,424.6 83.5,422.1 84.6,419.4 85.7,416.7 86.8,413.9 87.9,411 89,408 90.1,405 91.1,402 92.2,399 93.3,396.1 94.4,393.2 95.5,390.4 96.6,387.8 97.6,385.4 98.7,383.2 99.8,381.1 100.9,379.4 102,377.9 103.1,376.7 104.2,375.8 105.2,375.3 106.3,375 107.4,375.1 108.5,375.6 109.6,376.3 110.7,377.4 111.7,378.8 112.8,380.4 113.9,382.4 115,384.5 116.1,386.9 117.2,389.5 118.2,392.2 119.3,395 120.4,397.9 121.5,400.9 122.6,403.9 123.7,406.9 124.8,409.9 125.8,412.8 126.9,415.7 128,418.4 129.1,421.1 130.2,423.6 131.3,426.1 132.3,428.3 133.4,430.5 134.5,432.5 135.6,434.3 136.7,436 137.8,437.5 138.9,438.9 139.9,440.2 141,441.3 142.1,442.4 143.2,443.3 144.3,444.1 145.4,444.8 146.4,445.4 147.5,445.9 148.6,446.4 149.7,446.8 150.8,447.1 151.9,447.4 153,447.7 154,447.9 155.1,448 156.2,448.2 157.3,448.3 158.4,448.4 159.5,448.5 160.5,448.6 161.6,448.6 162.7,448.7 163.8,448.7 164.9,448.7 166,448.7 167.1,448.8 168.1,448.8 169.2,448.8 170.3,448.8 171.4,448.8 172.5,448.8 173.6,448.8 174.6,448.8 175.7,448.8" fill="none" stroke="#1a1a1a" stroke-width="1.0" stroke-linejoin="round"/>
<rect x="38.6" y="349.8" width="145.2" height="106.2" fill="none" stroke="#1a1a1a" stroke-width="0.9"/>
<line x1="36.4" y1="456" x2="38.6" y2="456" stroke="#1a1a1a" stroke-width="0.8"/>
<text x="36" y="457.9" font-size="5.6" font-weight="bold" text-anchor="end" fill="#111">0.00</text>
<line x1="37.3" y1="449.4" x2="38.6" y2="449.4" stroke="#1a1a1a" stroke-width="0.8"/>
<line x1="36.4" y1="442.7" x2="38.6" y2="442.7" stroke="#1a1a1a" stroke-width="0.8"/>
<text x="36" y="444.6" font-size="5.6" font-weight="bold" text-anchor="end" fill="#111">0.05</text>
<line x1="37.3" y1="436.1" x2="38.6" y2="436.1" stroke="#1a1a1a" stroke-width="0.8"/>
<line x1="36.4" y1="429.4" x2="38.6" y2="429.4" stroke="#1a1a1a" stroke-width="0.8"/>
<text x="36" y="431.3" font-size="5.6" font-weight="bold" text-anchor="end" fill="#111">0.10</text>
<line x1="37.3" y1="422.8" x2="38.6" y2="422.8" stroke="#1a1a1a" stroke-width="0.8"/>
<line x1="36.4" y1="416.2" x2="38.6" y2="416.2" stroke="#1a1a1a" stroke-width="0.8"/>
<text x="36" y="418.1" font-size="5.6" font-weight="bold" text-anchor="end" fill="#111">0.15</text>
<line x1="37.3" y1="409.5" x2="38.6" y2="409.5" stroke="#1a1a1a" stroke-width="0.8"/>
<line x1="36.4" y1="402.9" x2="38.6" y2="402.9" stroke="#1a1a1a" stroke-width="0.8"/>
<text x="36" y="404.8" font-size="5.6" font-weight="bold" text-anchor="end" fill="#111">0.20</text>
<line x1="37.3" y1="396.3" x2="38.6" y2="396.3" stroke="#1a1a1a" stroke-width="0.8"/>
<line x1="36.4" y1="389.6" x2="38.6" y2="389.6" stroke="#1a1a1a" stroke-width="0.8"/>
<text x="36" y="391.5" font-size="5.6" font-weight="bold" text-anchor="end" fill="#111">0.25</text>
<line x1="37.3" y1="383" x2="38.6" y2="383" stroke="#1a1a1a" stroke-width="0.8"/>
<line x1="36.4" y1="376.4" x2="38.6" y2="376.4" stroke="#1a1a1a" stroke-width="0.8"/>
<text x="36" y="378.2" font-size="5.6" font-weight="bold" text-anchor="end" fill="#111">0.30</text>
<line x1="37.3" y1="369.7" x2="38.6" y2="369.7" stroke="#1a1a1a" stroke-width="0.8"/>
<line x1="36.4" y1="363.1" x2="38.6" y2="363.1" stroke="#1a1a1a" stroke-width="0.8"/>
<text x="36" y="365" font-size="5.6" font-weight="bold" text-anchor="end" fill="#111">0.35</text>
<line x1="37.3" y1="356.4" x2="38.6" y2="356.4" stroke="#1a1a1a" stroke-width="0.8"/>
<line x1="36.4" y1="349.8" x2="38.6" y2="349.8" stroke="#1a1a1a" stroke-width="0.8"/>
<text x="36" y="351.7" font-size="5.6" font-weight="bold" text-anchor="end" fill="#111">0.40</text>
<line x1="38.6" y1="456" x2="38.6" y2="458.2" stroke="#1a1a1a" stroke-width="0.8"/>
<text x="38.6" y="464.2" font-size="5.6" font-weight="bold" text-anchor="middle" fill="#111">8</text>
<line x1="46.7" y1="456" x2="46.7" y2="457.3" stroke="#1a1a1a" stroke-width="0.8"/>
<line x1="54.7" y1="456" x2="54.7" y2="458.2" stroke="#1a1a1a" stroke-width="0.8"/>
<text x="54.7" y="464.2" font-size="5.6" font-weight="bold" text-anchor="middle" fill="#111">10</text>
<line x1="62.8" y1="456" x2="62.8" y2="457.3" stroke="#1a1a1a" stroke-width="0.8"/>
<line x1="70.9" y1="456" x2="70.9" y2="458.2" stroke="#1a1a1a" stroke-width="0.8"/>
<text x="70.9" y="464.2" font-size="5.6" font-weight="bold" text-anchor="middle" fill="#111">12</text>
<line x1="78.9" y1="456" x2="78.9" y2="457.3" stroke="#1a1a1a" stroke-width="0.8"/>
<line x1="87" y1="456" x2="87" y2="458.2" stroke="#1a1a1a" stroke-width="0.8"/>
<text x="87" y="464.2" font-size="5.6" font-weight="bold" text-anchor="middle" fill="#111">14</text>
<line x1="95.1" y1="456" x2="95.1" y2="457.3" stroke="#1a1a1a" stroke-width="0.8"/>
<line x1="103.1" y1="456" x2="103.1" y2="458.2" stroke="#1a1a1a" stroke-width="0.8"/>
<text x="103.1" y="464.2" font-size="5.6" font-weight="bold" text-anchor="middle" fill="#111">16</text>
<line x1="111.2" y1="456" x2="111.2" y2="457.3" stroke="#1a1a1a" stroke-width="0.8"/>
<line x1="119.3" y1="456" x2="119.3" y2="458.2" stroke="#1a1a1a" stroke-width="0.8"/>
<text x="119.3" y="464.2" font-size="5.6" font-weight="bold" text-anchor="middle" fill="#111">18</text>
<line x1="127.3" y1="456" x2="127.3" y2="457.3" stroke="#1a1a1a" stroke-width="0.8"/>
<line x1="135.4" y1="456" x2="135.4" y2="458.2" stroke="#1a1a1a" stroke-width="0.8"/>
<text x="135.4" y="464.2" font-size="5.6" font-weight="bold" text-anchor="middle" fill="#111">20</text>
<line x1="143.5" y1="456" x2="143.5" y2="457.3" stroke="#1a1a1a" stroke-width="0.8"/>
<line x1="151.5" y1="456" x2="151.5" y2="458.2" stroke="#1a1a1a" stroke-width="0.8"/>
<text x="151.5" y="464.2" font-size="5.6" font-weight="bold" text-anchor="middle" fill="#111">22</text>
<line x1="159.6" y1="456" x2="159.6" y2="457.3" stroke="#1a1a1a" stroke-width="0.8"/>
<line x1="167.7" y1="456" x2="167.7" y2="458.2" stroke="#1a1a1a" stroke-width="0.8"/>
<text x="167.7" y="464.2" font-size="5.6" font-weight="bold" text-anchor="middle" fill="#111">24</text>
<line x1="175.7" y1="456" x2="175.7" y2="457.3" stroke="#1a1a1a" stroke-width="0.8"/>
<line x1="183.8" y1="456" x2="183.8" y2="458.2" stroke="#1a1a1a" stroke-width="0.8"/>
<text x="183.8" y="464.2" font-size="5.6" font-weight="bold" text-anchor="middle" fill="#111">26</text>
<text x="42.9" y="357.5" font-size="5.7" font-weight="bold" fill="#111">0.5-LDH/3MXNF</text>
<text x="42.9" y="364" font-size="5.7" font-weight="bold" fill="#111">Average size: 16.42 nm</text>
<text x="8.2" y="364.3" font-size="18.3" font-weight="bold" fill="#111">(f)</text>
<text transform="translate(22.8,402.9) rotate(-90)" font-size="5.7" font-weight="bold" text-anchor="middle" fill="#111">Fraction (%)</text>
<text x="111.2" y="473.8" font-size="5.7" font-weight="bold" text-anchor="middle" fill="#111">Thickness Size (nm)</text>
<rect x="218.1" y="440.4" width="13.1" height="17.1" fill="#f8a562" stroke="#ee9a55" stroke-width="0.5"/>
<rect x="234.5" y="431.8" width="13.1" height="25.7" fill="#f8a562" stroke="#ee9a55" stroke-width="0.5"/>
<rect x="250.9" y="431.8" width="13.1" height="25.7" fill="#f8a562" stroke="#ee9a55" stroke-width="0.5"/>
<rect x="267.2" y="414.7" width="13.1" height="42.8" fill="#f8a562" stroke="#ee9a55" stroke-width="0.5"/>
<rect x="283.6" y="389.1" width="13.1" height="68.4" fill="#f8a562" stroke="#ee9a55" stroke-width="0.5"/>
<rect x="300" y="363.4" width="13.1" height="94.1" fill="#f8a562" stroke="#ee9a55" stroke-width="0.5"/>
<rect x="316.3" y="389.1" width="13.1" height="68.4" fill="#f8a562" stroke="#ee9a55" stroke-width="0.5"/>
<rect x="332.7" y="406.2" width="13.1" height="51.3" fill="#f8a562" stroke="#ee9a55" stroke-width="0.5"/>
<rect x="349.1" y="423.3" width="13.1" height="34.2" fill="#f8a562" stroke="#ee9a55" stroke-width="0.5"/>
<polyline points="225.2,436.7 226.3,436.7 227.4,436.6 228.5,436.6 229.6,436.5 230.6,436.5 231.7,436.4 232.8,436.3 233.9,436.2 235,436.1 236,436 237.1,435.8 238.2,435.7 239.3,435.5 240.4,435.3 241.5,435.1 242.5,434.9 243.6,434.6 244.7,434.4 245.8,434.1 246.9,433.7 247.9,433.4 249,432.9 250.1,432.5 251.2,432 252.3,431.5 253.4,430.9 254.4,430.3 255.5,429.7 256.6,429 257.7,428.2 258.8,427.4 259.8,426.6 260.9,425.7 262,424.7 263.1,423.7 264.2,422.6 265.3,421.4 266.3,420.2 267.4,419 268.5,417.6 269.6,416.3 270.7,414.8 271.7,413.3 272.8,411.8 273.9,410.2 275,408.6 276.1,406.9 277.2,405.2 278.2,403.5 279.3,401.7 280.4,400 281.5,398.2 282.6,396.4 283.6,394.5 284.7,392.7 285.8,391 286.9,389.2 288,387.5 289.1,385.8 290.1,384.1 291.2,382.5 292.3,381 293.4,379.5 294.5,378.1 295.5,376.8 296.6,375.5 297.7,374.4 298.8,373.4 299.9,372.5 301,371.7 302,371 303.1,370.4 304.2,370 305.3,369.6 306.4,369.5 307.4,369.4 308.5,369.5 309.6,369.7 310.7,370 311.8,370.5 312.9,371.1 313.9,371.8 315,372.7 316.1,373.6 317.2,374.6 318.3,375.8 319.3,377 320.4,378.4 321.5,379.8 322.6,381.3 323.7,382.9 324.8,384.5 325.8,386.1 326.9,387.8 328,389.6 329.1,391.4 330.2,393.2 331.2,395 332.3,396.8 333.4,398.6 334.5,400.4 335.6,402.1 336.7,403.9 337.7,405.6 338.8,407.3 339.9,409 341,410.6 342.1,412.2 343.1,413.7 344.2,415.2 345.3,416.6 346.4,417.9 347.5,419.2 348.6,420.5 349.6,421.7 350.7,422.8 351.8,423.9 352.9,424.9 354,425.9" fill="none" stroke="#1a1a1a" stroke-width="1.0" stroke-linejoin="round"/>
<rect x="216.5" y="350.6" width="147.5" height="106.9" fill="none" stroke="#1a1a1a" stroke-width="0.9"/>
<line x1="214.3" y1="457.5" x2="216.5" y2="457.5" stroke="#1a1a1a" stroke-width="0.8"/>
<text x="213.9" y="459.4" font-size="5.6" font-weight="bold" text-anchor="end" fill="#111">0.00</text>
<line x1="215.2" y1="446.8" x2="216.5" y2="446.8" stroke="#1a1a1a" stroke-width="0.8"/>
<line x1="214.3" y1="436.1" x2="216.5" y2="436.1" stroke="#1a1a1a" stroke-width="0.8"/>
<text x="213.9" y="438" font-size="5.6" font-weight="bold" text-anchor="end" fill="#111">0.05</text>
<line x1="215.2" y1="425.4" x2="216.5" y2="425.4" stroke="#1a1a1a" stroke-width="0.8"/>
<line x1="214.3" y1="414.7" x2="216.5" y2="414.7" stroke="#1a1a1a" stroke-width="0.8"/>
<text x="213.9" y="416.6" font-size="5.6" font-weight="bold" text-anchor="end" fill="#111">0.10</text>
<line x1="215.2" y1="404.1" x2="216.5" y2="404.1" stroke="#1a1a1a" stroke-width="0.8"/>
<line x1="214.3" y1="393.4" x2="216.5" y2="393.4" stroke="#1a1a1a" stroke-width="0.8"/>
<text x="213.9" y="395.3" font-size="5.6" font-weight="bold" text-anchor="end" fill="#111">0.15</text>
<line x1="215.2" y1="382.7" x2="216.5" y2="382.7" stroke="#1a1a1a" stroke-width="0.8"/>
<line x1="214.3" y1="372" x2="216.5" y2="372" stroke="#1a1a1a" stroke-width="0.8"/>
<text x="213.9" y="373.9" font-size="5.6" font-weight="bold" text-anchor="end" fill="#111">0.20</text>
<line x1="215.2" y1="361.3" x2="216.5" y2="361.3" stroke="#1a1a1a" stroke-width="0.8"/>
<line x1="214.3" y1="350.6" x2="216.5" y2="350.6" stroke="#1a1a1a" stroke-width="0.8"/>
<text x="213.9" y="352.5" font-size="5.6" font-weight="bold" text-anchor="end" fill="#111">0.25</text>
<line x1="219.2" y1="457.5" x2="219.2" y2="458.8" stroke="#1a1a1a" stroke-width="0.8"/>
<line x1="232.9" y1="457.5" x2="232.9" y2="459.7" stroke="#1a1a1a" stroke-width="0.8"/>
<text x="232.9" y="465.7" font-size="5.6" font-weight="bold" text-anchor="middle" fill="#111">15</text>
<line x1="246.5" y1="457.5" x2="246.5" y2="458.8" stroke="#1a1a1a" stroke-width="0.8"/>
<line x1="260.1" y1="457.5" x2="260.1" y2="459.7" stroke="#1a1a1a" stroke-width="0.8"/>
<text x="260.1" y="465.7" font-size="5.6" font-weight="bold" text-anchor="middle" fill="#111">20</text>
<line x1="273.8" y1="457.5" x2="273.8" y2="458.8" stroke="#1a1a1a" stroke-width="0.8"/>
<line x1="287.4" y1="457.5" x2="287.4" y2="459.7" stroke="#1a1a1a" stroke-width="0.8"/>
<text x="287.4" y="465.7" font-size="5.6" font-weight="bold" text-anchor="middle" fill="#111">25</text>
<line x1="301.1" y1="457.5" x2="301.1" y2="458.8" stroke="#1a1a1a" stroke-width="0.8"/>
<line x1="314.7" y1="457.5" x2="314.7" y2="459.7" stroke="#1a1a1a" stroke-width="0.8"/>
<text x="314.7" y="465.7" font-size="5.6" font-weight="bold" text-anchor="middle" fill="#111">30</text>
<line x1="328.3" y1="457.5" x2="328.3" y2="458.8" stroke="#1a1a1a" stroke-width="0.8"/>
<line x1="342" y1="457.5" x2="342" y2="459.7" stroke="#1a1a1a" stroke-width="0.8"/>
<text x="342" y="465.7" font-size="5.6" font-weight="bold" text-anchor="middle" fill="#111">35</text>
<line x1="355.6" y1="457.5" x2="355.6" y2="458.8" stroke="#1a1a1a" stroke-width="0.8"/>
<text x="220.6" y="358.6" font-size="5.7" font-weight="bold" fill="#111">1.0-LDH/3MXNF</text>
<text x="220.6" y="366.1" font-size="5.7" font-weight="bold" fill="#111">Average size: 27.51 nm</text>
<text x="183.6" y="364.3" font-size="18.3" font-weight="bold" fill="#111">(g)</text>
<text transform="translate(200.5,404.1) rotate(-90)" font-size="5.7" font-weight="bold" text-anchor="middle" fill="#111">Fraction (%)</text>
<text x="290.1" y="475.3" font-size="5.7" font-weight="bold" text-anchor="middle" fill="#111">Thickness Size (nm)</text>
<rect x="395.6" y="449.7" width="10.3" height="7.1" fill="#f8a562" stroke="#ee9a55" stroke-width="0.5"/>
<rect x="408" y="449.7" width="10.3" height="7.1" fill="#f8a562" stroke="#ee9a55" stroke-width="0.5"/>
<rect x="420.3" y="442.6" width="10.3" height="14.2" fill="#f8a562" stroke="#ee9a55" stroke-width="0.5"/>
<rect x="432.6" y="435.5" width="10.3" height="21.3" fill="#f8a562" stroke="#ee9a55" stroke-width="0.5"/>
<rect x="444.9" y="407.1" width="10.3" height="49.7" fill="#f8a562" stroke="#ee9a55" stroke-width="0.5"/>
<rect x="457.3" y="378.6" width="10.3" height="78.2" fill="#f8a562" stroke="#ee9a55" stroke-width="0.5"/>
<rect x="469.6" y="371.5" width="10.3" height="85.3" fill="#f8a562" stroke="#ee9a55" stroke-width="0.5"/>
<rect x="481.9" y="407.1" width="10.3" height="49.7" fill="#f8a562" stroke="#ee9a55" stroke-width="0.5"/>
<rect x="494.2" y="442.6" width="10.3" height="14.2" fill="#f8a562" stroke="#ee9a55" stroke-width="0.5"/>
<rect x="506.6" y="442.6" width="10.3" height="14.2" fill="#f8a562" stroke="#ee9a55" stroke-width="0.5"/>
<rect x="518.9" y="449.7" width="10.3" height="7.1" fill="#f8a562" stroke="#ee9a55" stroke-width="0.5"/>
<rect x="531.2" y="449.7" width="10.3" height="7.1" fill="#f8a562" stroke="#ee9a55" stroke-width="0.5"/>
<polyline points="402.8,449.7 403.9,449.7 405,449.6 406.1,449.6 407.2,449.6 408.3,449.6 409.4,449.6 410.6,449.5 411.7,449.5 412.8,449.4 413.9,449.4 415,449.3 416.1,449.2 417.2,449.1 418.3,448.9 419.4,448.8 420.5,448.6 421.6,448.3 422.7,448 423.8,447.7 424.9,447.3 426,446.8 427.1,446.3 428.2,445.7 429.3,445 430.4,444.2 431.5,443.3 432.6,442.2 433.8,441.1 434.9,439.8 436,438.3 437.1,436.8 438.2,435 439.3,433.1 440.4,431.1 441.5,428.8 442.6,426.5 443.7,423.9 444.8,421.3 445.9,418.4 447,415.5 448.1,412.5 449.2,409.3 450.3,406.1 451.4,402.9 452.5,399.6 453.6,396.4 454.7,393.2 455.9,390.1 457,387 458.1,384.2 459.2,381.5 460.3,379 461.4,376.8 462.5,374.8 463.6,373.1 464.7,371.8 465.8,370.8 466.9,370.1 468,369.8 469.1,369.8 470.2,370.2 471.3,371 472.4,372.1 473.5,373.5 474.6,375.2 475.7,377.3 476.8,379.6 477.9,382.1 479.1,384.8 480.2,387.7 481.3,390.7 482.4,393.9 483.5,397.1 484.6,400.3 485.7,403.6 486.8,406.8 487.9,410 489,413.1 490.1,416.2 491.2,419.1 492.3,421.9 493.4,424.5 494.5,427 495.6,429.4 496.7,431.5 497.8,433.6 498.9,435.4 500,437.1 501.2,438.7 502.3,440.1 503.4,441.3 504.5,442.5 505.6,443.5 506.7,444.4 507.8,445.1 508.9,445.8 510,446.4 511.1,446.9 512.2,447.4 513.3,447.8 514.4,448.1 515.5,448.4 516.6,448.6 517.7,448.8 518.8,449 519.9,449.1 521,449.2 522.1,449.3 523.2,449.4 524.4,449.4 525.5,449.5 526.6,449.5 527.7,449.6 528.8,449.6 529.9,449.6 531,449.6 532.1,449.6 533.2,449.7 534.3,449.7" fill="none" stroke="#1a1a1a" stroke-width="1.0" stroke-linejoin="round"/>
<rect x="394.6" y="350.2" width="147.3" height="106.6" fill="none" stroke="#1a1a1a" stroke-width="0.9"/>
<line x1="392.4" y1="456.8" x2="394.6" y2="456.8" stroke="#1a1a1a" stroke-width="0.8"/>
<text x="392" y="458.7" font-size="5.6" font-weight="bold" text-anchor="end" fill="#111">0.00</text>
<line x1="393.3" y1="447.9" x2="394.6" y2="447.9" stroke="#1a1a1a" stroke-width="0.8"/>
<line x1="392.4" y1="439" x2="394.6" y2="439" stroke="#1a1a1a" stroke-width="0.8"/>
<text x="392" y="440.9" font-size="5.6" font-weight="bold" text-anchor="end" fill="#111">0.05</text>
<line x1="393.3" y1="430.1" x2="394.6" y2="430.1" stroke="#1a1a1a" stroke-width="0.8"/>
<line x1="392.4" y1="421.3" x2="394.6" y2="421.3" stroke="#1a1a1a" stroke-width="0.8"/>
<text x="392" y="423.2" font-size="5.6" font-weight="bold" text-anchor="end" fill="#111">0.10</text>
<line x1="393.3" y1="412.4" x2="394.6" y2="412.4" stroke="#1a1a1a" stroke-width="0.8"/>
<line x1="392.4" y1="403.5" x2="394.6" y2="403.5" stroke="#1a1a1a" stroke-width="0.8"/>
<text x="392" y="405.4" font-size="5.6" font-weight="bold" text-anchor="end" fill="#111">0.15</text>
<line x1="393.3" y1="394.6" x2="394.6" y2="394.6" stroke="#1a1a1a" stroke-width="0.8"/>
<line x1="392.4" y1="385.7" x2="394.6" y2="385.7" stroke="#1a1a1a" stroke-width="0.8"/>
<text x="392" y="387.6" font-size="5.6" font-weight="bold" text-anchor="end" fill="#111">0.20</text>
<line x1="393.3" y1="376.8" x2="394.6" y2="376.8" stroke="#1a1a1a" stroke-width="0.8"/>
<line x1="392.4" y1="368" x2="394.6" y2="368" stroke="#1a1a1a" stroke-width="0.8"/>
<text x="392" y="369.9" font-size="5.6" font-weight="bold" text-anchor="end" fill="#111">0.25</text>
<line x1="393.3" y1="359.1" x2="394.6" y2="359.1" stroke="#1a1a1a" stroke-width="0.8"/>
<line x1="392.4" y1="350.2" x2="394.6" y2="350.2" stroke="#1a1a1a" stroke-width="0.8"/>
<text x="392" y="352.1" font-size="5.6" font-weight="bold" text-anchor="end" fill="#111">0.30</text>
<line x1="394.6" y1="456.8" x2="394.6" y2="459" stroke="#1a1a1a" stroke-width="0.8"/>
<text x="394.6" y="465" font-size="5.6" font-weight="bold" text-anchor="middle" fill="#111">30</text>
<line x1="404.9" y1="456.8" x2="404.9" y2="458.1" stroke="#1a1a1a" stroke-width="0.8"/>
<line x1="415.1" y1="456.8" x2="415.1" y2="459" stroke="#1a1a1a" stroke-width="0.8"/>
<text x="415.1" y="465" font-size="5.6" font-weight="bold" text-anchor="middle" fill="#111">35</text>
<line x1="425.4" y1="456.8" x2="425.4" y2="458.1" stroke="#1a1a1a" stroke-width="0.8"/>
<line x1="435.7" y1="456.8" x2="435.7" y2="459" stroke="#1a1a1a" stroke-width="0.8"/>
<text x="435.7" y="465" font-size="5.6" font-weight="bold" text-anchor="middle" fill="#111">40</text>
<line x1="446" y1="456.8" x2="446" y2="458.1" stroke="#1a1a1a" stroke-width="0.8"/>
<line x1="456.2" y1="456.8" x2="456.2" y2="459" stroke="#1a1a1a" stroke-width="0.8"/>
<text x="456.2" y="465" font-size="5.6" font-weight="bold" text-anchor="middle" fill="#111">45</text>
<line x1="466.5" y1="456.8" x2="466.5" y2="458.1" stroke="#1a1a1a" stroke-width="0.8"/>
<line x1="476.8" y1="456.8" x2="476.8" y2="459" stroke="#1a1a1a" stroke-width="0.8"/>
<text x="476.8" y="465" font-size="5.6" font-weight="bold" text-anchor="middle" fill="#111">50</text>
<line x1="487" y1="456.8" x2="487" y2="458.1" stroke="#1a1a1a" stroke-width="0.8"/>
<line x1="497.3" y1="456.8" x2="497.3" y2="459" stroke="#1a1a1a" stroke-width="0.8"/>
<text x="497.3" y="465" font-size="5.6" font-weight="bold" text-anchor="middle" fill="#111">55</text>
<line x1="507.6" y1="456.8" x2="507.6" y2="458.1" stroke="#1a1a1a" stroke-width="0.8"/>
<line x1="517.9" y1="456.8" x2="517.9" y2="459" stroke="#1a1a1a" stroke-width="0.8"/>
<text x="517.9" y="465" font-size="5.6" font-weight="bold" text-anchor="middle" fill="#111">60</text>
<line x1="528.1" y1="456.8" x2="528.1" y2="458.1" stroke="#1a1a1a" stroke-width="0.8"/>
<line x1="538.4" y1="456.8" x2="538.4" y2="459" stroke="#1a1a1a" stroke-width="0.8"/>
<text x="538.4" y="465" font-size="5.6" font-weight="bold" text-anchor="middle" fill="#111">65</text>
<text x="398.7" y="357.6" font-size="5.7" font-weight="bold" fill="#111">2.0-LDH/3MXNF</text>
<text x="398.7" y="364.1" font-size="5.7" font-weight="bold" fill="#111">Average size: 47.97 nm</text>
<text x="363.3" y="362.4" font-size="18.3" font-weight="bold" fill="#111">(h)</text>
<text transform="translate(378.6,403.5) rotate(-90)" font-size="5.7" font-weight="bold" text-anchor="middle" fill="#111">Fraction (%)</text>
<text x="467" y="474.6" font-size="5.7" font-weight="bold" text-anchor="middle" fill="#111">Thickness Size (nm)</text>
<rect x="7" y="482.2" width="537.8" height="107.5" fill="#000"/>
<clipPath id="ci"><path d="M17 506 L29.5 501.6 L34 505 L45.5 511.8 L59 518.6 L68 522 L79.5 523 L91 524.3 L100 523 L103.4 525.5 L104.5 536.8 L106.8 548.2 L111.4 559.5 L112.5 571 L109 575.5 L100 580 L91 583.4 L84 585.7 L77.3 584.5 L70.5 580 L66 575.5 L56.8 571 L45.5 564 L41 555 L34 548.2 L27.3 541.4 L22.7 534.5 L16 523 L13.6 516.4Z"/></clipPath>
<path d="M17 506 L29.5 501.6 L34 505 L45.5 511.8 L59 518.6 L68 522 L79.5 523 L91 524.3 L100 523 L103.4 525.5 L104.5 536.8 L106.8 548.2 L111.4 559.5 L112.5 571 L109 575.5 L100 580 L91 583.4 L84 585.7 L77.3 584.5 L70.5 580 L66 575.5 L56.8 571 L45.5 564 L41 555 L34 548.2 L27.3 541.4 L22.7 534.5 L16 523 L13.6 516.4Z" fill="#7c7c7c" filter="url(#glow)"/>
<g clip-path="url(#ci)" stroke-linecap="round" filter="url(#lblur)" fill="none">
<path d="M48.7 535.2L54.1 536M62.4 535L66.3 541.3M38.7 526.7L23.5 532.2M67.8 537L56 542.6M22.4 517.1L29.8 518.2M104.8 537.7L103.3 551.3M78.8 581.4L73.3 584.2M33.7 498.1L35.8 509.4M25.6 579.5L28.1 585.6M12.8 578.7L21.8 588.4M70 511.4L63.2 518.5M49.6 578.9L38.7 580.3M99.6 539.6L89.6 543.5M22.2 541.8L26 548.8M47.8 499.8L52.9 502.6M23 499.2L9.5 508M77.3 513.5L69.7 516M43.9 519.5L38.5 523.7M43.7 525.3L52.7 530.6M39.1 539.6L47 545.9M17.7 559.2L10.4 560.2M31.6 537.5L35.9 542.8M21.2 505.3L8.8 509.7M109.2 535.3L110.9 545.6M111.8 544.8L120.2 553.7M95.8 555.2L89.1 559.2M72.6 523.2L81.7 530.7M27.1 523.6L27.9 538.7M70.1 519.3L66.3 530.3M111.8 561.8L102.1 568.9M116.9 556.6L114.5 568.7M24.4 551.5L29.5 552M113.4 581.9L109.3 589.9M109.8 499.2L107.9 507.4M36.4 532.8L31.8 540.7M123.8 495.5L108.2 500.9M91.8 514.2L81.5 517.1M48 509.7L56.4 519.6M50.2 498.1L56.3 507.7M83.8 562L79.8 569.1M53.6 520.5L66.7 526.5M71.4 528.1L63.9 542.2M77.5 494L79.2 502.3M104.2 579.8L113 591.2M108.7 519L105.7 529.1M76.8 545.6L63.1 555.3M35.3 549.2L21.8 549.6M68.9 538.7L69.9 543.7M24.5 499.7L29.6 505M108.1 557.7L96.9 560.5M78.6 528.3L91.9 537.6M40.4 504.2L34.6 512.9M29.6 504.5L20.9 509.7M15.9 562.6L6.8 571.2M32 579.1L47.3 581.2M44.7 583.2L56.3 589.9M48 580.3L55.5 588.7M94.6 553.9L103 562.6M59.2 505.8L44.9 505.8M10.5 528.1L25.8 534.2M91.5 525.5L102.1 530.1M80 491.1L73.6 506.2M29.2 568.6L21.9 570.8M12.3 513.9L10 529.6M29.5 586.4L35.9 590M98.8 553L93.8 559.7M98.3 580.4L95.4 588.9M54.8 522L63.4 535.2M48.6 534.2L51 543.7M44.9 551.5L54.4 562.8M59.3 555.3L56.8 564.9M108 577.3L92.3 582.8M89 555.5L91.7 561M49.2 564.1L49 574.3M95.2 560.5L83.4 572.3M50.4 514.2L55.6 519.6M70.6 494.3L80.1 502.7M67.3 574.9L74.6 590M89.1 533.9L73.5 536.2M47.6 513.1L43.5 519.6M89.1 559.8L93.5 573.8M10.8 564.8L17.9 576.8M22.9 519.5L33.9 524.5M42.8 587.1L39.4 592.8M18.2 574.9L4.3 580.7M31.8 541.6L39.4 545.7M19 583.7L19.9 592.9M98.1 562.2L85.3 563.2M67.6 522.4L59.8 529.6M93.7 538L98.7 541.4M40.4 563.7L42.3 569.9M114.4 545.8L111.3 553.5M103.3 552.4L105.9 561.4M68.1 556.7L72.2 565.8M64.3 572.3L63.5 577.7M19.3 558.5L24.8 559.3M105 585.8L111 593.2M96.4 507.5L98.1 516.8M81.4 526L75.6 532.7M49.6 555.7L63.6 557.7M34.7 520.1L39.8 520.3M38 493.4L44.1 504.2M25.2 570.5L22.7 584.9M20.1 506.8L13 513.1M25 531.1L35.6 533.4M77.9 519.1L68.5 529.7M94.3 549.9L87.5 557.8M79.6 516.3L85.1 516.7M64.7 513.7L77.7 515.6M80.6 530.5L72.8 534.7M70 543.1L61.1 549.9M84 536.2L86.2 541.9M58.3 571.7L43.7 573.9M74.6 494.2L68.3 502.4M22.7 571.4L22.8 578M93.6 507.7L89.2 511.7M114.8 582.2L112.6 595.2M66.8 573.1L70.1 586.9M47.5 519.5L39.1 531.5M12.7 507.1L12.9 513.2M88.8 523.1L75.8 528.6M26.2 499.2L23.8 506.1M40.9 531.8L48.7 533.5M21.3 543.2L35.5 544.8M111.2 517L104.2 519.3M35.1 584.5L40.5 588.8M74.4 539.4L84.9 540.7M60.7 581.9L68.4 583.8M71.7 549.2L58.3 558.7M45.6 498L42.2 502.1M28.8 542.8L40.7 545.5M21 560.5L14.5 568.6M10.4 498.9L18.1 506.6M107.9 523.3L107.4 537.3M69.9 547.7L61.4 557.1M92.2 542.9L88.6 550.9M49.3 520.7L55 522.8M107.5 501.2L119.7 512.3M21 569.5L36.7 570.5M30.9 582.3L39.5 583M17.4 564.8L17.3 573.6M75.9 577.8L82.8 588.2M73.9 505.9L79.1 510.6M114.3 527.7L113 533.5M62.8 549.9L59.9 565.2M56.4 537.6L61.7 544.7M31.7 581.8L33.2 588M73.8 496.4L63.3 509.4M21.5 568.5L19.1 575.9M54.2 537.8L53.9 542.9M89.9 576.4L80.3 581M67.8 550.8L66.5 560.3M122.9 557L108.3 563.5M36.5 516.6L23.9 517.2M34.5 548.7L41.4 555.2M94.6 503.4L100.9 504.9M31.9 561.2L24 572.4M118 516.8L109.3 525.7M10.9 546.7L18.7 560.6M16.8 554.7L18.1 560.4M42.3 561.5L40.7 576.5M30.4 548.6L35.9 558.5M62.8 528.5L59.2 534.5M55.1 519L53.7 532.7M110.2 574.1L114.8 576.7M34.1 514.4L41.3 526.9M37.8 526.3L30.5 527.6M119.9 519.1L110.2 527.5M106.3 514.6L110.7 526M37.5 551.9L28.7 552.9M114.8 560.3L115.7 565.5M36.4 508.2L32.1 513.5M11.2 554.5L19.2 556.7M69.6 553.7L79.4 556.5M47.6 545.3L58.2 550.5M64.7 548.4L70.6 549.6M95 500.5L100.5 501M72.5 544.3L78 556.3M27.7 556.7L38.9 559.8M20.3 504.5L13.5 510.2M34.4 543L21.2 551M99.9 527.7L88.7 530.9M17.9 536.8L25.8 549.9M107.7 527.9L113.1 530.5M98.4 580.7L96.7 588M68.4 525.6L75.7 537.9M62.9 570.9L77.4 577.2M45.8 532.2L52.2 534M99.4 521.1L89.8 524M25 513.5L29.9 528.2M14.2 506.5L14.6 513.7M105.3 515.2L94.3 515.5M61.4 558.3L60.3 565M91.2 581.7L96.6 594.6M45.8 522.2L34 529.1M12.1 547.9L9.3 555.3M75.4 495.7L77.3 511.4M97.4 531.1L99.6 537M20.8 539.1L25.6 542.6M41.9 561.5L43.2 571.5M83.6 502.6L87.3 510.1M31.9 565.8L27.7 580.7M58.2 508.3L55.8 520" stroke="#c8c8c8" stroke-width="0.9" stroke-opacity="0.75"/>
<path d="M117.1 554.2L118.7 561.8M79.2 499.2L86.9 508M99.9 517.1L92.7 522.3M60.9 544.4L68.7 544.8M48.9 580.2L57.4 588.2M100.1 513L92.3 518.7M74 577.1L82.3 590.9M11.2 573.8L24.7 580.1M99.8 530.3L91.6 539.2M29.9 546.3L37 560.2M62.1 559.3L47.9 561.9M54.4 560.6L46.7 565.4M5.1 516.9L18.5 524.5M60.8 544.5L67.6 552.5M104.8 511.6L114.5 521.4M33.9 527.2L27.9 528.4M26.8 496.2L31.2 499.8M54.5 565.8L51.1 574M48.5 529.1L52.2 533.4M69.6 519.7L54.1 522.1M82.8 566.1L84.5 575M78.7 523.7L64.9 524.1M80.9 517.7L80.5 526.4M80.2 520.4L66.8 520.5M19.9 556.1L19.2 567.3M38.4 500.3L36.7 508.9M71.4 528L61.9 538M110.6 540.1L103.1 542.2M88.8 573L83.9 574.4M85.4 573.3L92.1 577.1M56.3 507.2L62.9 520.7M109 522.7L111.6 529.5M68.4 550.4L63 558.6M65.3 530L59.5 532.1M26.2 560L26.4 570.1M28.1 528L17.1 535M104.8 500.1L98.5 501.7M60.2 559.5L58.2 569.8M92.2 532.5L91.3 537.6M18.3 544.6L24.1 545.9M22.8 539.3L35.5 549.5M117.3 522.6L116.2 537.6M52.9 574.9L53.4 587M74.3 562.8L75.6 572M99.3 510.4L113.9 512.3M112.7 520L113.5 530.7M16.8 506.2L12.7 509.3M88.5 536.8L78.5 541.3M46.1 506.8L59.1 508M41.9 499.6L52.2 501.5M91.3 495.4L81.3 504.7M5.6 527.6L17.1 532.9M27.3 587.1L20.7 589.3M115.1 537.9L115.9 544.3M95.9 511.4L82.1 519M33.8 564.4L31.3 575.9M114.7 570.2L120.9 579.9M27.3 545.5L34.2 549.3M15.4 526L8.1 526.5M111.8 516.2L103.4 527.6M43.2 557.4L55.9 567.3M55.4 512.5L48.8 519.8M108.2 567.7L105.6 575.6M54.5 574.9L56.2 582.9M63.5 573.1L56.6 580.2M65 502.2L57.8 506.3M71.2 507.1L70.8 512.6M69.8 550.9L72.8 562.4M84.6 582.5L93.2 592M72.3 536L78.7 539.3M96 505.3L100 510.8M49.2 554.3L47.2 564.7M90.4 556.4L83.5 558.4M117.5 535.9L117.7 550.4M18.9 520.2L18.2 525.6M53.4 508.9L37.1 510.9M72.9 567.6L60.7 579.4M115.3 540.3L102.2 549.4M98.1 521.1L100.1 537.3M10.8 510.3L10.7 517.3M18.6 547L22 554.2M45.6 513.8L49.1 519.3M92.4 546.9L88.9 555.9M120 517.9L114.9 533.9M110.7 561.6L122.4 565M80.6 538.3L90 541.7M107.3 550.2L111.4 554.8M30.8 498.6L47.1 500M83 576.9L83.8 585.5M25.6 501L32.9 512.2M29.5 524.6L35.3 525M111.6 563.3L119 567.7M67 515.7L52.6 521M96.6 556.8L102.4 565.8M76.1 576.1L70.1 577.7M85.9 533.8L83.9 544.5M83.4 585.2L79.4 590.2M73.9 534L89.3 538.2M90.9 572.8L98.3 585.5M54.5 553.3L52 564.4M17.1 553.5L22.5 554.7M42.3 553.7L39.9 563.6M97.1 531.8L88.1 534M11.2 548.9L21.8 550.1M115.2 524L109.7 530.4M35.8 535.4L25.3 546.2M61.9 498.6L59.3 513M59.6 572.7L75.6 574.2M87 559L94.9 564.3M67.6 507.3L70.8 522.9M83.1 529.7L70.5 531.2M77.7 545L79.4 557.3M13.1 533.1L7.1 547.3M111.3 571.5L106.7 578M41.4 540.8L30.3 546.3M48.5 520.3L55.2 528.3M75.7 502.6L77.1 509.3M18.2 535.7L23.2 537.9M95.3 554.5L84.2 565.1M73.5 544.9L61 545.2M20.9 528.1L18.3 538.7M61.2 512.3L60.7 518.2M32 497.6L43.7 507.3M68 565.2L69.3 579M116.1 566.8L108.2 569.4M108.8 541.3L96.3 541.5M23.6 586.7L32 590.6M16.4 534L21.5 534.8M22.8 526.9L20.1 533.6M106.5 546.9L103.2 552.5M26.9 564L18 570.6M31.1 536.4L25.2 542.8M39 560.2L52.8 564.6M42 525.6L48.6 530.4M25.5 504.8L22.4 510M21.9 578.3L29.5 592.2M71.2 580.6L68.6 592.7M113.6 535L113.9 541.9M22.7 544.9L18.5 547.8M74.3 573.8L57.3 574.5M49.5 541.3L64 546.6M71.3 563.3L59.2 565.2M125.1 588.8L110.4 590M22.1 513.9L38.3 516.8M10.1 546.4L16.9 557.3M32.1 584.5L22.1 588.8M55.3 505.4L43.7 517.7M12.4 567.1L18.7 579.9M86.4 571.2L81.1 574.2M68.4 512.4L63.8 516.2M17.8 501.2L11.9 503.5M50.1 587.1L44.5 587.6M49.6 534.5L41.3 542.3M51.7 511.7L38.3 522.1M55.5 515.2L54 521.8M27.6 550.9L30.6 556.8M108.4 522.8L94.8 532.8M15.8 538.5L21.8 547.8M9.4 542.9L15.6 552.8M99.4 570.2L91.2 585M20.9 554.8L30.5 559.1M14.6 583.5L21 587.4M91.3 542.9L97.6 548.8M32 543.1L31.9 551M70.1 536.4L64.7 539.7M96.9 511.1L110.3 512M49.1 538.3L55.3 539.1M8.7 541.1L11.6 548.6M102.7 567.2L98.7 571.9M10.5 541.2L13.7 547.9M34.6 561.2L33.4 576.2M90.4 520.1L80 525.5M102.5 514.9L92.6 524.8M97 561.2L110.3 566M25.8 520.8L20.9 523.4M101.3 511.4L106.5 512.8M87.3 570.8L78 576.2M60.6 509.1L52.9 520.2M26.4 509L21.9 524.4M76.1 578.9L86.5 579.7M44.1 570.9L35.9 585.4M117.1 542.7L116.6 551.2M107.1 503.3L110.9 509.9M31.5 582.3L21.8 586.2M64.9 551.3L59.5 553.2M16.2 519.3L22.9 528.5M17 546.4L10.6 556.2M69.2 531L69.3 547.7M67.5 511.6L54.9 516.6" stroke="#dcdcdc" stroke-width="1.3" stroke-opacity="0.75"/>
<path d="M99.1 524.4L95.1 529.9M78.8 557.6L86.9 564.3M57.2 562.5L45 564.8M101.2 529.1L101.9 540.7M32.4 541.3L43.4 545.2M98.3 522.7L108.5 524.6M57.5 561.4L70.8 561.7M62 572.1L61.1 577.2M63.8 550.7L62.5 558.5M38.9 500.9L35 507.1M20.9 560.5L21.7 575.3M56.3 583.4L47.5 586.9M70.4 544.8L80.5 555.5M9.1 580.9L14.3 586.6M33.2 583.1L31.1 592.3M18.8 565.8L19.3 578.8M13.4 510.7L23.3 524.4M112.8 496.4L114.6 503.5M90 545.4L98.2 553M73.5 547L87 556.2M32.7 580.7L19.4 588.2M66.3 544.7L75.7 557.4M86.3 529.6L93 535.7M123.3 508.6L111.8 518.5M69.6 546.2L80.2 549.7M115.9 559.9L117.8 570.3M99.7 544.4L99.1 549.8M27.3 571.9L26.4 579.5M56.5 515.9L51.1 524.3M34.6 556.9L37.9 570M34.8 571.4L44.8 574.5M10.7 537.9L13 548.2M92.4 493.6L92.7 502.7M108 571.4L112.6 575.6M114.9 526.6L119.5 530.9M21.4 521.4L26.8 522.3M34.4 527.7L23.6 533M25.5 500.2L21.6 504M113.6 520.3L107.4 525.7M62.8 549.5L68.8 551.6M45.9 543.9L48.3 559.9M55.8 533.9L43.8 540.6M36.8 532.6L29.4 539.3M92.8 554.8L106.4 555.5M91 589.5L98.9 590.3M111.7 564.1L108.8 570M41.1 546.1L31.1 551.4M34 574.6L34.8 584.3M31.8 506.1L19.9 509.1M14.1 536.5L23.5 537.1M62.8 535.4L57.2 549.3M40.5 579.8L31.3 593M62.4 565.3L57.2 575.8M38.3 511.4L27.8 516.4M83.2 549.4L98.8 552.9M98.5 501.8L92 504.4M77.1 565.4L84.2 568.6M83.3 504.7L78.4 516.5M26.1 516.9L19.9 517.2M97.5 546.3L91.8 547.2M104.9 578.4L112 582.7M53.5 574.5L62.6 579.5M28.3 517.2L37.3 524.3M41.8 524.6L55.7 532.2M42.4 540.3L47.9 540.5M110.8 564L95.3 566.1M56.3 569.8L51.7 578.3M13.5 500.5L10 509.6M105 504.1L116.1 505.7M66.9 586.8L73.5 588.6M79 566.9L76.3 575.1M20 571.1L20.6 583.4M66.2 541.2L65.8 551.1M56.9 559.2L50.7 566.7M24 567.5L41 567.7M91 581.8L94.3 592.5M110.6 563.8L117.7 569.2M78.5 546.7L85.9 555.4M32.6 510.2L23.3 511.7M21.5 500.8L26.7 506.1M25.1 562.2L21.4 573.6M87.8 531.4L102.5 533.4M68.3 543.2L67 549.2M67.9 529.9L57.6 530.7M79.8 534.9L80.9 540.3M30.5 582.2L43.2 587.2M110.3 573.3L111.6 586M105 527.5L103.8 539.1M86.6 574.2L81.1 588.1M82.5 566.1L79.7 575.3M80.9 523.4L73.6 526.2M36.5 576.7L44.7 581.5M28.7 518.8L37.8 529.3M92.1 518.4L97.3 528.9M111.4 544.9L110.9 550.4M40.2 527.2L39.7 538.2M70.9 493L80.4 505.8M99.6 571.5L113.1 580.3M31.2 554.5L34.7 568.9M100.5 526.7L103.7 533.1M106.6 539.6L116.2 539.8M90.3 544.1L78.8 555.9M38.3 530.9L45.3 532M67.8 519.7L53.4 523.3M34.3 553.1L20.2 558.7M68.3 541L70.3 550.4M29.8 562.9L36.2 564.3M10.6 521.5L22.3 524.5M75.6 528.2L81.7 542.2M67.7 584.9L59.7 594.4M19.8 547.5L17.7 556.4M91.5 499.3L95.3 505.2M56.7 543.7L60.5 549.1M24 531.2L33.3 541.1M13 498.3L29.8 499.5M94 518.1L88.4 530.3M12.1 568.3L20.7 576.7M69.9 572.6L68.6 578M98.4 589.6L105.7 589.8M64.5 541.1L49.8 548.3M100.8 500.7L101.1 510.7M68.9 507L61.6 512.8M93.7 534.9L94.7 542.5M92.1 506.6L88.8 519M66.2 501L53.8 506.8M48.6 517L45.8 530.3M112.7 567.8L111.8 581.8M46.2 581.5L41.7 597.7M67.4 505.3L79.5 511.4M97.6 519.6L81.5 520M40.9 572.2L47.9 574.6M114.1 545.1L121.6 556.5M75.7 550.7L67.8 559M17.8 528.9L25.1 544M32.1 542.2L26.1 544.3M55.2 539.7L69.6 547.1M83.4 551.9L92.6 560.5M32.9 506.3L18.2 507.7M106.3 501.1L110.8 504M69.6 531.3L70.4 537.1M31.5 539.9L26.1 542M42.8 519.2L50.4 528.3M46.7 567.9L48.2 575.3M60.4 538.3L56.3 547.3M73 535.9L79.2 549.9M16.3 567.1L12.6 570.9M80.3 543.4L85.5 554.3M30 568L23.1 569.9M19.1 542.3L11.6 542.6M14 496.6L25.1 507.9M116.6 583.2L119.4 588.9M32.7 571L36.7 579.5M81.5 501.3L77.7 514.6M26.1 507.4L32.3 521M98.5 567.5L96.7 579M119.5 567.6L114 573.9M104.7 525.8L107.1 542.2M78.5 504L82 514.7M114.7 530.1L114.3 541.7M100.9 538.9L102.2 554M11 502.5L16.5 503.5M16.1 584.4L14.7 591.1M51.2 532.8L61.2 537.1M24.4 573.7L14.8 575.9M16.1 555.3L12.8 561.8M85.9 556.6L95.1 568.2M50.9 527.9L47.3 539.3M88.4 567.2L76 575.1M49.4 540L39.1 540.5M81.3 578.8L79.7 592.7M96.6 575.4L93.3 591M38.1 584.9L35.4 590.3M50.1 528.8L44.4 529.9M89.9 507.3L94.6 513.9M18.2 541.7L18.7 550.1M84.2 570.7L84 579.2M78.3 587.4L92.4 587.8M25.5 564.2L26.1 573.8M9.9 535.2L18.1 536.2M64.8 530.7L59.4 538.9M94 497L107.3 499.6M19 582.5L12.4 590.6M54.9 525.2L57.3 533.7M24.7 503.8L37.8 507.8M45.2 562.2L53.6 575M86.3 522.1L78.3 526.4M41.8 504.6L46.2 510.5M86.2 494.8L94.6 502.6M88.1 581.8L76 586.6M8 533L14.3 535M40 569.7L43.9 585.9M106 528.5L99.1 539.7M67.1 524.5L62.4 533M108.2 575.4L96.4 576.7M73.5 567.1L77.9 570.3M24.6 579.4L10.8 586.6M54.6 556L67.9 557.8M27.1 580.1L25.3 593.1M98.8 543.8L113.3 544.8M48.9 562.8L45.8 575.2M13 525.8L24.5 532.9" stroke="#f0f0f0" stroke-width="1.0" stroke-opacity="0.75"/>
<path d="M93.5 568L100.4 576.7M106.8 570.8L107.1 580.5M11.1 555.4L22.8 565.5M108.3 576.2L105.1 580.3M23.9 575L14.6 576.5M82 501.8L76.5 513.9M90.3 569.7L86 575.1M43.6 532.6L44.9 537.4M29.3 570.4L31.3 577M41.4 543.1L46.9 543.9M63.5 546.2L62.5 559.9M88.5 509.5L76.7 521.6M37.7 538.2L45.8 539.4M63 550.5L47.2 556.2M116.7 505.5L108.7 511.3M86 511.1L88.1 519.8M17.3 523.6L17.2 539.9M55.6 570.2L50.4 570.2M114.9 557.2L111.4 563.7M33 573.1L26.3 577.2M97.9 522.8L94.7 534.4M108.9 581.2L119 583.3M29.2 514L18.2 520.9M53.8 565.6L55.1 575.2M107.6 498.1L100.3 499.1M83.3 505.2L72.7 507.1M19.3 535L26.1 548.8M93.6 532L98.6 547.6M17.2 526L19.2 532.4M9.4 493.7L10.9 504.4M64.5 570.3L77.4 573.3M112.5 528.5L123.1 530.6M35 528.1L40.1 530.2M5.7 549.3L16.8 554.7M57.5 549.3L67.8 557M91.7 533.7L101.9 537.9M13.9 534.2L14.3 547M106.6 574.3L100.3 576.6M21.3 563.3L24.6 567.8M32.1 530.6L21.7 539.9M81.7 538.1L90 545M121.2 568.3L106.7 571.2M119.9 566.2L110.2 574M85.6 579.7L80.4 583.8M17.3 550.6L20.7 558.6M121.7 547.3L113.1 553.7M52.2 510.5L54.7 522.4M23.8 504.4L36.1 504.7M112.9 506.2L108.8 510.2M100.7 541.2L94.5 541.7M69.4 567.1L79.1 577.7M84.5 557.9L88.2 564.5M60.3 524.6L66.3 525.9M124.5 566.5L109.7 574.2M24.5 545.3L8.2 547.3M32.5 533L45.5 534.1M24.8 567.7L31.2 573.5M88.1 569.7L87.5 584.1M33.8 557.6L26.1 566.3M84.2 575L83.8 580.6M21.1 552.7L14.5 562.8M44.1 518L36.8 522.8M47.3 508.2L36.9 513.1M14.9 575.6L25.1 576.4M14.3 519.5L19 522.2M97.3 573.3L88.8 579.8M27.6 536L16.2 544.9M90.6 528.9L87.8 539.4M64 540.1L74.6 540.6M83.2 498.5L92 505.2M45.7 512L51.1 520.6M54.8 523.9L65 534.9M115 525.4L118.3 535.9M55.7 526.7L52.5 531.9M88.5 501.4L94.2 515.2M42 505.7L45.1 519.5M70.4 507.8L65.8 520M111.4 578L107.5 587.5M101.9 568.2L96.7 569.7M58 534L54.9 542.8M49.3 565.6L52.1 570M50.4 505.9L61.3 507.5M51.1 544.4L61.6 548.4M76 541.2L80.1 546.1M40.4 578.1L40 589.3M68.9 553.9L70.9 561.4M18.4 543L12.7 549.4M26.1 523L28.9 532.2M58 517.5L63.4 533.3M89.4 523.5L80 531.4M92.7 536L85.1 550.9M7.7 501.8L24.4 502.4M29.6 560.8L32.7 572.5M29 549.3L14.7 554.2M40.8 571.3L36.8 575.8M78.5 543.3L88.7 547M16.7 575.5L14.5 582.8M55.9 535L65.9 537.5M78.3 528L71.5 528.3M71.1 510L70.3 515.5M29.9 535.8L16.4 536.8M94.8 530.8L103.6 531.5M86.6 501.5L98.6 503.2M82.9 503.9L89.6 504.8M12.6 527.2L17.6 532.3M91.7 574.8L86.6 584.5M68.2 508.8L65.9 525.4M121.2 552.2L113.7 565.9M106.7 583.6L113.5 591.8M50.4 543.5L42.7 550.6M29 498.2L40.2 500.5M104.6 507.2L100.1 512M67.1 588.5L81.6 588.5M58.8 557.5L66.6 568.9M46.8 525.6L42.5 530.4M61 551.8L54.6 555.4M90.2 514.4L100 518.9M37.1 534.2L41 547M39.1 517.3L33.9 527.5M99.8 578.8L110.2 586M48.9 565.4L41.2 574.4M78 528.1L87.7 532.4M37.7 536.3L44.9 543.7M22.7 525.7L11.3 529M94.8 577.4L93.2 585.9M92.5 585.4L77.9 589.5M114.7 505.8L108.4 510.7M102.4 562.6L106 569.3M103.8 559.8L111.5 572.4M80.1 567.4L83.7 574.8M31.6 563.7L38.6 572.1M16.8 569.9L7.8 580M79.9 506.6L69.1 508.4M111.4 549.3L108.2 556.3M115.6 575.5L103.6 577.2M91.5 523.8L77.2 523.9M97.9 570.4L94.3 576.5M100.2 574.6L110.6 578.7M66 536.5L75.1 537.7M41.4 506.3L51 510.6M113.7 581.6L108.2 585.1M26.2 556.6L16.3 557.1M46.9 501.3L55.9 504.9M86.1 580.4L98.1 584.3M47.7 549.9L54.2 560.1M67.2 530.5L55.9 532.7M19.6 566.7L13.8 578.8M8.6 557.5L15.3 562.2M90.4 550.7L99.5 558.2M24 522L21.7 531.8M83 546.7L75.9 558M18.2 514.8L19.8 524.3M80.3 576.4L88.6 585.3M25.8 522.5L11.1 526.7M102.5 539.6L111.8 551.1M61.5 584L65.1 591.8M44.9 554.6L32.3 560.2M18.7 567.6L6.1 575.6M34.6 500L36.4 514.4M98.1 575.8L94.3 579.2M50 531L47.7 541.3M59 511.3L67 515M19.9 515.2L6.9 517.1M55.7 508L61.1 518.4M109.9 538.5L113.3 552.4M108 550.4L99.1 558.5M87.5 550.5L91.3 564.2M93.8 579.1L93.8 590.3M9.9 547.8L24.6 548.2M67.9 501.6L67.4 514.5M56.5 539.8L67 550.7M73.6 571.8L68.3 574.1M68.2 504.9L78.3 513.9M15.2 507.2L18.9 515.3M112.3 556.8L107.8 572.2M26.1 516.1L33.5 517.3M30 537.8L25.8 543.8M46 510.4L39 519.4M98.8 522.4L100.8 539.2M90.2 503.2L99.3 513M17.8 582.8L26.1 586.6M10.6 493.1L9.8 503.6M51.5 545.1L39.2 549.3M72.6 554.7L73.8 567.9M21.9 519.7L20.1 535.9M69.5 569.8L72.1 575.3M74 538.4L66.6 541.5M20.7 546.3L16.8 550.6M66.5 529.2L53.7 534.2M68.5 574.6L62 583.7M16.3 569L24.9 580.3M59.3 514.3L61.7 525.4M10.1 560.6L10.5 565.7M48.2 575L51.2 587.4M100.2 559.7L98 565.3M95.4 503.5L109.6 510.9M64.2 578L67.9 590.3M28 579.8L38.7 589.9M56.9 514.9L66.2 523.4M19.5 509.1L13.5 513.1M91.9 505.1L86.7 512.3M14.8 530.5L23.7 534M99.9 504.4L84.6 510.5M10 545.3L23.7 546.2M9.5 500.7L12.1 515.2M45.5 560.2L37 561.8M30.4 502.9L29.6 511.2" stroke="#ffffff" stroke-width="1.5" stroke-opacity="0.75"/>
</g>
<mask id="mnNi" maskUnits="userSpaceOnUse" x="113.2" y="490" width="112" height="100"><path d="M137 501.5 L142.2 506.7 L156.8 510.9 L167.3 515.1 L177.7 521.4 L190.3 522.4 L202.8 523.5 L209.1 521.4 L211.2 531.8 L213.3 542.3 L216.4 552.7 L218.5 565.3 L215.4 573.6 L207 580 L198.6 584 L190.3 585.1 L184 582 L175.6 575.7 L167.3 569.4 L156.8 562.1 L148.5 554.8 L140.1 544.4 L133.8 536 L126.5 525.5 L123.4 517.2 L126.5 509.9 L131.7 504.6Z" fill="#fff" filter="url(#mblur)"/></mask>
<g mask="url(#mnNi)"><rect x="116.2" y="496" width="108" height="94" fill="#aca420" filter="url(#nNi)"/></g>
<mask id="mnFe" maskUnits="userSpaceOnUse" x="221.3" y="490" width="112" height="100"><path d="M245.1 501.5 L250.3 506.7 L264.9 510.9 L275.4 515.1 L285.8 521.4 L298.4 522.4 L310.9 523.5 L317.2 521.4 L319.3 531.8 L321.4 542.3 L324.5 552.7 L326.6 565.3 L323.5 573.6 L315.1 580 L306.7 584 L298.4 585.1 L292.1 582 L283.7 575.7 L275.4 569.4 L264.9 562.1 L256.6 554.8 L248.2 544.4 L241.9 536 L234.6 525.5 L231.5 517.2 L234.6 509.9 L239.8 504.6Z" fill="#fff" filter="url(#mblur)"/></mask>
<g mask="url(#mnFe)"><rect x="224.3" y="496" width="108" height="94" fill="#1c9ca0" filter="url(#nFe)"/></g>
<mask id="mnTi" maskUnits="userSpaceOnUse" x="328.9" y="490" width="112" height="100"><path d="M352.7 501.5 L357.9 506.7 L372.5 510.9 L383 515.1 L393.4 521.4 L406 522.4 L418.5 523.5 L424.8 521.4 L426.9 531.8 L429 542.3 L432.1 552.7 L434.2 565.3 L431.1 573.6 L422.7 580 L414.3 584 L406 585.1 L399.7 582 L391.3 575.7 L383 569.4 L372.5 562.1 L364.2 554.8 L355.8 544.4 L349.5 536 L342.2 525.5 L339.1 517.2 L342.2 509.9 L347.4 504.6Z" fill="#fff" filter="url(#mblur)"/></mask>
<g mask="url(#mnTi)"><rect x="331.9" y="496" width="108" height="94" fill="#a01aa0" filter="url(#nTi)"/></g>
<mask id="mnN" maskUnits="userSpaceOnUse" x="436.5" y="490" width="112" height="100"><path d="M460.3 501.5 L465.5 506.7 L480.1 510.9 L490.6 515.1 L501 521.4 L513.6 522.4 L526.1 523.5 L532.4 521.4 L534.5 531.8 L536.6 542.3 L539.7 552.7 L541.8 565.3 L538.7 573.6 L530.3 580 L521.9 584 L513.6 585.1 L507.3 582 L498.9 575.7 L490.6 569.4 L480.1 562.1 L471.8 554.8 L463.4 544.4 L457.1 536 L449.8 525.5 L446.7 517.2 L449.8 509.9 L455 504.6Z" fill="#fff" filter="url(#mblur)"/></mask>
<g mask="url(#mnN)"><rect x="439.5" y="496" width="108" height="94" fill="#22a01e" filter="url(#nN)"/></g>
<text class="w" x="8.6" y="496.3" font-size="17.4" font-weight="bold" fill="#fff">(i)</text>
<text class="w" x="116" y="494.3" font-size="12.2" font-weight="bold" fill="#fff">Ni</text>
<text class="w" x="224.2" y="494.3" font-size="12.2" font-weight="bold" fill="#fff">Fe</text>
<text class="w" x="331.7" y="494.3" font-size="12.2" font-weight="bold" fill="#fff">Ti</text>
<text class="w" x="438.9" y="494.3" font-size="12.2" font-weight="bold" fill="#fff">N</text>
<text class="w" x="9.5" y="582.6" font-size="6.1" font-weight="bold" fill="#fff">500 nm</text>
<rect x="9.5" y="583.8" width="19" height="1.1" fill="#fff"/>
<text class="w" x="117.7" y="582.6" font-size="6.1" font-weight="bold" fill="#fff">500 nm</text>
<rect x="117.7" y="583.8" width="19" height="1.1" fill="#fff"/>
<text class="w" x="224.7" y="582.6" font-size="6.1" font-weight="bold" fill="#fff">500 nm</text>
<rect x="224.7" y="583.8" width="19" height="1.1" fill="#fff"/>
<text class="w" x="331.5" y="582.6" font-size="6.1" font-weight="bold" fill="#fff">500 nm</text>
<rect x="331.5" y="583.8" width="19" height="1.1" fill="#fff"/>
<text class="w" x="437.7" y="582.6" font-size="6.1" font-weight="bold" fill="#fff">500 nm</text>
<rect x="437.7" y="583.8" width="19" height="1.1" fill="#fff"/>
</svg>
</body></html>
